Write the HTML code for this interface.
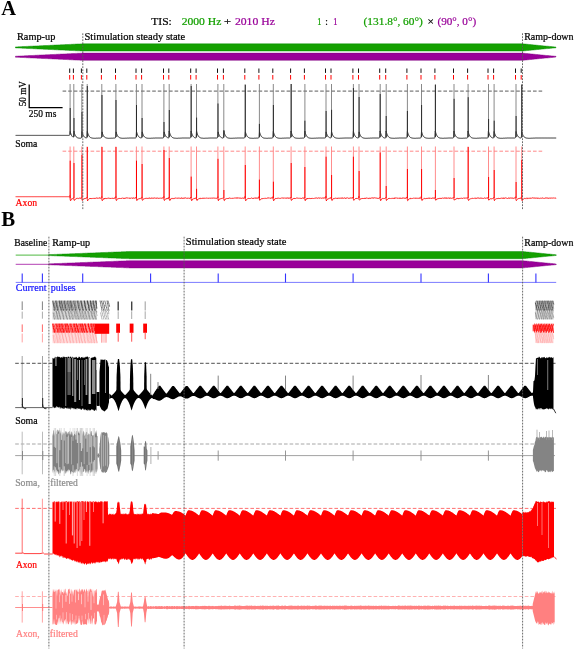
<!DOCTYPE html>
<html><head><meta charset="utf-8"><title>TIS figure</title>
<style>
html,body{margin:0;padding:0;background:#fff;}
body{width:575px;height:649px;overflow:hidden;}
svg{display:block;font-family:'Liberation Serif', serif;}
</style></head>
<body>
<svg width="575" height="649" viewBox="0 0 575 649">
<rect width="575" height="649" fill="#fff"/>
<text x="1.2" y="14.7" font-size="20" fill="#000" textLength="14.8" lengthAdjust="spacingAndGlyphs" font-weight="bold" >A</text>
<text x="151.3" y="25.3" font-size="11" fill="#000" stroke="#000" stroke-width="0.22" textLength="20.5" lengthAdjust="spacingAndGlyphs" >TIS:</text>
<text x="181.7" y="25.3" font-size="11" fill="#14a000" stroke="#14a000" stroke-width="0.22" textLength="39.7" lengthAdjust="spacingAndGlyphs" >2000 Hz</text>
<text x="224" y="25.3" font-size="11" fill="#000" stroke="#000" stroke-width="0.22" textLength="7" lengthAdjust="spacingAndGlyphs" >+</text>
<text x="234.9" y="25.3" font-size="11" fill="#990099" stroke="#990099" stroke-width="0.22" textLength="40" lengthAdjust="spacingAndGlyphs" >2010 Hz</text>
<text x="317.3" y="25.3" font-size="11" fill="#14a000" stroke="#14a000" stroke-width="0.22" textLength="4.2" lengthAdjust="spacingAndGlyphs" >1</text>
<text x="325.2" y="25.3" font-size="11" fill="#000" stroke="#000" stroke-width="0.22" textLength="2.6" lengthAdjust="spacingAndGlyphs" >:</text>
<text x="333.2" y="25.3" font-size="11" fill="#990099" stroke="#990099" stroke-width="0.22" textLength="4.2" lengthAdjust="spacingAndGlyphs" >1</text>
<text x="363.6" y="25.3" font-size="11" fill="#14a000" stroke="#14a000" stroke-width="0.22" textLength="59.2" lengthAdjust="spacingAndGlyphs" >(131.8°, 60°)</text>
<text x="427.4" y="25.3" font-size="11" fill="#000" stroke="#000" stroke-width="0.22" textLength="6.4" lengthAdjust="spacingAndGlyphs" >×</text>
<text x="437.5" y="25.3" font-size="11" fill="#990099" stroke="#990099" stroke-width="0.22" textLength="38.6" lengthAdjust="spacingAndGlyphs" >(90°, 0°)</text>
<text x="17" y="39.8" font-size="10.4" fill="#000" stroke="#000" stroke-width="0.22" textLength="38.3" lengthAdjust="spacingAndGlyphs" >Ramp-up</text>
<text x="84.5" y="39.5" font-size="10.4" fill="#000" stroke="#000" stroke-width="0.22" textLength="100.7" lengthAdjust="spacingAndGlyphs" >Stimulation steady state</text>
<text x="524.2" y="39.8" font-size="10.4" fill="#000" stroke="#000" stroke-width="0.22" textLength="49.4" lengthAdjust="spacingAndGlyphs" >Ramp-down</text>
<path d="M15.5,46.9 16,46.9 16.5,46.9 17,46.9 17.5,46.9 18,46.8 18.5,46.8 19,46.8 19.5,46.8 20,46.7 20.5,46.7 21,46.7 21.5,46.7 22,46.6 22.5,46.6 23,46.6 23.5,46.6 24,46.6 24.5,46.5 25,46.5 25.5,46.5 26,46.5 26.5,46.4 27,46.4 27.5,46.4 28,46.4 28.5,46.3 29,46.3 29.5,46.3 30,46.3 30.5,46.2 31,46.2 31.5,46.2 32,46.2 32.5,46.2 33,46.1 33.5,46.1 34,46.1 34.5,46.1 35,46 35.5,46 36,46 36.5,46 37,45.9 37.5,45.9 38,45.9 38.5,45.9 39,45.9 39.5,45.8 40,45.8 40.5,45.8 41,45.8 41.5,45.7 42,45.7 42.5,45.7 43,45.7 43.5,45.6 44,45.6 44.5,45.6 45,45.6 45.5,45.5 46,45.5 46.5,45.5 47,45.5 47.5,45.5 48,45.4 48.5,45.4 49,45.4 49.5,45.4 50,45.3 50.5,45.3 51,45.3 51.5,45.3 52,45.2 52.5,45.2 53,45.2 53.5,45.2 54,45.1 54.5,45.1 55,45.1 55.5,45.1 56,45.1 56.5,45 57,45 57.5,45 58,45 58.5,44.9 59,44.9 59.5,44.9 60,44.9 60.5,44.8 61,44.8 61.5,44.8 62,44.8 62.5,44.8 63,44.7 63.5,44.7 64,44.7 64.5,44.7 65,44.6 65.5,44.6 66,44.6 66.5,44.6 67,44.5 67.5,44.5 68,44.5 68.5,44.5 69,44.4 69.5,44.4 70,44.4 70.5,44.4 71,44.4 71.5,44.3 72,44.3 72.5,44.3 73,44.3 73.5,44.2 74,44.2 74.5,44.2 75,44.2 75.5,44.1 76,44.1 76.5,44.1 77,44.1 77.5,44 78,44 78.5,44 79,44 79.5,44 80,43.9 80.5,43.9 81,43.9 81.5,43.9 82,43.8 82.5,43.8 83,43.8 83.5,43.8 84,43.8 84.5,43.8 85,43.8 85.5,43.8 86,43.8 86.5,43.8 87,43.8 87.5,43.8 88,43.8 88.5,43.8 89,43.8 89.5,43.8 90,43.8 90.5,43.8 91,43.8 91.5,43.8 92,43.8 92.5,43.8 93,43.8 93.5,43.8 94,43.8 94.5,43.8 95,43.8 95.5,43.8 96,43.8 96.5,43.8 97,43.8 97.5,43.8 98,43.8 98.5,43.8 99,43.8 99.5,43.8 100,43.8 100.5,43.8 101,43.8 101.5,43.8 102,43.8 102.5,43.8 103,43.8 103.5,43.8 104,43.8 104.5,43.8 105,43.8 105.5,43.8 106,43.8 106.5,43.8 107,43.8 107.5,43.8 108,43.8 108.5,43.8 109,43.8 109.5,43.8 110,43.8 110.5,43.8 111,43.8 111.5,43.8 112,43.8 112.5,43.8 113,43.8 113.5,43.8 114,43.8 114.5,43.8 115,43.8 115.5,43.8 116,43.8 116.5,43.8 117,43.8 117.5,43.8 118,43.8 118.5,43.8 119,43.8 119.5,43.8 120,43.8 120.5,43.8 121,43.8 121.5,43.8 122,43.8 122.5,43.8 123,43.8 123.5,43.8 124,43.8 124.5,43.8 125,43.8 125.5,43.8 126,43.8 126.5,43.8 127,43.8 127.5,43.8 128,43.8 128.5,43.8 129,43.8 129.5,43.8 130,43.8 130.5,43.8 131,43.8 131.5,43.8 132,43.8 132.5,43.8 133,43.8 133.5,43.8 134,43.8 134.5,43.8 135,43.8 135.5,43.8 136,43.8 136.5,43.8 137,43.8 137.5,43.8 138,43.8 138.5,43.8 139,43.8 139.5,43.8 140,43.8 140.5,43.8 141,43.8 141.5,43.8 142,43.8 142.5,43.8 143,43.8 143.5,43.8 144,43.8 144.5,43.8 145,43.8 145.5,43.8 146,43.8 146.5,43.8 147,43.8 147.5,43.8 148,43.8 148.5,43.8 149,43.8 149.5,43.8 150,43.8 150.5,43.8 151,43.8 151.5,43.8 152,43.8 152.5,43.8 153,43.8 153.5,43.8 154,43.8 154.5,43.8 155,43.8 155.5,43.8 156,43.8 156.5,43.8 157,43.8 157.5,43.8 158,43.8 158.5,43.8 159,43.8 159.5,43.8 160,43.8 160.5,43.8 161,43.8 161.5,43.8 162,43.8 162.5,43.8 163,43.8 163.5,43.8 164,43.8 164.5,43.8 165,43.8 165.5,43.8 166,43.8 166.5,43.8 167,43.8 167.5,43.8 168,43.8 168.5,43.8 169,43.8 169.5,43.8 170,43.8 170.5,43.8 171,43.8 171.5,43.8 172,43.8 172.5,43.8 173,43.8 173.5,43.8 174,43.8 174.5,43.8 175,43.8 175.5,43.8 176,43.8 176.5,43.8 177,43.8 177.5,43.8 178,43.8 178.5,43.8 179,43.8 179.5,43.8 180,43.8 180.5,43.8 181,43.8 181.5,43.8 182,43.8 182.5,43.8 183,43.8 183.5,43.8 184,43.8 184.5,43.8 185,43.8 185.5,43.8 186,43.8 186.5,43.8 187,43.8 187.5,43.8 188,43.8 188.5,43.8 189,43.8 189.5,43.8 190,43.8 190.5,43.8 191,43.8 191.5,43.8 192,43.8 192.5,43.8 193,43.8 193.5,43.8 194,43.8 194.5,43.8 195,43.8 195.5,43.8 196,43.8 196.5,43.8 197,43.8 197.5,43.8 198,43.8 198.5,43.8 199,43.8 199.5,43.8 200,43.8 200.5,43.8 201,43.8 201.5,43.8 202,43.8 202.5,43.8 203,43.8 203.5,43.8 204,43.8 204.5,43.8 205,43.8 205.5,43.8 206,43.8 206.5,43.8 207,43.8 207.5,43.8 208,43.8 208.5,43.8 209,43.8 209.5,43.8 210,43.8 210.5,43.8 211,43.8 211.5,43.8 212,43.8 212.5,43.8 213,43.8 213.5,43.8 214,43.8 214.5,43.8 215,43.8 215.5,43.8 216,43.8 216.5,43.8 217,43.8 217.5,43.8 218,43.8 218.5,43.8 219,43.8 219.5,43.8 220,43.8 220.5,43.8 221,43.8 221.5,43.8 222,43.8 222.5,43.8 223,43.8 223.5,43.8 224,43.8 224.5,43.8 225,43.8 225.5,43.8 226,43.8 226.5,43.8 227,43.8 227.5,43.8 228,43.8 228.5,43.8 229,43.8 229.5,43.8 230,43.8 230.5,43.8 231,43.8 231.5,43.8 232,43.8 232.5,43.8 233,43.8 233.5,43.8 234,43.8 234.5,43.8 235,43.8 235.5,43.8 236,43.8 236.5,43.8 237,43.8 237.5,43.8 238,43.8 238.5,43.8 239,43.8 239.5,43.8 240,43.8 240.5,43.8 241,43.8 241.5,43.8 242,43.8 242.5,43.8 243,43.8 243.5,43.8 244,43.8 244.5,43.8 245,43.8 245.5,43.8 246,43.8 246.5,43.8 247,43.8 247.5,43.8 248,43.8 248.5,43.8 249,43.8 249.5,43.8 250,43.8 250.5,43.8 251,43.8 251.5,43.8 252,43.8 252.5,43.8 253,43.8 253.5,43.8 254,43.8 254.5,43.8 255,43.8 255.5,43.8 256,43.8 256.5,43.8 257,43.8 257.5,43.8 258,43.8 258.5,43.8 259,43.8 259.5,43.8 260,43.8 260.5,43.8 261,43.8 261.5,43.8 262,43.8 262.5,43.8 263,43.8 263.5,43.8 264,43.8 264.5,43.8 265,43.8 265.5,43.8 266,43.8 266.5,43.8 267,43.8 267.5,43.8 268,43.8 268.5,43.8 269,43.8 269.5,43.8 270,43.8 270.5,43.8 271,43.8 271.5,43.8 272,43.8 272.5,43.8 273,43.8 273.5,43.8 274,43.8 274.5,43.8 275,43.8 275.5,43.8 276,43.8 276.5,43.8 277,43.8 277.5,43.8 278,43.8 278.5,43.8 279,43.8 279.5,43.8 280,43.8 280.5,43.8 281,43.8 281.5,43.8 282,43.8 282.5,43.8 283,43.8 283.5,43.8 284,43.8 284.5,43.8 285,43.8 285.5,43.8 286,43.8 286.5,43.8 287,43.8 287.5,43.8 288,43.8 288.5,43.8 289,43.8 289.5,43.8 290,43.8 290.5,43.8 291,43.8 291.5,43.8 292,43.8 292.5,43.8 293,43.8 293.5,43.8 294,43.8 294.5,43.8 295,43.8 295.5,43.8 296,43.8 296.5,43.8 297,43.8 297.5,43.8 298,43.8 298.5,43.8 299,43.8 299.5,43.8 300,43.8 300.5,43.8 301,43.8 301.5,43.8 302,43.8 302.5,43.8 303,43.8 303.5,43.8 304,43.8 304.5,43.8 305,43.8 305.5,43.8 306,43.8 306.5,43.8 307,43.8 307.5,43.8 308,43.8 308.5,43.8 309,43.8 309.5,43.8 310,43.8 310.5,43.8 311,43.8 311.5,43.8 312,43.8 312.5,43.8 313,43.8 313.5,43.8 314,43.8 314.5,43.8 315,43.8 315.5,43.8 316,43.8 316.5,43.8 317,43.8 317.5,43.8 318,43.8 318.5,43.8 319,43.8 319.5,43.8 320,43.8 320.5,43.8 321,43.8 321.5,43.8 322,43.8 322.5,43.8 323,43.8 323.5,43.8 324,43.8 324.5,43.8 325,43.8 325.5,43.8 326,43.8 326.5,43.8 327,43.8 327.5,43.8 328,43.8 328.5,43.8 329,43.8 329.5,43.8 330,43.8 330.5,43.8 331,43.8 331.5,43.8 332,43.8 332.5,43.8 333,43.8 333.5,43.8 334,43.8 334.5,43.8 335,43.8 335.5,43.8 336,43.8 336.5,43.8 337,43.8 337.5,43.8 338,43.8 338.5,43.8 339,43.8 339.5,43.8 340,43.8 340.5,43.8 341,43.8 341.5,43.8 342,43.8 342.5,43.8 343,43.8 343.5,43.8 344,43.8 344.5,43.8 345,43.8 345.5,43.8 346,43.8 346.5,43.8 347,43.8 347.5,43.8 348,43.8 348.5,43.8 349,43.8 349.5,43.8 350,43.8 350.5,43.8 351,43.8 351.5,43.8 352,43.8 352.5,43.8 353,43.8 353.5,43.8 354,43.8 354.5,43.8 355,43.8 355.5,43.8 356,43.8 356.5,43.8 357,43.8 357.5,43.8 358,43.8 358.5,43.8 359,43.8 359.5,43.8 360,43.8 360.5,43.8 361,43.8 361.5,43.8 362,43.8 362.5,43.8 363,43.8 363.5,43.8 364,43.8 364.5,43.8 365,43.8 365.5,43.8 366,43.8 366.5,43.8 367,43.8 367.5,43.8 368,43.8 368.5,43.8 369,43.8 369.5,43.8 370,43.8 370.5,43.8 371,43.8 371.5,43.8 372,43.8 372.5,43.8 373,43.8 373.5,43.8 374,43.8 374.5,43.8 375,43.8 375.5,43.8 376,43.8 376.5,43.8 377,43.8 377.5,43.8 378,43.8 378.5,43.8 379,43.8 379.5,43.8 380,43.8 380.5,43.8 381,43.8 381.5,43.8 382,43.8 382.5,43.8 383,43.8 383.5,43.8 384,43.8 384.5,43.8 385,43.8 385.5,43.8 386,43.8 386.5,43.8 387,43.8 387.5,43.8 388,43.8 388.5,43.8 389,43.8 389.5,43.8 390,43.8 390.5,43.8 391,43.8 391.5,43.8 392,43.8 392.5,43.8 393,43.8 393.5,43.8 394,43.8 394.5,43.8 395,43.8 395.5,43.8 396,43.8 396.5,43.8 397,43.8 397.5,43.8 398,43.8 398.5,43.8 399,43.8 399.5,43.8 400,43.8 400.5,43.8 401,43.8 401.5,43.8 402,43.8 402.5,43.8 403,43.8 403.5,43.8 404,43.8 404.5,43.8 405,43.8 405.5,43.8 406,43.8 406.5,43.8 407,43.8 407.5,43.8 408,43.8 408.5,43.8 409,43.8 409.5,43.8 410,43.8 410.5,43.8 411,43.8 411.5,43.8 412,43.8 412.5,43.8 413,43.8 413.5,43.8 414,43.8 414.5,43.8 415,43.8 415.5,43.8 416,43.8 416.5,43.8 417,43.8 417.5,43.8 418,43.8 418.5,43.8 419,43.8 419.5,43.8 420,43.8 420.5,43.8 421,43.8 421.5,43.8 422,43.8 422.5,43.8 423,43.8 423.5,43.8 424,43.8 424.5,43.8 425,43.8 425.5,43.8 426,43.8 426.5,43.8 427,43.8 427.5,43.8 428,43.8 428.5,43.8 429,43.8 429.5,43.8 430,43.8 430.5,43.8 431,43.8 431.5,43.8 432,43.8 432.5,43.8 433,43.8 433.5,43.8 434,43.8 434.5,43.8 435,43.8 435.5,43.8 436,43.8 436.5,43.8 437,43.8 437.5,43.8 438,43.8 438.5,43.8 439,43.8 439.5,43.8 440,43.8 440.5,43.8 441,43.8 441.5,43.8 442,43.8 442.5,43.8 443,43.8 443.5,43.8 444,43.8 444.5,43.8 445,43.8 445.5,43.8 446,43.8 446.5,43.8 447,43.8 447.5,43.8 448,43.8 448.5,43.8 449,43.8 449.5,43.8 450,43.8 450.5,43.8 451,43.8 451.5,43.8 452,43.8 452.5,43.8 453,43.8 453.5,43.8 454,43.8 454.5,43.8 455,43.8 455.5,43.8 456,43.8 456.5,43.8 457,43.8 457.5,43.8 458,43.8 458.5,43.8 459,43.8 459.5,43.8 460,43.8 460.5,43.8 461,43.8 461.5,43.8 462,43.8 462.5,43.8 463,43.8 463.5,43.8 464,43.8 464.5,43.8 465,43.8 465.5,43.8 466,43.8 466.5,43.8 467,43.8 467.5,43.8 468,43.8 468.5,43.8 469,43.8 469.5,43.8 470,43.8 470.5,43.8 471,43.8 471.5,43.8 472,43.8 472.5,43.8 473,43.8 473.5,43.8 474,43.8 474.5,43.8 475,43.8 475.5,43.8 476,43.8 476.5,43.8 477,43.8 477.5,43.8 478,43.8 478.5,43.8 479,43.8 479.5,43.8 480,43.8 480.5,43.8 481,43.8 481.5,43.8 482,43.8 482.5,43.8 483,43.8 483.5,43.8 484,43.8 484.5,43.8 485,43.8 485.5,43.8 486,43.8 486.5,43.8 487,43.8 487.5,43.8 488,43.8 488.5,43.8 489,43.8 489.5,43.8 490,43.8 490.5,43.8 491,43.8 491.5,43.8 492,43.8 492.5,43.8 493,43.8 493.5,43.8 494,43.8 494.5,43.8 495,43.8 495.5,43.8 496,43.8 496.5,43.8 497,43.8 497.5,43.8 498,43.8 498.5,43.8 499,43.8 499.5,43.8 500,43.8 500.5,43.8 501,43.8 501.5,43.8 502,43.8 502.5,43.8 503,43.8 503.5,43.8 504,43.8 504.5,43.8 505,43.8 505.5,43.8 506,43.8 506.5,43.8 507,43.8 507.5,43.8 508,43.8 508.5,43.8 509,43.8 509.5,43.8 510,43.8 510.5,43.8 511,43.8 511.5,43.8 512,43.8 512.5,43.8 513,43.8 513.5,43.8 514,43.8 514.5,43.8 515,43.8 515.5,43.8 516,43.8 516.5,43.8 517,43.8 517.5,43.8 518,43.8 518.5,43.8 519,43.8 519.5,43.8 520,43.8 520.5,43.8 521,43.8 521.5,43.8 522,43.8 522.5,43.8 523,43.8 523.5,43.9 524,43.9 524.5,44 525,44 525.5,44.1 526,44.1 526.5,44.2 527,44.2 527.5,44.3 528,44.3 528.5,44.4 529,44.4 529.5,44.5 530,44.5 530.5,44.6 531,44.6 531.5,44.7 532,44.7 532.5,44.8 533,44.8 533.5,44.9 534,44.9 534.5,45 535,45 535.5,45.1 536,45.1 536.5,45.2 537,45.2 537.5,45.3 538,45.3 538.5,45.4 539,45.4 539.5,45.5 540,45.5 540.5,45.6 541,45.6 541.5,45.7 542,45.7 542.5,45.8 543,45.8 543.5,45.9 544,45.9 544.5,46 545,46 545.5,46.1 546,46.1 546.5,46.2 547,46.2 547.5,46.2 548,46.3 548.5,46.3 549,46.4 549.5,46.4 550,46.5 550.5,46.5 551,46.6 551.5,46.6 552,46.7 552.5,46.7 553,46.8 553.5,46.8 554,46.9 554.5,46.9 555,47 555.5,47 556,47.1 556,47.7 555.5,47.8 555,47.8 554.5,47.9 554,47.9 553.5,48 553,48 552.5,48.1 552,48.1 551.5,48.2 551,48.2 550.5,48.3 550,48.3 549.5,48.4 549,48.4 548.5,48.5 548,48.5 547.5,48.6 547,48.6 546.5,48.6 546,48.7 545.5,48.7 545,48.8 544.5,48.8 544,48.9 543.5,48.9 543,49 542.5,49 542,49.1 541.5,49.1 541,49.2 540.5,49.2 540,49.3 539.5,49.3 539,49.4 538.5,49.4 538,49.5 537.5,49.5 537,49.6 536.5,49.6 536,49.7 535.5,49.7 535,49.8 534.5,49.8 534,49.9 533.5,49.9 533,50 532.5,50 532,50.1 531.5,50.1 531,50.2 530.5,50.2 530,50.3 529.5,50.3 529,50.4 528.5,50.4 528,50.5 527.5,50.5 527,50.6 526.5,50.6 526,50.7 525.5,50.7 525,50.8 524.5,50.8 524,50.9 523.5,50.9 523,51 522.5,51 522,51 521.5,51 521,51 520.5,51 520,51 519.5,51 519,51 518.5,51 518,51 517.5,51 517,51 516.5,51 516,51 515.5,51 515,51 514.5,51 514,51 513.5,51 513,51 512.5,51 512,51 511.5,51 511,51 510.5,51 510,51 509.5,51 509,51 508.5,51 508,51 507.5,51 507,51 506.5,51 506,51 505.5,51 505,51 504.5,51 504,51 503.5,51 503,51 502.5,51 502,51 501.5,51 501,51 500.5,51 500,51 499.5,51 499,51 498.5,51 498,51 497.5,51 497,51 496.5,51 496,51 495.5,51 495,51 494.5,51 494,51 493.5,51 493,51 492.5,51 492,51 491.5,51 491,51 490.5,51 490,51 489.5,51 489,51 488.5,51 488,51 487.5,51 487,51 486.5,51 486,51 485.5,51 485,51 484.5,51 484,51 483.5,51 483,51 482.5,51 482,51 481.5,51 481,51 480.5,51 480,51 479.5,51 479,51 478.5,51 478,51 477.5,51 477,51 476.5,51 476,51 475.5,51 475,51 474.5,51 474,51 473.5,51 473,51 472.5,51 472,51 471.5,51 471,51 470.5,51 470,51 469.5,51 469,51 468.5,51 468,51 467.5,51 467,51 466.5,51 466,51 465.5,51 465,51 464.5,51 464,51 463.5,51 463,51 462.5,51 462,51 461.5,51 461,51 460.5,51 460,51 459.5,51 459,51 458.5,51 458,51 457.5,51 457,51 456.5,51 456,51 455.5,51 455,51 454.5,51 454,51 453.5,51 453,51 452.5,51 452,51 451.5,51 451,51 450.5,51 450,51 449.5,51 449,51 448.5,51 448,51 447.5,51 447,51 446.5,51 446,51 445.5,51 445,51 444.5,51 444,51 443.5,51 443,51 442.5,51 442,51 441.5,51 441,51 440.5,51 440,51 439.5,51 439,51 438.5,51 438,51 437.5,51 437,51 436.5,51 436,51 435.5,51 435,51 434.5,51 434,51 433.5,51 433,51 432.5,51 432,51 431.5,51 431,51 430.5,51 430,51 429.5,51 429,51 428.5,51 428,51 427.5,51 427,51 426.5,51 426,51 425.5,51 425,51 424.5,51 424,51 423.5,51 423,51 422.5,51 422,51 421.5,51 421,51 420.5,51 420,51 419.5,51 419,51 418.5,51 418,51 417.5,51 417,51 416.5,51 416,51 415.5,51 415,51 414.5,51 414,51 413.5,51 413,51 412.5,51 412,51 411.5,51 411,51 410.5,51 410,51 409.5,51 409,51 408.5,51 408,51 407.5,51 407,51 406.5,51 406,51 405.5,51 405,51 404.5,51 404,51 403.5,51 403,51 402.5,51 402,51 401.5,51 401,51 400.5,51 400,51 399.5,51 399,51 398.5,51 398,51 397.5,51 397,51 396.5,51 396,51 395.5,51 395,51 394.5,51 394,51 393.5,51 393,51 392.5,51 392,51 391.5,51 391,51 390.5,51 390,51 389.5,51 389,51 388.5,51 388,51 387.5,51 387,51 386.5,51 386,51 385.5,51 385,51 384.5,51 384,51 383.5,51 383,51 382.5,51 382,51 381.5,51 381,51 380.5,51 380,51 379.5,51 379,51 378.5,51 378,51 377.5,51 377,51 376.5,51 376,51 375.5,51 375,51 374.5,51 374,51 373.5,51 373,51 372.5,51 372,51 371.5,51 371,51 370.5,51 370,51 369.5,51 369,51 368.5,51 368,51 367.5,51 367,51 366.5,51 366,51 365.5,51 365,51 364.5,51 364,51 363.5,51 363,51 362.5,51 362,51 361.5,51 361,51 360.5,51 360,51 359.5,51 359,51 358.5,51 358,51 357.5,51 357,51 356.5,51 356,51 355.5,51 355,51 354.5,51 354,51 353.5,51 353,51 352.5,51 352,51 351.5,51 351,51 350.5,51 350,51 349.5,51 349,51 348.5,51 348,51 347.5,51 347,51 346.5,51 346,51 345.5,51 345,51 344.5,51 344,51 343.5,51 343,51 342.5,51 342,51 341.5,51 341,51 340.5,51 340,51 339.5,51 339,51 338.5,51 338,51 337.5,51 337,51 336.5,51 336,51 335.5,51 335,51 334.5,51 334,51 333.5,51 333,51 332.5,51 332,51 331.5,51 331,51 330.5,51 330,51 329.5,51 329,51 328.5,51 328,51 327.5,51 327,51 326.5,51 326,51 325.5,51 325,51 324.5,51 324,51 323.5,51 323,51 322.5,51 322,51 321.5,51 321,51 320.5,51 320,51 319.5,51 319,51 318.5,51 318,51 317.5,51 317,51 316.5,51 316,51 315.5,51 315,51 314.5,51 314,51 313.5,51 313,51 312.5,51 312,51 311.5,51 311,51 310.5,51 310,51 309.5,51 309,51 308.5,51 308,51 307.5,51 307,51 306.5,51 306,51 305.5,51 305,51 304.5,51 304,51 303.5,51 303,51 302.5,51 302,51 301.5,51 301,51 300.5,51 300,51 299.5,51 299,51 298.5,51 298,51 297.5,51 297,51 296.5,51 296,51 295.5,51 295,51 294.5,51 294,51 293.5,51 293,51 292.5,51 292,51 291.5,51 291,51 290.5,51 290,51 289.5,51 289,51 288.5,51 288,51 287.5,51 287,51 286.5,51 286,51 285.5,51 285,51 284.5,51 284,51 283.5,51 283,51 282.5,51 282,51 281.5,51 281,51 280.5,51 280,51 279.5,51 279,51 278.5,51 278,51 277.5,51 277,51 276.5,51 276,51 275.5,51 275,51 274.5,51 274,51 273.5,51 273,51 272.5,51 272,51 271.5,51 271,51 270.5,51 270,51 269.5,51 269,51 268.5,51 268,51 267.5,51 267,51 266.5,51 266,51 265.5,51 265,51 264.5,51 264,51 263.5,51 263,51 262.5,51 262,51 261.5,51 261,51 260.5,51 260,51 259.5,51 259,51 258.5,51 258,51 257.5,51 257,51 256.5,51 256,51 255.5,51 255,51 254.5,51 254,51 253.5,51 253,51 252.5,51 252,51 251.5,51 251,51 250.5,51 250,51 249.5,51 249,51 248.5,51 248,51 247.5,51 247,51 246.5,51 246,51 245.5,51 245,51 244.5,51 244,51 243.5,51 243,51 242.5,51 242,51 241.5,51 241,51 240.5,51 240,51 239.5,51 239,51 238.5,51 238,51 237.5,51 237,51 236.5,51 236,51 235.5,51 235,51 234.5,51 234,51 233.5,51 233,51 232.5,51 232,51 231.5,51 231,51 230.5,51 230,51 229.5,51 229,51 228.5,51 228,51 227.5,51 227,51 226.5,51 226,51 225.5,51 225,51 224.5,51 224,51 223.5,51 223,51 222.5,51 222,51 221.5,51 221,51 220.5,51 220,51 219.5,51 219,51 218.5,51 218,51 217.5,51 217,51 216.5,51 216,51 215.5,51 215,51 214.5,51 214,51 213.5,51 213,51 212.5,51 212,51 211.5,51 211,51 210.5,51 210,51 209.5,51 209,51 208.5,51 208,51 207.5,51 207,51 206.5,51 206,51 205.5,51 205,51 204.5,51 204,51 203.5,51 203,51 202.5,51 202,51 201.5,51 201,51 200.5,51 200,51 199.5,51 199,51 198.5,51 198,51 197.5,51 197,51 196.5,51 196,51 195.5,51 195,51 194.5,51 194,51 193.5,51 193,51 192.5,51 192,51 191.5,51 191,51 190.5,51 190,51 189.5,51 189,51 188.5,51 188,51 187.5,51 187,51 186.5,51 186,51 185.5,51 185,51 184.5,51 184,51 183.5,51 183,51 182.5,51 182,51 181.5,51 181,51 180.5,51 180,51 179.5,51 179,51 178.5,51 178,51 177.5,51 177,51 176.5,51 176,51 175.5,51 175,51 174.5,51 174,51 173.5,51 173,51 172.5,51 172,51 171.5,51 171,51 170.5,51 170,51 169.5,51 169,51 168.5,51 168,51 167.5,51 167,51 166.5,51 166,51 165.5,51 165,51 164.5,51 164,51 163.5,51 163,51 162.5,51 162,51 161.5,51 161,51 160.5,51 160,51 159.5,51 159,51 158.5,51 158,51 157.5,51 157,51 156.5,51 156,51 155.5,51 155,51 154.5,51 154,51 153.5,51 153,51 152.5,51 152,51 151.5,51 151,51 150.5,51 150,51 149.5,51 149,51 148.5,51 148,51 147.5,51 147,51 146.5,51 146,51 145.5,51 145,51 144.5,51 144,51 143.5,51 143,51 142.5,51 142,51 141.5,51 141,51 140.5,51 140,51 139.5,51 139,51 138.5,51 138,51 137.5,51 137,51 136.5,51 136,51 135.5,51 135,51 134.5,51 134,51 133.5,51 133,51 132.5,51 132,51 131.5,51 131,51 130.5,51 130,51 129.5,51 129,51 128.5,51 128,51 127.5,51 127,51 126.5,51 126,51 125.5,51 125,51 124.5,51 124,51 123.5,51 123,51 122.5,51 122,51 121.5,51 121,51 120.5,51 120,51 119.5,51 119,51 118.5,51 118,51 117.5,51 117,51 116.5,51 116,51 115.5,51 115,51 114.5,51 114,51 113.5,51 113,51 112.5,51 112,51 111.5,51 111,51 110.5,51 110,51 109.5,51 109,51 108.5,51 108,51 107.5,51 107,51 106.5,51 106,51 105.5,51 105,51 104.5,51 104,51 103.5,51 103,51 102.5,51 102,51 101.5,51 101,51 100.5,51 100,51 99.5,51 99,51 98.5,51 98,51 97.5,51 97,51 96.5,51 96,51 95.5,51 95,51 94.5,51 94,51 93.5,51 93,51 92.5,51 92,51 91.5,51 91,51 90.5,51 90,51 89.5,51 89,51 88.5,51 88,51 87.5,51 87,51 86.5,51 86,51 85.5,51 85,51 84.5,51 84,51 83.5,51 83,51 82.5,51 82,51 81.5,50.9 81,50.9 80.5,50.9 80,50.9 79.5,50.8 79,50.8 78.5,50.8 78,50.8 77.5,50.8 77,50.7 76.5,50.7 76,50.7 75.5,50.7 75,50.6 74.5,50.6 74,50.6 73.5,50.6 73,50.5 72.5,50.5 72,50.5 71.5,50.5 71,50.4 70.5,50.4 70,50.4 69.5,50.4 69,50.4 68.5,50.3 68,50.3 67.5,50.3 67,50.3 66.5,50.2 66,50.2 65.5,50.2 65,50.2 64.5,50.1 64,50.1 63.5,50.1 63,50.1 62.5,50 62,50 61.5,50 61,50 60.5,50 60,49.9 59.5,49.9 59,49.9 58.5,49.9 58,49.8 57.5,49.8 57,49.8 56.5,49.8 56,49.7 55.5,49.7 55,49.7 54.5,49.7 54,49.7 53.5,49.6 53,49.6 52.5,49.6 52,49.6 51.5,49.5 51,49.5 50.5,49.5 50,49.5 49.5,49.4 49,49.4 48.5,49.4 48,49.4 47.5,49.3 47,49.3 46.5,49.3 46,49.3 45.5,49.3 45,49.2 44.5,49.2 44,49.2 43.5,49.2 43,49.1 42.5,49.1 42,49.1 41.5,49.1 41,49 40.5,49 40,49 39.5,49 39,48.9 38.5,48.9 38,48.9 37.5,48.9 37,48.9 36.5,48.8 36,48.8 35.5,48.8 35,48.8 34.5,48.7 34,48.7 33.5,48.7 33,48.7 32.5,48.6 32,48.6 31.5,48.6 31,48.6 30.5,48.6 30,48.5 29.5,48.5 29,48.5 28.5,48.5 28,48.4 27.5,48.4 27,48.4 26.5,48.4 26,48.3 25.5,48.3 25,48.3 24.5,48.3 24,48.2 23.5,48.2 23,48.2 22.5,48.2 22,48.2 21.5,48.1 21,48.1 20.5,48.1 20,48.1 19.5,48 19,48 18.5,48 18,48 17.5,47.9 17,47.9 16.5,47.9 16,47.9 15.5,47.9Z" fill="#14a000" stroke="#008a00" stroke-width="0.5"/>
<path d="M15.5,56.2 16,56.2 16.5,56.2 17,56.2 17.5,56.2 18,56.1 18.5,56.1 19,56.1 19.5,56.1 20,56 20.5,56 21,56 21.5,56 22,55.9 22.5,55.9 23,55.9 23.5,55.9 24,55.9 24.5,55.8 25,55.8 25.5,55.8 26,55.8 26.5,55.7 27,55.7 27.5,55.7 28,55.7 28.5,55.6 29,55.6 29.5,55.6 30,55.6 30.5,55.5 31,55.5 31.5,55.5 32,55.5 32.5,55.5 33,55.4 33.5,55.4 34,55.4 34.5,55.4 35,55.3 35.5,55.3 36,55.3 36.5,55.3 37,55.2 37.5,55.2 38,55.2 38.5,55.2 39,55.2 39.5,55.1 40,55.1 40.5,55.1 41,55.1 41.5,55 42,55 42.5,55 43,55 43.5,54.9 44,54.9 44.5,54.9 45,54.9 45.5,54.8 46,54.8 46.5,54.8 47,54.8 47.5,54.8 48,54.7 48.5,54.7 49,54.7 49.5,54.7 50,54.6 50.5,54.6 51,54.6 51.5,54.6 52,54.5 52.5,54.5 53,54.5 53.5,54.5 54,54.4 54.5,54.4 55,54.4 55.5,54.4 56,54.4 56.5,54.3 57,54.3 57.5,54.3 58,54.3 58.5,54.2 59,54.2 59.5,54.2 60,54.2 60.5,54.1 61,54.1 61.5,54.1 62,54.1 62.5,54.1 63,54 63.5,54 64,54 64.5,54 65,53.9 65.5,53.9 66,53.9 66.5,53.9 67,53.8 67.5,53.8 68,53.8 68.5,53.8 69,53.7 69.5,53.7 70,53.7 70.5,53.7 71,53.7 71.5,53.6 72,53.6 72.5,53.6 73,53.6 73.5,53.5 74,53.5 74.5,53.5 75,53.5 75.5,53.4 76,53.4 76.5,53.4 77,53.4 77.5,53.3 78,53.3 78.5,53.3 79,53.3 79.5,53.3 80,53.2 80.5,53.2 81,53.2 81.5,53.2 82,53.1 82.5,53.1 83,53.1 83.5,53.1 84,53.1 84.5,53.1 85,53.1 85.5,53.1 86,53.1 86.5,53.1 87,53.1 87.5,53.1 88,53.1 88.5,53.1 89,53.1 89.5,53.1 90,53.1 90.5,53.1 91,53.1 91.5,53.1 92,53.1 92.5,53.1 93,53.1 93.5,53.1 94,53.1 94.5,53.1 95,53.1 95.5,53.1 96,53.1 96.5,53.1 97,53.1 97.5,53.1 98,53.1 98.5,53.1 99,53.1 99.5,53.1 100,53.1 100.5,53.1 101,53.1 101.5,53.1 102,53.1 102.5,53.1 103,53.1 103.5,53.1 104,53.1 104.5,53.1 105,53.1 105.5,53.1 106,53.1 106.5,53.1 107,53.1 107.5,53.1 108,53.1 108.5,53.1 109,53.1 109.5,53.1 110,53.1 110.5,53.1 111,53.1 111.5,53.1 112,53.1 112.5,53.1 113,53.1 113.5,53.1 114,53.1 114.5,53.1 115,53.1 115.5,53.1 116,53.1 116.5,53.1 117,53.1 117.5,53.1 118,53.1 118.5,53.1 119,53.1 119.5,53.1 120,53.1 120.5,53.1 121,53.1 121.5,53.1 122,53.1 122.5,53.1 123,53.1 123.5,53.1 124,53.1 124.5,53.1 125,53.1 125.5,53.1 126,53.1 126.5,53.1 127,53.1 127.5,53.1 128,53.1 128.5,53.1 129,53.1 129.5,53.1 130,53.1 130.5,53.1 131,53.1 131.5,53.1 132,53.1 132.5,53.1 133,53.1 133.5,53.1 134,53.1 134.5,53.1 135,53.1 135.5,53.1 136,53.1 136.5,53.1 137,53.1 137.5,53.1 138,53.1 138.5,53.1 139,53.1 139.5,53.1 140,53.1 140.5,53.1 141,53.1 141.5,53.1 142,53.1 142.5,53.1 143,53.1 143.5,53.1 144,53.1 144.5,53.1 145,53.1 145.5,53.1 146,53.1 146.5,53.1 147,53.1 147.5,53.1 148,53.1 148.5,53.1 149,53.1 149.5,53.1 150,53.1 150.5,53.1 151,53.1 151.5,53.1 152,53.1 152.5,53.1 153,53.1 153.5,53.1 154,53.1 154.5,53.1 155,53.1 155.5,53.1 156,53.1 156.5,53.1 157,53.1 157.5,53.1 158,53.1 158.5,53.1 159,53.1 159.5,53.1 160,53.1 160.5,53.1 161,53.1 161.5,53.1 162,53.1 162.5,53.1 163,53.1 163.5,53.1 164,53.1 164.5,53.1 165,53.1 165.5,53.1 166,53.1 166.5,53.1 167,53.1 167.5,53.1 168,53.1 168.5,53.1 169,53.1 169.5,53.1 170,53.1 170.5,53.1 171,53.1 171.5,53.1 172,53.1 172.5,53.1 173,53.1 173.5,53.1 174,53.1 174.5,53.1 175,53.1 175.5,53.1 176,53.1 176.5,53.1 177,53.1 177.5,53.1 178,53.1 178.5,53.1 179,53.1 179.5,53.1 180,53.1 180.5,53.1 181,53.1 181.5,53.1 182,53.1 182.5,53.1 183,53.1 183.5,53.1 184,53.1 184.5,53.1 185,53.1 185.5,53.1 186,53.1 186.5,53.1 187,53.1 187.5,53.1 188,53.1 188.5,53.1 189,53.1 189.5,53.1 190,53.1 190.5,53.1 191,53.1 191.5,53.1 192,53.1 192.5,53.1 193,53.1 193.5,53.1 194,53.1 194.5,53.1 195,53.1 195.5,53.1 196,53.1 196.5,53.1 197,53.1 197.5,53.1 198,53.1 198.5,53.1 199,53.1 199.5,53.1 200,53.1 200.5,53.1 201,53.1 201.5,53.1 202,53.1 202.5,53.1 203,53.1 203.5,53.1 204,53.1 204.5,53.1 205,53.1 205.5,53.1 206,53.1 206.5,53.1 207,53.1 207.5,53.1 208,53.1 208.5,53.1 209,53.1 209.5,53.1 210,53.1 210.5,53.1 211,53.1 211.5,53.1 212,53.1 212.5,53.1 213,53.1 213.5,53.1 214,53.1 214.5,53.1 215,53.1 215.5,53.1 216,53.1 216.5,53.1 217,53.1 217.5,53.1 218,53.1 218.5,53.1 219,53.1 219.5,53.1 220,53.1 220.5,53.1 221,53.1 221.5,53.1 222,53.1 222.5,53.1 223,53.1 223.5,53.1 224,53.1 224.5,53.1 225,53.1 225.5,53.1 226,53.1 226.5,53.1 227,53.1 227.5,53.1 228,53.1 228.5,53.1 229,53.1 229.5,53.1 230,53.1 230.5,53.1 231,53.1 231.5,53.1 232,53.1 232.5,53.1 233,53.1 233.5,53.1 234,53.1 234.5,53.1 235,53.1 235.5,53.1 236,53.1 236.5,53.1 237,53.1 237.5,53.1 238,53.1 238.5,53.1 239,53.1 239.5,53.1 240,53.1 240.5,53.1 241,53.1 241.5,53.1 242,53.1 242.5,53.1 243,53.1 243.5,53.1 244,53.1 244.5,53.1 245,53.1 245.5,53.1 246,53.1 246.5,53.1 247,53.1 247.5,53.1 248,53.1 248.5,53.1 249,53.1 249.5,53.1 250,53.1 250.5,53.1 251,53.1 251.5,53.1 252,53.1 252.5,53.1 253,53.1 253.5,53.1 254,53.1 254.5,53.1 255,53.1 255.5,53.1 256,53.1 256.5,53.1 257,53.1 257.5,53.1 258,53.1 258.5,53.1 259,53.1 259.5,53.1 260,53.1 260.5,53.1 261,53.1 261.5,53.1 262,53.1 262.5,53.1 263,53.1 263.5,53.1 264,53.1 264.5,53.1 265,53.1 265.5,53.1 266,53.1 266.5,53.1 267,53.1 267.5,53.1 268,53.1 268.5,53.1 269,53.1 269.5,53.1 270,53.1 270.5,53.1 271,53.1 271.5,53.1 272,53.1 272.5,53.1 273,53.1 273.5,53.1 274,53.1 274.5,53.1 275,53.1 275.5,53.1 276,53.1 276.5,53.1 277,53.1 277.5,53.1 278,53.1 278.5,53.1 279,53.1 279.5,53.1 280,53.1 280.5,53.1 281,53.1 281.5,53.1 282,53.1 282.5,53.1 283,53.1 283.5,53.1 284,53.1 284.5,53.1 285,53.1 285.5,53.1 286,53.1 286.5,53.1 287,53.1 287.5,53.1 288,53.1 288.5,53.1 289,53.1 289.5,53.1 290,53.1 290.5,53.1 291,53.1 291.5,53.1 292,53.1 292.5,53.1 293,53.1 293.5,53.1 294,53.1 294.5,53.1 295,53.1 295.5,53.1 296,53.1 296.5,53.1 297,53.1 297.5,53.1 298,53.1 298.5,53.1 299,53.1 299.5,53.1 300,53.1 300.5,53.1 301,53.1 301.5,53.1 302,53.1 302.5,53.1 303,53.1 303.5,53.1 304,53.1 304.5,53.1 305,53.1 305.5,53.1 306,53.1 306.5,53.1 307,53.1 307.5,53.1 308,53.1 308.5,53.1 309,53.1 309.5,53.1 310,53.1 310.5,53.1 311,53.1 311.5,53.1 312,53.1 312.5,53.1 313,53.1 313.5,53.1 314,53.1 314.5,53.1 315,53.1 315.5,53.1 316,53.1 316.5,53.1 317,53.1 317.5,53.1 318,53.1 318.5,53.1 319,53.1 319.5,53.1 320,53.1 320.5,53.1 321,53.1 321.5,53.1 322,53.1 322.5,53.1 323,53.1 323.5,53.1 324,53.1 324.5,53.1 325,53.1 325.5,53.1 326,53.1 326.5,53.1 327,53.1 327.5,53.1 328,53.1 328.5,53.1 329,53.1 329.5,53.1 330,53.1 330.5,53.1 331,53.1 331.5,53.1 332,53.1 332.5,53.1 333,53.1 333.5,53.1 334,53.1 334.5,53.1 335,53.1 335.5,53.1 336,53.1 336.5,53.1 337,53.1 337.5,53.1 338,53.1 338.5,53.1 339,53.1 339.5,53.1 340,53.1 340.5,53.1 341,53.1 341.5,53.1 342,53.1 342.5,53.1 343,53.1 343.5,53.1 344,53.1 344.5,53.1 345,53.1 345.5,53.1 346,53.1 346.5,53.1 347,53.1 347.5,53.1 348,53.1 348.5,53.1 349,53.1 349.5,53.1 350,53.1 350.5,53.1 351,53.1 351.5,53.1 352,53.1 352.5,53.1 353,53.1 353.5,53.1 354,53.1 354.5,53.1 355,53.1 355.5,53.1 356,53.1 356.5,53.1 357,53.1 357.5,53.1 358,53.1 358.5,53.1 359,53.1 359.5,53.1 360,53.1 360.5,53.1 361,53.1 361.5,53.1 362,53.1 362.5,53.1 363,53.1 363.5,53.1 364,53.1 364.5,53.1 365,53.1 365.5,53.1 366,53.1 366.5,53.1 367,53.1 367.5,53.1 368,53.1 368.5,53.1 369,53.1 369.5,53.1 370,53.1 370.5,53.1 371,53.1 371.5,53.1 372,53.1 372.5,53.1 373,53.1 373.5,53.1 374,53.1 374.5,53.1 375,53.1 375.5,53.1 376,53.1 376.5,53.1 377,53.1 377.5,53.1 378,53.1 378.5,53.1 379,53.1 379.5,53.1 380,53.1 380.5,53.1 381,53.1 381.5,53.1 382,53.1 382.5,53.1 383,53.1 383.5,53.1 384,53.1 384.5,53.1 385,53.1 385.5,53.1 386,53.1 386.5,53.1 387,53.1 387.5,53.1 388,53.1 388.5,53.1 389,53.1 389.5,53.1 390,53.1 390.5,53.1 391,53.1 391.5,53.1 392,53.1 392.5,53.1 393,53.1 393.5,53.1 394,53.1 394.5,53.1 395,53.1 395.5,53.1 396,53.1 396.5,53.1 397,53.1 397.5,53.1 398,53.1 398.5,53.1 399,53.1 399.5,53.1 400,53.1 400.5,53.1 401,53.1 401.5,53.1 402,53.1 402.5,53.1 403,53.1 403.5,53.1 404,53.1 404.5,53.1 405,53.1 405.5,53.1 406,53.1 406.5,53.1 407,53.1 407.5,53.1 408,53.1 408.5,53.1 409,53.1 409.5,53.1 410,53.1 410.5,53.1 411,53.1 411.5,53.1 412,53.1 412.5,53.1 413,53.1 413.5,53.1 414,53.1 414.5,53.1 415,53.1 415.5,53.1 416,53.1 416.5,53.1 417,53.1 417.5,53.1 418,53.1 418.5,53.1 419,53.1 419.5,53.1 420,53.1 420.5,53.1 421,53.1 421.5,53.1 422,53.1 422.5,53.1 423,53.1 423.5,53.1 424,53.1 424.5,53.1 425,53.1 425.5,53.1 426,53.1 426.5,53.1 427,53.1 427.5,53.1 428,53.1 428.5,53.1 429,53.1 429.5,53.1 430,53.1 430.5,53.1 431,53.1 431.5,53.1 432,53.1 432.5,53.1 433,53.1 433.5,53.1 434,53.1 434.5,53.1 435,53.1 435.5,53.1 436,53.1 436.5,53.1 437,53.1 437.5,53.1 438,53.1 438.5,53.1 439,53.1 439.5,53.1 440,53.1 440.5,53.1 441,53.1 441.5,53.1 442,53.1 442.5,53.1 443,53.1 443.5,53.1 444,53.1 444.5,53.1 445,53.1 445.5,53.1 446,53.1 446.5,53.1 447,53.1 447.5,53.1 448,53.1 448.5,53.1 449,53.1 449.5,53.1 450,53.1 450.5,53.1 451,53.1 451.5,53.1 452,53.1 452.5,53.1 453,53.1 453.5,53.1 454,53.1 454.5,53.1 455,53.1 455.5,53.1 456,53.1 456.5,53.1 457,53.1 457.5,53.1 458,53.1 458.5,53.1 459,53.1 459.5,53.1 460,53.1 460.5,53.1 461,53.1 461.5,53.1 462,53.1 462.5,53.1 463,53.1 463.5,53.1 464,53.1 464.5,53.1 465,53.1 465.5,53.1 466,53.1 466.5,53.1 467,53.1 467.5,53.1 468,53.1 468.5,53.1 469,53.1 469.5,53.1 470,53.1 470.5,53.1 471,53.1 471.5,53.1 472,53.1 472.5,53.1 473,53.1 473.5,53.1 474,53.1 474.5,53.1 475,53.1 475.5,53.1 476,53.1 476.5,53.1 477,53.1 477.5,53.1 478,53.1 478.5,53.1 479,53.1 479.5,53.1 480,53.1 480.5,53.1 481,53.1 481.5,53.1 482,53.1 482.5,53.1 483,53.1 483.5,53.1 484,53.1 484.5,53.1 485,53.1 485.5,53.1 486,53.1 486.5,53.1 487,53.1 487.5,53.1 488,53.1 488.5,53.1 489,53.1 489.5,53.1 490,53.1 490.5,53.1 491,53.1 491.5,53.1 492,53.1 492.5,53.1 493,53.1 493.5,53.1 494,53.1 494.5,53.1 495,53.1 495.5,53.1 496,53.1 496.5,53.1 497,53.1 497.5,53.1 498,53.1 498.5,53.1 499,53.1 499.5,53.1 500,53.1 500.5,53.1 501,53.1 501.5,53.1 502,53.1 502.5,53.1 503,53.1 503.5,53.1 504,53.1 504.5,53.1 505,53.1 505.5,53.1 506,53.1 506.5,53.1 507,53.1 507.5,53.1 508,53.1 508.5,53.1 509,53.1 509.5,53.1 510,53.1 510.5,53.1 511,53.1 511.5,53.1 512,53.1 512.5,53.1 513,53.1 513.5,53.1 514,53.1 514.5,53.1 515,53.1 515.5,53.1 516,53.1 516.5,53.1 517,53.1 517.5,53.1 518,53.1 518.5,53.1 519,53.1 519.5,53.1 520,53.1 520.5,53.1 521,53.1 521.5,53.1 522,53.1 522.5,53.1 523,53.1 523.5,53.2 524,53.2 524.5,53.3 525,53.3 525.5,53.4 526,53.4 526.5,53.5 527,53.5 527.5,53.6 528,53.6 528.5,53.7 529,53.7 529.5,53.8 530,53.8 530.5,53.9 531,53.9 531.5,54 532,54 532.5,54.1 533,54.1 533.5,54.2 534,54.2 534.5,54.3 535,54.3 535.5,54.4 536,54.4 536.5,54.5 537,54.5 537.5,54.6 538,54.6 538.5,54.7 539,54.7 539.5,54.8 540,54.8 540.5,54.9 541,54.9 541.5,55 542,55 542.5,55.1 543,55.1 543.5,55.2 544,55.2 544.5,55.3 545,55.3 545.5,55.4 546,55.4 546.5,55.5 547,55.5 547.5,55.5 548,55.6 548.5,55.6 549,55.7 549.5,55.7 550,55.8 550.5,55.8 551,55.9 551.5,55.9 552,56 552.5,56 553,56.1 553.5,56.1 554,56.2 554.5,56.2 555,56.3 555.5,56.3 556,56.4 556,57 555.5,57.1 555,57.1 554.5,57.2 554,57.2 553.5,57.3 553,57.3 552.5,57.4 552,57.4 551.5,57.5 551,57.5 550.5,57.6 550,57.6 549.5,57.7 549,57.7 548.5,57.8 548,57.8 547.5,57.9 547,57.9 546.5,57.9 546,58 545.5,58 545,58.1 544.5,58.1 544,58.2 543.5,58.2 543,58.3 542.5,58.3 542,58.4 541.5,58.4 541,58.5 540.5,58.5 540,58.6 539.5,58.6 539,58.7 538.5,58.7 538,58.8 537.5,58.8 537,58.9 536.5,58.9 536,59 535.5,59 535,59.1 534.5,59.1 534,59.2 533.5,59.2 533,59.3 532.5,59.3 532,59.4 531.5,59.4 531,59.5 530.5,59.5 530,59.6 529.5,59.6 529,59.7 528.5,59.7 528,59.8 527.5,59.8 527,59.9 526.5,59.9 526,60 525.5,60 525,60.1 524.5,60.1 524,60.2 523.5,60.2 523,60.3 522.5,60.3 522,60.3 521.5,60.3 521,60.3 520.5,60.3 520,60.3 519.5,60.3 519,60.3 518.5,60.3 518,60.3 517.5,60.3 517,60.3 516.5,60.3 516,60.3 515.5,60.3 515,60.3 514.5,60.3 514,60.3 513.5,60.3 513,60.3 512.5,60.3 512,60.3 511.5,60.3 511,60.3 510.5,60.3 510,60.3 509.5,60.3 509,60.3 508.5,60.3 508,60.3 507.5,60.3 507,60.3 506.5,60.3 506,60.3 505.5,60.3 505,60.3 504.5,60.3 504,60.3 503.5,60.3 503,60.3 502.5,60.3 502,60.3 501.5,60.3 501,60.3 500.5,60.3 500,60.3 499.5,60.3 499,60.3 498.5,60.3 498,60.3 497.5,60.3 497,60.3 496.5,60.3 496,60.3 495.5,60.3 495,60.3 494.5,60.3 494,60.3 493.5,60.3 493,60.3 492.5,60.3 492,60.3 491.5,60.3 491,60.3 490.5,60.3 490,60.3 489.5,60.3 489,60.3 488.5,60.3 488,60.3 487.5,60.3 487,60.3 486.5,60.3 486,60.3 485.5,60.3 485,60.3 484.5,60.3 484,60.3 483.5,60.3 483,60.3 482.5,60.3 482,60.3 481.5,60.3 481,60.3 480.5,60.3 480,60.3 479.5,60.3 479,60.3 478.5,60.3 478,60.3 477.5,60.3 477,60.3 476.5,60.3 476,60.3 475.5,60.3 475,60.3 474.5,60.3 474,60.3 473.5,60.3 473,60.3 472.5,60.3 472,60.3 471.5,60.3 471,60.3 470.5,60.3 470,60.3 469.5,60.3 469,60.3 468.5,60.3 468,60.3 467.5,60.3 467,60.3 466.5,60.3 466,60.3 465.5,60.3 465,60.3 464.5,60.3 464,60.3 463.5,60.3 463,60.3 462.5,60.3 462,60.3 461.5,60.3 461,60.3 460.5,60.3 460,60.3 459.5,60.3 459,60.3 458.5,60.3 458,60.3 457.5,60.3 457,60.3 456.5,60.3 456,60.3 455.5,60.3 455,60.3 454.5,60.3 454,60.3 453.5,60.3 453,60.3 452.5,60.3 452,60.3 451.5,60.3 451,60.3 450.5,60.3 450,60.3 449.5,60.3 449,60.3 448.5,60.3 448,60.3 447.5,60.3 447,60.3 446.5,60.3 446,60.3 445.5,60.3 445,60.3 444.5,60.3 444,60.3 443.5,60.3 443,60.3 442.5,60.3 442,60.3 441.5,60.3 441,60.3 440.5,60.3 440,60.3 439.5,60.3 439,60.3 438.5,60.3 438,60.3 437.5,60.3 437,60.3 436.5,60.3 436,60.3 435.5,60.3 435,60.3 434.5,60.3 434,60.3 433.5,60.3 433,60.3 432.5,60.3 432,60.3 431.5,60.3 431,60.3 430.5,60.3 430,60.3 429.5,60.3 429,60.3 428.5,60.3 428,60.3 427.5,60.3 427,60.3 426.5,60.3 426,60.3 425.5,60.3 425,60.3 424.5,60.3 424,60.3 423.5,60.3 423,60.3 422.5,60.3 422,60.3 421.5,60.3 421,60.3 420.5,60.3 420,60.3 419.5,60.3 419,60.3 418.5,60.3 418,60.3 417.5,60.3 417,60.3 416.5,60.3 416,60.3 415.5,60.3 415,60.3 414.5,60.3 414,60.3 413.5,60.3 413,60.3 412.5,60.3 412,60.3 411.5,60.3 411,60.3 410.5,60.3 410,60.3 409.5,60.3 409,60.3 408.5,60.3 408,60.3 407.5,60.3 407,60.3 406.5,60.3 406,60.3 405.5,60.3 405,60.3 404.5,60.3 404,60.3 403.5,60.3 403,60.3 402.5,60.3 402,60.3 401.5,60.3 401,60.3 400.5,60.3 400,60.3 399.5,60.3 399,60.3 398.5,60.3 398,60.3 397.5,60.3 397,60.3 396.5,60.3 396,60.3 395.5,60.3 395,60.3 394.5,60.3 394,60.3 393.5,60.3 393,60.3 392.5,60.3 392,60.3 391.5,60.3 391,60.3 390.5,60.3 390,60.3 389.5,60.3 389,60.3 388.5,60.3 388,60.3 387.5,60.3 387,60.3 386.5,60.3 386,60.3 385.5,60.3 385,60.3 384.5,60.3 384,60.3 383.5,60.3 383,60.3 382.5,60.3 382,60.3 381.5,60.3 381,60.3 380.5,60.3 380,60.3 379.5,60.3 379,60.3 378.5,60.3 378,60.3 377.5,60.3 377,60.3 376.5,60.3 376,60.3 375.5,60.3 375,60.3 374.5,60.3 374,60.3 373.5,60.3 373,60.3 372.5,60.3 372,60.3 371.5,60.3 371,60.3 370.5,60.3 370,60.3 369.5,60.3 369,60.3 368.5,60.3 368,60.3 367.5,60.3 367,60.3 366.5,60.3 366,60.3 365.5,60.3 365,60.3 364.5,60.3 364,60.3 363.5,60.3 363,60.3 362.5,60.3 362,60.3 361.5,60.3 361,60.3 360.5,60.3 360,60.3 359.5,60.3 359,60.3 358.5,60.3 358,60.3 357.5,60.3 357,60.3 356.5,60.3 356,60.3 355.5,60.3 355,60.3 354.5,60.3 354,60.3 353.5,60.3 353,60.3 352.5,60.3 352,60.3 351.5,60.3 351,60.3 350.5,60.3 350,60.3 349.5,60.3 349,60.3 348.5,60.3 348,60.3 347.5,60.3 347,60.3 346.5,60.3 346,60.3 345.5,60.3 345,60.3 344.5,60.3 344,60.3 343.5,60.3 343,60.3 342.5,60.3 342,60.3 341.5,60.3 341,60.3 340.5,60.3 340,60.3 339.5,60.3 339,60.3 338.5,60.3 338,60.3 337.5,60.3 337,60.3 336.5,60.3 336,60.3 335.5,60.3 335,60.3 334.5,60.3 334,60.3 333.5,60.3 333,60.3 332.5,60.3 332,60.3 331.5,60.3 331,60.3 330.5,60.3 330,60.3 329.5,60.3 329,60.3 328.5,60.3 328,60.3 327.5,60.3 327,60.3 326.5,60.3 326,60.3 325.5,60.3 325,60.3 324.5,60.3 324,60.3 323.5,60.3 323,60.3 322.5,60.3 322,60.3 321.5,60.3 321,60.3 320.5,60.3 320,60.3 319.5,60.3 319,60.3 318.5,60.3 318,60.3 317.5,60.3 317,60.3 316.5,60.3 316,60.3 315.5,60.3 315,60.3 314.5,60.3 314,60.3 313.5,60.3 313,60.3 312.5,60.3 312,60.3 311.5,60.3 311,60.3 310.5,60.3 310,60.3 309.5,60.3 309,60.3 308.5,60.3 308,60.3 307.5,60.3 307,60.3 306.5,60.3 306,60.3 305.5,60.3 305,60.3 304.5,60.3 304,60.3 303.5,60.3 303,60.3 302.5,60.3 302,60.3 301.5,60.3 301,60.3 300.5,60.3 300,60.3 299.5,60.3 299,60.3 298.5,60.3 298,60.3 297.5,60.3 297,60.3 296.5,60.3 296,60.3 295.5,60.3 295,60.3 294.5,60.3 294,60.3 293.5,60.3 293,60.3 292.5,60.3 292,60.3 291.5,60.3 291,60.3 290.5,60.3 290,60.3 289.5,60.3 289,60.3 288.5,60.3 288,60.3 287.5,60.3 287,60.3 286.5,60.3 286,60.3 285.5,60.3 285,60.3 284.5,60.3 284,60.3 283.5,60.3 283,60.3 282.5,60.3 282,60.3 281.5,60.3 281,60.3 280.5,60.3 280,60.3 279.5,60.3 279,60.3 278.5,60.3 278,60.3 277.5,60.3 277,60.3 276.5,60.3 276,60.3 275.5,60.3 275,60.3 274.5,60.3 274,60.3 273.5,60.3 273,60.3 272.5,60.3 272,60.3 271.5,60.3 271,60.3 270.5,60.3 270,60.3 269.5,60.3 269,60.3 268.5,60.3 268,60.3 267.5,60.3 267,60.3 266.5,60.3 266,60.3 265.5,60.3 265,60.3 264.5,60.3 264,60.3 263.5,60.3 263,60.3 262.5,60.3 262,60.3 261.5,60.3 261,60.3 260.5,60.3 260,60.3 259.5,60.3 259,60.3 258.5,60.3 258,60.3 257.5,60.3 257,60.3 256.5,60.3 256,60.3 255.5,60.3 255,60.3 254.5,60.3 254,60.3 253.5,60.3 253,60.3 252.5,60.3 252,60.3 251.5,60.3 251,60.3 250.5,60.3 250,60.3 249.5,60.3 249,60.3 248.5,60.3 248,60.3 247.5,60.3 247,60.3 246.5,60.3 246,60.3 245.5,60.3 245,60.3 244.5,60.3 244,60.3 243.5,60.3 243,60.3 242.5,60.3 242,60.3 241.5,60.3 241,60.3 240.5,60.3 240,60.3 239.5,60.3 239,60.3 238.5,60.3 238,60.3 237.5,60.3 237,60.3 236.5,60.3 236,60.3 235.5,60.3 235,60.3 234.5,60.3 234,60.3 233.5,60.3 233,60.3 232.5,60.3 232,60.3 231.5,60.3 231,60.3 230.5,60.3 230,60.3 229.5,60.3 229,60.3 228.5,60.3 228,60.3 227.5,60.3 227,60.3 226.5,60.3 226,60.3 225.5,60.3 225,60.3 224.5,60.3 224,60.3 223.5,60.3 223,60.3 222.5,60.3 222,60.3 221.5,60.3 221,60.3 220.5,60.3 220,60.3 219.5,60.3 219,60.3 218.5,60.3 218,60.3 217.5,60.3 217,60.3 216.5,60.3 216,60.3 215.5,60.3 215,60.3 214.5,60.3 214,60.3 213.5,60.3 213,60.3 212.5,60.3 212,60.3 211.5,60.3 211,60.3 210.5,60.3 210,60.3 209.5,60.3 209,60.3 208.5,60.3 208,60.3 207.5,60.3 207,60.3 206.5,60.3 206,60.3 205.5,60.3 205,60.3 204.5,60.3 204,60.3 203.5,60.3 203,60.3 202.5,60.3 202,60.3 201.5,60.3 201,60.3 200.5,60.3 200,60.3 199.5,60.3 199,60.3 198.5,60.3 198,60.3 197.5,60.3 197,60.3 196.5,60.3 196,60.3 195.5,60.3 195,60.3 194.5,60.3 194,60.3 193.5,60.3 193,60.3 192.5,60.3 192,60.3 191.5,60.3 191,60.3 190.5,60.3 190,60.3 189.5,60.3 189,60.3 188.5,60.3 188,60.3 187.5,60.3 187,60.3 186.5,60.3 186,60.3 185.5,60.3 185,60.3 184.5,60.3 184,60.3 183.5,60.3 183,60.3 182.5,60.3 182,60.3 181.5,60.3 181,60.3 180.5,60.3 180,60.3 179.5,60.3 179,60.3 178.5,60.3 178,60.3 177.5,60.3 177,60.3 176.5,60.3 176,60.3 175.5,60.3 175,60.3 174.5,60.3 174,60.3 173.5,60.3 173,60.3 172.5,60.3 172,60.3 171.5,60.3 171,60.3 170.5,60.3 170,60.3 169.5,60.3 169,60.3 168.5,60.3 168,60.3 167.5,60.3 167,60.3 166.5,60.3 166,60.3 165.5,60.3 165,60.3 164.5,60.3 164,60.3 163.5,60.3 163,60.3 162.5,60.3 162,60.3 161.5,60.3 161,60.3 160.5,60.3 160,60.3 159.5,60.3 159,60.3 158.5,60.3 158,60.3 157.5,60.3 157,60.3 156.5,60.3 156,60.3 155.5,60.3 155,60.3 154.5,60.3 154,60.3 153.5,60.3 153,60.3 152.5,60.3 152,60.3 151.5,60.3 151,60.3 150.5,60.3 150,60.3 149.5,60.3 149,60.3 148.5,60.3 148,60.3 147.5,60.3 147,60.3 146.5,60.3 146,60.3 145.5,60.3 145,60.3 144.5,60.3 144,60.3 143.5,60.3 143,60.3 142.5,60.3 142,60.3 141.5,60.3 141,60.3 140.5,60.3 140,60.3 139.5,60.3 139,60.3 138.5,60.3 138,60.3 137.5,60.3 137,60.3 136.5,60.3 136,60.3 135.5,60.3 135,60.3 134.5,60.3 134,60.3 133.5,60.3 133,60.3 132.5,60.3 132,60.3 131.5,60.3 131,60.3 130.5,60.3 130,60.3 129.5,60.3 129,60.3 128.5,60.3 128,60.3 127.5,60.3 127,60.3 126.5,60.3 126,60.3 125.5,60.3 125,60.3 124.5,60.3 124,60.3 123.5,60.3 123,60.3 122.5,60.3 122,60.3 121.5,60.3 121,60.3 120.5,60.3 120,60.3 119.5,60.3 119,60.3 118.5,60.3 118,60.3 117.5,60.3 117,60.3 116.5,60.3 116,60.3 115.5,60.3 115,60.3 114.5,60.3 114,60.3 113.5,60.3 113,60.3 112.5,60.3 112,60.3 111.5,60.3 111,60.3 110.5,60.3 110,60.3 109.5,60.3 109,60.3 108.5,60.3 108,60.3 107.5,60.3 107,60.3 106.5,60.3 106,60.3 105.5,60.3 105,60.3 104.5,60.3 104,60.3 103.5,60.3 103,60.3 102.5,60.3 102,60.3 101.5,60.3 101,60.3 100.5,60.3 100,60.3 99.5,60.3 99,60.3 98.5,60.3 98,60.3 97.5,60.3 97,60.3 96.5,60.3 96,60.3 95.5,60.3 95,60.3 94.5,60.3 94,60.3 93.5,60.3 93,60.3 92.5,60.3 92,60.3 91.5,60.3 91,60.3 90.5,60.3 90,60.3 89.5,60.3 89,60.3 88.5,60.3 88,60.3 87.5,60.3 87,60.3 86.5,60.3 86,60.3 85.5,60.3 85,60.3 84.5,60.3 84,60.3 83.5,60.3 83,60.3 82.5,60.3 82,60.3 81.5,60.2 81,60.2 80.5,60.2 80,60.2 79.5,60.1 79,60.1 78.5,60.1 78,60.1 77.5,60.1 77,60 76.5,60 76,60 75.5,60 75,59.9 74.5,59.9 74,59.9 73.5,59.9 73,59.8 72.5,59.8 72,59.8 71.5,59.8 71,59.7 70.5,59.7 70,59.7 69.5,59.7 69,59.7 68.5,59.6 68,59.6 67.5,59.6 67,59.6 66.5,59.5 66,59.5 65.5,59.5 65,59.5 64.5,59.4 64,59.4 63.5,59.4 63,59.4 62.5,59.3 62,59.3 61.5,59.3 61,59.3 60.5,59.3 60,59.2 59.5,59.2 59,59.2 58.5,59.2 58,59.1 57.5,59.1 57,59.1 56.5,59.1 56,59 55.5,59 55,59 54.5,59 54,59 53.5,58.9 53,58.9 52.5,58.9 52,58.9 51.5,58.8 51,58.8 50.5,58.8 50,58.8 49.5,58.7 49,58.7 48.5,58.7 48,58.7 47.5,58.6 47,58.6 46.5,58.6 46,58.6 45.5,58.6 45,58.5 44.5,58.5 44,58.5 43.5,58.5 43,58.4 42.5,58.4 42,58.4 41.5,58.4 41,58.3 40.5,58.3 40,58.3 39.5,58.3 39,58.2 38.5,58.2 38,58.2 37.5,58.2 37,58.2 36.5,58.1 36,58.1 35.5,58.1 35,58.1 34.5,58 34,58 33.5,58 33,58 32.5,57.9 32,57.9 31.5,57.9 31,57.9 30.5,57.9 30,57.8 29.5,57.8 29,57.8 28.5,57.8 28,57.7 27.5,57.7 27,57.7 26.5,57.7 26,57.6 25.5,57.6 25,57.6 24.5,57.6 24,57.5 23.5,57.5 23,57.5 22.5,57.5 22,57.5 21.5,57.4 21,57.4 20.5,57.4 20,57.4 19.5,57.3 19,57.3 18.5,57.3 18,57.3 17.5,57.2 17,57.2 16.5,57.2 16,57.2 15.5,57.2Z" fill="#990099" stroke="#800080" stroke-width="0.5"/>
<line x1="69.7" y1="68.5" x2="69.7" y2="72.9" stroke="#111" stroke-width="1" />
<line x1="69.7" y1="75" x2="69.7" y2="79.6" stroke="#ff0000" stroke-width="1" />
<line x1="73.4" y1="68.5" x2="73.4" y2="72.9" stroke="#111" stroke-width="1" />
<line x1="73.4" y1="75" x2="73.4" y2="79.6" stroke="#ff0000" stroke-width="1" />
<line x1="81.4" y1="68.5" x2="81.4" y2="72.9" stroke="#111" stroke-width="1" />
<line x1="81.4" y1="75" x2="81.4" y2="79.6" stroke="#ff0000" stroke-width="1" />
<line x1="86.8" y1="68.5" x2="86.8" y2="72.9" stroke="#111" stroke-width="1" />
<line x1="86.8" y1="75" x2="86.8" y2="79.6" stroke="#ff0000" stroke-width="1" />
<line x1="101.4" y1="68.5" x2="101.4" y2="72.9" stroke="#111" stroke-width="1" />
<line x1="101.4" y1="75" x2="101.4" y2="79.6" stroke="#ff0000" stroke-width="1" />
<line x1="115.5" y1="68.5" x2="115.5" y2="72.9" stroke="#111" stroke-width="1" />
<line x1="115.5" y1="75" x2="115.5" y2="79.6" stroke="#ff0000" stroke-width="1" />
<line x1="136" y1="68.5" x2="136" y2="72.9" stroke="#111" stroke-width="1" />
<line x1="136" y1="75" x2="136" y2="79.6" stroke="#ff0000" stroke-width="1" />
<line x1="141.6" y1="68.5" x2="141.6" y2="72.9" stroke="#111" stroke-width="1" />
<line x1="141.6" y1="75" x2="141.6" y2="79.6" stroke="#ff0000" stroke-width="1" />
<line x1="163.5" y1="68.5" x2="163.5" y2="72.9" stroke="#111" stroke-width="1" />
<line x1="163.5" y1="75" x2="163.5" y2="79.6" stroke="#ff0000" stroke-width="1" />
<line x1="168.8" y1="68.5" x2="168.8" y2="72.9" stroke="#111" stroke-width="1" />
<line x1="168.8" y1="75" x2="168.8" y2="79.6" stroke="#ff0000" stroke-width="1" />
<line x1="190.7" y1="68.5" x2="190.7" y2="72.9" stroke="#111" stroke-width="1" />
<line x1="190.7" y1="75" x2="190.7" y2="79.6" stroke="#ff0000" stroke-width="1" />
<line x1="196.1" y1="68.5" x2="196.1" y2="72.9" stroke="#111" stroke-width="1" />
<line x1="196.1" y1="75" x2="196.1" y2="79.6" stroke="#ff0000" stroke-width="1" />
<line x1="217.5" y1="68.5" x2="217.5" y2="72.9" stroke="#111" stroke-width="1" />
<line x1="217.5" y1="75" x2="217.5" y2="79.6" stroke="#ff0000" stroke-width="1" />
<line x1="223.4" y1="68.5" x2="223.4" y2="72.9" stroke="#111" stroke-width="1" />
<line x1="223.4" y1="75" x2="223.4" y2="79.6" stroke="#ff0000" stroke-width="1" />
<line x1="244.8" y1="68.5" x2="244.8" y2="72.9" stroke="#111" stroke-width="1" />
<line x1="244.8" y1="75" x2="244.8" y2="79.6" stroke="#ff0000" stroke-width="1" />
<line x1="258.9" y1="68.5" x2="258.9" y2="72.9" stroke="#111" stroke-width="1" />
<line x1="258.9" y1="75" x2="258.9" y2="79.6" stroke="#ff0000" stroke-width="1" />
<line x1="272.8" y1="68.5" x2="272.8" y2="72.9" stroke="#111" stroke-width="1" />
<line x1="272.8" y1="75" x2="272.8" y2="79.6" stroke="#ff0000" stroke-width="1" />
<line x1="290.6" y1="68.5" x2="290.6" y2="72.9" stroke="#111" stroke-width="1" />
<line x1="290.6" y1="75" x2="290.6" y2="79.6" stroke="#ff0000" stroke-width="1" />
<line x1="304.4" y1="68.5" x2="304.4" y2="72.9" stroke="#111" stroke-width="1" />
<line x1="304.4" y1="75" x2="304.4" y2="79.6" stroke="#ff0000" stroke-width="1" />
<line x1="325.5" y1="68.5" x2="325.5" y2="72.9" stroke="#111" stroke-width="1" />
<line x1="325.5" y1="75" x2="325.5" y2="79.6" stroke="#ff0000" stroke-width="1" />
<line x1="331" y1="68.5" x2="331" y2="72.9" stroke="#111" stroke-width="1" />
<line x1="331" y1="75" x2="331" y2="79.6" stroke="#ff0000" stroke-width="1" />
<line x1="352.9" y1="68.5" x2="352.9" y2="72.9" stroke="#111" stroke-width="1" />
<line x1="352.9" y1="75" x2="352.9" y2="79.6" stroke="#ff0000" stroke-width="1" />
<line x1="358.5" y1="68.5" x2="358.5" y2="72.9" stroke="#111" stroke-width="1" />
<line x1="358.5" y1="75" x2="358.5" y2="79.6" stroke="#ff0000" stroke-width="1" />
<line x1="379.7" y1="68.5" x2="379.7" y2="72.9" stroke="#111" stroke-width="1" />
<line x1="379.7" y1="75" x2="379.7" y2="79.6" stroke="#ff0000" stroke-width="1" />
<line x1="385.7" y1="68.5" x2="385.7" y2="72.9" stroke="#111" stroke-width="1" />
<line x1="385.7" y1="75" x2="385.7" y2="79.6" stroke="#ff0000" stroke-width="1" />
<line x1="406.9" y1="68.5" x2="406.9" y2="72.9" stroke="#111" stroke-width="1" />
<line x1="406.9" y1="75" x2="406.9" y2="79.6" stroke="#ff0000" stroke-width="1" />
<line x1="421" y1="68.5" x2="421" y2="72.9" stroke="#111" stroke-width="1" />
<line x1="421" y1="75" x2="421" y2="79.6" stroke="#ff0000" stroke-width="1" />
<line x1="434.9" y1="68.5" x2="434.9" y2="72.9" stroke="#111" stroke-width="1" />
<line x1="434.9" y1="75" x2="434.9" y2="79.6" stroke="#ff0000" stroke-width="1" />
<line x1="453.5" y1="68.5" x2="453.5" y2="72.9" stroke="#111" stroke-width="1" />
<line x1="453.5" y1="75" x2="453.5" y2="79.6" stroke="#ff0000" stroke-width="1" />
<line x1="467.6" y1="68.5" x2="467.6" y2="72.9" stroke="#111" stroke-width="1" />
<line x1="467.6" y1="75" x2="467.6" y2="79.6" stroke="#ff0000" stroke-width="1" />
<line x1="488" y1="68.5" x2="488" y2="72.9" stroke="#111" stroke-width="1" />
<line x1="488" y1="75" x2="488" y2="79.6" stroke="#ff0000" stroke-width="1" />
<line x1="493.6" y1="68.5" x2="493.6" y2="72.9" stroke="#111" stroke-width="1" />
<line x1="493.6" y1="75" x2="493.6" y2="79.6" stroke="#ff0000" stroke-width="1" />
<line x1="515.5" y1="68.5" x2="515.5" y2="72.9" stroke="#111" stroke-width="1" />
<line x1="515.5" y1="75" x2="515.5" y2="79.6" stroke="#ff0000" stroke-width="1" />
<line x1="521.2" y1="68.5" x2="521.2" y2="72.9" stroke="#111" stroke-width="1" />
<line x1="521.2" y1="75" x2="521.2" y2="79.6" stroke="#ff0000" stroke-width="1" />
<path d="M29.2,84.5 V107.6 H62.6" fill="none" stroke="#000" stroke-width="1.3"/>
<text x="26.2" y="106.3" font-size="10" fill="#000" stroke="#000" stroke-width="0.22" textLength="25.2" lengthAdjust="spacingAndGlyphs" transform="rotate(-90 26.2 106.3)">50 mV</text>
<text x="28.8" y="117.4" font-size="10" fill="#000" stroke="#000" stroke-width="0.22" textLength="27.5" lengthAdjust="spacingAndGlyphs" >250 ms</text>
<line x1="62.6" y1="91.1" x2="543.3" y2="91.1" stroke="#4a4a4a" stroke-width="0.9" stroke-dasharray="3.6 2.0"/>
<line x1="62.6" y1="151.2" x2="543.3" y2="151.2" stroke="#ff6a6a" stroke-width="0.8" stroke-dasharray="3.6 2.0"/>
<path d="M15.6,135.4 15.9,135.4 16.2,135.4 16.5,135.4 16.8,135.4 17.1,135.4 17.4,135.4 17.7,135.4 18,135.4 18.3,135.4 18.6,135.4 18.9,135.4 19.2,135.4 19.5,135.4 19.8,135.4 20.1,135.4 20.4,135.4 20.7,135.4 21,135.4 21.3,135.4 21.6,135.4 21.9,135.4 22.2,135.4 22.5,135.4 22.8,135.4 23.1,135.4 23.4,135.4 23.7,135.4 24,135.4 24.3,135.4 24.6,135.4 24.9,135.4 25.2,135.4 25.5,135.4 25.8,135.4 26.1,135.4 26.4,135.4 26.7,135.4 27,135.4 27.3,135.4 27.6,135.4 27.9,135.4 28.2,135.4 28.5,135.4 28.8,135.4 29.1,135.4 29.4,135.4 29.7,135.4 30,135.4 30.3,135.4 30.6,135.4 30.9,135.4 31.2,135.4 31.5,135.4 31.8,135.4 32.1,135.4 32.4,135.4 32.7,135.4 33,135.4 33.3,135.4 33.6,135.4 33.9,135.4 34.2,135.4 34.5,135.4 34.8,135.4 35.1,135.4 35.4,135.4 35.7,135.4 36,135.4 36.3,135.4 36.6,135.4 36.9,135.4 37.2,135.4 37.5,135.4 37.8,135.4 38.1,135.4 38.4,135.4 38.7,135.4 39,135.4 39.3,135.4 39.6,135.4 39.9,135.4 40.2,135.4 40.5,135.4 40.8,135.4 41.1,135.4 41.4,135.4 41.7,135.4 42,135.4 42.3,135.4 42.6,135.4 42.9,135.4 43.2,135.4 43.5,135.4 43.8,135.4 44.1,135.4 44.4,135.4 44.7,135.4 45,135.4 45.3,135.4 45.6,135.4 45.9,135.4 46.2,135.4 46.5,135.4 46.8,135.4 47.1,135.4 47.4,135.4 47.7,135.4 48,135.4 48.3,135.4 48.6,135.4 48.9,135.4 49.2,135.4 49.5,135.4 49.8,135.4 50.1,135.4 50.4,135.4 50.7,135.4 51,135.4 51.3,135.4 51.6,135.4 51.9,135.4 52.2,135.4 52.5,135.4 52.8,135.4 53.1,135.4 53.4,135.4 53.7,135.4 54,135.4 54.3,135.4 54.6,135.4 54.9,135.4 55.2,135.4 55.5,135.4 55.8,135.4 56.1,135.4 56.4,135.4 56.7,135.4 57,135.4 57.3,135.4 57.6,135.4 57.9,135.4 58.2,135.4 58.5,135.4 58.8,135.4 59.1,135.4 59.4,135.4 59.7,135.4 60,135.4 60.3,135.4 60.6,135.4 60.9,135.4 61.2,135.4 61.5,135.4 61.8,135.4 62.1,135.4 62.4,135.4 62.7,135.4 63,135.4 63.3,135.4 63.6,135.4 63.9,135.4 64.2,135.4 64.5,135.4 64.8,135.4 65.1,135.4 65.4,135.4 65.7,135.4 66,135.4 66.3,135.4 66.6,135.4 66.9,135.4 67.2,135.4 67.5,135.4 67.8,135.4 68.1,135.4 68.4,135.4 68.7,135.4 69,135.4 69.3,135.3 69.6,135.1 69.9,134.7 70.2,131.5 70.5,132.6 70.8,133.6 71.1,134.4 71.4,135.1 71.7,135.7 72,136.1 72.3,136.5 72.6,136.8 72.9,137.1 73.2,137.2 73.5,137 73.8,131 74.1,132.3 74.4,133.3 74.7,134.2 75,134.9 75.3,135.5 75.6,136 75.9,136.4 76.2,136.8 76.5,137.1 76.8,137.3 77.1,137.5 77.4,137.7 77.7,137.8 78,137.9 78.3,138 78.6,138.1 78.9,138.1 79.2,138.2 79.5,138.2 79.8,138.2 80.1,138.2 80.4,138.2 80.7,138.2 81,138.2 81.3,138 81.6,137.5 81.9,131.5 82.2,132.6 82.5,133.6 82.8,134.4 83.1,135.1 83.4,135.7 83.7,136.1 84,136.5 84.3,136.9 84.6,137.1 84.9,137.4 85.2,137.5 85.5,137.7 85.8,137.8 86.1,137.9 86.4,137.9 86.7,137.8 87,137.4 87.3,131.5 87.6,132.6 87.9,133.6 88.2,134.4 88.5,135.1 88.8,135.7 89.1,136.1 89.4,136.5 89.7,136.9 90,137.1 90.3,137.4 90.6,137.6 90.9,137.7 91.2,137.8 91.5,137.9 91.8,138 92.1,138.1 92.4,138.1 92.7,138.2 93,138.2 93.3,138.2 93.6,138.3 93.9,138.3 94.2,138.3 94.5,138.3 94.8,138.3 95.1,138.3 95.4,138.3 95.7,138.3 96,138.3 96.3,138.2 96.6,138.2 96.9,138.2 97.2,138.2 97.5,138.2 97.8,138.2 98.1,138.2 98.4,138.1 98.7,138.1 99,138.1 99.3,138.1 99.6,138.1 99.9,138.1 100.2,138 100.5,138 100.8,138 101.1,137.9 101.4,137.6 101.7,137 102,131.9 102.3,133 102.6,133.9 102.9,134.7 103.2,135.3 103.5,135.8 103.8,136.3 104.1,136.7 104.4,137 104.7,137.2 105,137.4 105.3,137.6 105.6,137.7 105.9,137.9 106.2,138 106.5,138 106.8,138.1 107.1,138.2 107.4,138.2 107.7,138.2 108,138.2 108.3,138.3 108.6,138.3 108.9,138.3 109.2,138.3 109.5,138.3 109.8,138.3 110.1,138.3 110.4,138.3 110.7,138.2 111,138.2 111.3,138.2 111.6,138.2 111.9,138.2 112.2,138.2 112.5,138.2 112.8,138.2 113.1,138.1 113.4,138.1 113.7,138.1 114,138.1 114.3,138.1 114.6,138 114.9,138 115.2,137.9 115.5,137.6 115.8,137 116.1,131.9 116.4,133 116.7,133.9 117,134.7 117.3,135.3 117.6,135.8 117.9,136.3 118.2,136.7 118.5,137 118.8,137.2 119.1,137.4 119.4,137.6 119.7,137.7 120,137.9 120.3,138 120.6,138 120.9,138.1 121.2,138.2 121.5,138.2 121.8,138.2 122.1,138.2 122.4,138.3 122.7,138.3 123,138.3 123.3,138.3 123.6,138.3 123.9,138.3 124.2,138.3 124.5,138.3 124.8,138.2 125.1,138.2 125.4,138.2 125.7,138.2 126,138.2 126.3,138.2 126.6,138.2 126.9,138.2 127.2,138.1 127.5,138.1 127.8,138.1 128.1,138.1 128.4,138.1 128.7,138.1 129,138 129.3,138 129.6,138 129.9,138 130.2,138 130.5,138 130.8,138 131.1,138 131.4,138 131.7,138 132,138 132.3,138 132.6,138 132.9,138 133.2,138 133.5,138 133.8,138 134.1,138 134.4,138 134.7,138 135,138 135.3,138 135.6,137.9 135.9,137.7 136.2,137.3 136.5,131.5 136.8,132.6 137.1,133.6 137.4,134.4 137.7,135.1 138,135.7 138.3,136.1 138.6,136.5 138.9,136.9 139.2,137.1 139.5,137.4 139.8,137.6 140.1,137.7 140.4,137.8 140.7,137.9 141,138 141.3,137.9 141.6,137.8 141.9,137.2 142.2,131.9 142.5,133 142.8,133.9 143.1,134.7 143.4,135.3 143.7,135.8 144,136.3 144.3,136.7 144.6,137 144.9,137.2 145.2,137.4 145.5,137.6 145.8,137.7 146.1,137.9 146.4,138 146.7,138 147,138.1 147.3,138.2 147.6,138.2 147.9,138.2 148.2,138.2 148.5,138.3 148.8,138.3 149.1,138.3 149.4,138.3 149.7,138.3 150,138.3 150.3,138.3 150.6,138.3 150.9,138.2 151.2,138.2 151.5,138.2 151.8,138.2 152.1,138.2 152.4,138.2 152.7,138.2 153,138.2 153.3,138.1 153.6,138.1 153.9,138.1 154.2,138.1 154.5,138.1 154.8,138.1 155.1,138 155.4,138 155.7,138 156,138 156.3,138 156.6,138 156.9,138 157.2,138 157.5,138 157.8,138 158.1,138 158.4,138 158.7,138 159,138 159.3,138 159.6,138 159.9,138 160.2,138 160.5,138 160.8,138 161.1,138 161.4,138 161.7,138 162,138 162.3,138 162.6,138 162.9,137.9 163.2,137.9 163.5,137.6 163.8,137 164.1,131.9 164.4,133 164.7,133.9 165,134.7 165.3,135.3 165.6,135.8 165.9,136.3 166.2,136.7 166.5,137 166.8,137.2 167.1,137.4 167.4,137.6 167.7,137.7 168,137.8 168.3,137.9 168.6,137.8 168.9,137.6 169.2,131 169.5,132.3 169.8,133.3 170.1,134.2 170.4,134.9 170.7,135.5 171,136 171.3,136.4 171.6,136.8 171.9,137.1 172.2,137.3 172.5,137.5 172.8,137.7 173.1,137.8 173.4,137.9 173.7,138 174,138.1 174.3,138.1 174.6,138.2 174.9,138.2 175.2,138.2 175.5,138.2 175.8,138.3 176.1,138.3 176.4,138.3 176.7,138.3 177,138.3 177.3,138.3 177.6,138.3 177.9,138.3 178.2,138.2 178.5,138.2 178.8,138.2 179.1,138.2 179.4,138.2 179.7,138.2 180,138.2 180.3,138.2 180.6,138.1 180.9,138.1 181.2,138.1 181.5,138.1 181.8,138.1 182.1,138.1 182.4,138 182.7,138 183,138 183.3,138 183.6,138 183.9,138 184.2,138 184.5,138 184.8,138 185.1,138 185.4,138 185.7,138 186,138 186.3,138 186.6,138 186.9,138 187.2,138 187.5,138 187.8,138 188.1,138 188.4,138 188.7,138 189,138 189.3,138 189.6,138 189.9,138 190.2,137.9 190.5,137.8 190.8,137.5 191.1,131 191.4,132.3 191.7,133.3 192,134.2 192.3,134.9 192.6,135.5 192.9,136 193.2,136.4 193.5,136.8 193.8,137.1 194.1,137.3 194.4,137.5 194.7,137.7 195,137.8 195.3,137.9 195.6,137.9 195.9,137.9 196.2,137.6 196.5,131 196.8,132.3 197.1,133.3 197.4,134.2 197.7,134.9 198,135.5 198.3,136 198.6,136.4 198.9,136.8 199.2,137.1 199.5,137.3 199.8,137.5 200.1,137.7 200.4,137.8 200.7,137.9 201,138 201.3,138.1 201.6,138.1 201.9,138.2 202.2,138.2 202.5,138.2 202.8,138.2 203.1,138.3 203.4,138.3 203.7,138.3 204,138.3 204.3,138.3 204.6,138.3 204.9,138.3 205.2,138.3 205.5,138.2 205.8,138.2 206.1,138.2 206.4,138.2 206.7,138.2 207,138.2 207.3,138.2 207.6,138.2 207.9,138.1 208.2,138.1 208.5,138.1 208.8,138.1 209.1,138.1 209.4,138.1 209.7,138 210,138 210.3,138 210.6,138 210.9,138 211.2,138 211.5,138 211.8,138 212.1,138 212.4,138 212.7,138 213,138 213.3,138 213.6,138 213.9,138 214.2,138 214.5,138 214.8,138 215.1,138 215.4,138 215.7,138 216,138 216.3,138 216.6,138 216.9,137.9 217.2,137.9 217.5,137.6 217.8,137 218.1,131.9 218.4,133 218.7,133.9 219,134.7 219.3,135.3 219.6,135.8 219.9,136.3 220.2,136.7 220.5,137 220.8,137.2 221.1,137.4 221.4,137.6 221.7,137.7 222,137.9 222.3,138 222.6,138 222.9,138 223.2,138 223.5,137.7 223.8,131 224.1,132.3 224.4,133.3 224.7,134.2 225,134.9 225.3,135.5 225.6,136 225.9,136.4 226.2,136.8 226.5,137.1 226.8,137.3 227.1,137.5 227.4,137.7 227.7,137.8 228,137.9 228.3,138 228.6,138.1 228.9,138.1 229.2,138.2 229.5,138.2 229.8,138.2 230.1,138.2 230.4,138.3 230.7,138.3 231,138.3 231.3,138.3 231.6,138.3 231.9,138.3 232.2,138.3 232.5,138.3 232.8,138.2 233.1,138.2 233.4,138.2 233.7,138.2 234,138.2 234.3,138.2 234.6,138.2 234.9,138.2 235.2,138.1 235.5,138.1 235.8,138.1 236.1,138.1 236.4,138.1 236.7,138.1 237,138 237.3,138 237.6,138 237.9,138 238.2,138 238.5,138 238.8,138 239.1,138 239.4,138 239.7,138 240,138 240.3,138 240.6,138 240.9,138 241.2,138 241.5,138 241.8,138 242.1,138 242.4,138 242.7,138 243,138 243.3,138 243.6,138 243.9,138 244.2,137.9 244.5,137.9 244.8,137.6 245.1,137 245.4,131.9 245.7,133 246,133.9 246.3,134.7 246.6,135.3 246.9,135.8 247.2,136.3 247.5,136.7 247.8,137 248.1,137.2 248.4,137.4 248.7,137.6 249,137.7 249.3,137.9 249.6,138 249.9,138 250.2,138.1 250.5,138.2 250.8,138.2 251.1,138.2 251.4,138.2 251.7,138.3 252,138.3 252.3,138.3 252.6,138.3 252.9,138.3 253.2,138.3 253.5,138.3 253.8,138.3 254.1,138.2 254.4,138.2 254.7,138.2 255,138.2 255.3,138.2 255.6,138.2 255.9,138.2 256.2,138.2 256.5,138.1 256.8,138.1 257.1,138.1 257.4,138.1 257.7,138.1 258,138 258.3,138 258.6,137.9 258.9,137.6 259.2,137 259.5,131.9 259.8,133 260.1,133.9 260.4,134.7 260.7,135.3 261,135.8 261.3,136.3 261.6,136.7 261.9,137 262.2,137.2 262.5,137.4 262.8,137.6 263.1,137.7 263.4,137.9 263.7,138 264,138 264.3,138.1 264.6,138.2 264.9,138.2 265.2,138.2 265.5,138.2 265.8,138.3 266.1,138.3 266.4,138.3 266.7,138.3 267,138.3 267.3,138.3 267.6,138.3 267.9,138.3 268.2,138.2 268.5,138.2 268.8,138.2 269.1,138.2 269.4,138.2 269.7,138.2 270,138.2 270.3,138.2 270.6,138.1 270.9,138.1 271.2,138.1 271.5,138.1 271.8,138.1 272.1,138 272.4,137.9 272.7,137.8 273,137.3 273.3,131.5 273.6,132.6 273.9,133.6 274.2,134.4 274.5,135.1 274.8,135.7 275.1,136.1 275.4,136.5 275.7,136.9 276,137.1 276.3,137.4 276.6,137.6 276.9,137.7 277.2,137.8 277.5,137.9 277.8,138 278.1,138.1 278.4,138.1 278.7,138.2 279,138.2 279.3,138.2 279.6,138.3 279.9,138.3 280.2,138.3 280.5,138.3 280.8,138.3 281.1,138.3 281.4,138.3 281.7,138.3 282,138.3 282.3,138.2 282.6,138.2 282.9,138.2 283.2,138.2 283.5,138.2 283.8,138.2 284.1,138.2 284.4,138.1 284.7,138.1 285,138.1 285.3,138.1 285.6,138.1 285.9,138.1 286.2,138.1 286.5,138 286.8,138 287.1,138 287.4,138 287.7,138 288,138 288.3,138 288.6,138 288.9,138 289.2,138 289.5,138 289.8,138 290.1,137.9 290.4,137.8 290.7,137.5 291,131 291.3,132.3 291.6,133.3 291.9,134.2 292.2,134.9 292.5,135.5 292.8,136 293.1,136.4 293.4,136.8 293.7,137.1 294,137.3 294.3,137.5 294.6,137.7 294.9,137.8 295.2,137.9 295.5,138 295.8,138.1 296.1,138.1 296.4,138.2 296.7,138.2 297,138.2 297.3,138.2 297.6,138.3 297.9,138.3 298.2,138.3 298.5,138.3 298.8,138.3 299.1,138.3 299.4,138.3 299.7,138.3 300,138.2 300.3,138.2 300.6,138.2 300.9,138.2 301.2,138.2 301.5,138.2 301.8,138.2 302.1,138.2 302.4,138.1 302.7,138.1 303,138.1 303.3,138.1 303.6,138 303.9,138 304.2,137.8 304.5,137.5 304.8,131 305.1,132.3 305.4,133.3 305.7,134.2 306,134.9 306.3,135.5 306.6,136 306.9,136.4 307.2,136.8 307.5,137.1 307.8,137.3 308.1,137.5 308.4,137.7 308.7,137.8 309,137.9 309.3,138 309.6,138.1 309.9,138.1 310.2,138.2 310.5,138.2 310.8,138.2 311.1,138.2 311.4,138.3 311.7,138.3 312,138.3 312.3,138.3 312.6,138.3 312.9,138.3 313.2,138.3 313.5,138.3 313.8,138.2 314.1,138.2 314.4,138.2 314.7,138.2 315,138.2 315.3,138.2 315.6,138.2 315.9,138.2 316.2,138.1 316.5,138.1 316.8,138.1 317.1,138.1 317.4,138.1 317.7,138.1 318,138 318.3,138 318.6,138 318.9,138 319.2,138 319.5,138 319.8,138 320.1,138 320.4,138 320.7,138 321,138 321.3,138 321.6,138 321.9,138 322.2,138 322.5,138 322.8,138 323.1,138 323.4,138 323.7,138 324,138 324.3,138 324.6,138 324.9,137.9 325.2,137.9 325.5,137.6 325.8,137 326.1,131.9 326.4,133 326.7,133.9 327,134.7 327.3,135.3 327.6,135.8 327.9,136.3 328.2,136.7 328.5,137 328.8,137.2 329.1,137.4 329.4,137.6 329.7,137.7 330,137.9 330.3,137.9 330.6,137.9 330.9,137.8 331.2,137.4 331.5,131.5 331.8,132.6 332.1,133.6 332.4,134.4 332.7,135.1 333,135.7 333.3,136.1 333.6,136.5 333.9,136.9 334.2,137.1 334.5,137.4 334.8,137.6 335.1,137.7 335.4,137.8 335.7,137.9 336,138 336.3,138.1 336.6,138.1 336.9,138.2 337.2,138.2 337.5,138.2 337.8,138.3 338.1,138.3 338.4,138.3 338.7,138.3 339,138.3 339.3,138.3 339.6,138.3 339.9,138.3 340.2,138.3 340.5,138.2 340.8,138.2 341.1,138.2 341.4,138.2 341.7,138.2 342,138.2 342.3,138.2 342.6,138.1 342.9,138.1 343.2,138.1 343.5,138.1 343.8,138.1 344.1,138.1 344.4,138.1 344.7,138 345,138 345.3,138 345.6,138 345.9,138 346.2,138 346.5,138 346.8,138 347.1,138 347.4,138 347.7,138 348,138 348.3,138 348.6,138 348.9,138 349.2,138 349.5,138 349.8,138 350.1,138 350.4,138 350.7,138 351,138 351.3,138 351.6,138 351.9,138 352.2,138 352.5,137.9 352.8,137.7 353.1,137.3 353.4,131.5 353.7,132.6 354,133.6 354.3,134.4 354.6,135.1 354.9,135.7 355.2,136.1 355.5,136.5 355.8,136.9 356.1,137.1 356.4,137.4 356.7,137.6 357,137.7 357.3,137.8 357.6,137.9 357.9,138 358.2,137.9 358.5,137.8 358.8,137.2 359.1,131.9 359.4,133 359.7,133.9 360,134.7 360.3,135.3 360.6,135.8 360.9,136.3 361.2,136.7 361.5,137 361.8,137.2 362.1,137.4 362.4,137.6 362.7,137.7 363,137.9 363.3,138 363.6,138 363.9,138.1 364.2,138.2 364.5,138.2 364.8,138.2 365.1,138.2 365.4,138.3 365.7,138.3 366,138.3 366.3,138.3 366.6,138.3 366.9,138.3 367.2,138.3 367.5,138.3 367.8,138.2 368.1,138.2 368.4,138.2 368.7,138.2 369,138.2 369.3,138.2 369.6,138.2 369.9,138.2 370.2,138.1 370.5,138.1 370.8,138.1 371.1,138.1 371.4,138.1 371.7,138.1 372,138 372.3,138 372.6,138 372.9,138 373.2,138 373.5,138 373.8,138 374.1,138 374.4,138 374.7,138 375,138 375.3,138 375.6,138 375.9,138 376.2,138 376.5,138 376.8,138 377.1,138 377.4,138 377.7,138 378,138 378.3,138 378.6,138 378.9,138 379.2,137.9 379.5,137.8 379.8,137.5 380.1,131 380.4,132.3 380.7,133.3 381,134.2 381.3,134.9 381.6,135.5 381.9,136 382.2,136.4 382.5,136.8 382.8,137.1 383.1,137.3 383.4,137.5 383.7,137.7 384,137.8 384.3,137.9 384.6,138 384.9,138 385.2,138 385.5,138 385.8,137.7 386.1,131 386.4,132.3 386.7,133.3 387,134.2 387.3,134.9 387.6,135.5 387.9,136 388.2,136.4 388.5,136.8 388.8,137.1 389.1,137.3 389.4,137.5 389.7,137.7 390,137.8 390.3,137.9 390.6,138 390.9,138.1 391.2,138.1 391.5,138.2 391.8,138.2 392.1,138.2 392.4,138.2 392.7,138.3 393,138.3 393.3,138.3 393.6,138.3 393.9,138.3 394.2,138.3 394.5,138.3 394.8,138.3 395.1,138.2 395.4,138.2 395.7,138.2 396,138.2 396.3,138.2 396.6,138.2 396.9,138.2 397.2,138.2 397.5,138.1 397.8,138.1 398.1,138.1 398.4,138.1 398.7,138.1 399,138.1 399.3,138 399.6,138 399.9,138 400.2,138 400.5,138 400.8,138 401.1,138 401.4,138 401.7,138 402,138 402.3,138 402.6,138 402.9,138 403.2,138 403.5,138 403.8,138 404.1,138 404.4,138 404.7,138 405,138 405.3,138 405.6,138 405.9,138 406.2,138 406.5,137.9 406.8,137.7 407.1,137.3 407.4,131.5 407.7,132.6 408,133.6 408.3,134.4 408.6,135.1 408.9,135.7 409.2,136.1 409.5,136.5 409.8,136.9 410.1,137.1 410.4,137.4 410.7,137.6 411,137.7 411.3,137.8 411.6,137.9 411.9,138 412.2,138.1 412.5,138.1 412.8,138.2 413.1,138.2 413.4,138.2 413.7,138.3 414,138.3 414.3,138.3 414.6,138.3 414.9,138.3 415.2,138.3 415.5,138.3 415.8,138.3 416.1,138.3 416.4,138.2 416.7,138.2 417,138.2 417.3,138.2 417.6,138.2 417.9,138.2 418.2,138.2 418.5,138.1 418.8,138.1 419.1,138.1 419.4,138.1 419.7,138.1 420,138.1 420.3,138 420.6,137.9 420.9,137.7 421.2,137.3 421.5,131.5 421.8,132.6 422.1,133.6 422.4,134.4 422.7,135.1 423,135.7 423.3,136.1 423.6,136.5 423.9,136.9 424.2,137.1 424.5,137.4 424.8,137.6 425.1,137.7 425.4,137.8 425.7,137.9 426,138 426.3,138.1 426.6,138.1 426.9,138.2 427.2,138.2 427.5,138.2 427.8,138.3 428.1,138.3 428.4,138.3 428.7,138.3 429,138.3 429.3,138.3 429.6,138.3 429.9,138.3 430.2,138.3 430.5,138.2 430.8,138.2 431.1,138.2 431.4,138.2 431.7,138.2 432,138.2 432.3,138.2 432.6,138.1 432.9,138.1 433.2,138.1 433.5,138.1 433.8,138.1 434.1,138 434.4,138 434.7,137.8 435,137.5 435.3,131 435.6,132.3 435.9,133.3 436.2,134.2 436.5,134.9 436.8,135.5 437.1,136 437.4,136.4 437.7,136.8 438,137.1 438.3,137.3 438.6,137.5 438.9,137.7 439.2,137.8 439.5,137.9 439.8,138 440.1,138.1 440.4,138.1 440.7,138.2 441,138.2 441.3,138.2 441.6,138.2 441.9,138.3 442.2,138.3 442.5,138.3 442.8,138.3 443.1,138.3 443.4,138.3 443.7,138.3 444,138.3 444.3,138.2 444.6,138.2 444.9,138.2 445.2,138.2 445.5,138.2 445.8,138.2 446.1,138.2 446.4,138.2 446.7,138.1 447,138.1 447.3,138.1 447.6,138.1 447.9,138.1 448.2,138.1 448.5,138 448.8,138 449.1,138 449.4,138 449.7,138 450,138 450.3,138 450.6,138 450.9,138 451.2,138 451.5,138 451.8,138 452.1,138 452.4,138 452.7,138 453,137.9 453.3,137.8 453.6,137.5 453.9,131 454.2,132.3 454.5,133.3 454.8,134.2 455.1,134.9 455.4,135.5 455.7,136 456,136.4 456.3,136.8 456.6,137.1 456.9,137.3 457.2,137.5 457.5,137.7 457.8,137.8 458.1,137.9 458.4,138 458.7,138.1 459,138.1 459.3,138.2 459.6,138.2 459.9,138.2 460.2,138.2 460.5,138.3 460.8,138.3 461.1,138.3 461.4,138.3 461.7,138.3 462,138.3 462.3,138.3 462.6,138.3 462.9,138.2 463.2,138.2 463.5,138.2 463.8,138.2 464.1,138.2 464.4,138.2 464.7,138.2 465,138.2 465.3,138.1 465.6,138.1 465.9,138.1 466.2,138.1 466.5,138.1 466.8,138 467.1,138 467.4,137.8 467.7,137.5 468,131 468.3,132.3 468.6,133.3 468.9,134.2 469.2,134.9 469.5,135.5 469.8,136 470.1,136.4 470.4,136.8 470.7,137.1 471,137.3 471.3,137.5 471.6,137.7 471.9,137.8 472.2,137.9 472.5,138 472.8,138.1 473.1,138.1 473.4,138.2 473.7,138.2 474,138.2 474.3,138.2 474.6,138.3 474.9,138.3 475.2,138.3 475.5,138.3 475.8,138.3 476.1,138.3 476.4,138.3 476.7,138.3 477,138.2 477.3,138.2 477.6,138.2 477.9,138.2 478.2,138.2 478.5,138.2 478.8,138.2 479.1,138.2 479.4,138.1 479.7,138.1 480,138.1 480.3,138.1 480.6,138.1 480.9,138.1 481.2,138 481.5,138 481.8,138 482.1,138 482.4,138 482.7,138 483,138 483.3,138 483.6,138 483.9,138 484.2,138 484.5,138 484.8,138 485.1,138 485.4,138 485.7,138 486,138 486.3,138 486.6,138 486.9,138 487.2,138 487.5,137.9 487.8,137.8 488.1,137.5 488.4,131 488.7,132.3 489,133.3 489.3,134.2 489.6,134.9 489.9,135.5 490.2,136 490.5,136.4 490.8,136.8 491.1,137.1 491.4,137.3 491.7,137.5 492,137.7 492.3,137.8 492.6,137.9 492.9,138 493.2,138 493.5,137.9 493.8,137.4 494.1,131.5 494.4,132.6 494.7,133.6 495,134.4 495.3,135.1 495.6,135.7 495.9,136.1 496.2,136.5 496.5,136.9 496.8,137.1 497.1,137.4 497.4,137.6 497.7,137.7 498,137.8 498.3,137.9 498.6,138 498.9,138.1 499.2,138.1 499.5,138.2 499.8,138.2 500.1,138.2 500.4,138.3 500.7,138.3 501,138.3 501.3,138.3 501.6,138.3 501.9,138.3 502.2,138.3 502.5,138.3 502.8,138.3 503.1,138.2 503.4,138.2 503.7,138.2 504,138.2 504.3,138.2 504.6,138.2 504.9,138.2 505.2,138.1 505.5,138.1 505.8,138.1 506.1,138.1 506.4,138.1 506.7,138.1 507,138.1 507.3,138 507.6,138 507.9,138 508.2,138 508.5,138 508.8,138 509.1,138 509.4,138 509.7,138 510,138 510.3,138 510.6,138 510.9,138 511.2,138 511.5,138 511.8,138 512.1,138 512.4,138 512.7,138 513,138 513.3,138 513.6,138 513.9,138 514.2,138 514.5,138 514.8,138 515.1,137.9 515.4,137.7 515.7,137.3 516,131.5 516.3,132.6 516.6,133.6 516.9,134.4 517.2,135.1 517.5,135.7 517.8,136.1 518.1,136.5 518.4,136.9 518.7,137.1 519,137.4 519.3,137.6 519.6,137.7 519.9,137.8 520.2,137.9 520.5,138 520.8,138 521.1,137.9 521.4,137.4 521.7,131.5 522,132.6 522.3,133.6 522.6,134.4 522.9,135.1 523.2,135.7 523.5,136.1 523.8,136.5 524.1,136.9 524.4,137.1 524.7,137.4 525,137.6 525.3,137.7 525.6,137.8 525.9,137.9 526.2,138 526.5,138.1 526.8,138.1 527.1,138.2 527.4,138.2 527.7,138.2 528,138.3 528.3,138.3 528.6,138.3 528.9,138.3 529.2,138.3 529.5,138.3 529.8,138.3 530.1,138.3 530.4,138.3 530.7,138.2 531,138.2 531.3,138.2 531.6,138.2 531.9,138.2 532.2,138.2 532.5,138.2 532.8,138.1 533.1,138.1 533.4,138.1 533.7,138.1 534,138.1 534.3,138.1 534.6,138.1 534.9,138 535.2,138 535.5,138 535.8,138 536.1,138 536.4,138 536.7,138 537,138 537.3,138 537.6,138 537.9,138 538.2,138 538.5,138 538.8,138 539.1,138 539.4,138 539.7,138 540,138 540.3,138 540.6,138 540.9,138 541.2,138 541.5,138 541.8,138 542.1,138 542.4,138 542.7,138 543,138 543.3,138 543.6,138 543.9,138 544.2,138 544.5,138 544.8,138 545.1,138 545.4,138 545.7,138 546,138 546.3,138 546.6,138 546.9,138 547.2,138 547.5,138 547.8,138 548.1,138 548.4,138 548.7,138 549,138 549.3,138 549.6,138 549.9,138 550.2,138 550.5,138 550.8,138 551.1,138 551.4,138 551.7,138 552,138 552.3,138 552.6,138 552.9,138 553.2,138 553.5,138 553.8,138 554.1,138 554.4,138 554.7,138 555,138 555.3,138 555.6,138 555.9,138 556.2,138" fill="none" stroke="#1a1a1a" stroke-width="0.95"/>
<line x1="70.1" y1="84" x2="70.1" y2="134.4" stroke="#7c7c7c" stroke-width="0.9" />
<line x1="70.2" y1="108" x2="70.2" y2="134.4" stroke="#2a2a2a" stroke-width="1" />
<line x1="73.8" y1="84" x2="73.8" y2="136.6" stroke="#7c7c7c" stroke-width="0.9" />
<line x1="74" y1="118" x2="74" y2="136.6" stroke="#2a2a2a" stroke-width="1" />
<line x1="81.8" y1="84" x2="81.8" y2="137.3" stroke="#7c7c7c" stroke-width="0.9" />
<line x1="82" y1="112" x2="82" y2="137.3" stroke="#2a2a2a" stroke-width="1" />
<line x1="87.2" y1="84" x2="87.2" y2="137.1" stroke="#7c7c7c" stroke-width="0.9" />
<line x1="87.3" y1="86" x2="87.3" y2="137.1" stroke="#2a2a2a" stroke-width="1" />
<line x1="101.8" y1="84" x2="101.8" y2="137" stroke="#7c7c7c" stroke-width="0.9" />
<line x1="102" y1="95" x2="102" y2="137" stroke="#2a2a2a" stroke-width="1" />
<line x1="115.9" y1="84" x2="115.9" y2="137" stroke="#7c7c7c" stroke-width="0.9" />
<line x1="116" y1="100" x2="116" y2="137" stroke="#2a2a2a" stroke-width="1" />
<line x1="136.4" y1="84" x2="136.4" y2="137" stroke="#7c7c7c" stroke-width="0.9" />
<line x1="136.5" y1="105" x2="136.5" y2="137" stroke="#2a2a2a" stroke-width="1" />
<line x1="142" y1="84" x2="142" y2="137.2" stroke="#7c7c7c" stroke-width="0.9" />
<line x1="142.1" y1="118" x2="142.1" y2="137.2" stroke="#2a2a2a" stroke-width="1" />
<line x1="163.9" y1="84" x2="163.9" y2="137" stroke="#7c7c7c" stroke-width="0.9" />
<line x1="164" y1="122" x2="164" y2="137" stroke="#2a2a2a" stroke-width="1" />
<line x1="169.2" y1="84" x2="169.2" y2="137.1" stroke="#7c7c7c" stroke-width="0.9" />
<line x1="169.3" y1="110" x2="169.3" y2="137.1" stroke="#2a2a2a" stroke-width="1" />
<line x1="191.1" y1="84" x2="191.1" y2="137" stroke="#7c7c7c" stroke-width="0.9" />
<line x1="191.2" y1="86" x2="191.2" y2="137" stroke="#2a2a2a" stroke-width="1" />
<line x1="196.5" y1="84" x2="196.5" y2="137.1" stroke="#7c7c7c" stroke-width="0.9" />
<line x1="196.6" y1="117.6" x2="196.6" y2="137.1" stroke="#2a2a2a" stroke-width="1" />
<line x1="217.9" y1="84" x2="217.9" y2="137" stroke="#7c7c7c" stroke-width="0.9" />
<line x1="218" y1="103.5" x2="218" y2="137" stroke="#2a2a2a" stroke-width="1" />
<line x1="223.8" y1="84" x2="223.8" y2="137.2" stroke="#7c7c7c" stroke-width="0.9" />
<line x1="223.9" y1="130" x2="223.9" y2="137.2" stroke="#2a2a2a" stroke-width="1" />
<line x1="245.2" y1="84" x2="245.2" y2="137" stroke="#7c7c7c" stroke-width="0.9" />
<line x1="245.3" y1="85" x2="245.3" y2="137" stroke="#2a2a2a" stroke-width="1" />
<line x1="259.4" y1="84" x2="259.4" y2="137" stroke="#7c7c7c" stroke-width="0.9" />
<line x1="259.4" y1="123.9" x2="259.4" y2="137" stroke="#2a2a2a" stroke-width="1" />
<line x1="273.3" y1="84" x2="273.3" y2="137" stroke="#7c7c7c" stroke-width="0.9" />
<line x1="273.4" y1="105" x2="273.4" y2="137" stroke="#2a2a2a" stroke-width="1" />
<line x1="291.1" y1="84" x2="291.1" y2="137" stroke="#7c7c7c" stroke-width="0.9" />
<line x1="291.2" y1="84" x2="291.2" y2="137" stroke="#2a2a2a" stroke-width="1" />
<line x1="304.9" y1="84" x2="304.9" y2="137" stroke="#7c7c7c" stroke-width="0.9" />
<line x1="304.9" y1="120.7" x2="304.9" y2="137" stroke="#2a2a2a" stroke-width="1" />
<line x1="326" y1="84" x2="326" y2="137" stroke="#7c7c7c" stroke-width="0.9" />
<line x1="326.1" y1="111" x2="326.1" y2="137" stroke="#2a2a2a" stroke-width="1" />
<line x1="331.5" y1="84" x2="331.5" y2="137.1" stroke="#7c7c7c" stroke-width="0.9" />
<line x1="331.6" y1="109.8" x2="331.6" y2="137.1" stroke="#2a2a2a" stroke-width="1" />
<line x1="353.4" y1="84" x2="353.4" y2="137" stroke="#7c7c7c" stroke-width="0.9" />
<line x1="353.4" y1="88" x2="353.4" y2="137" stroke="#2a2a2a" stroke-width="1" />
<line x1="359" y1="84" x2="359" y2="137.2" stroke="#7c7c7c" stroke-width="0.9" />
<line x1="359.1" y1="97" x2="359.1" y2="137.2" stroke="#2a2a2a" stroke-width="1" />
<line x1="380.2" y1="84" x2="380.2" y2="137" stroke="#7c7c7c" stroke-width="0.9" />
<line x1="380.2" y1="94" x2="380.2" y2="137" stroke="#2a2a2a" stroke-width="1" />
<line x1="386.2" y1="84" x2="386.2" y2="137.2" stroke="#7c7c7c" stroke-width="0.9" />
<line x1="386.2" y1="116" x2="386.2" y2="137.2" stroke="#2a2a2a" stroke-width="1" />
<line x1="407.4" y1="84" x2="407.4" y2="137" stroke="#7c7c7c" stroke-width="0.9" />
<line x1="407.4" y1="111" x2="407.4" y2="137" stroke="#2a2a2a" stroke-width="1" />
<line x1="421.5" y1="84" x2="421.5" y2="137" stroke="#7c7c7c" stroke-width="0.9" />
<line x1="421.6" y1="105" x2="421.6" y2="137" stroke="#2a2a2a" stroke-width="1" />
<line x1="435.4" y1="84" x2="435.4" y2="137" stroke="#7c7c7c" stroke-width="0.9" />
<line x1="435.4" y1="85" x2="435.4" y2="137" stroke="#2a2a2a" stroke-width="1" />
<line x1="454" y1="84" x2="454" y2="137" stroke="#7c7c7c" stroke-width="0.9" />
<line x1="454.1" y1="98.8" x2="454.1" y2="137" stroke="#2a2a2a" stroke-width="1" />
<line x1="468.1" y1="84" x2="468.1" y2="137" stroke="#7c7c7c" stroke-width="0.9" />
<line x1="468.2" y1="97.2" x2="468.2" y2="137" stroke="#2a2a2a" stroke-width="1" />
<line x1="488.5" y1="84" x2="488.5" y2="137" stroke="#7c7c7c" stroke-width="0.9" />
<line x1="488.6" y1="119" x2="488.6" y2="137" stroke="#2a2a2a" stroke-width="1" />
<line x1="494.1" y1="84" x2="494.1" y2="137.2" stroke="#7c7c7c" stroke-width="0.9" />
<line x1="494.2" y1="120.7" x2="494.2" y2="137.2" stroke="#2a2a2a" stroke-width="1" />
<line x1="516" y1="84" x2="516" y2="137" stroke="#7c7c7c" stroke-width="0.9" />
<line x1="516.1" y1="116" x2="516.1" y2="137" stroke="#2a2a2a" stroke-width="1" />
<line x1="521.7" y1="84" x2="521.7" y2="137.2" stroke="#7c7c7c" stroke-width="0.9" />
<line x1="521.8" y1="85" x2="521.8" y2="137.2" stroke="#2a2a2a" stroke-width="1" />
<text x="15.3" y="146.8" font-size="10.4" fill="#000" stroke="#000" stroke-width="0.22" textLength="22.1" lengthAdjust="spacingAndGlyphs" >Soma</text>
<path d="M15.6,196.7 15.9,196.7 16.2,196.7 16.5,196.7 16.8,196.7 17.1,196.7 17.4,196.7 17.7,196.7 18,196.7 18.3,196.7 18.6,196.7 18.9,196.7 19.2,196.7 19.5,196.7 19.8,196.7 20.1,196.7 20.4,196.7 20.7,196.7 21,196.7 21.3,196.7 21.6,196.7 21.9,196.7 22.2,196.7 22.5,196.7 22.8,196.7 23.1,196.7 23.4,196.7 23.7,196.7 24,196.7 24.3,196.7 24.6,196.7 24.9,196.7 25.2,196.7 25.5,196.7 25.8,196.7 26.1,196.7 26.4,196.7 26.7,196.7 27,196.7 27.3,196.7 27.6,196.7 27.9,196.7 28.2,196.7 28.5,196.7 28.8,196.7 29.1,196.7 29.4,196.7 29.7,196.7 30,196.7 30.3,196.7 30.6,196.7 30.9,196.7 31.2,196.7 31.5,196.7 31.8,196.7 32.1,196.7 32.4,196.7 32.7,196.7 33,196.7 33.3,196.7 33.6,196.7 33.9,196.7 34.2,196.7 34.5,196.7 34.8,196.7 35.1,196.7 35.4,196.7 35.7,196.7 36,196.7 36.3,196.7 36.6,196.7 36.9,196.7 37.2,196.7 37.5,196.7 37.8,196.7 38.1,196.7 38.4,196.7 38.7,196.7 39,196.7 39.3,196.7 39.6,196.7 39.9,196.7 40.2,196.7 40.5,196.7 40.8,196.7 41.1,196.7 41.4,196.7 41.7,196.7 42,196.7 42.3,196.7 42.6,196.7 42.9,196.7 43.2,196.7 43.5,196.7 43.8,196.7 44.1,196.7 44.4,196.7 44.7,196.7 45,196.7 45.3,196.7 45.6,196.7 45.9,196.7 46.2,196.7 46.5,196.7 46.8,196.7 47.1,196.7 47.4,196.7 47.7,196.7 48,196.7 48.3,196.7 48.6,196.7 48.9,196.7 49.2,196.7 49.5,196.7 49.8,196.7 50.1,196.7 50.4,196.7 50.7,196.7 51,196.7 51.3,196.7 51.6,196.7 51.9,196.7 52.2,196.7 52.5,196.7 52.8,196.7 53.1,196.7 53.4,196.7 53.7,196.7 54,196.7 54.3,196.7 54.6,196.7 54.9,196.7 55.2,196.7 55.5,196.7 55.8,196.7 56.1,196.7 56.4,196.7 56.7,196.7 57,196.7 57.3,196.7 57.6,196.7 57.9,196.7 58.2,196.7 58.5,196.7 58.8,196.7 59.1,196.7 59.4,196.7 59.7,196.7 60,196.7 60.3,196.7 60.6,196.7 60.9,196.7 61.2,196.7 61.5,196.7 61.8,196.7 62.1,196.7 62.4,196.7 62.7,196.7 63,196.7 63.3,196.7 63.6,196.7 63.9,196.7 64.2,196.7 64.5,196.7 64.8,196.7 65.1,196.7 65.4,196.7 65.7,196.7 66,196.7 66.3,196.7 66.6,196.7 66.9,196.7 67.2,196.7 67.5,196.7 67.8,196.7 68.1,196.7 68.4,196.7 68.7,196.7 69,196.6 69.3,196.5 69.6,196.3 69.9,195.5 70.2,199.5 70.5,200.8 70.8,200.4 71.1,199.5 71.4,199.2 71.7,199.4 72,198.6 72.3,199 72.6,198.8 72.9,198.5 73.2,198.1 73.5,197.5 73.8,198.7 74.1,200.2 74.4,200.4 74.7,199.9 75,199.8 75.3,199.4 75.6,199.1 75.9,199.2 76.2,198.5 76.5,198.4 76.8,198.6 77.1,198.2 77.4,198.1 77.7,198.4 78,198.4 78.3,198.6 78.6,198.4 78.9,198.3 79.2,198.3 79.5,198.1 79.8,197.9 80.1,198 80.4,198.4 80.7,198 81,198 81.3,197.4 81.6,197.2 81.9,199.2 82.2,200.4 82.5,200.4 82.8,199.7 83.1,199.6 83.4,199.2 83.7,199.1 84,198.5 84.3,198.7 84.6,198.6 84.9,198.8 85.2,198.4 85.5,198.5 85.8,198.1 86.1,198.2 86.4,198.1 86.7,197.6 87,197.3 87.3,199.3 87.6,200.9 87.9,200.2 88.2,199.8 88.5,199.5 88.8,199.2 89.1,198.7 89.4,198.7 89.7,198.5 90,198.5 90.3,198.2 90.6,198.8 90.9,198.2 91.2,198.5 91.5,198.2 91.8,198.6 92.1,198.4 92.4,198.1 92.7,198.5 93,198.6 93.3,198.5 93.6,198.3 93.9,198 94.2,198 94.5,198.5 94.8,198.2 95.1,198 95.4,198.4 95.7,198.3 96,198.2 96.3,198 96.6,198.1 96.9,197.9 97.2,197.8 97.5,198.4 97.8,198.1 98.1,198.1 98.4,198 98.7,198.3 99,197.8 99.3,198 99.6,197.8 99.9,197.8 100.2,198.4 100.5,198.2 100.8,198 101.1,197.9 101.4,197.7 101.7,196.3 102,200 102.3,200.7 102.6,199.9 102.9,199.6 103.2,199.5 103.5,199.3 103.8,198.6 104.1,199.1 104.4,198.3 104.7,198.7 105,198.7 105.3,198.2 105.6,198.4 105.9,198.6 106.2,198 106.5,198.4 106.8,198.5 107.1,198.3 107.4,198.4 107.7,198.1 108,198 108.3,198.1 108.6,198 108.9,198.1 109.2,198.5 109.5,198.2 109.8,198.1 110.1,198 110.4,198.5 110.7,198.1 111,198.5 111.3,198.1 111.6,198.1 111.9,198.4 112.2,198.3 112.5,198.2 112.8,198 113.1,198.4 113.4,198 113.7,198.4 114,197.8 114.3,198 114.6,198.1 114.9,198.3 115.2,197.7 115.5,197.7 115.8,196.5 116.1,200 116.4,200.6 116.7,200.3 117,199.5 117.3,199.2 117.6,198.8 117.9,198.6 118.2,198.5 118.5,198.9 118.8,198.8 119.1,198.2 119.4,198.5 119.7,198.4 120,198.5 120.3,198.5 120.6,198.2 120.9,198.6 121.2,198.3 121.5,198.4 121.8,198.4 122.1,198 122.4,197.9 122.7,198.2 123,198.4 123.3,198.4 123.6,198.4 123.9,197.9 124.2,198.5 124.5,198.4 124.8,198.4 125.1,198.1 125.4,198.4 125.7,197.8 126,197.8 126.3,197.8 126.6,197.9 126.9,197.9 127.2,197.9 127.5,198.1 127.8,197.8 128.1,198.2 128.4,197.9 128.7,198.2 129,197.8 129.3,198 129.6,198.4 129.9,198.1 130.2,198.3 130.5,198.2 130.8,198.2 131.1,197.9 131.4,198.2 131.7,197.8 132,198.3 132.3,198.4 132.6,198.3 132.9,197.8 133.2,198 133.5,198 133.8,197.8 134.1,198.2 134.4,198.3 134.7,198 135,198.3 135.3,198.2 135.6,197.7 135.9,197.8 136.2,197.2 136.5,199.2 136.8,200.6 137.1,200.3 137.4,199.8 137.7,199.1 138,199.2 138.3,199 138.6,199 138.9,198.9 139.2,198.5 139.5,198.7 139.8,198.7 140.1,198.7 140.4,198.2 140.7,198 141,198.4 141.3,197.9 141.6,197.7 141.9,196.9 142.2,199.8 142.5,200.4 142.8,200 143.1,199.7 143.4,199 143.7,199 144,198.6 144.3,198.9 144.6,198.9 144.9,198.5 145.2,198.4 145.5,198.5 145.8,198.2 146.1,198.2 146.4,198.2 146.7,198.3 147,198 147.3,198.5 147.6,198.3 147.9,198.1 148.2,198 148.5,198.4 148.8,198 149.1,198 149.4,197.9 149.7,197.9 150,198.5 150.3,198 150.6,198 150.9,198.4 151.2,198.2 151.5,197.9 151.8,198.1 152.1,198.4 152.4,198 152.7,198.2 153,197.8 153.3,198.3 153.6,198.3 153.9,198.3 154.2,198.2 154.5,198 154.8,197.8 155.1,198.1 155.4,198.3 155.7,197.9 156,197.9 156.3,198.1 156.6,198.3 156.9,198.4 157.2,197.8 157.5,197.9 157.8,198.3 158.1,198.2 158.4,198.3 158.7,198.4 159,198.4 159.3,198.3 159.6,198.3 159.9,198 160.2,198.2 160.5,197.9 160.8,198.3 161.1,198.3 161.4,198.3 161.7,198.1 162,198 162.3,198 162.6,197.7 162.9,198.3 163.2,197.9 163.5,197.4 163.8,196.4 164.1,200 164.4,200.5 164.7,200.2 165,199.9 165.3,199.2 165.6,198.8 165.9,199.1 166.2,199.1 166.5,198.4 166.8,198.7 167.1,198.7 167.4,198.7 167.7,198.1 168,198.1 168.3,198.6 168.6,197.8 168.9,197.2 169.2,198.9 169.5,200.2 169.8,200.5 170.1,199.6 170.4,199.8 170.7,199 171,199.2 171.3,198.5 171.6,198.7 171.9,198.3 172.2,198.4 172.5,198.4 172.8,198.6 173.1,198.4 173.4,198.1 173.7,198.7 174,198.6 174.3,198.6 174.6,198.1 174.9,198.2 175.2,198.1 175.5,198 175.8,197.9 176.1,198.2 176.4,197.9 176.7,198 177,198.4 177.3,198.2 177.6,197.9 177.9,198.3 178.2,198 178.5,198.1 178.8,198 179.1,198.1 179.4,198.2 179.7,198.1 180,198 180.3,198.3 180.6,198.4 180.9,197.9 181.2,197.8 181.5,197.8 181.8,198.4 182.1,198.4 182.4,197.9 182.7,198.4 183,197.9 183.3,198.1 183.6,198.1 183.9,198.4 184.2,197.8 184.5,198 184.8,198.2 185.1,197.8 185.4,197.9 185.7,198.1 186,198.4 186.3,198.3 186.6,198.3 186.9,198.3 187.2,198.2 187.5,198.3 187.8,198.2 188.1,198.3 188.4,198 188.7,197.9 189,198.3 189.3,197.9 189.6,198.4 189.9,198.1 190.2,197.9 190.5,198.1 190.8,197 191.1,198.9 191.4,200 191.7,200.7 192,199.9 192.3,199.7 192.6,199 192.9,199.2 193.2,199 193.5,198.8 193.8,198.9 194.1,198.5 194.4,198.4 194.7,198.6 195,198.6 195.3,198.2 195.6,198.4 195.9,197.8 196.2,197.5 196.5,199 196.8,200 197.1,200.5 197.4,199.5 197.7,199.8 198,199.2 198.3,198.9 198.6,199 198.9,198.7 199.2,198.8 199.5,198.3 199.8,198.5 200.1,198.5 200.4,198.7 200.7,198.1 201,198.3 201.3,198.4 201.6,198.4 201.9,198 202.2,198.3 202.5,198.1 202.8,198 203.1,198.5 203.4,198 203.7,198.2 204,198.4 204.3,198.3 204.6,198.2 204.9,198.4 205.2,198.1 205.5,198.2 205.8,198.3 206.1,198.2 206.4,198.2 206.7,198 207,198.1 207.3,198 207.6,198.3 207.9,198 208.2,198.1 208.5,198.3 208.8,198.1 209.1,198 209.4,198.3 209.7,198 210,198.3 210.3,198.3 210.6,198.1 210.9,198.2 211.2,197.8 211.5,198 211.8,198.4 212.1,198.2 212.4,198.1 212.7,198.2 213,198.2 213.3,198.2 213.6,198 213.9,197.9 214.2,198 214.5,198 214.8,198.1 215.1,198.4 215.4,198 215.7,198.1 216,198 216.3,198.1 216.6,198.4 216.9,198.3 217.2,197.8 217.5,197.3 217.8,196.7 218.1,199.9 218.4,200.7 218.7,199.7 219,199.9 219.3,199.2 219.6,199.1 219.9,198.7 220.2,198.7 220.5,198.9 220.8,198.8 221.1,198.5 221.4,198.6 221.7,198.4 222,198.3 222.3,198.4 222.6,198.1 222.9,198.1 223.2,198.1 223.5,197.6 223.8,198.5 224.1,200.4 224.4,200.6 224.7,199.8 225,199.2 225.3,199.3 225.6,198.8 225.9,198.9 226.2,198.6 226.5,198.7 226.8,198.4 227.1,198.5 227.4,198.5 227.7,198.5 228,198.2 228.3,198.7 228.6,198.2 228.9,198.2 229.2,198.1 229.5,198 229.8,198.2 230.1,198.4 230.4,198.4 230.7,198 231,198 231.3,198.1 231.6,198.4 231.9,198.2 232.2,198.5 232.5,198.3 232.8,198.2 233.1,198.3 233.4,198.3 233.7,198 234,197.9 234.3,198.1 234.6,198.1 234.9,197.8 235.2,198.1 235.5,198.2 235.8,197.8 236.1,197.8 236.4,197.9 236.7,197.9 237,198.4 237.3,197.8 237.6,197.9 237.9,197.9 238.2,198.1 238.5,197.8 238.8,198.1 239.1,197.9 239.4,197.9 239.7,198.3 240,197.9 240.3,198.2 240.6,198 240.9,198 241.2,198.3 241.5,197.9 241.8,198.4 242.1,198.4 242.4,198.2 242.7,197.8 243,198.2 243.3,198.2 243.6,198.3 243.9,197.9 244.2,198.3 244.5,198.1 244.8,197.2 245.1,196.3 245.4,199.6 245.7,200.8 246,200.3 246.3,199.9 246.6,199.4 246.9,199.2 247.2,199 247.5,198.8 247.8,199 248.1,198.6 248.4,198.4 248.7,198.5 249,198.1 249.3,198.5 249.6,198.5 249.9,198.3 250.2,198.6 250.5,198.5 250.8,198.2 251.1,198 251.4,198 251.7,198 252,198.1 252.3,198.2 252.6,198.5 252.9,198 253.2,198.5 253.5,198.3 253.8,198.4 254.1,198.1 254.4,197.8 254.7,198.3 255,197.9 255.3,197.8 255.6,198.3 255.9,198.2 256.2,197.9 256.5,197.9 256.8,198.4 257.1,197.9 257.4,198.2 257.7,197.8 258,198.3 258.3,197.7 258.6,197.9 258.9,197.2 259.2,196.4 259.5,200.1 259.8,200.3 260.1,199.8 260.4,199.8 260.7,199.4 261,198.9 261.3,199 261.6,198.7 261.9,198.9 262.2,198.4 262.5,198.7 262.8,198.6 263.1,198.6 263.4,198.3 263.7,198.5 264,198.5 264.3,198.2 264.6,198 264.9,198.6 265.2,198.4 265.5,198.1 265.8,198.4 266.1,198.1 266.4,198.2 266.7,198.5 267,198.2 267.3,198 267.6,198 267.9,197.9 268.2,197.9 268.5,198 268.8,197.9 269.1,197.8 269.4,198.1 269.7,197.9 270,198.3 270.3,198.4 270.6,197.9 270.9,198.1 271.2,198.1 271.5,197.8 271.8,197.8 272.1,198.3 272.4,197.9 272.7,197.9 273,196.6 273.3,199.5 273.6,200.8 273.9,200.4 274.2,199.4 274.5,199.4 274.8,199 275.1,199.1 275.4,198.5 275.7,198.5 276,198.8 276.3,198.5 276.6,198.4 276.9,198.8 277.2,198.3 277.5,198.1 277.8,198.3 278.1,198.1 278.4,198 278.7,198.3 279,198.6 279.3,198.3 279.6,198.4 279.9,198.1 280.2,198.3 280.5,198.4 280.8,198.3 281.1,198.4 281.4,198.2 281.7,197.9 282,198.2 282.3,198.1 282.6,197.9 282.9,198.2 283.2,198.3 283.5,197.8 283.8,198.1 284.1,198.3 284.4,198 284.7,197.9 285,198 285.3,198.1 285.6,198.2 285.9,198.1 286.2,197.8 286.5,198.3 286.8,198.4 287.1,197.8 287.4,197.9 287.7,197.9 288,198.3 288.3,198.4 288.6,197.8 288.9,198 289.2,197.9 289.5,198.1 289.8,198.4 290.1,197.7 290.4,197.6 290.7,197.2 291,198.9 291.3,200.4 291.6,200.3 291.9,199.6 292.2,199.4 292.5,199.5 292.8,199.2 293.1,198.6 293.4,198.9 293.7,198.5 294,198.7 294.3,198.2 294.6,198.7 294.9,198.2 295.2,198.4 295.5,198.5 295.8,198.3 296.1,198.1 296.4,198 296.7,198.1 297,198 297.3,198.1 297.6,198 297.9,198.2 298.2,198.1 298.5,198.3 298.8,198 299.1,197.8 299.4,198 299.7,198.3 300,198 300.3,198.1 300.6,198.3 300.9,198 301.2,198.4 301.5,198.4 301.8,198 302.1,198.3 302.4,197.9 302.7,197.8 303,198.1 303.3,198.2 303.6,198.4 303.9,197.7 304.2,197.9 304.5,197.2 304.8,198.6 305.1,200.6 305.4,200.5 305.7,199.6 306,199.8 306.3,198.9 306.6,198.7 306.9,198.7 307.2,199 307.5,198.3 307.8,198.8 308.1,198.6 308.4,198.1 308.7,198.5 309,198.4 309.3,198.4 309.6,198.5 309.9,198.4 310.2,198.6 310.5,198 310.8,198.5 311.1,198.2 311.4,198.4 311.7,198.5 312,198.6 312.3,198 312.6,198.2 312.9,198.5 313.2,198.5 313.5,198.1 313.8,198.4 314.1,198.1 314.4,198 314.7,198.3 315,198.1 315.3,198.1 315.6,198 315.9,198.1 316.2,197.8 316.5,197.8 316.8,198.3 317.1,198.1 317.4,198.2 317.7,198.3 318,197.9 318.3,197.9 318.6,197.9 318.9,198 319.2,198.3 319.5,198 319.8,198 320.1,198.2 320.4,197.9 320.7,197.8 321,198.2 321.3,198.3 321.6,198 321.9,198.2 322.2,197.8 322.5,198 322.8,198.2 323.1,197.9 323.4,198 323.7,198.2 324,198.2 324.3,197.8 324.6,198.2 324.9,197.7 325.2,198.2 325.5,197.3 325.8,196.2 326.1,199.7 326.4,200.9 326.7,199.9 327,199.7 327.3,199.6 327.6,199.4 327.9,198.6 328.2,198.8 328.5,198.7 328.8,198.7 329.1,198.4 329.4,198.3 329.7,198.1 330,198 330.3,198.3 330.6,197.9 330.9,197.7 331.2,197 331.5,199.1 331.8,200.2 332.1,200.5 332.4,199.7 332.7,199.2 333,199.3 333.3,198.6 333.6,198.6 333.9,199 334.2,198.9 334.5,198.6 334.8,198.2 335.1,198.3 335.4,198.1 335.7,198.2 336,198 336.3,198.1 336.6,198.4 336.9,198 337.2,198 337.5,198.5 337.8,198.1 338.1,198.1 338.4,197.9 338.7,198.4 339,198.3 339.3,198.2 339.6,198.3 339.9,197.9 340.2,198 340.5,198.2 340.8,198.4 341.1,198.3 341.4,198.2 341.7,198.1 342,197.8 342.3,198.4 342.6,197.8 342.9,197.8 343.2,198.2 343.5,198.3 343.8,198.3 344.1,198.1 344.4,197.9 344.7,197.8 345,198.3 345.3,198.4 345.6,197.9 345.9,198.4 346.2,198 346.5,198 346.8,198.1 347.1,197.8 347.4,198.1 347.7,197.9 348,198.2 348.3,198.1 348.6,198.4 348.9,198.4 349.2,198 349.5,197.9 349.8,198.4 350.1,198.1 350.4,197.8 350.7,197.8 351,198.4 351.3,198.2 351.6,197.8 351.9,198.1 352.2,198 352.5,197.9 352.8,198 353.1,197.2 353.4,199.2 353.7,200.3 354,200.1 354.3,200 354.6,199.5 354.9,199.3 355.2,199 355.5,198.6 355.8,198.9 356.1,198.3 356.4,198.7 356.7,198.3 357,198.4 357.3,198.7 357.6,198.4 357.9,198 358.2,198 358.5,197.8 358.8,196.3 359.1,199.7 359.4,200.2 359.7,200 360,199.5 360.3,199.3 360.6,198.9 360.9,199 361.2,198.5 361.5,198.9 361.8,198.9 362.1,198.5 362.4,198.4 362.7,198.7 363,198.2 363.3,198.6 363.6,198.2 363.9,198.5 364.2,198.2 364.5,198.4 364.8,198.6 365.1,197.9 365.4,198.5 365.7,198.3 366,198.1 366.3,198.1 366.6,197.9 366.9,198 367.2,198.3 367.5,197.9 367.8,198.3 368.1,198.5 368.4,198.5 368.7,198.4 369,198.3 369.3,197.9 369.6,198.4 369.9,197.9 370.2,198.4 370.5,198.4 370.8,198.2 371.1,198.1 371.4,197.9 371.7,198.1 372,198 372.3,197.8 372.6,197.8 372.9,198.3 373.2,198.4 373.5,197.8 373.8,197.8 374.1,197.9 374.4,197.8 374.7,197.9 375,198.2 375.3,198 375.6,198.1 375.9,197.9 376.2,198.2 376.5,198 376.8,198 377.1,198.1 377.4,198.4 377.7,197.9 378,198.3 378.3,198 378.6,198.4 378.9,198 379.2,198 379.5,198 379.8,197.4 380.1,198.6 380.4,200 380.7,200.7 381,199.5 381.3,199.3 381.6,199.5 381.9,198.7 382.2,198.6 382.5,198.5 382.8,198.3 383.1,198.5 383.4,198.6 383.7,198.3 384,198.1 384.3,198.6 384.6,198.6 384.9,198.3 385.2,197.9 385.5,198 385.8,197.5 386.1,198.8 386.4,200.5 386.7,200.3 387,199.9 387.3,199.2 387.6,199.2 387.9,199.2 388.2,199 388.5,198.5 388.8,199 389.1,198.7 389.4,198.4 389.7,198.4 390,198.6 390.3,198.2 390.6,198.5 390.9,198.5 391.2,198.3 391.5,198.6 391.8,198.3 392.1,198.2 392.4,198.1 392.7,198.5 393,198.1 393.3,198.3 393.6,198.1 393.9,198.5 394.2,198.5 394.5,197.8 394.8,198.5 395.1,198.2 395.4,197.8 395.7,198.1 396,197.8 396.3,198.1 396.6,197.9 396.9,198 397.2,198 397.5,198.2 397.8,198.3 398.1,198.4 398.4,198 398.7,198.1 399,197.8 399.3,198 399.6,198.4 399.9,197.8 400.2,198.4 400.5,198.2 400.8,198 401.1,198.3 401.4,198 401.7,198.4 402,197.8 402.3,197.8 402.6,198.3 402.9,198.1 403.2,197.9 403.5,198.1 403.8,198 404.1,198.1 404.4,198.3 404.7,198.3 405,197.8 405.3,198.2 405.6,198.4 405.9,198 406.2,198.2 406.5,197.7 406.8,197.9 407.1,196.9 407.4,199.7 407.7,200.7 408,200.4 408.3,199.4 408.6,199.5 408.9,198.9 409.2,198.8 409.5,198.7 409.8,198.7 410.1,198.7 410.4,198.8 410.7,198.1 411,198.2 411.3,198.3 411.6,198.6 411.9,198.4 412.2,198.3 412.5,198.5 412.8,198.4 413.1,198.1 413.4,198 413.7,198.2 414,198.5 414.3,198.3 414.6,197.9 414.9,198.2 415.2,198.1 415.5,198.2 415.8,198.2 416.1,198.5 416.4,198 416.7,198.1 417,198.2 417.3,198.4 417.6,198.2 417.9,198.1 418.2,198.3 418.5,198.1 418.8,198.4 419.1,197.9 419.4,197.8 419.7,198.3 420,197.9 420.3,198.3 420.6,198 420.9,197.7 421.2,196.6 421.5,199.6 421.8,200.2 422.1,200.5 422.4,200 422.7,199.2 423,198.9 423.3,199.2 423.6,198.8 423.9,198.4 424.2,198.6 424.5,198.4 424.8,198.4 425.1,198.5 425.4,198.7 425.7,198.6 426,198.1 426.3,198.3 426.6,198.3 426.9,198.6 427.2,198 427.5,198.3 427.8,198.5 428.1,198.2 428.4,198.1 428.7,198.2 429,198.1 429.3,198.5 429.6,197.9 429.9,198 430.2,197.9 430.5,198.3 430.8,198 431.1,198.4 431.4,198.4 431.7,198.4 432,197.9 432.3,197.8 432.6,198 432.9,198.4 433.2,198.3 433.5,197.8 433.8,198.2 434.1,198.3 434.4,198.3 434.7,197.9 435,197.5 435.3,199.1 435.6,200.2 435.9,200.1 436.2,200 436.5,199.2 436.8,199.1 437.1,199.3 437.4,198.9 437.7,198.7 438,198.9 438.3,198.4 438.6,198.8 438.9,198.7 439.2,198.3 439.5,198.3 439.8,198.1 440.1,198.6 440.4,198.1 440.7,198 441,198.6 441.3,198.3 441.6,198.4 441.9,198.4 442.2,197.9 442.5,197.9 442.8,198.2 443.1,197.9 443.4,198.2 443.7,198.3 444,198.3 444.3,198.2 444.6,197.8 444.9,197.9 445.2,198.4 445.5,197.8 445.8,198.1 446.1,197.8 446.4,198.4 446.7,197.9 447,198 447.3,198.1 447.6,198.3 447.9,198.4 448.2,198.3 448.5,198 448.8,197.8 449.1,198.2 449.4,198.4 449.7,197.8 450,198.3 450.3,197.9 450.6,198.1 450.9,198.1 451.2,198.2 451.5,198.4 451.8,198.2 452.1,198 452.4,198.2 452.7,198 453,197.9 453.3,197.7 453.6,197.2 453.9,198.7 454.2,200.1 454.5,200.1 454.8,199.8 455.1,199.3 455.4,199.4 455.7,199.2 456,198.7 456.3,198.8 456.6,198.9 456.9,198.4 457.2,198.5 457.5,198.4 457.8,198.5 458.1,198.7 458.4,198.1 458.7,198.7 459,198.4 459.3,198.5 459.6,198.4 459.9,198.5 460.2,198.1 460.5,198.4 460.8,198.1 461.1,198.2 461.4,198.3 461.7,198 462,197.9 462.3,198.4 462.6,198.4 462.9,198.3 463.2,198 463.5,198.2 463.8,197.8 464.1,198.2 464.4,198.2 464.7,198.2 465,198.1 465.3,197.9 465.6,198.3 465.9,198.1 466.2,198.3 466.5,198 466.8,197.8 467.1,198 467.4,197.9 467.7,197.5 468,199.1 468.3,200 468.6,200.5 468.9,199.7 469.2,199.6 469.5,199.1 469.8,198.9 470.1,198.8 470.4,198.7 470.7,198.8 471,198.6 471.3,198.6 471.6,198.4 471.9,198.5 472.2,198.3 472.5,198.4 472.8,198.3 473.1,198.4 473.4,198 473.7,198.3 474,198.1 474.3,198.2 474.6,197.9 474.9,198.3 475.2,198.5 475.5,198.1 475.8,197.9 476.1,198.3 476.4,197.9 476.7,198.4 477,197.9 477.3,198 477.6,198.1 477.9,197.8 478.2,198 478.5,197.9 478.8,198.2 479.1,198.4 479.4,198 479.7,198.3 480,197.8 480.3,198.2 480.6,198.1 480.9,198 481.2,198.3 481.5,198.3 481.8,197.8 482.1,198 482.4,198.3 482.7,198.4 483,198.2 483.3,198.4 483.6,198.4 483.9,198.3 484.2,198.2 484.5,197.9 484.8,198 485.1,198.2 485.4,198.4 485.7,198 486,198 486.3,197.8 486.6,198.2 486.9,198 487.2,198.3 487.5,197.8 487.8,197.9 488.1,197.4 488.4,198.8 488.7,200 489,200.3 489.3,200 489.6,199.3 489.9,198.9 490.2,199 490.5,198.6 490.8,198.9 491.1,198.8 491.4,198.9 491.7,198.7 492,198.5 492.3,198.2 492.6,198.6 492.9,198.5 493.2,198.3 493.5,198 493.8,197.3 494.1,199.3 494.4,200.7 494.7,200.2 495,199.6 495.3,199.3 495.6,198.9 495.9,198.9 496.2,198.7 496.5,198.6 496.8,198.8 497.1,198.7 497.4,198.6 497.7,198.8 498,198.2 498.3,198.4 498.6,198.1 498.9,198.3 499.2,198.6 499.5,198 499.8,198.5 500.1,198.5 500.4,198.3 500.7,198.4 501,198.2 501.3,198.1 501.6,198.2 501.9,198 502.2,198 502.5,198 502.8,198.5 503.1,198 503.4,197.9 503.7,198.4 504,197.8 504.3,198.4 504.6,198.3 504.9,198.2 505.2,198 505.5,197.9 505.8,197.8 506.1,197.8 506.4,198 506.7,198 507,198.4 507.3,198.1 507.6,198.4 507.9,198.3 508.2,197.9 508.5,198.1 508.8,197.9 509.1,197.8 509.4,198.4 509.7,198 510,197.9 510.3,197.8 510.6,198.2 510.9,198.1 511.2,197.8 511.5,198.3 511.8,197.9 512.1,198.3 512.4,198.1 512.7,198.1 513,198.1 513.3,198.2 513.6,198.4 513.9,198.3 514.2,197.8 514.5,198.1 514.8,197.9 515.1,197.7 515.4,197.4 515.7,196.7 516,199.7 516.3,200.7 516.6,200.4 516.9,199.9 517.2,199.3 517.5,199 517.8,198.9 518.1,198.6 518.4,198.6 518.7,198.8 519,198.2 519.3,198.3 519.6,198.4 519.9,198.5 520.2,198.5 520.5,198.4 520.8,197.9 521.1,197.6 521.4,196.9 521.7,199.3 522,200.7 522.3,200.5 522.6,199.8 522.9,199.1 523.2,199 523.5,199.1 523.8,199.1 524.1,198.7 524.4,198.5 524.7,198.4 525,198.6 525.3,198.7 525.6,198.3 525.9,198.2 526.2,198 526.5,198.1 526.8,198.6 527.1,198.4 527.4,198.6 527.7,198 528,198.2 528.3,198.4 528.6,198.3 528.9,197.9 529.2,198.1 529.5,198.3 529.8,198.3 530.1,198.1 530.4,197.9 530.7,198.5 531,198.1 531.3,198.3 531.6,198.1 531.9,197.8 532.2,197.9 532.5,197.8 532.8,197.9 533.1,197.9 533.4,198 533.7,198 534,198 534.3,198.3 534.6,197.8 534.9,197.8 535.2,198.3 535.5,198.1 535.8,198.1 536.1,197.9 536.4,198.1 536.7,197.9 537,198.4 537.3,198.3 537.6,198 537.9,197.8 538.2,198.4 538.5,198 538.8,198.2 539.1,198.4 539.4,198.3 539.7,198.4 540,198.1 540.3,198.3 540.6,198.1 540.9,197.9 541.2,198.1 541.5,198 541.8,198.3 542.1,198.3 542.4,197.8 542.7,197.9 543,198 543.3,198.1 543.6,198.4 543.9,198.4 544.2,198.4 544.5,198.3 544.8,198.2 545.1,197.9 545.4,198 545.7,197.8 546,198.3 546.3,197.9 546.6,197.8 546.9,198 547.2,198 547.5,198.3 547.8,197.8 548.1,197.9 548.4,198.4 548.7,198.3 549,198.2 549.3,198.1 549.6,197.9 549.9,198.4 550.2,198.3 550.5,198.1 550.8,197.9 551.1,197.9 551.4,198 551.7,198 552,197.8 552.3,198 552.6,198.1 552.9,198 553.2,198 553.5,198 553.8,198 554.1,198.2 554.4,198.1 554.7,197.9 555,198.3 555.3,198.1 555.6,198.1 555.9,198.2 556.2,198.3" fill="none" stroke="#ff0000" stroke-width="0.9"/>
<line x1="70.1" y1="146.5" x2="70.1" y2="198" stroke="#ff8080" stroke-width="0.9" />
<line x1="70.2" y1="160.7" x2="70.2" y2="198" stroke="#ff0000" stroke-width="1" />
<line x1="73.8" y1="146.5" x2="73.8" y2="198" stroke="#ff8080" stroke-width="0.9" />
<line x1="74" y1="163" x2="74" y2="198" stroke="#ff0000" stroke-width="1" />
<line x1="81.8" y1="146.5" x2="81.8" y2="198" stroke="#ff8080" stroke-width="0.9" />
<line x1="82" y1="155" x2="82" y2="198" stroke="#ff0000" stroke-width="1" />
<line x1="87.2" y1="146.5" x2="87.2" y2="198" stroke="#ff8080" stroke-width="0.9" />
<line x1="87.3" y1="147" x2="87.3" y2="198" stroke="#ff0000" stroke-width="1" />
<line x1="101.8" y1="146.5" x2="101.8" y2="198" stroke="#ff8080" stroke-width="0.9" />
<line x1="102" y1="147" x2="102" y2="198" stroke="#ff0000" stroke-width="1" />
<line x1="115.9" y1="146.5" x2="115.9" y2="198" stroke="#ff8080" stroke-width="0.9" />
<line x1="116" y1="147" x2="116" y2="198" stroke="#ff0000" stroke-width="1" />
<line x1="136.4" y1="146.5" x2="136.4" y2="198" stroke="#ff8080" stroke-width="0.9" />
<line x1="136.5" y1="160.7" x2="136.5" y2="198" stroke="#ff0000" stroke-width="1" />
<line x1="142" y1="146.5" x2="142" y2="198" stroke="#ff8080" stroke-width="0.9" />
<line x1="142.1" y1="164" x2="142.1" y2="198" stroke="#ff0000" stroke-width="1" />
<line x1="163.9" y1="146.5" x2="163.9" y2="198" stroke="#ff8080" stroke-width="0.9" />
<line x1="164" y1="150" x2="164" y2="198" stroke="#ff0000" stroke-width="1" />
<line x1="169.2" y1="146.5" x2="169.2" y2="198" stroke="#ff8080" stroke-width="0.9" />
<line x1="169.3" y1="158" x2="169.3" y2="198" stroke="#ff0000" stroke-width="1" />
<line x1="191.1" y1="146.5" x2="191.1" y2="198" stroke="#ff8080" stroke-width="0.9" />
<line x1="191.2" y1="176.6" x2="191.2" y2="198" stroke="#ff0000" stroke-width="1" />
<line x1="196.5" y1="146.5" x2="196.5" y2="198" stroke="#ff8080" stroke-width="0.9" />
<line x1="196.6" y1="188.8" x2="196.6" y2="198" stroke="#ff0000" stroke-width="1" />
<line x1="217.9" y1="146.5" x2="217.9" y2="198" stroke="#ff8080" stroke-width="0.9" />
<line x1="218" y1="158.8" x2="218" y2="198" stroke="#ff0000" stroke-width="1" />
<line x1="223.8" y1="146.5" x2="223.8" y2="198" stroke="#ff8080" stroke-width="0.9" />
<line x1="223.9" y1="190" x2="223.9" y2="198" stroke="#ff0000" stroke-width="1" />
<line x1="245.2" y1="146.5" x2="245.2" y2="198" stroke="#ff8080" stroke-width="0.9" />
<line x1="245.3" y1="165" x2="245.3" y2="198" stroke="#ff0000" stroke-width="1" />
<line x1="259.4" y1="146.5" x2="259.4" y2="198" stroke="#ff8080" stroke-width="0.9" />
<line x1="259.4" y1="179.6" x2="259.4" y2="198" stroke="#ff0000" stroke-width="1" />
<line x1="273.3" y1="146.5" x2="273.3" y2="198" stroke="#ff8080" stroke-width="0.9" />
<line x1="273.4" y1="181.7" x2="273.4" y2="198" stroke="#ff0000" stroke-width="1" />
<line x1="291.1" y1="146.5" x2="291.1" y2="198" stroke="#ff8080" stroke-width="0.9" />
<line x1="291.2" y1="163" x2="291.2" y2="198" stroke="#ff0000" stroke-width="1" />
<line x1="304.9" y1="146.5" x2="304.9" y2="198" stroke="#ff8080" stroke-width="0.9" />
<line x1="304.9" y1="167" x2="304.9" y2="198" stroke="#ff0000" stroke-width="1" />
<line x1="326" y1="146.5" x2="326" y2="198" stroke="#ff8080" stroke-width="0.9" />
<line x1="326.1" y1="156.7" x2="326.1" y2="198" stroke="#ff0000" stroke-width="1" />
<line x1="331.5" y1="146.5" x2="331.5" y2="198" stroke="#ff8080" stroke-width="0.9" />
<line x1="331.6" y1="175" x2="331.6" y2="198" stroke="#ff0000" stroke-width="1" />
<line x1="353.4" y1="146.5" x2="353.4" y2="198" stroke="#ff8080" stroke-width="0.9" />
<line x1="353.4" y1="156.7" x2="353.4" y2="198" stroke="#ff0000" stroke-width="1" />
<line x1="359" y1="146.5" x2="359" y2="198" stroke="#ff8080" stroke-width="0.9" />
<line x1="359.1" y1="171" x2="359.1" y2="198" stroke="#ff0000" stroke-width="1" />
<line x1="380.2" y1="146.5" x2="380.2" y2="198" stroke="#ff8080" stroke-width="0.9" />
<line x1="380.2" y1="152.5" x2="380.2" y2="198" stroke="#ff0000" stroke-width="1" />
<line x1="386.2" y1="146.5" x2="386.2" y2="198" stroke="#ff8080" stroke-width="0.9" />
<line x1="386.2" y1="186" x2="386.2" y2="198" stroke="#ff0000" stroke-width="1" />
<line x1="407.4" y1="146.5" x2="407.4" y2="198" stroke="#ff8080" stroke-width="0.9" />
<line x1="407.4" y1="169" x2="407.4" y2="198" stroke="#ff0000" stroke-width="1" />
<line x1="421.5" y1="146.5" x2="421.5" y2="198" stroke="#ff8080" stroke-width="0.9" />
<line x1="421.6" y1="169" x2="421.6" y2="198" stroke="#ff0000" stroke-width="1" />
<line x1="435.4" y1="146.5" x2="435.4" y2="198" stroke="#ff8080" stroke-width="0.9" />
<line x1="435.4" y1="190" x2="435.4" y2="198" stroke="#ff0000" stroke-width="1" />
<line x1="454" y1="146.5" x2="454" y2="198" stroke="#ff8080" stroke-width="0.9" />
<line x1="454.1" y1="178" x2="454.1" y2="198" stroke="#ff0000" stroke-width="1" />
<line x1="468.1" y1="146.5" x2="468.1" y2="198" stroke="#ff8080" stroke-width="0.9" />
<line x1="468.2" y1="147" x2="468.2" y2="198" stroke="#ff0000" stroke-width="1" />
<line x1="488.5" y1="146.5" x2="488.5" y2="198" stroke="#ff8080" stroke-width="0.9" />
<line x1="488.6" y1="177" x2="488.6" y2="198" stroke="#ff0000" stroke-width="1" />
<line x1="494.1" y1="146.5" x2="494.1" y2="198" stroke="#ff8080" stroke-width="0.9" />
<line x1="494.2" y1="170" x2="494.2" y2="198" stroke="#ff0000" stroke-width="1" />
<line x1="516" y1="146.5" x2="516" y2="198" stroke="#ff8080" stroke-width="0.9" />
<line x1="516.1" y1="182" x2="516.1" y2="198" stroke="#ff0000" stroke-width="1" />
<line x1="521.7" y1="146.5" x2="521.7" y2="198" stroke="#ff8080" stroke-width="0.9" />
<line x1="521.8" y1="160" x2="521.8" y2="198" stroke="#ff0000" stroke-width="1" />
<text x="15.6" y="206.4" font-size="10.4" fill="#ff0000" stroke="#ff0000" stroke-width="0.22" textLength="21.5" lengthAdjust="spacingAndGlyphs" >Axon</text>
<line x1="82.8" y1="33.3" x2="82.8" y2="209.5" stroke="#5a5a5a" stroke-width="0.9" stroke-dasharray="1.8 1.2"/>
<line x1="522.5" y1="33.3" x2="522.5" y2="209.5" stroke="#5a5a5a" stroke-width="0.9" stroke-dasharray="1.8 1.2"/>
<text x="1.2" y="225.7" font-size="20" fill="#000" textLength="13.9" lengthAdjust="spacingAndGlyphs" font-weight="bold" >B</text>
<text x="14.3" y="246" font-size="10.4" fill="#000" stroke="#000" stroke-width="0.22" textLength="33" lengthAdjust="spacingAndGlyphs" >Baseline</text>
<text x="52.3" y="245.9" font-size="10.4" fill="#000" stroke="#000" stroke-width="0.22" textLength="37.8" lengthAdjust="spacingAndGlyphs" >Ramp-up</text>
<text x="185.8" y="245.1" font-size="10.4" fill="#000" stroke="#000" stroke-width="0.22" textLength="100.6" lengthAdjust="spacingAndGlyphs" >Stimulation steady state</text>
<text x="524.3" y="245.7" font-size="10.4" fill="#000" stroke="#000" stroke-width="0.22" textLength="49.1" lengthAdjust="spacingAndGlyphs" >Ramp-down</text>
<line x1="15.7" y1="255.1" x2="49" y2="255.1" stroke="#14a000" stroke-width="1" opacity="0.75"/>
<path d="M48.7,254.7 49.2,254.6 49.7,254.6 50.2,254.6 50.7,254.6 51.2,254.6 51.7,254.5 52.2,254.5 52.7,254.5 53.2,254.5 53.7,254.5 54.2,254.4 54.7,254.4 55.2,254.4 55.7,254.4 56.2,254.4 56.7,254.4 57.2,254.3 57.7,254.3 58.2,254.3 58.7,254.3 59.2,254.3 59.7,254.2 60.2,254.2 60.7,254.2 61.2,254.2 61.7,254.2 62.2,254.1 62.7,254.1 63.2,254.1 63.7,254.1 64.2,254.1 64.7,254 65.2,254 65.7,254 66.2,254 66.7,254 67.2,253.9 67.7,253.9 68.2,253.9 68.7,253.9 69.2,253.9 69.7,253.8 70.2,253.8 70.7,253.8 71.2,253.8 71.7,253.8 72.2,253.7 72.7,253.7 73.2,253.7 73.7,253.7 74.2,253.7 74.7,253.7 75.2,253.6 75.7,253.6 76.2,253.6 76.7,253.6 77.2,253.6 77.7,253.5 78.2,253.5 78.7,253.5 79.2,253.5 79.7,253.5 80.2,253.4 80.7,253.4 81.2,253.4 81.7,253.4 82.2,253.4 82.7,253.3 83.2,253.3 83.7,253.3 84.2,253.3 84.7,253.3 85.2,253.2 85.7,253.2 86.2,253.2 86.7,253.2 87.2,253.2 87.7,253.1 88.2,253.1 88.7,253.1 89.2,253.1 89.7,253.1 90.2,253 90.7,253 91.2,253 91.7,253 92.2,253 92.7,253 93.2,252.9 93.7,252.9 94.2,252.9 94.7,252.9 95.2,252.9 95.7,252.8 96.2,252.8 96.7,252.8 97.2,252.8 97.7,252.8 98.2,252.7 98.7,252.7 99.2,252.7 99.7,252.7 100.2,252.7 100.7,252.6 101.2,252.6 101.7,252.6 102.2,252.6 102.7,252.6 103.2,252.5 103.7,252.5 104.2,252.5 104.7,252.5 105.2,252.5 105.7,252.4 106.2,252.4 106.7,252.4 107.2,252.4 107.7,252.4 108.2,252.3 108.7,252.3 109.2,252.3 109.7,252.3 110.2,252.3 110.7,252.3 111.2,252.2 111.7,252.2 112.2,252.2 112.7,252.2 113.2,252.2 113.7,252.1 114.2,252.1 114.7,252.1 115.2,252.1 115.7,252.1 116.2,252 116.7,252 117.2,252 117.7,252 118.2,252 118.7,251.9 119.2,251.9 119.7,251.9 120.2,251.9 120.7,251.9 121.2,251.8 121.7,251.8 122.2,251.8 122.7,251.8 123.2,251.8 123.7,251.7 124.2,251.7 124.7,251.7 125.2,251.7 125.7,251.7 126.2,251.6 126.7,251.6 127.2,251.6 127.7,251.6 128.2,251.6 128.7,251.6 129.2,251.5 129.7,251.5 130.2,251.5 130.7,251.5 131.2,251.5 131.7,251.5 132.2,251.5 132.7,251.5 133.2,251.5 133.7,251.5 134.2,251.5 134.7,251.5 135.2,251.5 135.7,251.5 136.2,251.5 136.7,251.5 137.2,251.5 137.7,251.5 138.2,251.5 138.7,251.5 139.2,251.5 139.7,251.5 140.2,251.5 140.7,251.5 141.2,251.5 141.7,251.5 142.2,251.5 142.7,251.5 143.2,251.5 143.7,251.5 144.2,251.5 144.7,251.5 145.2,251.5 145.7,251.5 146.2,251.5 146.7,251.5 147.2,251.5 147.7,251.5 148.2,251.5 148.7,251.5 149.2,251.5 149.7,251.5 150.2,251.5 150.7,251.5 151.2,251.5 151.7,251.5 152.2,251.5 152.7,251.5 153.2,251.5 153.7,251.5 154.2,251.5 154.7,251.5 155.2,251.5 155.7,251.5 156.2,251.5 156.7,251.5 157.2,251.5 157.7,251.5 158.2,251.5 158.7,251.5 159.2,251.5 159.7,251.5 160.2,251.5 160.7,251.5 161.2,251.5 161.7,251.5 162.2,251.5 162.7,251.5 163.2,251.5 163.7,251.5 164.2,251.5 164.7,251.5 165.2,251.5 165.7,251.5 166.2,251.5 166.7,251.5 167.2,251.5 167.7,251.5 168.2,251.5 168.7,251.5 169.2,251.5 169.7,251.5 170.2,251.5 170.7,251.5 171.2,251.5 171.7,251.5 172.2,251.5 172.7,251.5 173.2,251.5 173.7,251.5 174.2,251.5 174.7,251.5 175.2,251.5 175.7,251.5 176.2,251.5 176.7,251.5 177.2,251.5 177.7,251.5 178.2,251.5 178.7,251.5 179.2,251.5 179.7,251.5 180.2,251.5 180.7,251.5 181.2,251.5 181.7,251.5 182.2,251.5 182.7,251.5 183.2,251.5 183.7,251.5 184.2,251.5 184.7,251.5 185.2,251.5 185.7,251.5 186.2,251.5 186.7,251.5 187.2,251.5 187.7,251.5 188.2,251.5 188.7,251.5 189.2,251.5 189.7,251.5 190.2,251.5 190.7,251.5 191.2,251.5 191.7,251.5 192.2,251.5 192.7,251.5 193.2,251.5 193.7,251.5 194.2,251.5 194.7,251.5 195.2,251.5 195.7,251.5 196.2,251.5 196.7,251.5 197.2,251.5 197.7,251.5 198.2,251.5 198.7,251.5 199.2,251.5 199.7,251.5 200.2,251.5 200.7,251.5 201.2,251.5 201.7,251.5 202.2,251.5 202.7,251.5 203.2,251.5 203.7,251.5 204.2,251.5 204.7,251.5 205.2,251.5 205.7,251.5 206.2,251.5 206.7,251.5 207.2,251.5 207.7,251.5 208.2,251.5 208.7,251.5 209.2,251.5 209.7,251.5 210.2,251.5 210.7,251.5 211.2,251.5 211.7,251.5 212.2,251.5 212.7,251.5 213.2,251.5 213.7,251.5 214.2,251.5 214.7,251.5 215.2,251.5 215.7,251.5 216.2,251.5 216.7,251.5 217.2,251.5 217.7,251.5 218.2,251.5 218.7,251.5 219.2,251.5 219.7,251.5 220.2,251.5 220.7,251.5 221.2,251.5 221.7,251.5 222.2,251.5 222.7,251.5 223.2,251.5 223.7,251.5 224.2,251.5 224.7,251.5 225.2,251.5 225.7,251.5 226.2,251.5 226.7,251.5 227.2,251.5 227.7,251.5 228.2,251.5 228.7,251.5 229.2,251.5 229.7,251.5 230.2,251.5 230.7,251.5 231.2,251.5 231.7,251.5 232.2,251.5 232.7,251.5 233.2,251.5 233.7,251.5 234.2,251.5 234.7,251.5 235.2,251.5 235.7,251.5 236.2,251.5 236.7,251.5 237.2,251.5 237.7,251.5 238.2,251.5 238.7,251.5 239.2,251.5 239.7,251.5 240.2,251.5 240.7,251.5 241.2,251.5 241.7,251.5 242.2,251.5 242.7,251.5 243.2,251.5 243.7,251.5 244.2,251.5 244.7,251.5 245.2,251.5 245.7,251.5 246.2,251.5 246.7,251.5 247.2,251.5 247.7,251.5 248.2,251.5 248.7,251.5 249.2,251.5 249.7,251.5 250.2,251.5 250.7,251.5 251.2,251.5 251.7,251.5 252.2,251.5 252.7,251.5 253.2,251.5 253.7,251.5 254.2,251.5 254.7,251.5 255.2,251.5 255.7,251.5 256.2,251.5 256.7,251.5 257.2,251.5 257.7,251.5 258.2,251.5 258.7,251.5 259.2,251.5 259.7,251.5 260.2,251.5 260.7,251.5 261.2,251.5 261.7,251.5 262.2,251.5 262.7,251.5 263.2,251.5 263.7,251.5 264.2,251.5 264.7,251.5 265.2,251.5 265.7,251.5 266.2,251.5 266.7,251.5 267.2,251.5 267.7,251.5 268.2,251.5 268.7,251.5 269.2,251.5 269.7,251.5 270.2,251.5 270.7,251.5 271.2,251.5 271.7,251.5 272.2,251.5 272.7,251.5 273.2,251.5 273.7,251.5 274.2,251.5 274.7,251.5 275.2,251.5 275.7,251.5 276.2,251.5 276.7,251.5 277.2,251.5 277.7,251.5 278.2,251.5 278.7,251.5 279.2,251.5 279.7,251.5 280.2,251.5 280.7,251.5 281.2,251.5 281.7,251.5 282.2,251.5 282.7,251.5 283.2,251.5 283.7,251.5 284.2,251.5 284.7,251.5 285.2,251.5 285.7,251.5 286.2,251.5 286.7,251.5 287.2,251.5 287.7,251.5 288.2,251.5 288.7,251.5 289.2,251.5 289.7,251.5 290.2,251.5 290.7,251.5 291.2,251.5 291.7,251.5 292.2,251.5 292.7,251.5 293.2,251.5 293.7,251.5 294.2,251.5 294.7,251.5 295.2,251.5 295.7,251.5 296.2,251.5 296.7,251.5 297.2,251.5 297.7,251.5 298.2,251.5 298.7,251.5 299.2,251.5 299.7,251.5 300.2,251.5 300.7,251.5 301.2,251.5 301.7,251.5 302.2,251.5 302.7,251.5 303.2,251.5 303.7,251.5 304.2,251.5 304.7,251.5 305.2,251.5 305.7,251.5 306.2,251.5 306.7,251.5 307.2,251.5 307.7,251.5 308.2,251.5 308.7,251.5 309.2,251.5 309.7,251.5 310.2,251.5 310.7,251.5 311.2,251.5 311.7,251.5 312.2,251.5 312.7,251.5 313.2,251.5 313.7,251.5 314.2,251.5 314.7,251.5 315.2,251.5 315.7,251.5 316.2,251.5 316.7,251.5 317.2,251.5 317.7,251.5 318.2,251.5 318.7,251.5 319.2,251.5 319.7,251.5 320.2,251.5 320.7,251.5 321.2,251.5 321.7,251.5 322.2,251.5 322.7,251.5 323.2,251.5 323.7,251.5 324.2,251.5 324.7,251.5 325.2,251.5 325.7,251.5 326.2,251.5 326.7,251.5 327.2,251.5 327.7,251.5 328.2,251.5 328.7,251.5 329.2,251.5 329.7,251.5 330.2,251.5 330.7,251.5 331.2,251.5 331.7,251.5 332.2,251.5 332.7,251.5 333.2,251.5 333.7,251.5 334.2,251.5 334.7,251.5 335.2,251.5 335.7,251.5 336.2,251.5 336.7,251.5 337.2,251.5 337.7,251.5 338.2,251.5 338.7,251.5 339.2,251.5 339.7,251.5 340.2,251.5 340.7,251.5 341.2,251.5 341.7,251.5 342.2,251.5 342.7,251.5 343.2,251.5 343.7,251.5 344.2,251.5 344.7,251.5 345.2,251.5 345.7,251.5 346.2,251.5 346.7,251.5 347.2,251.5 347.7,251.5 348.2,251.5 348.7,251.5 349.2,251.5 349.7,251.5 350.2,251.5 350.7,251.5 351.2,251.5 351.7,251.5 352.2,251.5 352.7,251.5 353.2,251.5 353.7,251.5 354.2,251.5 354.7,251.5 355.2,251.5 355.7,251.5 356.2,251.5 356.7,251.5 357.2,251.5 357.7,251.5 358.2,251.5 358.7,251.5 359.2,251.5 359.7,251.5 360.2,251.5 360.7,251.5 361.2,251.5 361.7,251.5 362.2,251.5 362.7,251.5 363.2,251.5 363.7,251.5 364.2,251.5 364.7,251.5 365.2,251.5 365.7,251.5 366.2,251.5 366.7,251.5 367.2,251.5 367.7,251.5 368.2,251.5 368.7,251.5 369.2,251.5 369.7,251.5 370.2,251.5 370.7,251.5 371.2,251.5 371.7,251.5 372.2,251.5 372.7,251.5 373.2,251.5 373.7,251.5 374.2,251.5 374.7,251.5 375.2,251.5 375.7,251.5 376.2,251.5 376.7,251.5 377.2,251.5 377.7,251.5 378.2,251.5 378.7,251.5 379.2,251.5 379.7,251.5 380.2,251.5 380.7,251.5 381.2,251.5 381.7,251.5 382.2,251.5 382.7,251.5 383.2,251.5 383.7,251.5 384.2,251.5 384.7,251.5 385.2,251.5 385.7,251.5 386.2,251.5 386.7,251.5 387.2,251.5 387.7,251.5 388.2,251.5 388.7,251.5 389.2,251.5 389.7,251.5 390.2,251.5 390.7,251.5 391.2,251.5 391.7,251.5 392.2,251.5 392.7,251.5 393.2,251.5 393.7,251.5 394.2,251.5 394.7,251.5 395.2,251.5 395.7,251.5 396.2,251.5 396.7,251.5 397.2,251.5 397.7,251.5 398.2,251.5 398.7,251.5 399.2,251.5 399.7,251.5 400.2,251.5 400.7,251.5 401.2,251.5 401.7,251.5 402.2,251.5 402.7,251.5 403.2,251.5 403.7,251.5 404.2,251.5 404.7,251.5 405.2,251.5 405.7,251.5 406.2,251.5 406.7,251.5 407.2,251.5 407.7,251.5 408.2,251.5 408.7,251.5 409.2,251.5 409.7,251.5 410.2,251.5 410.7,251.5 411.2,251.5 411.7,251.5 412.2,251.5 412.7,251.5 413.2,251.5 413.7,251.5 414.2,251.5 414.7,251.5 415.2,251.5 415.7,251.5 416.2,251.5 416.7,251.5 417.2,251.5 417.7,251.5 418.2,251.5 418.7,251.5 419.2,251.5 419.7,251.5 420.2,251.5 420.7,251.5 421.2,251.5 421.7,251.5 422.2,251.5 422.7,251.5 423.2,251.5 423.7,251.5 424.2,251.5 424.7,251.5 425.2,251.5 425.7,251.5 426.2,251.5 426.7,251.5 427.2,251.5 427.7,251.5 428.2,251.5 428.7,251.5 429.2,251.5 429.7,251.5 430.2,251.5 430.7,251.5 431.2,251.5 431.7,251.5 432.2,251.5 432.7,251.5 433.2,251.5 433.7,251.5 434.2,251.5 434.7,251.5 435.2,251.5 435.7,251.5 436.2,251.5 436.7,251.5 437.2,251.5 437.7,251.5 438.2,251.5 438.7,251.5 439.2,251.5 439.7,251.5 440.2,251.5 440.7,251.5 441.2,251.5 441.7,251.5 442.2,251.5 442.7,251.5 443.2,251.5 443.7,251.5 444.2,251.5 444.7,251.5 445.2,251.5 445.7,251.5 446.2,251.5 446.7,251.5 447.2,251.5 447.7,251.5 448.2,251.5 448.7,251.5 449.2,251.5 449.7,251.5 450.2,251.5 450.7,251.5 451.2,251.5 451.7,251.5 452.2,251.5 452.7,251.5 453.2,251.5 453.7,251.5 454.2,251.5 454.7,251.5 455.2,251.5 455.7,251.5 456.2,251.5 456.7,251.5 457.2,251.5 457.7,251.5 458.2,251.5 458.7,251.5 459.2,251.5 459.7,251.5 460.2,251.5 460.7,251.5 461.2,251.5 461.7,251.5 462.2,251.5 462.7,251.5 463.2,251.5 463.7,251.5 464.2,251.5 464.7,251.5 465.2,251.5 465.7,251.5 466.2,251.5 466.7,251.5 467.2,251.5 467.7,251.5 468.2,251.5 468.7,251.5 469.2,251.5 469.7,251.5 470.2,251.5 470.7,251.5 471.2,251.5 471.7,251.5 472.2,251.5 472.7,251.5 473.2,251.5 473.7,251.5 474.2,251.5 474.7,251.5 475.2,251.5 475.7,251.5 476.2,251.5 476.7,251.5 477.2,251.5 477.7,251.5 478.2,251.5 478.7,251.5 479.2,251.5 479.7,251.5 480.2,251.5 480.7,251.5 481.2,251.5 481.7,251.5 482.2,251.5 482.7,251.5 483.2,251.5 483.7,251.5 484.2,251.5 484.7,251.5 485.2,251.5 485.7,251.5 486.2,251.5 486.7,251.5 487.2,251.5 487.7,251.5 488.2,251.5 488.7,251.5 489.2,251.5 489.7,251.5 490.2,251.5 490.7,251.5 491.2,251.5 491.7,251.5 492.2,251.5 492.7,251.5 493.2,251.5 493.7,251.5 494.2,251.5 494.7,251.5 495.2,251.5 495.7,251.5 496.2,251.5 496.7,251.5 497.2,251.5 497.7,251.5 498.2,251.5 498.7,251.5 499.2,251.5 499.7,251.5 500.2,251.5 500.7,251.5 501.2,251.5 501.7,251.5 502.2,251.5 502.7,251.5 503.2,251.5 503.7,251.5 504.2,251.5 504.7,251.5 505.2,251.5 505.7,251.5 506.2,251.5 506.7,251.5 507.2,251.5 507.7,251.5 508.2,251.5 508.7,251.5 509.2,251.5 509.7,251.5 510.2,251.5 510.7,251.5 511.2,251.5 511.7,251.5 512.2,251.5 512.7,251.5 513.2,251.5 513.7,251.5 514.2,251.5 514.7,251.5 515.2,251.5 515.7,251.5 516.2,251.5 516.7,251.5 517.2,251.5 517.7,251.5 518.2,251.5 518.7,251.5 519.2,251.5 519.7,251.5 520.2,251.5 520.7,251.5 521.2,251.5 521.7,251.5 522.2,251.5 522.7,251.5 523.2,251.6 523.7,251.6 524.2,251.7 524.7,251.7 525.2,251.8 525.7,251.8 526.2,251.9 526.7,251.9 527.2,252 527.7,252 528.2,252.1 528.7,252.1 529.2,252.2 529.7,252.2 530.2,252.2 530.7,252.3 531.2,252.3 531.7,252.4 532.2,252.4 532.7,252.5 533.2,252.5 533.7,252.6 534.2,252.6 534.7,252.7 535.2,252.7 535.7,252.8 536.2,252.8 536.7,252.9 537.2,252.9 537.7,253 538.2,253 538.7,253.1 539.2,253.1 539.7,253.2 540.2,253.2 540.7,253.3 541.2,253.3 541.7,253.4 542.2,253.4 542.7,253.5 543.2,253.5 543.7,253.6 544.2,253.6 544.7,253.7 545.2,253.7 545.7,253.8 546.2,253.8 546.7,253.9 547.2,253.9 547.7,254 548.2,254 548.7,254.1 549.2,254.1 549.7,254.1 550.2,254.2 550.7,254.2 551.2,254.3 551.7,254.3 552.2,254.4 552.7,254.4 553.2,254.5 553.7,254.5 554.2,254.6 554.7,254.6 555.2,254.7 555.7,254.7 556.2,254.8 556.2,255.4 555.7,255.5 555.2,255.5 554.7,255.6 554.2,255.6 553.7,255.7 553.2,255.7 552.7,255.8 552.2,255.8 551.7,255.9 551.2,255.9 550.7,256 550.2,256 549.7,256.1 549.2,256.1 548.7,256.1 548.2,256.2 547.7,256.2 547.2,256.3 546.7,256.3 546.2,256.4 545.7,256.4 545.2,256.5 544.7,256.5 544.2,256.6 543.7,256.6 543.2,256.7 542.7,256.7 542.2,256.8 541.7,256.8 541.2,256.9 540.7,256.9 540.2,257 539.7,257 539.2,257.1 538.7,257.1 538.2,257.2 537.7,257.2 537.2,257.3 536.7,257.3 536.2,257.4 535.7,257.4 535.2,257.5 534.7,257.5 534.2,257.6 533.7,257.6 533.2,257.7 532.7,257.7 532.2,257.8 531.7,257.8 531.2,257.9 530.7,257.9 530.2,258 529.7,258 529.2,258 528.7,258.1 528.2,258.1 527.7,258.2 527.2,258.2 526.7,258.3 526.2,258.3 525.7,258.4 525.2,258.4 524.7,258.5 524.2,258.5 523.7,258.6 523.2,258.6 522.7,258.7 522.2,258.7 521.7,258.7 521.2,258.7 520.7,258.7 520.2,258.7 519.7,258.7 519.2,258.7 518.7,258.7 518.2,258.7 517.7,258.7 517.2,258.7 516.7,258.7 516.2,258.7 515.7,258.7 515.2,258.7 514.7,258.7 514.2,258.7 513.7,258.7 513.2,258.7 512.7,258.7 512.2,258.7 511.7,258.7 511.2,258.7 510.7,258.7 510.2,258.7 509.7,258.7 509.2,258.7 508.7,258.7 508.2,258.7 507.7,258.7 507.2,258.7 506.7,258.7 506.2,258.7 505.7,258.7 505.2,258.7 504.7,258.7 504.2,258.7 503.7,258.7 503.2,258.7 502.7,258.7 502.2,258.7 501.7,258.7 501.2,258.7 500.7,258.7 500.2,258.7 499.7,258.7 499.2,258.7 498.7,258.7 498.2,258.7 497.7,258.7 497.2,258.7 496.7,258.7 496.2,258.7 495.7,258.7 495.2,258.7 494.7,258.7 494.2,258.7 493.7,258.7 493.2,258.7 492.7,258.7 492.2,258.7 491.7,258.7 491.2,258.7 490.7,258.7 490.2,258.7 489.7,258.7 489.2,258.7 488.7,258.7 488.2,258.7 487.7,258.7 487.2,258.7 486.7,258.7 486.2,258.7 485.7,258.7 485.2,258.7 484.7,258.7 484.2,258.7 483.7,258.7 483.2,258.7 482.7,258.7 482.2,258.7 481.7,258.7 481.2,258.7 480.7,258.7 480.2,258.7 479.7,258.7 479.2,258.7 478.7,258.7 478.2,258.7 477.7,258.7 477.2,258.7 476.7,258.7 476.2,258.7 475.7,258.7 475.2,258.7 474.7,258.7 474.2,258.7 473.7,258.7 473.2,258.7 472.7,258.7 472.2,258.7 471.7,258.7 471.2,258.7 470.7,258.7 470.2,258.7 469.7,258.7 469.2,258.7 468.7,258.7 468.2,258.7 467.7,258.7 467.2,258.7 466.7,258.7 466.2,258.7 465.7,258.7 465.2,258.7 464.7,258.7 464.2,258.7 463.7,258.7 463.2,258.7 462.7,258.7 462.2,258.7 461.7,258.7 461.2,258.7 460.7,258.7 460.2,258.7 459.7,258.7 459.2,258.7 458.7,258.7 458.2,258.7 457.7,258.7 457.2,258.7 456.7,258.7 456.2,258.7 455.7,258.7 455.2,258.7 454.7,258.7 454.2,258.7 453.7,258.7 453.2,258.7 452.7,258.7 452.2,258.7 451.7,258.7 451.2,258.7 450.7,258.7 450.2,258.7 449.7,258.7 449.2,258.7 448.7,258.7 448.2,258.7 447.7,258.7 447.2,258.7 446.7,258.7 446.2,258.7 445.7,258.7 445.2,258.7 444.7,258.7 444.2,258.7 443.7,258.7 443.2,258.7 442.7,258.7 442.2,258.7 441.7,258.7 441.2,258.7 440.7,258.7 440.2,258.7 439.7,258.7 439.2,258.7 438.7,258.7 438.2,258.7 437.7,258.7 437.2,258.7 436.7,258.7 436.2,258.7 435.7,258.7 435.2,258.7 434.7,258.7 434.2,258.7 433.7,258.7 433.2,258.7 432.7,258.7 432.2,258.7 431.7,258.7 431.2,258.7 430.7,258.7 430.2,258.7 429.7,258.7 429.2,258.7 428.7,258.7 428.2,258.7 427.7,258.7 427.2,258.7 426.7,258.7 426.2,258.7 425.7,258.7 425.2,258.7 424.7,258.7 424.2,258.7 423.7,258.7 423.2,258.7 422.7,258.7 422.2,258.7 421.7,258.7 421.2,258.7 420.7,258.7 420.2,258.7 419.7,258.7 419.2,258.7 418.7,258.7 418.2,258.7 417.7,258.7 417.2,258.7 416.7,258.7 416.2,258.7 415.7,258.7 415.2,258.7 414.7,258.7 414.2,258.7 413.7,258.7 413.2,258.7 412.7,258.7 412.2,258.7 411.7,258.7 411.2,258.7 410.7,258.7 410.2,258.7 409.7,258.7 409.2,258.7 408.7,258.7 408.2,258.7 407.7,258.7 407.2,258.7 406.7,258.7 406.2,258.7 405.7,258.7 405.2,258.7 404.7,258.7 404.2,258.7 403.7,258.7 403.2,258.7 402.7,258.7 402.2,258.7 401.7,258.7 401.2,258.7 400.7,258.7 400.2,258.7 399.7,258.7 399.2,258.7 398.7,258.7 398.2,258.7 397.7,258.7 397.2,258.7 396.7,258.7 396.2,258.7 395.7,258.7 395.2,258.7 394.7,258.7 394.2,258.7 393.7,258.7 393.2,258.7 392.7,258.7 392.2,258.7 391.7,258.7 391.2,258.7 390.7,258.7 390.2,258.7 389.7,258.7 389.2,258.7 388.7,258.7 388.2,258.7 387.7,258.7 387.2,258.7 386.7,258.7 386.2,258.7 385.7,258.7 385.2,258.7 384.7,258.7 384.2,258.7 383.7,258.7 383.2,258.7 382.7,258.7 382.2,258.7 381.7,258.7 381.2,258.7 380.7,258.7 380.2,258.7 379.7,258.7 379.2,258.7 378.7,258.7 378.2,258.7 377.7,258.7 377.2,258.7 376.7,258.7 376.2,258.7 375.7,258.7 375.2,258.7 374.7,258.7 374.2,258.7 373.7,258.7 373.2,258.7 372.7,258.7 372.2,258.7 371.7,258.7 371.2,258.7 370.7,258.7 370.2,258.7 369.7,258.7 369.2,258.7 368.7,258.7 368.2,258.7 367.7,258.7 367.2,258.7 366.7,258.7 366.2,258.7 365.7,258.7 365.2,258.7 364.7,258.7 364.2,258.7 363.7,258.7 363.2,258.7 362.7,258.7 362.2,258.7 361.7,258.7 361.2,258.7 360.7,258.7 360.2,258.7 359.7,258.7 359.2,258.7 358.7,258.7 358.2,258.7 357.7,258.7 357.2,258.7 356.7,258.7 356.2,258.7 355.7,258.7 355.2,258.7 354.7,258.7 354.2,258.7 353.7,258.7 353.2,258.7 352.7,258.7 352.2,258.7 351.7,258.7 351.2,258.7 350.7,258.7 350.2,258.7 349.7,258.7 349.2,258.7 348.7,258.7 348.2,258.7 347.7,258.7 347.2,258.7 346.7,258.7 346.2,258.7 345.7,258.7 345.2,258.7 344.7,258.7 344.2,258.7 343.7,258.7 343.2,258.7 342.7,258.7 342.2,258.7 341.7,258.7 341.2,258.7 340.7,258.7 340.2,258.7 339.7,258.7 339.2,258.7 338.7,258.7 338.2,258.7 337.7,258.7 337.2,258.7 336.7,258.7 336.2,258.7 335.7,258.7 335.2,258.7 334.7,258.7 334.2,258.7 333.7,258.7 333.2,258.7 332.7,258.7 332.2,258.7 331.7,258.7 331.2,258.7 330.7,258.7 330.2,258.7 329.7,258.7 329.2,258.7 328.7,258.7 328.2,258.7 327.7,258.7 327.2,258.7 326.7,258.7 326.2,258.7 325.7,258.7 325.2,258.7 324.7,258.7 324.2,258.7 323.7,258.7 323.2,258.7 322.7,258.7 322.2,258.7 321.7,258.7 321.2,258.7 320.7,258.7 320.2,258.7 319.7,258.7 319.2,258.7 318.7,258.7 318.2,258.7 317.7,258.7 317.2,258.7 316.7,258.7 316.2,258.7 315.7,258.7 315.2,258.7 314.7,258.7 314.2,258.7 313.7,258.7 313.2,258.7 312.7,258.7 312.2,258.7 311.7,258.7 311.2,258.7 310.7,258.7 310.2,258.7 309.7,258.7 309.2,258.7 308.7,258.7 308.2,258.7 307.7,258.7 307.2,258.7 306.7,258.7 306.2,258.7 305.7,258.7 305.2,258.7 304.7,258.7 304.2,258.7 303.7,258.7 303.2,258.7 302.7,258.7 302.2,258.7 301.7,258.7 301.2,258.7 300.7,258.7 300.2,258.7 299.7,258.7 299.2,258.7 298.7,258.7 298.2,258.7 297.7,258.7 297.2,258.7 296.7,258.7 296.2,258.7 295.7,258.7 295.2,258.7 294.7,258.7 294.2,258.7 293.7,258.7 293.2,258.7 292.7,258.7 292.2,258.7 291.7,258.7 291.2,258.7 290.7,258.7 290.2,258.7 289.7,258.7 289.2,258.7 288.7,258.7 288.2,258.7 287.7,258.7 287.2,258.7 286.7,258.7 286.2,258.7 285.7,258.7 285.2,258.7 284.7,258.7 284.2,258.7 283.7,258.7 283.2,258.7 282.7,258.7 282.2,258.7 281.7,258.7 281.2,258.7 280.7,258.7 280.2,258.7 279.7,258.7 279.2,258.7 278.7,258.7 278.2,258.7 277.7,258.7 277.2,258.7 276.7,258.7 276.2,258.7 275.7,258.7 275.2,258.7 274.7,258.7 274.2,258.7 273.7,258.7 273.2,258.7 272.7,258.7 272.2,258.7 271.7,258.7 271.2,258.7 270.7,258.7 270.2,258.7 269.7,258.7 269.2,258.7 268.7,258.7 268.2,258.7 267.7,258.7 267.2,258.7 266.7,258.7 266.2,258.7 265.7,258.7 265.2,258.7 264.7,258.7 264.2,258.7 263.7,258.7 263.2,258.7 262.7,258.7 262.2,258.7 261.7,258.7 261.2,258.7 260.7,258.7 260.2,258.7 259.7,258.7 259.2,258.7 258.7,258.7 258.2,258.7 257.7,258.7 257.2,258.7 256.7,258.7 256.2,258.7 255.7,258.7 255.2,258.7 254.7,258.7 254.2,258.7 253.7,258.7 253.2,258.7 252.7,258.7 252.2,258.7 251.7,258.7 251.2,258.7 250.7,258.7 250.2,258.7 249.7,258.7 249.2,258.7 248.7,258.7 248.2,258.7 247.7,258.7 247.2,258.7 246.7,258.7 246.2,258.7 245.7,258.7 245.2,258.7 244.7,258.7 244.2,258.7 243.7,258.7 243.2,258.7 242.7,258.7 242.2,258.7 241.7,258.7 241.2,258.7 240.7,258.7 240.2,258.7 239.7,258.7 239.2,258.7 238.7,258.7 238.2,258.7 237.7,258.7 237.2,258.7 236.7,258.7 236.2,258.7 235.7,258.7 235.2,258.7 234.7,258.7 234.2,258.7 233.7,258.7 233.2,258.7 232.7,258.7 232.2,258.7 231.7,258.7 231.2,258.7 230.7,258.7 230.2,258.7 229.7,258.7 229.2,258.7 228.7,258.7 228.2,258.7 227.7,258.7 227.2,258.7 226.7,258.7 226.2,258.7 225.7,258.7 225.2,258.7 224.7,258.7 224.2,258.7 223.7,258.7 223.2,258.7 222.7,258.7 222.2,258.7 221.7,258.7 221.2,258.7 220.7,258.7 220.2,258.7 219.7,258.7 219.2,258.7 218.7,258.7 218.2,258.7 217.7,258.7 217.2,258.7 216.7,258.7 216.2,258.7 215.7,258.7 215.2,258.7 214.7,258.7 214.2,258.7 213.7,258.7 213.2,258.7 212.7,258.7 212.2,258.7 211.7,258.7 211.2,258.7 210.7,258.7 210.2,258.7 209.7,258.7 209.2,258.7 208.7,258.7 208.2,258.7 207.7,258.7 207.2,258.7 206.7,258.7 206.2,258.7 205.7,258.7 205.2,258.7 204.7,258.7 204.2,258.7 203.7,258.7 203.2,258.7 202.7,258.7 202.2,258.7 201.7,258.7 201.2,258.7 200.7,258.7 200.2,258.7 199.7,258.7 199.2,258.7 198.7,258.7 198.2,258.7 197.7,258.7 197.2,258.7 196.7,258.7 196.2,258.7 195.7,258.7 195.2,258.7 194.7,258.7 194.2,258.7 193.7,258.7 193.2,258.7 192.7,258.7 192.2,258.7 191.7,258.7 191.2,258.7 190.7,258.7 190.2,258.7 189.7,258.7 189.2,258.7 188.7,258.7 188.2,258.7 187.7,258.7 187.2,258.7 186.7,258.7 186.2,258.7 185.7,258.7 185.2,258.7 184.7,258.7 184.2,258.7 183.7,258.7 183.2,258.7 182.7,258.7 182.2,258.7 181.7,258.7 181.2,258.7 180.7,258.7 180.2,258.7 179.7,258.7 179.2,258.7 178.7,258.7 178.2,258.7 177.7,258.7 177.2,258.7 176.7,258.7 176.2,258.7 175.7,258.7 175.2,258.7 174.7,258.7 174.2,258.7 173.7,258.7 173.2,258.7 172.7,258.7 172.2,258.7 171.7,258.7 171.2,258.7 170.7,258.7 170.2,258.7 169.7,258.7 169.2,258.7 168.7,258.7 168.2,258.7 167.7,258.7 167.2,258.7 166.7,258.7 166.2,258.7 165.7,258.7 165.2,258.7 164.7,258.7 164.2,258.7 163.7,258.7 163.2,258.7 162.7,258.7 162.2,258.7 161.7,258.7 161.2,258.7 160.7,258.7 160.2,258.7 159.7,258.7 159.2,258.7 158.7,258.7 158.2,258.7 157.7,258.7 157.2,258.7 156.7,258.7 156.2,258.7 155.7,258.7 155.2,258.7 154.7,258.7 154.2,258.7 153.7,258.7 153.2,258.7 152.7,258.7 152.2,258.7 151.7,258.7 151.2,258.7 150.7,258.7 150.2,258.7 149.7,258.7 149.2,258.7 148.7,258.7 148.2,258.7 147.7,258.7 147.2,258.7 146.7,258.7 146.2,258.7 145.7,258.7 145.2,258.7 144.7,258.7 144.2,258.7 143.7,258.7 143.2,258.7 142.7,258.7 142.2,258.7 141.7,258.7 141.2,258.7 140.7,258.7 140.2,258.7 139.7,258.7 139.2,258.7 138.7,258.7 138.2,258.7 137.7,258.7 137.2,258.7 136.7,258.7 136.2,258.7 135.7,258.7 135.2,258.7 134.7,258.7 134.2,258.7 133.7,258.7 133.2,258.7 132.7,258.7 132.2,258.7 131.7,258.7 131.2,258.7 130.7,258.7 130.2,258.7 129.7,258.7 129.2,258.7 128.7,258.6 128.2,258.6 127.7,258.6 127.2,258.6 126.7,258.6 126.2,258.6 125.7,258.5 125.2,258.5 124.7,258.5 124.2,258.5 123.7,258.5 123.2,258.4 122.7,258.4 122.2,258.4 121.7,258.4 121.2,258.4 120.7,258.3 120.2,258.3 119.7,258.3 119.2,258.3 118.7,258.3 118.2,258.2 117.7,258.2 117.2,258.2 116.7,258.2 116.2,258.2 115.7,258.1 115.2,258.1 114.7,258.1 114.2,258.1 113.7,258.1 113.2,258 112.7,258 112.2,258 111.7,258 111.2,258 110.7,257.9 110.2,257.9 109.7,257.9 109.2,257.9 108.7,257.9 108.2,257.9 107.7,257.8 107.2,257.8 106.7,257.8 106.2,257.8 105.7,257.8 105.2,257.7 104.7,257.7 104.2,257.7 103.7,257.7 103.2,257.7 102.7,257.6 102.2,257.6 101.7,257.6 101.2,257.6 100.7,257.6 100.2,257.5 99.7,257.5 99.2,257.5 98.7,257.5 98.2,257.5 97.7,257.4 97.2,257.4 96.7,257.4 96.2,257.4 95.7,257.4 95.2,257.3 94.7,257.3 94.2,257.3 93.7,257.3 93.2,257.3 92.7,257.2 92.2,257.2 91.7,257.2 91.2,257.2 90.7,257.2 90.2,257.2 89.7,257.1 89.2,257.1 88.7,257.1 88.2,257.1 87.7,257.1 87.2,257 86.7,257 86.2,257 85.7,257 85.2,257 84.7,256.9 84.2,256.9 83.7,256.9 83.2,256.9 82.7,256.9 82.2,256.8 81.7,256.8 81.2,256.8 80.7,256.8 80.2,256.8 79.7,256.7 79.2,256.7 78.7,256.7 78.2,256.7 77.7,256.7 77.2,256.6 76.7,256.6 76.2,256.6 75.7,256.6 75.2,256.6 74.7,256.5 74.2,256.5 73.7,256.5 73.2,256.5 72.7,256.5 72.2,256.5 71.7,256.4 71.2,256.4 70.7,256.4 70.2,256.4 69.7,256.4 69.2,256.3 68.7,256.3 68.2,256.3 67.7,256.3 67.2,256.3 66.7,256.2 66.2,256.2 65.7,256.2 65.2,256.2 64.7,256.2 64.2,256.1 63.7,256.1 63.2,256.1 62.7,256.1 62.2,256.1 61.7,256 61.2,256 60.7,256 60.2,256 59.7,256 59.2,255.9 58.7,255.9 58.2,255.9 57.7,255.9 57.2,255.9 56.7,255.8 56.2,255.8 55.7,255.8 55.2,255.8 54.7,255.8 54.2,255.8 53.7,255.7 53.2,255.7 52.7,255.7 52.2,255.7 51.7,255.7 51.2,255.6 50.7,255.6 50.2,255.6 49.7,255.6 49.2,255.6 48.7,255.5Z" fill="#14a000" stroke="#008a00" stroke-width="0.5"/>
<line x1="15.7" y1="264.3" x2="49" y2="264.3" stroke="#990099" stroke-width="1" opacity="0.75"/>
<path d="M48.7,263.9 49.2,263.8 49.7,263.8 50.2,263.8 50.7,263.8 51.2,263.8 51.7,263.7 52.2,263.7 52.7,263.7 53.2,263.7 53.7,263.7 54.2,263.6 54.7,263.6 55.2,263.6 55.7,263.6 56.2,263.6 56.7,263.6 57.2,263.5 57.7,263.5 58.2,263.5 58.7,263.5 59.2,263.5 59.7,263.4 60.2,263.4 60.7,263.4 61.2,263.4 61.7,263.4 62.2,263.3 62.7,263.3 63.2,263.3 63.7,263.3 64.2,263.3 64.7,263.2 65.2,263.2 65.7,263.2 66.2,263.2 66.7,263.2 67.2,263.1 67.7,263.1 68.2,263.1 68.7,263.1 69.2,263.1 69.7,263 70.2,263 70.7,263 71.2,263 71.7,263 72.2,262.9 72.7,262.9 73.2,262.9 73.7,262.9 74.2,262.9 74.7,262.9 75.2,262.8 75.7,262.8 76.2,262.8 76.7,262.8 77.2,262.8 77.7,262.7 78.2,262.7 78.7,262.7 79.2,262.7 79.7,262.7 80.2,262.6 80.7,262.6 81.2,262.6 81.7,262.6 82.2,262.6 82.7,262.5 83.2,262.5 83.7,262.5 84.2,262.5 84.7,262.5 85.2,262.4 85.7,262.4 86.2,262.4 86.7,262.4 87.2,262.4 87.7,262.3 88.2,262.3 88.7,262.3 89.2,262.3 89.7,262.3 90.2,262.2 90.7,262.2 91.2,262.2 91.7,262.2 92.2,262.2 92.7,262.2 93.2,262.1 93.7,262.1 94.2,262.1 94.7,262.1 95.2,262.1 95.7,262 96.2,262 96.7,262 97.2,262 97.7,262 98.2,261.9 98.7,261.9 99.2,261.9 99.7,261.9 100.2,261.9 100.7,261.8 101.2,261.8 101.7,261.8 102.2,261.8 102.7,261.8 103.2,261.7 103.7,261.7 104.2,261.7 104.7,261.7 105.2,261.7 105.7,261.6 106.2,261.6 106.7,261.6 107.2,261.6 107.7,261.6 108.2,261.5 108.7,261.5 109.2,261.5 109.7,261.5 110.2,261.5 110.7,261.5 111.2,261.4 111.7,261.4 112.2,261.4 112.7,261.4 113.2,261.4 113.7,261.3 114.2,261.3 114.7,261.3 115.2,261.3 115.7,261.3 116.2,261.2 116.7,261.2 117.2,261.2 117.7,261.2 118.2,261.2 118.7,261.1 119.2,261.1 119.7,261.1 120.2,261.1 120.7,261.1 121.2,261 121.7,261 122.2,261 122.7,261 123.2,261 123.7,260.9 124.2,260.9 124.7,260.9 125.2,260.9 125.7,260.9 126.2,260.8 126.7,260.8 127.2,260.8 127.7,260.8 128.2,260.8 128.7,260.8 129.2,260.7 129.7,260.7 130.2,260.7 130.7,260.7 131.2,260.7 131.7,260.7 132.2,260.7 132.7,260.7 133.2,260.7 133.7,260.7 134.2,260.7 134.7,260.7 135.2,260.7 135.7,260.7 136.2,260.7 136.7,260.7 137.2,260.7 137.7,260.7 138.2,260.7 138.7,260.7 139.2,260.7 139.7,260.7 140.2,260.7 140.7,260.7 141.2,260.7 141.7,260.7 142.2,260.7 142.7,260.7 143.2,260.7 143.7,260.7 144.2,260.7 144.7,260.7 145.2,260.7 145.7,260.7 146.2,260.7 146.7,260.7 147.2,260.7 147.7,260.7 148.2,260.7 148.7,260.7 149.2,260.7 149.7,260.7 150.2,260.7 150.7,260.7 151.2,260.7 151.7,260.7 152.2,260.7 152.7,260.7 153.2,260.7 153.7,260.7 154.2,260.7 154.7,260.7 155.2,260.7 155.7,260.7 156.2,260.7 156.7,260.7 157.2,260.7 157.7,260.7 158.2,260.7 158.7,260.7 159.2,260.7 159.7,260.7 160.2,260.7 160.7,260.7 161.2,260.7 161.7,260.7 162.2,260.7 162.7,260.7 163.2,260.7 163.7,260.7 164.2,260.7 164.7,260.7 165.2,260.7 165.7,260.7 166.2,260.7 166.7,260.7 167.2,260.7 167.7,260.7 168.2,260.7 168.7,260.7 169.2,260.7 169.7,260.7 170.2,260.7 170.7,260.7 171.2,260.7 171.7,260.7 172.2,260.7 172.7,260.7 173.2,260.7 173.7,260.7 174.2,260.7 174.7,260.7 175.2,260.7 175.7,260.7 176.2,260.7 176.7,260.7 177.2,260.7 177.7,260.7 178.2,260.7 178.7,260.7 179.2,260.7 179.7,260.7 180.2,260.7 180.7,260.7 181.2,260.7 181.7,260.7 182.2,260.7 182.7,260.7 183.2,260.7 183.7,260.7 184.2,260.7 184.7,260.7 185.2,260.7 185.7,260.7 186.2,260.7 186.7,260.7 187.2,260.7 187.7,260.7 188.2,260.7 188.7,260.7 189.2,260.7 189.7,260.7 190.2,260.7 190.7,260.7 191.2,260.7 191.7,260.7 192.2,260.7 192.7,260.7 193.2,260.7 193.7,260.7 194.2,260.7 194.7,260.7 195.2,260.7 195.7,260.7 196.2,260.7 196.7,260.7 197.2,260.7 197.7,260.7 198.2,260.7 198.7,260.7 199.2,260.7 199.7,260.7 200.2,260.7 200.7,260.7 201.2,260.7 201.7,260.7 202.2,260.7 202.7,260.7 203.2,260.7 203.7,260.7 204.2,260.7 204.7,260.7 205.2,260.7 205.7,260.7 206.2,260.7 206.7,260.7 207.2,260.7 207.7,260.7 208.2,260.7 208.7,260.7 209.2,260.7 209.7,260.7 210.2,260.7 210.7,260.7 211.2,260.7 211.7,260.7 212.2,260.7 212.7,260.7 213.2,260.7 213.7,260.7 214.2,260.7 214.7,260.7 215.2,260.7 215.7,260.7 216.2,260.7 216.7,260.7 217.2,260.7 217.7,260.7 218.2,260.7 218.7,260.7 219.2,260.7 219.7,260.7 220.2,260.7 220.7,260.7 221.2,260.7 221.7,260.7 222.2,260.7 222.7,260.7 223.2,260.7 223.7,260.7 224.2,260.7 224.7,260.7 225.2,260.7 225.7,260.7 226.2,260.7 226.7,260.7 227.2,260.7 227.7,260.7 228.2,260.7 228.7,260.7 229.2,260.7 229.7,260.7 230.2,260.7 230.7,260.7 231.2,260.7 231.7,260.7 232.2,260.7 232.7,260.7 233.2,260.7 233.7,260.7 234.2,260.7 234.7,260.7 235.2,260.7 235.7,260.7 236.2,260.7 236.7,260.7 237.2,260.7 237.7,260.7 238.2,260.7 238.7,260.7 239.2,260.7 239.7,260.7 240.2,260.7 240.7,260.7 241.2,260.7 241.7,260.7 242.2,260.7 242.7,260.7 243.2,260.7 243.7,260.7 244.2,260.7 244.7,260.7 245.2,260.7 245.7,260.7 246.2,260.7 246.7,260.7 247.2,260.7 247.7,260.7 248.2,260.7 248.7,260.7 249.2,260.7 249.7,260.7 250.2,260.7 250.7,260.7 251.2,260.7 251.7,260.7 252.2,260.7 252.7,260.7 253.2,260.7 253.7,260.7 254.2,260.7 254.7,260.7 255.2,260.7 255.7,260.7 256.2,260.7 256.7,260.7 257.2,260.7 257.7,260.7 258.2,260.7 258.7,260.7 259.2,260.7 259.7,260.7 260.2,260.7 260.7,260.7 261.2,260.7 261.7,260.7 262.2,260.7 262.7,260.7 263.2,260.7 263.7,260.7 264.2,260.7 264.7,260.7 265.2,260.7 265.7,260.7 266.2,260.7 266.7,260.7 267.2,260.7 267.7,260.7 268.2,260.7 268.7,260.7 269.2,260.7 269.7,260.7 270.2,260.7 270.7,260.7 271.2,260.7 271.7,260.7 272.2,260.7 272.7,260.7 273.2,260.7 273.7,260.7 274.2,260.7 274.7,260.7 275.2,260.7 275.7,260.7 276.2,260.7 276.7,260.7 277.2,260.7 277.7,260.7 278.2,260.7 278.7,260.7 279.2,260.7 279.7,260.7 280.2,260.7 280.7,260.7 281.2,260.7 281.7,260.7 282.2,260.7 282.7,260.7 283.2,260.7 283.7,260.7 284.2,260.7 284.7,260.7 285.2,260.7 285.7,260.7 286.2,260.7 286.7,260.7 287.2,260.7 287.7,260.7 288.2,260.7 288.7,260.7 289.2,260.7 289.7,260.7 290.2,260.7 290.7,260.7 291.2,260.7 291.7,260.7 292.2,260.7 292.7,260.7 293.2,260.7 293.7,260.7 294.2,260.7 294.7,260.7 295.2,260.7 295.7,260.7 296.2,260.7 296.7,260.7 297.2,260.7 297.7,260.7 298.2,260.7 298.7,260.7 299.2,260.7 299.7,260.7 300.2,260.7 300.7,260.7 301.2,260.7 301.7,260.7 302.2,260.7 302.7,260.7 303.2,260.7 303.7,260.7 304.2,260.7 304.7,260.7 305.2,260.7 305.7,260.7 306.2,260.7 306.7,260.7 307.2,260.7 307.7,260.7 308.2,260.7 308.7,260.7 309.2,260.7 309.7,260.7 310.2,260.7 310.7,260.7 311.2,260.7 311.7,260.7 312.2,260.7 312.7,260.7 313.2,260.7 313.7,260.7 314.2,260.7 314.7,260.7 315.2,260.7 315.7,260.7 316.2,260.7 316.7,260.7 317.2,260.7 317.7,260.7 318.2,260.7 318.7,260.7 319.2,260.7 319.7,260.7 320.2,260.7 320.7,260.7 321.2,260.7 321.7,260.7 322.2,260.7 322.7,260.7 323.2,260.7 323.7,260.7 324.2,260.7 324.7,260.7 325.2,260.7 325.7,260.7 326.2,260.7 326.7,260.7 327.2,260.7 327.7,260.7 328.2,260.7 328.7,260.7 329.2,260.7 329.7,260.7 330.2,260.7 330.7,260.7 331.2,260.7 331.7,260.7 332.2,260.7 332.7,260.7 333.2,260.7 333.7,260.7 334.2,260.7 334.7,260.7 335.2,260.7 335.7,260.7 336.2,260.7 336.7,260.7 337.2,260.7 337.7,260.7 338.2,260.7 338.7,260.7 339.2,260.7 339.7,260.7 340.2,260.7 340.7,260.7 341.2,260.7 341.7,260.7 342.2,260.7 342.7,260.7 343.2,260.7 343.7,260.7 344.2,260.7 344.7,260.7 345.2,260.7 345.7,260.7 346.2,260.7 346.7,260.7 347.2,260.7 347.7,260.7 348.2,260.7 348.7,260.7 349.2,260.7 349.7,260.7 350.2,260.7 350.7,260.7 351.2,260.7 351.7,260.7 352.2,260.7 352.7,260.7 353.2,260.7 353.7,260.7 354.2,260.7 354.7,260.7 355.2,260.7 355.7,260.7 356.2,260.7 356.7,260.7 357.2,260.7 357.7,260.7 358.2,260.7 358.7,260.7 359.2,260.7 359.7,260.7 360.2,260.7 360.7,260.7 361.2,260.7 361.7,260.7 362.2,260.7 362.7,260.7 363.2,260.7 363.7,260.7 364.2,260.7 364.7,260.7 365.2,260.7 365.7,260.7 366.2,260.7 366.7,260.7 367.2,260.7 367.7,260.7 368.2,260.7 368.7,260.7 369.2,260.7 369.7,260.7 370.2,260.7 370.7,260.7 371.2,260.7 371.7,260.7 372.2,260.7 372.7,260.7 373.2,260.7 373.7,260.7 374.2,260.7 374.7,260.7 375.2,260.7 375.7,260.7 376.2,260.7 376.7,260.7 377.2,260.7 377.7,260.7 378.2,260.7 378.7,260.7 379.2,260.7 379.7,260.7 380.2,260.7 380.7,260.7 381.2,260.7 381.7,260.7 382.2,260.7 382.7,260.7 383.2,260.7 383.7,260.7 384.2,260.7 384.7,260.7 385.2,260.7 385.7,260.7 386.2,260.7 386.7,260.7 387.2,260.7 387.7,260.7 388.2,260.7 388.7,260.7 389.2,260.7 389.7,260.7 390.2,260.7 390.7,260.7 391.2,260.7 391.7,260.7 392.2,260.7 392.7,260.7 393.2,260.7 393.7,260.7 394.2,260.7 394.7,260.7 395.2,260.7 395.7,260.7 396.2,260.7 396.7,260.7 397.2,260.7 397.7,260.7 398.2,260.7 398.7,260.7 399.2,260.7 399.7,260.7 400.2,260.7 400.7,260.7 401.2,260.7 401.7,260.7 402.2,260.7 402.7,260.7 403.2,260.7 403.7,260.7 404.2,260.7 404.7,260.7 405.2,260.7 405.7,260.7 406.2,260.7 406.7,260.7 407.2,260.7 407.7,260.7 408.2,260.7 408.7,260.7 409.2,260.7 409.7,260.7 410.2,260.7 410.7,260.7 411.2,260.7 411.7,260.7 412.2,260.7 412.7,260.7 413.2,260.7 413.7,260.7 414.2,260.7 414.7,260.7 415.2,260.7 415.7,260.7 416.2,260.7 416.7,260.7 417.2,260.7 417.7,260.7 418.2,260.7 418.7,260.7 419.2,260.7 419.7,260.7 420.2,260.7 420.7,260.7 421.2,260.7 421.7,260.7 422.2,260.7 422.7,260.7 423.2,260.7 423.7,260.7 424.2,260.7 424.7,260.7 425.2,260.7 425.7,260.7 426.2,260.7 426.7,260.7 427.2,260.7 427.7,260.7 428.2,260.7 428.7,260.7 429.2,260.7 429.7,260.7 430.2,260.7 430.7,260.7 431.2,260.7 431.7,260.7 432.2,260.7 432.7,260.7 433.2,260.7 433.7,260.7 434.2,260.7 434.7,260.7 435.2,260.7 435.7,260.7 436.2,260.7 436.7,260.7 437.2,260.7 437.7,260.7 438.2,260.7 438.7,260.7 439.2,260.7 439.7,260.7 440.2,260.7 440.7,260.7 441.2,260.7 441.7,260.7 442.2,260.7 442.7,260.7 443.2,260.7 443.7,260.7 444.2,260.7 444.7,260.7 445.2,260.7 445.7,260.7 446.2,260.7 446.7,260.7 447.2,260.7 447.7,260.7 448.2,260.7 448.7,260.7 449.2,260.7 449.7,260.7 450.2,260.7 450.7,260.7 451.2,260.7 451.7,260.7 452.2,260.7 452.7,260.7 453.2,260.7 453.7,260.7 454.2,260.7 454.7,260.7 455.2,260.7 455.7,260.7 456.2,260.7 456.7,260.7 457.2,260.7 457.7,260.7 458.2,260.7 458.7,260.7 459.2,260.7 459.7,260.7 460.2,260.7 460.7,260.7 461.2,260.7 461.7,260.7 462.2,260.7 462.7,260.7 463.2,260.7 463.7,260.7 464.2,260.7 464.7,260.7 465.2,260.7 465.7,260.7 466.2,260.7 466.7,260.7 467.2,260.7 467.7,260.7 468.2,260.7 468.7,260.7 469.2,260.7 469.7,260.7 470.2,260.7 470.7,260.7 471.2,260.7 471.7,260.7 472.2,260.7 472.7,260.7 473.2,260.7 473.7,260.7 474.2,260.7 474.7,260.7 475.2,260.7 475.7,260.7 476.2,260.7 476.7,260.7 477.2,260.7 477.7,260.7 478.2,260.7 478.7,260.7 479.2,260.7 479.7,260.7 480.2,260.7 480.7,260.7 481.2,260.7 481.7,260.7 482.2,260.7 482.7,260.7 483.2,260.7 483.7,260.7 484.2,260.7 484.7,260.7 485.2,260.7 485.7,260.7 486.2,260.7 486.7,260.7 487.2,260.7 487.7,260.7 488.2,260.7 488.7,260.7 489.2,260.7 489.7,260.7 490.2,260.7 490.7,260.7 491.2,260.7 491.7,260.7 492.2,260.7 492.7,260.7 493.2,260.7 493.7,260.7 494.2,260.7 494.7,260.7 495.2,260.7 495.7,260.7 496.2,260.7 496.7,260.7 497.2,260.7 497.7,260.7 498.2,260.7 498.7,260.7 499.2,260.7 499.7,260.7 500.2,260.7 500.7,260.7 501.2,260.7 501.7,260.7 502.2,260.7 502.7,260.7 503.2,260.7 503.7,260.7 504.2,260.7 504.7,260.7 505.2,260.7 505.7,260.7 506.2,260.7 506.7,260.7 507.2,260.7 507.7,260.7 508.2,260.7 508.7,260.7 509.2,260.7 509.7,260.7 510.2,260.7 510.7,260.7 511.2,260.7 511.7,260.7 512.2,260.7 512.7,260.7 513.2,260.7 513.7,260.7 514.2,260.7 514.7,260.7 515.2,260.7 515.7,260.7 516.2,260.7 516.7,260.7 517.2,260.7 517.7,260.7 518.2,260.7 518.7,260.7 519.2,260.7 519.7,260.7 520.2,260.7 520.7,260.7 521.2,260.7 521.7,260.7 522.2,260.7 522.7,260.7 523.2,260.8 523.7,260.8 524.2,260.9 524.7,260.9 525.2,261 525.7,261 526.2,261.1 526.7,261.1 527.2,261.2 527.7,261.2 528.2,261.3 528.7,261.3 529.2,261.4 529.7,261.4 530.2,261.4 530.7,261.5 531.2,261.5 531.7,261.6 532.2,261.6 532.7,261.7 533.2,261.7 533.7,261.8 534.2,261.8 534.7,261.9 535.2,261.9 535.7,262 536.2,262 536.7,262.1 537.2,262.1 537.7,262.2 538.2,262.2 538.7,262.3 539.2,262.3 539.7,262.4 540.2,262.4 540.7,262.5 541.2,262.5 541.7,262.6 542.2,262.6 542.7,262.7 543.2,262.7 543.7,262.8 544.2,262.8 544.7,262.9 545.2,262.9 545.7,263 546.2,263 546.7,263.1 547.2,263.1 547.7,263.2 548.2,263.2 548.7,263.3 549.2,263.3 549.7,263.3 550.2,263.4 550.7,263.4 551.2,263.5 551.7,263.5 552.2,263.6 552.7,263.6 553.2,263.7 553.7,263.7 554.2,263.8 554.7,263.8 555.2,263.9 555.7,263.9 556.2,264 556.2,264.6 555.7,264.7 555.2,264.7 554.7,264.8 554.2,264.8 553.7,264.9 553.2,264.9 552.7,265 552.2,265 551.7,265.1 551.2,265.1 550.7,265.2 550.2,265.2 549.7,265.3 549.2,265.3 548.7,265.3 548.2,265.4 547.7,265.4 547.2,265.5 546.7,265.5 546.2,265.6 545.7,265.6 545.2,265.7 544.7,265.7 544.2,265.8 543.7,265.8 543.2,265.9 542.7,265.9 542.2,266 541.7,266 541.2,266.1 540.7,266.1 540.2,266.2 539.7,266.2 539.2,266.3 538.7,266.3 538.2,266.4 537.7,266.4 537.2,266.5 536.7,266.5 536.2,266.6 535.7,266.6 535.2,266.7 534.7,266.7 534.2,266.8 533.7,266.8 533.2,266.9 532.7,266.9 532.2,267 531.7,267 531.2,267.1 530.7,267.1 530.2,267.2 529.7,267.2 529.2,267.2 528.7,267.3 528.2,267.3 527.7,267.4 527.2,267.4 526.7,267.5 526.2,267.5 525.7,267.6 525.2,267.6 524.7,267.7 524.2,267.7 523.7,267.8 523.2,267.8 522.7,267.9 522.2,267.9 521.7,267.9 521.2,267.9 520.7,267.9 520.2,267.9 519.7,267.9 519.2,267.9 518.7,267.9 518.2,267.9 517.7,267.9 517.2,267.9 516.7,267.9 516.2,267.9 515.7,267.9 515.2,267.9 514.7,267.9 514.2,267.9 513.7,267.9 513.2,267.9 512.7,267.9 512.2,267.9 511.7,267.9 511.2,267.9 510.7,267.9 510.2,267.9 509.7,267.9 509.2,267.9 508.7,267.9 508.2,267.9 507.7,267.9 507.2,267.9 506.7,267.9 506.2,267.9 505.7,267.9 505.2,267.9 504.7,267.9 504.2,267.9 503.7,267.9 503.2,267.9 502.7,267.9 502.2,267.9 501.7,267.9 501.2,267.9 500.7,267.9 500.2,267.9 499.7,267.9 499.2,267.9 498.7,267.9 498.2,267.9 497.7,267.9 497.2,267.9 496.7,267.9 496.2,267.9 495.7,267.9 495.2,267.9 494.7,267.9 494.2,267.9 493.7,267.9 493.2,267.9 492.7,267.9 492.2,267.9 491.7,267.9 491.2,267.9 490.7,267.9 490.2,267.9 489.7,267.9 489.2,267.9 488.7,267.9 488.2,267.9 487.7,267.9 487.2,267.9 486.7,267.9 486.2,267.9 485.7,267.9 485.2,267.9 484.7,267.9 484.2,267.9 483.7,267.9 483.2,267.9 482.7,267.9 482.2,267.9 481.7,267.9 481.2,267.9 480.7,267.9 480.2,267.9 479.7,267.9 479.2,267.9 478.7,267.9 478.2,267.9 477.7,267.9 477.2,267.9 476.7,267.9 476.2,267.9 475.7,267.9 475.2,267.9 474.7,267.9 474.2,267.9 473.7,267.9 473.2,267.9 472.7,267.9 472.2,267.9 471.7,267.9 471.2,267.9 470.7,267.9 470.2,267.9 469.7,267.9 469.2,267.9 468.7,267.9 468.2,267.9 467.7,267.9 467.2,267.9 466.7,267.9 466.2,267.9 465.7,267.9 465.2,267.9 464.7,267.9 464.2,267.9 463.7,267.9 463.2,267.9 462.7,267.9 462.2,267.9 461.7,267.9 461.2,267.9 460.7,267.9 460.2,267.9 459.7,267.9 459.2,267.9 458.7,267.9 458.2,267.9 457.7,267.9 457.2,267.9 456.7,267.9 456.2,267.9 455.7,267.9 455.2,267.9 454.7,267.9 454.2,267.9 453.7,267.9 453.2,267.9 452.7,267.9 452.2,267.9 451.7,267.9 451.2,267.9 450.7,267.9 450.2,267.9 449.7,267.9 449.2,267.9 448.7,267.9 448.2,267.9 447.7,267.9 447.2,267.9 446.7,267.9 446.2,267.9 445.7,267.9 445.2,267.9 444.7,267.9 444.2,267.9 443.7,267.9 443.2,267.9 442.7,267.9 442.2,267.9 441.7,267.9 441.2,267.9 440.7,267.9 440.2,267.9 439.7,267.9 439.2,267.9 438.7,267.9 438.2,267.9 437.7,267.9 437.2,267.9 436.7,267.9 436.2,267.9 435.7,267.9 435.2,267.9 434.7,267.9 434.2,267.9 433.7,267.9 433.2,267.9 432.7,267.9 432.2,267.9 431.7,267.9 431.2,267.9 430.7,267.9 430.2,267.9 429.7,267.9 429.2,267.9 428.7,267.9 428.2,267.9 427.7,267.9 427.2,267.9 426.7,267.9 426.2,267.9 425.7,267.9 425.2,267.9 424.7,267.9 424.2,267.9 423.7,267.9 423.2,267.9 422.7,267.9 422.2,267.9 421.7,267.9 421.2,267.9 420.7,267.9 420.2,267.9 419.7,267.9 419.2,267.9 418.7,267.9 418.2,267.9 417.7,267.9 417.2,267.9 416.7,267.9 416.2,267.9 415.7,267.9 415.2,267.9 414.7,267.9 414.2,267.9 413.7,267.9 413.2,267.9 412.7,267.9 412.2,267.9 411.7,267.9 411.2,267.9 410.7,267.9 410.2,267.9 409.7,267.9 409.2,267.9 408.7,267.9 408.2,267.9 407.7,267.9 407.2,267.9 406.7,267.9 406.2,267.9 405.7,267.9 405.2,267.9 404.7,267.9 404.2,267.9 403.7,267.9 403.2,267.9 402.7,267.9 402.2,267.9 401.7,267.9 401.2,267.9 400.7,267.9 400.2,267.9 399.7,267.9 399.2,267.9 398.7,267.9 398.2,267.9 397.7,267.9 397.2,267.9 396.7,267.9 396.2,267.9 395.7,267.9 395.2,267.9 394.7,267.9 394.2,267.9 393.7,267.9 393.2,267.9 392.7,267.9 392.2,267.9 391.7,267.9 391.2,267.9 390.7,267.9 390.2,267.9 389.7,267.9 389.2,267.9 388.7,267.9 388.2,267.9 387.7,267.9 387.2,267.9 386.7,267.9 386.2,267.9 385.7,267.9 385.2,267.9 384.7,267.9 384.2,267.9 383.7,267.9 383.2,267.9 382.7,267.9 382.2,267.9 381.7,267.9 381.2,267.9 380.7,267.9 380.2,267.9 379.7,267.9 379.2,267.9 378.7,267.9 378.2,267.9 377.7,267.9 377.2,267.9 376.7,267.9 376.2,267.9 375.7,267.9 375.2,267.9 374.7,267.9 374.2,267.9 373.7,267.9 373.2,267.9 372.7,267.9 372.2,267.9 371.7,267.9 371.2,267.9 370.7,267.9 370.2,267.9 369.7,267.9 369.2,267.9 368.7,267.9 368.2,267.9 367.7,267.9 367.2,267.9 366.7,267.9 366.2,267.9 365.7,267.9 365.2,267.9 364.7,267.9 364.2,267.9 363.7,267.9 363.2,267.9 362.7,267.9 362.2,267.9 361.7,267.9 361.2,267.9 360.7,267.9 360.2,267.9 359.7,267.9 359.2,267.9 358.7,267.9 358.2,267.9 357.7,267.9 357.2,267.9 356.7,267.9 356.2,267.9 355.7,267.9 355.2,267.9 354.7,267.9 354.2,267.9 353.7,267.9 353.2,267.9 352.7,267.9 352.2,267.9 351.7,267.9 351.2,267.9 350.7,267.9 350.2,267.9 349.7,267.9 349.2,267.9 348.7,267.9 348.2,267.9 347.7,267.9 347.2,267.9 346.7,267.9 346.2,267.9 345.7,267.9 345.2,267.9 344.7,267.9 344.2,267.9 343.7,267.9 343.2,267.9 342.7,267.9 342.2,267.9 341.7,267.9 341.2,267.9 340.7,267.9 340.2,267.9 339.7,267.9 339.2,267.9 338.7,267.9 338.2,267.9 337.7,267.9 337.2,267.9 336.7,267.9 336.2,267.9 335.7,267.9 335.2,267.9 334.7,267.9 334.2,267.9 333.7,267.9 333.2,267.9 332.7,267.9 332.2,267.9 331.7,267.9 331.2,267.9 330.7,267.9 330.2,267.9 329.7,267.9 329.2,267.9 328.7,267.9 328.2,267.9 327.7,267.9 327.2,267.9 326.7,267.9 326.2,267.9 325.7,267.9 325.2,267.9 324.7,267.9 324.2,267.9 323.7,267.9 323.2,267.9 322.7,267.9 322.2,267.9 321.7,267.9 321.2,267.9 320.7,267.9 320.2,267.9 319.7,267.9 319.2,267.9 318.7,267.9 318.2,267.9 317.7,267.9 317.2,267.9 316.7,267.9 316.2,267.9 315.7,267.9 315.2,267.9 314.7,267.9 314.2,267.9 313.7,267.9 313.2,267.9 312.7,267.9 312.2,267.9 311.7,267.9 311.2,267.9 310.7,267.9 310.2,267.9 309.7,267.9 309.2,267.9 308.7,267.9 308.2,267.9 307.7,267.9 307.2,267.9 306.7,267.9 306.2,267.9 305.7,267.9 305.2,267.9 304.7,267.9 304.2,267.9 303.7,267.9 303.2,267.9 302.7,267.9 302.2,267.9 301.7,267.9 301.2,267.9 300.7,267.9 300.2,267.9 299.7,267.9 299.2,267.9 298.7,267.9 298.2,267.9 297.7,267.9 297.2,267.9 296.7,267.9 296.2,267.9 295.7,267.9 295.2,267.9 294.7,267.9 294.2,267.9 293.7,267.9 293.2,267.9 292.7,267.9 292.2,267.9 291.7,267.9 291.2,267.9 290.7,267.9 290.2,267.9 289.7,267.9 289.2,267.9 288.7,267.9 288.2,267.9 287.7,267.9 287.2,267.9 286.7,267.9 286.2,267.9 285.7,267.9 285.2,267.9 284.7,267.9 284.2,267.9 283.7,267.9 283.2,267.9 282.7,267.9 282.2,267.9 281.7,267.9 281.2,267.9 280.7,267.9 280.2,267.9 279.7,267.9 279.2,267.9 278.7,267.9 278.2,267.9 277.7,267.9 277.2,267.9 276.7,267.9 276.2,267.9 275.7,267.9 275.2,267.9 274.7,267.9 274.2,267.9 273.7,267.9 273.2,267.9 272.7,267.9 272.2,267.9 271.7,267.9 271.2,267.9 270.7,267.9 270.2,267.9 269.7,267.9 269.2,267.9 268.7,267.9 268.2,267.9 267.7,267.9 267.2,267.9 266.7,267.9 266.2,267.9 265.7,267.9 265.2,267.9 264.7,267.9 264.2,267.9 263.7,267.9 263.2,267.9 262.7,267.9 262.2,267.9 261.7,267.9 261.2,267.9 260.7,267.9 260.2,267.9 259.7,267.9 259.2,267.9 258.7,267.9 258.2,267.9 257.7,267.9 257.2,267.9 256.7,267.9 256.2,267.9 255.7,267.9 255.2,267.9 254.7,267.9 254.2,267.9 253.7,267.9 253.2,267.9 252.7,267.9 252.2,267.9 251.7,267.9 251.2,267.9 250.7,267.9 250.2,267.9 249.7,267.9 249.2,267.9 248.7,267.9 248.2,267.9 247.7,267.9 247.2,267.9 246.7,267.9 246.2,267.9 245.7,267.9 245.2,267.9 244.7,267.9 244.2,267.9 243.7,267.9 243.2,267.9 242.7,267.9 242.2,267.9 241.7,267.9 241.2,267.9 240.7,267.9 240.2,267.9 239.7,267.9 239.2,267.9 238.7,267.9 238.2,267.9 237.7,267.9 237.2,267.9 236.7,267.9 236.2,267.9 235.7,267.9 235.2,267.9 234.7,267.9 234.2,267.9 233.7,267.9 233.2,267.9 232.7,267.9 232.2,267.9 231.7,267.9 231.2,267.9 230.7,267.9 230.2,267.9 229.7,267.9 229.2,267.9 228.7,267.9 228.2,267.9 227.7,267.9 227.2,267.9 226.7,267.9 226.2,267.9 225.7,267.9 225.2,267.9 224.7,267.9 224.2,267.9 223.7,267.9 223.2,267.9 222.7,267.9 222.2,267.9 221.7,267.9 221.2,267.9 220.7,267.9 220.2,267.9 219.7,267.9 219.2,267.9 218.7,267.9 218.2,267.9 217.7,267.9 217.2,267.9 216.7,267.9 216.2,267.9 215.7,267.9 215.2,267.9 214.7,267.9 214.2,267.9 213.7,267.9 213.2,267.9 212.7,267.9 212.2,267.9 211.7,267.9 211.2,267.9 210.7,267.9 210.2,267.9 209.7,267.9 209.2,267.9 208.7,267.9 208.2,267.9 207.7,267.9 207.2,267.9 206.7,267.9 206.2,267.9 205.7,267.9 205.2,267.9 204.7,267.9 204.2,267.9 203.7,267.9 203.2,267.9 202.7,267.9 202.2,267.9 201.7,267.9 201.2,267.9 200.7,267.9 200.2,267.9 199.7,267.9 199.2,267.9 198.7,267.9 198.2,267.9 197.7,267.9 197.2,267.9 196.7,267.9 196.2,267.9 195.7,267.9 195.2,267.9 194.7,267.9 194.2,267.9 193.7,267.9 193.2,267.9 192.7,267.9 192.2,267.9 191.7,267.9 191.2,267.9 190.7,267.9 190.2,267.9 189.7,267.9 189.2,267.9 188.7,267.9 188.2,267.9 187.7,267.9 187.2,267.9 186.7,267.9 186.2,267.9 185.7,267.9 185.2,267.9 184.7,267.9 184.2,267.9 183.7,267.9 183.2,267.9 182.7,267.9 182.2,267.9 181.7,267.9 181.2,267.9 180.7,267.9 180.2,267.9 179.7,267.9 179.2,267.9 178.7,267.9 178.2,267.9 177.7,267.9 177.2,267.9 176.7,267.9 176.2,267.9 175.7,267.9 175.2,267.9 174.7,267.9 174.2,267.9 173.7,267.9 173.2,267.9 172.7,267.9 172.2,267.9 171.7,267.9 171.2,267.9 170.7,267.9 170.2,267.9 169.7,267.9 169.2,267.9 168.7,267.9 168.2,267.9 167.7,267.9 167.2,267.9 166.7,267.9 166.2,267.9 165.7,267.9 165.2,267.9 164.7,267.9 164.2,267.9 163.7,267.9 163.2,267.9 162.7,267.9 162.2,267.9 161.7,267.9 161.2,267.9 160.7,267.9 160.2,267.9 159.7,267.9 159.2,267.9 158.7,267.9 158.2,267.9 157.7,267.9 157.2,267.9 156.7,267.9 156.2,267.9 155.7,267.9 155.2,267.9 154.7,267.9 154.2,267.9 153.7,267.9 153.2,267.9 152.7,267.9 152.2,267.9 151.7,267.9 151.2,267.9 150.7,267.9 150.2,267.9 149.7,267.9 149.2,267.9 148.7,267.9 148.2,267.9 147.7,267.9 147.2,267.9 146.7,267.9 146.2,267.9 145.7,267.9 145.2,267.9 144.7,267.9 144.2,267.9 143.7,267.9 143.2,267.9 142.7,267.9 142.2,267.9 141.7,267.9 141.2,267.9 140.7,267.9 140.2,267.9 139.7,267.9 139.2,267.9 138.7,267.9 138.2,267.9 137.7,267.9 137.2,267.9 136.7,267.9 136.2,267.9 135.7,267.9 135.2,267.9 134.7,267.9 134.2,267.9 133.7,267.9 133.2,267.9 132.7,267.9 132.2,267.9 131.7,267.9 131.2,267.9 130.7,267.9 130.2,267.9 129.7,267.9 129.2,267.9 128.7,267.8 128.2,267.8 127.7,267.8 127.2,267.8 126.7,267.8 126.2,267.8 125.7,267.7 125.2,267.7 124.7,267.7 124.2,267.7 123.7,267.7 123.2,267.6 122.7,267.6 122.2,267.6 121.7,267.6 121.2,267.6 120.7,267.5 120.2,267.5 119.7,267.5 119.2,267.5 118.7,267.5 118.2,267.4 117.7,267.4 117.2,267.4 116.7,267.4 116.2,267.4 115.7,267.3 115.2,267.3 114.7,267.3 114.2,267.3 113.7,267.3 113.2,267.2 112.7,267.2 112.2,267.2 111.7,267.2 111.2,267.2 110.7,267.1 110.2,267.1 109.7,267.1 109.2,267.1 108.7,267.1 108.2,267.1 107.7,267 107.2,267 106.7,267 106.2,267 105.7,267 105.2,266.9 104.7,266.9 104.2,266.9 103.7,266.9 103.2,266.9 102.7,266.8 102.2,266.8 101.7,266.8 101.2,266.8 100.7,266.8 100.2,266.7 99.7,266.7 99.2,266.7 98.7,266.7 98.2,266.7 97.7,266.6 97.2,266.6 96.7,266.6 96.2,266.6 95.7,266.6 95.2,266.5 94.7,266.5 94.2,266.5 93.7,266.5 93.2,266.5 92.7,266.4 92.2,266.4 91.7,266.4 91.2,266.4 90.7,266.4 90.2,266.4 89.7,266.3 89.2,266.3 88.7,266.3 88.2,266.3 87.7,266.3 87.2,266.2 86.7,266.2 86.2,266.2 85.7,266.2 85.2,266.2 84.7,266.1 84.2,266.1 83.7,266.1 83.2,266.1 82.7,266.1 82.2,266 81.7,266 81.2,266 80.7,266 80.2,266 79.7,265.9 79.2,265.9 78.7,265.9 78.2,265.9 77.7,265.9 77.2,265.8 76.7,265.8 76.2,265.8 75.7,265.8 75.2,265.8 74.7,265.7 74.2,265.7 73.7,265.7 73.2,265.7 72.7,265.7 72.2,265.7 71.7,265.6 71.2,265.6 70.7,265.6 70.2,265.6 69.7,265.6 69.2,265.5 68.7,265.5 68.2,265.5 67.7,265.5 67.2,265.5 66.7,265.4 66.2,265.4 65.7,265.4 65.2,265.4 64.7,265.4 64.2,265.3 63.7,265.3 63.2,265.3 62.7,265.3 62.2,265.3 61.7,265.2 61.2,265.2 60.7,265.2 60.2,265.2 59.7,265.2 59.2,265.1 58.7,265.1 58.2,265.1 57.7,265.1 57.2,265.1 56.7,265 56.2,265 55.7,265 55.2,265 54.7,265 54.2,265 53.7,264.9 53.2,264.9 52.7,264.9 52.2,264.9 51.7,264.9 51.2,264.8 50.7,264.8 50.2,264.8 49.7,264.8 49.2,264.8 48.7,264.8Z" fill="#990099" stroke="#800080" stroke-width="0.5"/>
<line x1="15.7" y1="282.4" x2="556.2" y2="282.4" stroke="#7b7bff" stroke-width="1" />
<line x1="22.2" y1="273.5" x2="22.2" y2="282.4" stroke="#3333ff" stroke-width="1.1" />
<line x1="42.4" y1="273.5" x2="42.4" y2="282.4" stroke="#3333ff" stroke-width="1.1" />
<line x1="82.7" y1="273.5" x2="82.7" y2="282.4" stroke="#3333ff" stroke-width="1.1" />
<line x1="150.6" y1="273.5" x2="150.6" y2="282.4" stroke="#3333ff" stroke-width="1.1" />
<line x1="218.2" y1="273.5" x2="218.2" y2="282.4" stroke="#3333ff" stroke-width="1.1" />
<line x1="285.5" y1="273.5" x2="285.5" y2="282.4" stroke="#3333ff" stroke-width="1.1" />
<line x1="353.1" y1="273.5" x2="353.1" y2="282.4" stroke="#3333ff" stroke-width="1.1" />
<line x1="421" y1="273.5" x2="421" y2="282.4" stroke="#3333ff" stroke-width="1.1" />
<line x1="488.4" y1="273.5" x2="488.4" y2="282.4" stroke="#3333ff" stroke-width="1.1" />
<line x1="535.9" y1="273.5" x2="535.9" y2="282.4" stroke="#3333ff" stroke-width="1.1" />
<text x="15.7" y="290.6" font-size="10.4" fill="#1414ff" stroke="#1414ff" stroke-width="0.22" textLength="30.9" lengthAdjust="spacingAndGlyphs" >Current</text>
<text x="50.8" y="290.6" font-size="10.4" fill="#1414ff" stroke="#1414ff" stroke-width="0.22" textLength="24.9" lengthAdjust="spacingAndGlyphs" >pulses</text>
<line x1="22.2" y1="301.4" x2="22.2" y2="310" stroke="#1a1a1a" stroke-width="1" opacity="0.55"/>
<line x1="42.4" y1="301.4" x2="42.4" y2="310" stroke="#1a1a1a" stroke-width="1" opacity="0.55"/>
<line x1="22.2" y1="311.6" x2="22.2" y2="318.7" stroke="#666" stroke-width="1" opacity="0.55"/>
<line x1="42.4" y1="311.6" x2="42.4" y2="318.7" stroke="#666" stroke-width="1" opacity="0.55"/>
<line x1="22.2" y1="324.4" x2="22.2" y2="332" stroke="#ff0000" stroke-width="1" opacity="0.6"/>
<line x1="42.4" y1="324.4" x2="42.4" y2="332" stroke="#ff0000" stroke-width="1" opacity="0.6"/>
<line x1="22.2" y1="333.6" x2="22.2" y2="342.4" stroke="#ff8a8a" stroke-width="1" opacity="0.8"/>
<line x1="42.4" y1="333.6" x2="42.4" y2="342.4" stroke="#ff8a8a" stroke-width="1" opacity="0.8"/>
<rect x="52.5" y="300.6" width="44.5" height="10.2" fill="#c8c8c8"/>
<path d="M52.7,300.6l0.4,2M53.1,302.6l0.4,2M53.5,304.7l0.4,2M54,306.7l0.4,2M54.1,308.8l0.4,2M55.6,300.6l0.4,2M56.1,302.6l0.4,2M56.4,304.7l0.4,2M57,306.7l0.4,2M57.3,308.8l0.4,2M59.1,300.6l0.4,2M59.5,302.6l0.4,2M59.6,304.7l0.4,2M60.3,306.7l0.4,2M60.9,308.8l0.4,2M61.2,300.6l0.4,2M61.7,302.6l0.4,2M62.3,304.7l0.4,2M62.6,306.7l0.4,2M63.2,308.8l0.4,2M64.3,300.6l0.4,2M64.6,302.6l0.4,2M65.2,304.7l0.4,2M65.4,306.7l0.4,2M66.1,308.8l0.4,2M67.6,300.6l0.4,2M67.7,302.6l0.4,2M68.6,304.7l0.4,2M68.9,306.7l0.4,2M69.2,308.8l0.4,2M70.4,300.6l0.4,2M70.8,302.6l0.4,2M71.2,304.7l0.4,2M71.6,306.7l0.4,2M72.1,308.8l0.4,2M73.7,300.6l0.4,2M73.9,302.6l0.4,2M74.6,304.7l0.4,2M74.9,306.7l0.4,2M75.3,308.8l0.4,2M77.2,300.6l0.4,2M77.8,302.6l0.4,2M78.1,304.7l0.4,2M78.4,306.7l0.4,2M79.3,308.8l0.4,2M80.7,300.6l0.4,2M81.2,302.6l0.4,2M81.7,304.7l0.4,2M82,306.7l0.4,2M82.7,308.8l0.4,2M84.3,300.6l0.4,2M84.7,302.6l0.4,2M84.8,304.7l0.4,2M85.4,306.7l0.4,2M86,308.8l0.4,2M87.3,300.6l0.4,2M87.8,302.6l0.4,2M88.5,304.7l0.4,2M88.5,306.7l0.4,2M89.1,308.8l0.4,2M90.4,300.6l0.4,2M90.5,302.6l0.4,2M90.8,304.7l0.4,2M91.5,306.7l0.4,2M92,308.8l0.4,2M92.9,300.6l0.4,2M93,302.6l0.4,2M93.7,304.7l0.4,2M93.9,306.7l0.4,2M94.7,308.8l0.4,2M95.5,300.6l0.4,2M96,302.6l0.4,2M96.2,304.7l0.4,2M96.5,306.7l0.4,2" stroke="#1a1a1a" stroke-width="1.2" opacity="0.6" fill="none"/>
<path d="M54.4,302.6l0.4,2M54.7,304.7l0.4,2M55.1,306.7l0.4,2M55.6,308.8l0.4,2M56.7,300.6l0.4,2M57,302.6l0.4,2M57.5,304.7l0.4,2M58,306.7l0.4,2M58.4,308.8l0.4,2M59.9,300.6l0.4,2M60.4,302.6l0.4,2M61,304.7l0.4,2M61.3,306.7l0.4,2M61.8,308.8l0.4,2M62.9,300.6l0.4,2M63.5,302.6l0.4,2M64.1,304.7l0.4,2M64.5,306.7l0.4,2M64.7,308.8l0.4,2M65.8,300.6l0.4,2M66.2,302.6l0.4,2M67,304.7l0.4,2M67,306.7l0.4,2M67.5,308.8l0.4,2M69.1,300.6l0.4,2M69.4,302.6l0.4,2M70.2,304.7l0.4,2M70.4,306.7l0.4,2M70.9,308.8l0.4,2M71.8,300.6l0.4,2M71.8,302.6l0.4,2M72.4,304.7l0.4,2M73.1,306.7l0.4,2M73.6,308.8l0.4,2M75.2,300.6l0.4,2M75.4,302.6l0.4,2M75.7,304.7l0.4,2M76.4,306.7l0.4,2M76.6,308.8l0.4,2M78.4,300.6l0.4,2M79,302.6l0.4,2M79.4,304.7l0.4,2M79.7,306.7l0.4,2M80.4,308.8l0.4,2M81.3,300.6l0.4,2M81.7,302.6l0.4,2M81.9,304.7l0.4,2M82.6,306.7l0.4,2M83.1,308.8l0.4,2M84.1,300.6l0.4,2M84.6,302.6l0.4,2M84.9,304.7l0.4,2M85.2,306.7l0.4,2M85.9,308.8l0.4,2M87.4,300.6l0.4,2M87.7,302.6l0.4,2M88.5,304.7l0.4,2M88.9,306.7l0.4,2M89.1,308.8l0.4,2M90.4,300.6l0.4,2M91.2,302.6l0.4,2M91.3,304.7l0.4,2M91.7,306.7l0.4,2M92.1,308.8l0.4,2M93.6,300.6l0.4,2M93.6,302.6l0.4,2M94.2,304.7l0.4,2M94.9,306.7l0.4,2M94.9,308.8l0.4,2M96.2,300.6l0.4,2M96.3,302.6l0.4,2" stroke="#1a1a1a" stroke-width="1.0" opacity="0.36" fill="none"/>
<path d="M100,300.6l0.4,2M100.5,302.6l0.4,2M100.8,304.7l0.4,2M101.3,306.7l0.4,2M101.7,308.8l0.4,2M101.3,300.6l0.4,2M102.1,302.6l0.4,2M102.6,304.7l0.4,2M102.7,306.7l0.4,2M103.4,308.8l0.4,2M103,300.6l0.4,2M103.4,302.6l0.4,2M104.2,304.7l0.4,2M104.3,306.7l0.4,2M104.9,308.8l0.4,2M104.8,300.6l0.4,2M105.5,302.6l0.4,2M105.7,304.7l0.4,2M106.4,306.7l0.4,2M106.9,308.8l0.4,2M107,300.6l0.4,2M107.3,302.6l0.4,2M107.9,304.7l0.4,2M108,306.7l0.4,2M108.6,308.8l0.4,2M108,300.6l0.4,2M108.6,302.6l0.4,2M109.2,304.7l0.4,2" stroke="#1a1a1a" stroke-width="1.0" opacity="0.6" fill="none"/>
<line x1="118.2" y1="301.4" x2="118.2" y2="310.5" stroke="#222" stroke-width="1.4" opacity="0.85"/>
<line x1="131.7" y1="301.4" x2="131.7" y2="310.5" stroke="#222" stroke-width="1.4" opacity="0.85"/>
<line x1="145.2" y1="301.4" x2="145.2" y2="310.5" stroke="#222" stroke-width="0.9" opacity="0.5"/>
<rect x="535" y="300.9" width="18.5" height="9.6" fill="#c8c8c8"/>
<path d="M535.3,302.6l0.4,2M536.1,304.7l0.4,2M536.5,306.7l0.4,2M536.9,308.8l0.4,2M536.8,300.6l0.4,2M537.5,302.6l0.4,2M537.7,304.7l0.4,2M538.4,306.7l0.4,2M538.8,308.8l0.4,2M539,300.6l0.4,2M539.2,302.6l0.4,2M539.9,304.7l0.4,2M540.3,306.7l0.4,2M540.6,308.8l0.4,2M540.9,300.6l0.4,2M541.3,302.6l0.4,2M541.6,304.7l0.4,2M542.5,306.7l0.4,2M542.9,308.8l0.4,2M542.7,300.6l0.4,2M543,302.6l0.4,2M543.2,304.7l0.4,2M544,306.7l0.4,2M544.3,308.8l0.4,2M544.8,300.6l0.4,2M545.1,302.6l0.4,2M545.3,304.7l0.4,2M546.2,306.7l0.4,2M546.6,308.8l0.4,2M546.9,300.6l0.4,2M547.6,302.6l0.4,2M548.1,304.7l0.4,2M548.3,306.7l0.4,2M548.8,308.8l0.4,2M548.6,300.6l0.4,2M549.2,302.6l0.4,2M549.7,304.7l0.4,2M550,306.7l0.4,2M550.8,308.8l0.4,2M550.8,300.6l0.4,2M551.1,302.6l0.4,2M551.6,304.7l0.4,2M552.3,306.7l0.4,2M552.6,308.8l0.4,2M552.8,300.6l0.4,2M553.4,302.6l0.4,2" stroke="#1a1a1a" stroke-width="1.0" opacity="0.6" fill="none"/>
<path d="M535.7,302.6l0.4,2M535.9,304.7l0.4,2M536.2,306.7l0.4,2M536.9,308.8l0.4,2M537.3,300.6l0.4,2M537.9,302.6l0.4,2M537.9,304.7l0.4,2M538.6,306.7l0.4,2M539.2,308.8l0.4,2M539.7,300.6l0.4,2M540.1,302.6l0.4,2M540.4,304.7l0.4,2M541,306.7l0.4,2M541.4,308.8l0.4,2M542.1,300.6l0.4,2M542.5,302.6l0.4,2M543,304.7l0.4,2M543,306.7l0.4,2M543.8,308.8l0.4,2M544,300.6l0.4,2M544.2,302.6l0.4,2M544.8,304.7l0.4,2M545.4,306.7l0.4,2M545.4,308.8l0.4,2M545.7,300.6l0.4,2M546.3,302.6l0.4,2M546.5,304.7l0.4,2M547.2,306.7l0.4,2M547.4,308.8l0.4,2M547.6,300.6l0.4,2M548.1,302.6l0.4,2M548.6,304.7l0.4,2M549.1,306.7l0.4,2M549.2,308.8l0.4,2M549.8,300.6l0.4,2M550.1,302.6l0.4,2M550.8,304.7l0.4,2M551.3,306.7l0.4,2M551.5,308.8l0.4,2M551.9,300.6l0.4,2M552.4,302.6l0.4,2M553.1,304.7l0.4,2M553.3,306.7l0.4,2" stroke="#1a1a1a" stroke-width="0.8" opacity="0.36" fill="none"/>
<rect x="52.5" y="310.8" width="44.5" height="8.7" fill="#d6d6d6"/>
<path d="M53.1,312.5l0.4,1.7M53.5,314.3l0.4,1.7M53.7,316l0.4,1.7M54.2,317.8l0.4,1.7M56.1,310.8l0.4,1.7M56.5,312.5l0.4,1.7M56.8,314.3l0.4,1.7M57.1,316l0.4,1.7M57.6,317.8l0.4,1.7M58.5,310.8l0.4,1.7M58.8,312.5l0.4,1.7M59.2,314.3l0.4,1.7M59.8,316l0.4,1.7M60.1,317.8l0.4,1.7M61.5,310.8l0.4,1.7M62,312.5l0.4,1.7M62.6,314.3l0.4,1.7M63,316l0.4,1.7M63.3,317.8l0.4,1.7M64.9,310.8l0.4,1.7M65.5,312.5l0.4,1.7M65.7,314.3l0.4,1.7M66.3,316l0.4,1.7M67,317.8l0.4,1.7M68,310.8l0.4,1.7M68.6,312.5l0.4,1.7M68.8,314.3l0.4,1.7M69.5,316l0.4,1.7M69.6,317.8l0.4,1.7M70.6,310.8l0.4,1.7M71,312.5l0.4,1.7M71.8,314.3l0.4,1.7M71.8,316l0.4,1.7M72.4,317.8l0.4,1.7M73.9,310.8l0.4,1.7M74.4,312.5l0.4,1.7M74.6,314.3l0.4,1.7M75,316l0.4,1.7M75.8,317.8l0.4,1.7M76.1,310.8l0.4,1.7M76.7,312.5l0.4,1.7M77.3,314.3l0.4,1.7M77.9,316l0.4,1.7M78.3,317.8l0.4,1.7M79.4,310.8l0.4,1.7M80,312.5l0.4,1.7M80.4,314.3l0.4,1.7M80.7,316l0.4,1.7M81,317.8l0.4,1.7M82.2,310.8l0.4,1.7M82.6,312.5l0.4,1.7M83.1,314.3l0.4,1.7M83.2,316l0.4,1.7M84.1,317.8l0.4,1.7M85.1,310.8l0.4,1.7M85.4,312.5l0.4,1.7M85.9,314.3l0.4,1.7M86.4,316l0.4,1.7M86.8,317.8l0.4,1.7M88,310.8l0.4,1.7M88.6,312.5l0.4,1.7M89,314.3l0.4,1.7M89.3,316l0.4,1.7M89.8,317.8l0.4,1.7M91,310.8l0.4,1.7M91.7,312.5l0.4,1.7M91.8,314.3l0.4,1.7M92.2,316l0.4,1.7M93.2,317.8l0.4,1.7M93.9,310.8l0.4,1.7M94.2,312.5l0.4,1.7M94.6,314.3l0.4,1.7M95.2,316l0.4,1.7M95.8,317.8l0.4,1.7M96.5,310.8l0.4,1.7" stroke="#666" stroke-width="1.08" opacity="0.55" fill="none"/>
<path d="M54.4,312.5l0.4,1.7M54.5,314.3l0.4,1.7M55.3,316l0.4,1.7M55.7,317.8l0.4,1.7M56,310.8l0.4,1.7M56.8,312.5l0.4,1.7M57.2,314.3l0.4,1.7M57.5,316l0.4,1.7M58.2,317.8l0.4,1.7M58.8,310.8l0.4,1.7M59.1,312.5l0.4,1.7M59.8,314.3l0.4,1.7M60,316l0.4,1.7M60.5,317.8l0.4,1.7M62.2,310.8l0.4,1.7M62.7,312.5l0.4,1.7M63.2,314.3l0.4,1.7M63.6,316l0.4,1.7M63.8,317.8l0.4,1.7M65.2,310.8l0.4,1.7M65.8,312.5l0.4,1.7M66.3,314.3l0.4,1.7M66.6,316l0.4,1.7M67,317.8l0.4,1.7M68.7,310.8l0.4,1.7M69,312.5l0.4,1.7M69.5,314.3l0.4,1.7M69.8,316l0.4,1.7M70.4,317.8l0.4,1.7M71.9,310.8l0.4,1.7M71.9,312.5l0.4,1.7M72.8,314.3l0.4,1.7M73.3,316l0.4,1.7M73.4,317.8l0.4,1.7M75.1,310.8l0.4,1.7M75.5,312.5l0.4,1.7M75.8,314.3l0.4,1.7M76.4,316l0.4,1.7M77,317.8l0.4,1.7M77.5,310.8l0.4,1.7M77.7,312.5l0.4,1.7M78.6,314.3l0.4,1.7M79,316l0.4,1.7M79.1,317.8l0.4,1.7M80.9,310.8l0.4,1.7M81.1,312.5l0.4,1.7M81.7,314.3l0.4,1.7M82.3,316l0.4,1.7M82.5,317.8l0.4,1.7M84,310.8l0.4,1.7M84.3,312.5l0.4,1.7M84.7,314.3l0.4,1.7M84.9,316l0.4,1.7M85.4,317.8l0.4,1.7M87.4,310.8l0.4,1.7M87.8,312.5l0.4,1.7M88.2,314.3l0.4,1.7M88.6,316l0.4,1.7M89,317.8l0.4,1.7M90.4,310.8l0.4,1.7M91,312.5l0.4,1.7M91.4,314.3l0.4,1.7M91.9,316l0.4,1.7M92.2,317.8l0.4,1.7M92.7,310.8l0.4,1.7M93.2,312.5l0.4,1.7M94,314.3l0.4,1.7M94.4,316l0.4,1.7M94.9,317.8l0.4,1.7M95.7,310.8l0.4,1.7M96.3,312.5l0.4,1.7M97,314.3l0.4,1.7" stroke="#666" stroke-width="0.9" opacity="0.33" fill="none"/>
<path d="M100.5,312.5l0.4,1.7M100.9,314.3l0.4,1.7M101.3,316l0.4,1.7M101.7,317.8l0.4,1.7M101.6,310.8l0.4,1.7M102.2,312.5l0.4,1.7M102.5,314.3l0.4,1.7M103.2,316l0.4,1.7M103.5,317.8l0.4,1.7M103.5,310.8l0.4,1.7M103.9,312.5l0.4,1.7M104.3,314.3l0.4,1.7M104.6,316l0.4,1.7M105.3,317.8l0.4,1.7M105.1,310.8l0.4,1.7M105.5,312.5l0.4,1.7M105.8,314.3l0.4,1.7M106.4,316l0.4,1.7M106.7,317.8l0.4,1.7M106.4,310.8l0.4,1.7M107.3,312.5l0.4,1.7M107.6,314.3l0.4,1.7M107.8,316l0.4,1.7M108.3,317.8l0.4,1.7M108.4,310.8l0.4,1.7M108.5,312.5l0.4,1.7" stroke="#666" stroke-width="0.9" opacity="0.55" fill="none"/>
<line x1="118.2" y1="311.3" x2="118.2" y2="319" stroke="#777" stroke-width="0.9" opacity="0.7"/>
<line x1="131.7" y1="311.3" x2="131.7" y2="319" stroke="#777" stroke-width="0.9" opacity="0.7"/>
<line x1="145.2" y1="311.3" x2="145.2" y2="319" stroke="#777" stroke-width="0.9" opacity="0.7"/>
<rect x="535" y="311.1" width="18.5" height="8.1" fill="#d6d6d6"/>
<path d="M535.4,312.5l0.4,1.7M535.7,314.3l0.4,1.7M536.1,316l0.4,1.7M536.9,317.8l0.4,1.7M537.4,310.8l0.4,1.7M537.6,312.5l0.4,1.7M538.3,314.3l0.4,1.7M538.5,316l0.4,1.7M539.2,317.8l0.4,1.7M539.4,310.8l0.4,1.7M540.2,312.5l0.4,1.7M540.6,314.3l0.4,1.7M541,316l0.4,1.7M541.5,317.8l0.4,1.7M541.6,310.8l0.4,1.7M542,312.5l0.4,1.7M542.7,314.3l0.4,1.7M543.1,316l0.4,1.7M543.2,317.8l0.4,1.7M543.7,310.8l0.4,1.7M544.1,312.5l0.4,1.7M544.5,314.3l0.4,1.7M545.2,316l0.4,1.7M545.5,317.8l0.4,1.7M545.4,310.8l0.4,1.7M546,312.5l0.4,1.7M546.6,314.3l0.4,1.7M546.7,316l0.4,1.7M547.4,317.8l0.4,1.7M547.5,310.8l0.4,1.7M548,312.5l0.4,1.7M548.8,314.3l0.4,1.7M549.3,316l0.4,1.7M549.7,317.8l0.4,1.7M549.5,310.8l0.4,1.7M549.8,312.5l0.4,1.7M550.1,314.3l0.4,1.7M550.8,316l0.4,1.7M551.4,317.8l0.4,1.7M551.7,310.8l0.4,1.7M551.9,312.5l0.4,1.7M552.8,314.3l0.4,1.7M553.3,316l0.4,1.7" stroke="#666" stroke-width="0.9" opacity="0.55" fill="none"/>
<path d="M535.3,312.5l0.4,1.7M536.1,314.3l0.4,1.7M536.1,316l0.4,1.7M536.9,317.8l0.4,1.7M537.2,310.8l0.4,1.7M537.7,312.5l0.4,1.7M538,314.3l0.4,1.7M538.7,316l0.4,1.7M539.1,317.8l0.4,1.7M539.4,310.8l0.4,1.7M540.1,312.5l0.4,1.7M540.5,314.3l0.4,1.7M540.8,316l0.4,1.7M541.3,317.8l0.4,1.7M541.5,310.8l0.4,1.7M541.8,312.5l0.4,1.7M542.3,314.3l0.4,1.7M542.5,316l0.4,1.7M543.3,317.8l0.4,1.7M542.9,310.8l0.4,1.7M543.2,312.5l0.4,1.7M543.7,314.3l0.4,1.7M544.4,316l0.4,1.7M544.5,317.8l0.4,1.7M544.7,310.8l0.4,1.7M545.5,312.5l0.4,1.7M545.5,314.3l0.4,1.7M546.1,316l0.4,1.7M546.8,317.8l0.4,1.7M547.1,310.8l0.4,1.7M547.7,312.5l0.4,1.7M547.6,314.3l0.4,1.7M548.4,316l0.4,1.7M548.9,317.8l0.4,1.7M549.3,310.8l0.4,1.7M549.4,312.5l0.4,1.7M549.9,314.3l0.4,1.7M550.7,316l0.4,1.7M551,317.8l0.4,1.7M550.7,310.8l0.4,1.7M551.5,312.5l0.4,1.7M551.7,314.3l0.4,1.7M552.5,316l0.4,1.7M552.7,317.8l0.4,1.7M553,310.8l0.4,1.7" stroke="#666" stroke-width="0.7200000000000001" opacity="0.33" fill="none"/>
<rect x="52.5" y="323.6" width="42.1" height="9.2" fill="#ff9090"/>
<path d="M52.7,323.6l0.4,1.8M53,325.4l0.4,1.8M53.3,327.3l0.4,1.8M54,329.1l0.4,1.8M54.2,331l0.4,1.8M55.9,323.6l0.4,1.8M56.7,325.4l0.4,1.8M56.7,327.3l0.4,1.8M57.5,329.1l0.4,1.8M57.7,331l0.4,1.8M59,323.6l0.4,1.8M59.2,325.4l0.4,1.8M59.7,327.3l0.4,1.8M60.1,329.1l0.4,1.8M60.9,331l0.4,1.8M61.6,323.6l0.4,1.8M62,325.4l0.4,1.8M62.4,327.3l0.4,1.8M63.2,329.1l0.4,1.8M63.4,331l0.4,1.8M64.9,323.6l0.4,1.8M65.4,325.4l0.4,1.8M65.6,327.3l0.4,1.8M65.9,329.1l0.4,1.8M66.6,331l0.4,1.8M67.1,323.6l0.4,1.8M68,325.4l0.4,1.8M68.4,327.3l0.4,1.8M68.7,329.1l0.4,1.8M69,331l0.4,1.8M70.7,323.6l0.4,1.8M71,325.4l0.4,1.8M71.8,327.3l0.4,1.8M72.3,329.1l0.4,1.8M72.7,331l0.4,1.8M74.1,323.6l0.4,1.8M74.4,325.4l0.4,1.8M75.1,327.3l0.4,1.8M75.3,329.1l0.4,1.8M76,331l0.4,1.8M76.3,323.6l0.4,1.8M77.1,325.4l0.4,1.8M77.4,327.3l0.4,1.8M78,329.1l0.4,1.8M78.5,331l0.4,1.8M80,323.6l0.4,1.8M80.6,325.4l0.4,1.8M81,327.3l0.4,1.8M81.5,329.1l0.4,1.8M82,331l0.4,1.8M82.3,323.6l0.4,1.8M82.8,325.4l0.4,1.8M83.2,327.3l0.4,1.8M83.6,329.1l0.4,1.8M84.4,331l0.4,1.8M84.7,323.6l0.4,1.8M85.4,325.4l0.4,1.8M85.6,327.3l0.4,1.8M86.1,329.1l0.4,1.8M86.9,331l0.4,1.8M88.1,323.6l0.4,1.8M88.4,325.4l0.4,1.8M89,327.3l0.4,1.8M89.8,329.1l0.4,1.8M90.1,331l0.4,1.8M90.8,323.6l0.4,1.8M91,325.4l0.4,1.8M91.7,327.3l0.4,1.8M91.9,329.1l0.4,1.8M92.3,331l0.4,1.8M93,323.6l0.4,1.8M93.7,325.4l0.4,1.8M94.2,327.3l0.4,1.8M94.5,329.1l0.4,1.8" stroke="#ff0000" stroke-width="1.32" opacity="0.85" fill="none"/>
<path d="M54.4,325.4l0.4,1.8M54.9,327.3l0.4,1.8M55.1,329.1l0.4,1.8M55.7,331l0.4,1.8M57.6,323.6l0.4,1.8M57.7,325.4l0.4,1.8M58.3,327.3l0.4,1.8M58.6,329.1l0.4,1.8M59.1,331l0.4,1.8M60.2,323.6l0.4,1.8M60.5,325.4l0.4,1.8M61.3,327.3l0.4,1.8M61.7,329.1l0.4,1.8M62.2,331l0.4,1.8M62.7,323.6l0.4,1.8M63.4,325.4l0.4,1.8M64,327.3l0.4,1.8M64.2,329.1l0.4,1.8M64.5,331l0.4,1.8M66.2,323.6l0.4,1.8M66.6,325.4l0.4,1.8M67.1,327.3l0.4,1.8M67.3,329.1l0.4,1.8M67.7,331l0.4,1.8M69.6,323.6l0.4,1.8M70,325.4l0.4,1.8M70.3,327.3l0.4,1.8M70.7,329.1l0.4,1.8M71.1,331l0.4,1.8M73.1,323.6l0.4,1.8M73.2,325.4l0.4,1.8M73.9,327.3l0.4,1.8M74.2,329.1l0.4,1.8M74.6,331l0.4,1.8M75.8,323.6l0.4,1.8M76.3,325.4l0.4,1.8M76.7,327.3l0.4,1.8M77.2,329.1l0.4,1.8M77.7,331l0.4,1.8M78.6,323.6l0.4,1.8M78.7,325.4l0.4,1.8M79.3,327.3l0.4,1.8M79.9,329.1l0.4,1.8M80.1,331l0.4,1.8M81.4,323.6l0.4,1.8M81.8,325.4l0.4,1.8M82.4,327.3l0.4,1.8M82.8,329.1l0.4,1.8M83,331l0.4,1.8M84.8,323.6l0.4,1.8M85.3,325.4l0.4,1.8M85.5,327.3l0.4,1.8M86.1,329.1l0.4,1.8M86.7,331l0.4,1.8M88.3,323.6l0.4,1.8M88.4,325.4l0.4,1.8M89.2,327.3l0.4,1.8M89.5,329.1l0.4,1.8M90,331l0.4,1.8M91.5,323.6l0.4,1.8M92.2,325.4l0.4,1.8M92.6,327.3l0.4,1.8M93,329.1l0.4,1.8M93.3,331l0.4,1.8M94.4,323.6l0.4,1.8" stroke="#ff0000" stroke-width="1.1" opacity="0.51" fill="none"/>
<rect x="116.2" y="323.6" width="3.8" height="9.2" fill="#ff0000"/>
<rect x="129.7" y="323.6" width="3.8" height="9.2" fill="#ff0000"/>
<rect x="143.2" y="323.6" width="3.8" height="9.2" fill="#ff0000"/>
<rect x="532.6" y="324.6" width="20.9" height="6.7" fill="#ff5a5a"/>
<path d="M533.7,325.4l0.4,1.8M533.9,327.3l0.4,1.8M534.2,329.1l0.4,1.8M534.6,331l0.4,1.8M534.7,323.6l0.4,1.8M535.2,325.4l0.4,1.8M535.5,327.3l0.4,1.8M536.2,329.1l0.4,1.8M536.5,331l0.4,1.8M536.7,323.6l0.4,1.8M537.1,325.4l0.4,1.8M537.4,327.3l0.4,1.8M537.7,329.1l0.4,1.8M538.6,331l0.4,1.8M538.5,323.6l0.4,1.8M539.1,325.4l0.4,1.8M539.5,327.3l0.4,1.8M539.9,329.1l0.4,1.8M540.2,331l0.4,1.8M540,323.6l0.4,1.8M540.3,325.4l0.4,1.8M540.8,327.3l0.4,1.8M541.3,329.1l0.4,1.8M541.5,331l0.4,1.8M541.4,323.6l0.4,1.8M542,325.4l0.4,1.8M542.6,327.3l0.4,1.8M542.9,329.1l0.4,1.8M543.4,331l0.4,1.8M543,323.6l0.4,1.8M543.6,325.4l0.4,1.8M544.2,327.3l0.4,1.8M544.7,329.1l0.4,1.8M544.8,331l0.4,1.8M544.7,323.6l0.4,1.8M545.1,325.4l0.4,1.8M545.4,327.3l0.4,1.8M546,329.1l0.4,1.8M546.3,331l0.4,1.8M546.2,323.6l0.4,1.8M546.7,325.4l0.4,1.8M547.3,327.3l0.4,1.8M547.5,329.1l0.4,1.8M548.2,331l0.4,1.8M547.9,323.6l0.4,1.8M548.4,325.4l0.4,1.8M548.6,327.3l0.4,1.8M549.4,329.1l0.4,1.8M549.6,331l0.4,1.8M549.3,323.6l0.4,1.8M549.8,325.4l0.4,1.8M550.5,327.3l0.4,1.8M551.1,329.1l0.4,1.8M551.4,331l0.4,1.8M551.2,323.6l0.4,1.8M552,325.4l0.4,1.8M552.5,327.3l0.4,1.8M552.8,329.1l0.4,1.8M553.2,331l0.4,1.8M553,323.6l0.4,1.8" stroke="#ff0000" stroke-width="1.0" opacity="0.9" fill="none"/>
<rect x="52.5" y="332.8" width="44.5" height="10.4" fill="#ffdcdc"/>
<path d="M53.1,334.9l0.4,2.1M53.3,337l0.4,2.1M53.6,339l0.4,2.1M54.2,341.1l0.4,2.1M55.6,332.8l0.4,2.1M56.2,334.9l0.4,2.1M56.6,337l0.4,2.1M57.1,339l0.4,2.1M57.5,341.1l0.4,2.1M58.3,332.8l0.4,2.1M59.1,334.9l0.4,2.1M59.2,337l0.4,2.1M59.9,339l0.4,2.1M60.1,341.1l0.4,2.1M61.7,332.8l0.4,2.1M62.3,334.9l0.4,2.1M62.6,337l0.4,2.1M63.4,339l0.4,2.1M63.7,341.1l0.4,2.1M64.9,332.8l0.4,2.1M65.3,334.9l0.4,2.1M66.1,337l0.4,2.1M66.5,339l0.4,2.1M66.9,341.1l0.4,2.1M68.6,332.8l0.4,2.1M68.9,334.9l0.4,2.1M69.6,337l0.4,2.1M69.8,339l0.4,2.1M70.4,341.1l0.4,2.1M71.6,332.8l0.4,2.1M72.2,334.9l0.4,2.1M72.6,337l0.4,2.1M72.9,339l0.4,2.1M73.5,341.1l0.4,2.1M75.1,332.8l0.4,2.1M75.5,334.9l0.4,2.1M76.1,337l0.4,2.1M76.3,339l0.4,2.1M76.6,341.1l0.4,2.1M77.8,332.8l0.4,2.1M78.1,334.9l0.4,2.1M78.6,337l0.4,2.1M79,339l0.4,2.1M79.4,341.1l0.4,2.1M80,332.8l0.4,2.1M80.8,334.9l0.4,2.1M81,337l0.4,2.1M81.5,339l0.4,2.1M82.2,341.1l0.4,2.1M83.5,332.8l0.4,2.1M84,334.9l0.4,2.1M84.5,337l0.4,2.1M84.5,339l0.4,2.1M85.1,341.1l0.4,2.1M86.9,332.8l0.4,2.1M87.6,334.9l0.4,2.1M87.7,337l0.4,2.1M88,339l0.4,2.1M88.9,341.1l0.4,2.1M89.8,332.8l0.4,2.1M90.5,334.9l0.4,2.1M90.6,337l0.4,2.1M91.4,339l0.4,2.1M91.6,341.1l0.4,2.1M92.4,332.8l0.4,2.1M93,334.9l0.4,2.1M93.4,337l0.4,2.1M94,339l0.4,2.1M94.1,341.1l0.4,2.1M94.8,332.8l0.4,2.1M95.5,334.9l0.4,2.1M96,337l0.4,2.1M96.3,339l0.4,2.1M96.8,341.1l0.4,2.1" stroke="#ff8a8a" stroke-width="1.08" opacity="0.45" fill="none"/>
<path d="M54.1,334.9l0.4,2.1M54.9,337l0.4,2.1M55.1,339l0.4,2.1M55.8,341.1l0.4,2.1M56.7,332.8l0.4,2.1M57,334.9l0.4,2.1M57.5,337l0.4,2.1M58.1,339l0.4,2.1M58.6,341.1l0.4,2.1M59.8,332.8l0.4,2.1M60.2,334.9l0.4,2.1M60.4,337l0.4,2.1M61,339l0.4,2.1M61.8,341.1l0.4,2.1M62.3,332.8l0.4,2.1M62.6,334.9l0.4,2.1M63.2,337l0.4,2.1M63.4,339l0.4,2.1M63.9,341.1l0.4,2.1M65.4,332.8l0.4,2.1M65.5,334.9l0.4,2.1M65.9,337l0.4,2.1M66.3,339l0.4,2.1M67.2,341.1l0.4,2.1M67.8,332.8l0.4,2.1M68.5,334.9l0.4,2.1M69,337l0.4,2.1M69.4,339l0.4,2.1M69.6,341.1l0.4,2.1M70.7,332.8l0.4,2.1M71.1,334.9l0.4,2.1M72,337l0.4,2.1M72.2,339l0.4,2.1M72.5,341.1l0.4,2.1M74.5,332.8l0.4,2.1M74.9,334.9l0.4,2.1M75.1,337l0.4,2.1M75.5,339l0.4,2.1M76.1,341.1l0.4,2.1M77.6,332.8l0.4,2.1M78.1,334.9l0.4,2.1M78.5,337l0.4,2.1M78.7,339l0.4,2.1M79.2,341.1l0.4,2.1M80,332.8l0.4,2.1M80.2,334.9l0.4,2.1M80.7,337l0.4,2.1M81.1,339l0.4,2.1M81.7,341.1l0.4,2.1M82.8,332.8l0.4,2.1M83,334.9l0.4,2.1M83.4,337l0.4,2.1M84.2,339l0.4,2.1M84.6,341.1l0.4,2.1M86.1,332.8l0.4,2.1M86.5,334.9l0.4,2.1M86.9,337l0.4,2.1M87.4,339l0.4,2.1M87.6,341.1l0.4,2.1M88.8,332.8l0.4,2.1M88.9,334.9l0.4,2.1M89.5,337l0.4,2.1M89.9,339l0.4,2.1M90.4,341.1l0.4,2.1M92.1,332.8l0.4,2.1M92.5,334.9l0.4,2.1M92.8,337l0.4,2.1M93.5,339l0.4,2.1M93.9,341.1l0.4,2.1M95.1,332.8l0.4,2.1M95.5,334.9l0.4,2.1M96.1,337l0.4,2.1M96.4,339l0.4,2.1M97,341.1l0.4,2.1" stroke="#ff8a8a" stroke-width="0.9" opacity="0.27" fill="none"/>
<line x1="101.5" y1="333.3" x2="101.5" y2="342.7" stroke="#ff8a8a" stroke-width="0.9" opacity="0.8"/>
<line x1="103" y1="333.3" x2="103" y2="342.7" stroke="#ff8a8a" stroke-width="0.9" opacity="0.8"/>
<line x1="105" y1="333.3" x2="105" y2="342.7" stroke="#ff8a8a" stroke-width="0.9" opacity="0.8"/>
<line x1="106.2" y1="333.3" x2="106.2" y2="342.7" stroke="#ff8a8a" stroke-width="0.9" opacity="0.8"/>
<line x1="118.2" y1="332.8" x2="118.2" y2="341.7" stroke="#ff5050" stroke-width="1" />
<line x1="131.7" y1="332.8" x2="131.7" y2="341.7" stroke="#ff5050" stroke-width="1" />
<line x1="145.2" y1="332.8" x2="145.2" y2="339.2" stroke="#ff5050" stroke-width="1" />
<rect x="535" y="333.1" width="18.5" height="9.8" fill="#ffdcdc"/>
<path d="M535.1,332.8l0.4,2.1M535.6,334.9l0.4,2.1M535.7,337l0.4,2.1M536.3,339l0.4,2.1M536.9,341.1l0.4,2.1M536.8,332.8l0.4,2.1M537.2,334.9l0.4,2.1M537.8,337l0.4,2.1M537.9,339l0.4,2.1M538.4,341.1l0.4,2.1M538.9,332.8l0.4,2.1M539.6,334.9l0.4,2.1M539.8,337l0.4,2.1M540.2,339l0.4,2.1M540.7,341.1l0.4,2.1M540.7,332.8l0.4,2.1M541,334.9l0.4,2.1M541.8,337l0.4,2.1M542.3,339l0.4,2.1M542.3,341.1l0.4,2.1M542.1,332.8l0.4,2.1M543.1,334.9l0.4,2.1M543.1,337l0.4,2.1M543.8,339l0.4,2.1M544.1,341.1l0.4,2.1M544,332.8l0.4,2.1M544.7,334.9l0.4,2.1M544.8,337l0.4,2.1M545.7,339l0.4,2.1M546,341.1l0.4,2.1M545.8,332.8l0.4,2.1M546.5,334.9l0.4,2.1M546.9,337l0.4,2.1M547.2,339l0.4,2.1M547.7,341.1l0.4,2.1M548.1,332.8l0.4,2.1M548.4,334.9l0.4,2.1M549,337l0.4,2.1M549.3,339l0.4,2.1M549.7,341.1l0.4,2.1M550,332.8l0.4,2.1M550.3,334.9l0.4,2.1M550.9,337l0.4,2.1M551.1,339l0.4,2.1M551.6,341.1l0.4,2.1M552.1,332.8l0.4,2.1M552.8,334.9l0.4,2.1M553.3,337l0.4,2.1" stroke="#ff8a8a" stroke-width="0.9" opacity="0.45" fill="none"/>
<path d="M535.1,332.8l0.4,2.1M535.3,334.9l0.4,2.1M536.1,337l0.4,2.1M536.3,339l0.4,2.1M536.6,341.1l0.4,2.1M536.5,332.8l0.4,2.1M537.2,334.9l0.4,2.1M537.7,337l0.4,2.1M537.8,339l0.4,2.1M538.2,341.1l0.4,2.1M538.7,332.8l0.4,2.1M539.2,334.9l0.4,2.1M539.8,337l0.4,2.1M540.3,339l0.4,2.1M540.8,341.1l0.4,2.1M540.7,332.8l0.4,2.1M541.3,334.9l0.4,2.1M541.9,337l0.4,2.1M542.6,339l0.4,2.1M542.6,341.1l0.4,2.1M542.9,332.8l0.4,2.1M543.4,334.9l0.4,2.1M543.8,337l0.4,2.1M544.2,339l0.4,2.1M544.7,341.1l0.4,2.1M544.7,332.8l0.4,2.1M545.1,334.9l0.4,2.1M545.7,337l0.4,2.1M546.1,339l0.4,2.1M546.7,341.1l0.4,2.1M546.7,332.8l0.4,2.1M546.9,334.9l0.4,2.1M547.5,337l0.4,2.1M548,339l0.4,2.1M548.3,341.1l0.4,2.1M548.6,332.8l0.4,2.1M548.8,334.9l0.4,2.1M549.4,337l0.4,2.1M549.6,339l0.4,2.1M550.2,341.1l0.4,2.1M550.8,332.8l0.4,2.1M551.3,334.9l0.4,2.1M551.4,337l0.4,2.1M551.8,339l0.4,2.1M552.4,341.1l0.4,2.1M552.5,332.8l0.4,2.1M553.1,334.9l0.4,2.1" stroke="#ff8a8a" stroke-width="0.7200000000000001" opacity="0.27" fill="none"/>
<rect x="94.6" y="323.6" width="14.6" height="10.2" fill="#ff0000"/>
<path d="M15.2,407.6 H52.5" stroke="#555" stroke-width="0.9" fill="none"/>
<line x1="22.2" y1="356" x2="22.2" y2="407.4" stroke="#8a8a8a" stroke-width="0.8" />
<line x1="22.4" y1="398" x2="22.4" y2="407.4" stroke="#222" stroke-width="1" />
<path d="M22.2,404 Q22.8,409.5 26.2,408.6" stroke="#222" stroke-width="0.9" fill="none"/>
<line x1="42.5" y1="356" x2="42.5" y2="407.4" stroke="#8a8a8a" stroke-width="0.8" />
<line x1="42.7" y1="398" x2="42.7" y2="407.4" stroke="#222" stroke-width="1" />
<path d="M42.5,404 Q43.1,409.5 46.5,408.6" stroke="#222" stroke-width="0.9" fill="none"/>
<line x1="15.2" y1="363.3" x2="555.5" y2="363.3" stroke="#3c3c3c" stroke-width="0.9" stroke-dasharray="3.6 2.0"/>
<path d="M52.5,357.8 53,358.3 53.5,358.4 54,358.5 54.5,358.2 55,356.4 55.5,357.2 56,358 56.5,356.9 57,357.6 57.5,356.3 58,356.7 58.5,357.1 59,356.4 59.5,357.2 60,356.7 60.5,358.2 61,356.9 61.5,357.1 62,358 62.5,357.5 63,356.3 63.5,356.7 64,357.6 64.5,356.7 65,356.8 65.5,357.6 66,357.3 66.5,356.8 67,357.5 67.5,357.7 68,356.3 68.5,356.8 69,356.9 69.5,358.2 70,356.3 70.5,357 71,356.6 71.5,357.8 72,358.1 72.5,356.3 73,358.2 73.5,357.8 74,356.7 74.5,358.3 75,356.9 75.5,358 76,356.4 76.5,357.2 77,357.4 77.5,358.3 78,358.1 78.5,357.5 79,356.3 79.5,357.2 80,357.1 80.5,358.5 81,357.8 81.5,357.1 82,357 82.5,358 83,356.4 83.5,358.1 84,357.7 84.5,357.2 85,357.8 85.5,357.1 86,356.5 86.5,357.2 87,356.3 87.5,356.4 88,357.2 88.5,358.1 89,356.7 89.5,357.4 90,358.5 90.5,358.1 91,358.3 91.5,357.8 92,357.6 92.5,357.5 93,357.6 93.5,357.3 94,357 94.5,356.7 95,356.4 95.5,357 96,358 96.5,357.5 96.5,411.2 96,409.7 95.5,409.4 95,410.7 94.5,410.5 94,411.3 93.5,409.7 93,409.7 92.5,409.3 92,410.2 91.5,408.8 91,410.1 90.5,410.1 90,410.9 89.5,410.2 89,409.5 88.5,410.8 88,409 87.5,410.7 87,410.6 86.5,410.1 86,410.3 85.5,408.8 85,410.6 84.5,409.3 84,409.7 83.5,409.4 83,408.1 82.5,408.8 82,409.2 81.5,409.7 81,409.8 80.5,409.3 80,408.2 79.5,408.8 79,409.3 78.5,408.6 78,408.4 77.5,407.8 77,410 76.5,408.2 76,408.4 75.5,409.2 75,409.2 74.5,408 74,409.7 73.5,407.7 73,408.7 72.5,407.7 72,408.5 71.5,407.3 71,409.5 70.5,409.4 70,407.3 69.5,409.2 69,408.4 68.5,408.9 68,407.2 67.5,408.3 67,409.2 66.5,407.9 66,407.9 65.5,407.4 65,408 64.5,409.3 64,407.1 63.5,409.2 63,408.6 62.5,408.4 62,408 61.5,408.5 61,406.8 60.5,408.2 60,409 59.5,406.6 59,407.8 58.5,407.4 58,407.1 57.5,407.6 57,406.3 56.5,406.3 56,408.3 55.5,407.2 55,407.6 54.5,407.8 54,408.4 53.5,406.2 53,408.1 52.5,406.4Z" fill="#000"/>
<path d="M96.5,392 97,392 97.5,392 98,392 98.5,392 99,392 99.5,392 99.5,405.5 99,405.8 98.5,405.9 98,406 97.5,405.9 97,405.8 96.5,405.5Z" fill="#000"/>
<path d="M99.5,372.1 100,366.6 100.5,359.5 101,359.5 101.5,359.7 102,359.6 102.5,359.7 103,359.7 103.5,360.1 104,359.6 104.5,359.5 105,359.9 105.5,359.5 106,360 106.5,360.1 107,360.4 107.5,361.5 108,363.7 108.5,366 109,367.3 109,402.2 108.5,404.3 108,406.4 107.5,408.5 107,409 106.5,409.5 106,410 105.5,410.5 105,411 104.5,411.5 104,411.2 103.5,410.8 103,410.5 102.5,410.2 102,409.8 101.5,409.5 101,408.5 100.5,407.5 100,406.5 99.5,405.5Z" fill="#000"/>
<rect x="55" y="357" width="1.8" height="9" fill="#666"/>
<rect x="65.1" y="358" width="1.2" height="48" fill="#707070"/>
<rect x="67.4" y="358" width="3.4" height="14" fill="#7a7a7a"/>
<rect x="67.4" y="372" width="3.4" height="23" fill="#555"/>
<rect x="72.2" y="358" width="1.1" height="38" fill="#a8a8a8"/>
<rect x="74.2" y="359" width="2" height="43" fill="#8e8e8e"/>
<rect x="77.2" y="360" width="0.6" height="20" fill="#999"/>
<rect x="78.9" y="360" width="1.1" height="40" fill="#b5b5b5"/>
<rect x="81.6" y="360" width="0.8" height="46" fill="#888"/>
<rect x="84" y="360" width="0.8" height="25" fill="#777"/>
<rect x="85.6" y="359" width="1.7" height="36" fill="#959595"/>
<rect x="88.6" y="358" width="2.2" height="46" fill="#d0d0d0"/>
<rect x="92" y="360" width="3.4" height="34" fill="#8c8c8c"/>
<rect x="96.1" y="352" width="0.5" height="18" fill="#ffffff"/>
<rect x="105.2" y="360" width="0.8" height="33" fill="#b0b0b0"/>
<path d="M109.3,393.4 109.6,393.7 109.9,394 110.2,394.3 110.5,394.6 110.8,394.9 111.1,395.2 111.4,395.4 111.7,395.4 112,395.2 112.3,394.9 112.6,394.6 112.9,394.3 113.2,394 113.5,393.7 113.8,393.4 114.1,393.1 114.4,392.7 114.7,392.4 115,392 115.3,391.7 115.6,391.3 115.9,390.9 116.2,390.5 116.5,390.2 116.8,389.8 117.1,389.4 117.4,389 117.7,388.6 118,388.2 118.3,387.8 118.6,387.6 118.9,388 119.2,388.5 119.5,388.9 119.8,389.2 120.1,389.6 120.4,390 120.7,390.4 121,390.8 121.3,391.2 121.6,391.5 121.9,391.9 122.2,392.3 122.5,392.6 122.8,392.9 123.1,393.3 123.4,393.6 123.7,393.9 124,394.2 124.3,394.5 124.6,394.8 124.9,395.1 125.2,395.1 125.5,394.8 125.8,394.5 126.1,394.2 126.4,393.9 126.7,393.6 127,393.3 127.3,392.9 127.6,392.6 127.9,392.3 128.2,391.9 128.5,391.5 128.8,391.2 129.1,390.8 129.4,390.4 129.7,390 130,389.6 130.3,389.2 130.6,388.9 130.9,388.5 131.2,388 131.5,387.6 131.8,387.8 132.1,388.2 132.4,388.6 132.7,389 133,389.4 133.3,389.8 133.6,390.2 133.9,390.5 134.2,390.9 134.5,391.3 134.8,391.7 135.1,392 135.4,392.4 135.7,392.7 136,393.1 136.3,393.4 136.6,393.7 136.9,394 137.2,394.3 137.5,394.6 137.8,394.9 138.1,395.2 138.4,395.4 138.7,395.3 139,395.1 139.3,394.8 139.6,394.5 139.9,394.2 140.2,393.9 140.5,393.6 140.8,393.3 141.1,392.9 141.4,392.6 141.7,392.3 142,391.9 142.3,391.5 142.6,391.2 142.9,390.8 143.2,390.4 143.5,390 143.8,389.6 144.1,389.2 144.4,388.9 144.7,388.5 145,388 145.3,387.6 145.6,387.8 145.9,388.2 146.2,388.6 146.5,389 146.8,389.4 147.1,389.8 147.4,390.2 147.7,390.5 148,390.9 148.3,391.3 148.6,391.7 148.9,392 149.2,392.4 149.5,392.7 149.8,393.1 150.1,393.4 150.4,393.7 150.7,394 151,394.3 151.3,394.6 151.6,394.9 151.9,395.2 152.2,395.4 152.5,395.5 152.8,394.4 153.1,394.4 153.4,394 153.7,393.5 154,393 154.3,392.5 154.6,392.1 154.9,391.6 155.2,391.1 155.5,390.7 155.8,390.2 156.1,389.8 156.4,389.3 156.7,388.9 157,388.4 157.3,388 157.6,387.6 157.9,387.1 158.2,386.7 158.5,386.3 158.8,385.8 159.1,385.8 159.4,385.8 159.7,385.8 160,385.8 160.3,385.8 160.6,386.2 160.9,386.6 161.2,387 161.5,387.4 161.8,387.8 162.1,388.3 162.4,388.7 162.7,389.1 163,389.5 163.3,389.9 163.6,390.3 163.9,390.7 164.2,391.1 164.5,391.5 164.8,391.9 165.1,392.3 165.4,392.7 165.7,393.1 166,393.5 166.3,393.5 166.6,393.5 166.9,393.2 167.2,392.8 167.5,392.4 167.8,392 168.1,391.6 168.4,391.2 168.7,390.8 169,390.4 169.3,390 169.6,389.6 169.9,389.2 170.2,388.8 170.5,388.4 170.8,388 171.1,387.6 171.4,387.2 171.7,386.8 172,386.4 172.3,386 172.6,385.9 172.9,385.9 173.2,385.9 173.5,385.9 173.8,385.9 174.1,386.2 174.4,386.5 174.7,386.9 175,387.3 175.3,387.7 175.6,388.1 175.9,388.5 176.2,388.9 176.5,389.3 176.8,389.6 177.1,390 177.4,390.4 177.7,390.8 178,391.2 178.3,391.6 178.6,391.9 178.9,392.3 179.2,392.7 179.5,393.1 179.8,393.2 180.1,393.2 180.4,393 180.7,392.6 181,392.2 181.3,391.8 181.6,391.4 181.9,391 182.2,390.6 182.5,390.3 182.8,389.9 183.1,389.5 183.4,389.1 183.7,388.7 184,388.3 184.3,387.9 184.6,387.6 184.9,387.2 185.2,386.8 185.5,386.4 185.8,386 186.1,385.9 186.4,385.9 186.7,385.9 187,385.9 187.3,385.9 187.6,386.1 187.9,386.4 188.2,386.8 188.5,387.2 188.8,387.6 189.1,388 189.4,388.3 189.7,388.7 190,389.1 190.3,389.5 190.6,389.9 190.9,390.3 191.2,390.6 191.5,391 191.8,391.4 192.1,391.8 192.4,392.2 192.7,392.5 193,392.9 193.3,393.1 193.6,393.1 193.9,392.9 194.2,392.5 194.5,392.1 194.8,391.8 195.1,391.4 195.4,391 195.7,390.6 196,390.2 196.3,389.8 196.6,389.5 196.9,389.1 197.2,388.7 197.5,388.3 197.8,387.9 198.1,387.6 198.4,387.2 198.7,386.8 199,386.4 199.3,386 199.6,385.8 199.9,385.8 200.2,385.8 200.5,385.8 200.8,385.8 201.1,386 201.4,386.3 201.7,386.7 202,387.1 202.3,387.5 202.6,387.9 202.9,388.3 203.2,388.6 203.5,389 203.8,389.4 204.1,389.8 204.4,390.2 204.7,390.5 205,390.9 205.3,391.3 205.6,391.7 205.9,392.1 206.2,392.4 206.5,392.8 206.8,393 207.1,393 207.4,392.9 207.7,392.5 208,392.2 208.3,391.8 208.6,391.4 208.9,391 209.2,390.6 209.5,390.2 209.8,389.9 210.1,389.5 210.4,389.1 210.7,388.7 211,388.3 211.3,388 211.6,387.6 211.9,387.2 212.2,386.8 212.5,386.4 212.8,386.1 213.1,385.8 213.4,385.8 213.7,385.8 214,385.8 214.3,385.8 214.6,385.9 214.9,386.3 215.2,386.7 215.5,387 215.8,387.4 216.1,387.8 216.4,388.2 216.7,388.6 217,388.9 217.3,389.3 217.6,389.7 217.9,390.1 218.2,390.5 218.5,390.8 218.8,391.2 219.1,391.6 219.4,392 219.7,392.4 220,392.7 220.3,393 220.6,393 220.9,393 221.2,392.6 221.5,392.2 221.8,391.8 222.1,391.4 222.4,391 222.7,390.7 223,390.3 223.3,389.9 223.6,389.5 223.9,389.1 224.2,388.8 224.5,388.4 224.8,388 225.1,387.6 225.4,387.2 225.7,386.9 226,386.5 226.3,386.1 226.6,385.8 226.9,385.8 227.2,385.8 227.5,385.8 227.8,385.8 228.1,385.8 228.4,386.2 228.7,386.6 229,387 229.3,387.4 229.6,387.7 229.9,388.1 230.2,388.5 230.5,388.9 230.8,389.3 231.1,389.6 231.4,390 231.7,390.4 232,390.8 232.3,391.2 232.6,391.5 232.9,391.9 233.2,392.3 233.5,392.7 233.8,393 234.1,393 234.4,393 234.7,392.6 235,392.2 235.3,391.9 235.6,391.5 235.9,391.1 236.2,390.7 236.5,390.3 236.8,389.9 237.1,389.6 237.4,389.2 237.7,388.8 238,388.4 238.3,388 238.6,387.7 238.9,387.3 239.2,386.9 239.5,386.5 239.8,386.1 240.1,385.8 240.4,385.8 240.7,385.8 241,385.8 241.3,385.8 241.6,385.8 241.9,386.2 242.2,386.5 242.5,386.9 242.8,387.3 243.1,387.7 243.4,388.1 243.7,388.4 244,388.8 244.3,389.2 244.6,389.6 244.9,390 245.2,390.4 245.5,390.7 245.8,391.1 246.1,391.5 246.4,391.9 246.7,392.3 247,392.6 247.3,393 247.6,393 247.9,393 248.2,392.7 248.5,392.3 248.8,391.9 249.1,391.5 249.4,391.1 249.7,390.8 250,390.4 250.3,390 250.6,389.6 250.9,389.2 251.2,388.9 251.5,388.5 251.8,388.1 252.1,387.7 252.4,387.3 252.7,387 253,386.6 253.3,386.2 253.6,385.8 253.9,385.8 254.2,385.8 254.5,385.8 254.8,385.8 255.1,385.8 255.4,386.1 255.7,386.5 256,386.9 256.3,387.3 256.6,387.6 256.9,388 257.2,388.4 257.5,388.8 257.8,389.2 258.1,389.5 258.4,389.9 258.7,390.3 259,390.7 259.3,391.1 259.6,391.4 259.9,391.8 260.2,392.2 260.5,392.6 260.8,393 261.1,393 261.4,393 261.7,392.7 262,392.3 262.3,392 262.6,391.6 262.9,391.2 263.2,390.8 263.5,390.4 263.8,390 264.1,389.7 264.4,389.3 264.7,388.9 265,388.5 265.3,388.1 265.6,387.8 265.9,387.4 266.2,387 266.5,386.6 266.8,386.2 267.1,385.9 267.4,385.8 267.7,385.8 268,385.8 268.3,385.8 268.6,385.8 268.9,386.1 269.2,386.4 269.5,386.8 269.8,387.2 270.1,387.6 270.4,388 270.7,388.3 271,388.7 271.3,389.1 271.6,389.5 271.9,389.9 272.2,390.2 272.5,390.6 272.8,391 273.1,391.4 273.4,391.8 273.7,392.2 274,392.5 274.3,392.9 274.6,393 274.9,393 275.2,392.8 275.5,392.4 275.8,392 276.1,391.6 276.4,391.2 276.7,390.9 277,390.5 277.3,390.1 277.6,389.7 277.9,389.3 278.2,389 278.5,388.6 278.8,388.2 279.1,387.8 279.4,387.4 279.7,387.1 280,386.7 280.3,386.3 280.6,385.9 280.9,385.8 281.2,385.8 281.5,385.8 281.8,385.8 282.1,385.8 282.4,386 282.7,386.4 283,386.8 283.3,387.2 283.6,387.5 283.9,387.9 284.2,388.3 284.5,388.7 284.8,389.1 285.1,389.4 285.4,389.8 285.7,390.2 286,390.6 286.3,391 286.6,391.3 286.9,391.7 287.2,392.1 287.5,392.5 287.8,392.9 288.1,393 288.4,393 288.7,392.8 289,392.4 289.3,392.1 289.6,391.7 289.9,391.3 290.2,390.9 290.5,390.5 290.8,390.1 291.1,389.8 291.4,389.4 291.7,389 292,388.6 292.3,388.2 292.6,387.9 292.9,387.5 293.2,387.1 293.5,386.7 293.8,386.3 294.1,386 294.4,385.8 294.7,385.8 295,385.8 295.3,385.8 295.6,385.8 295.9,386 296.2,386.3 296.5,386.7 296.8,387.1 297.1,387.5 297.4,387.9 297.7,388.2 298,388.6 298.3,389 298.6,389.4 298.9,389.8 299.2,390.1 299.5,390.5 299.8,390.9 300.1,391.3 300.4,391.7 300.7,392.1 301,392.4 301.3,392.8 301.6,393 301.9,393 302.2,392.9 302.5,392.5 302.8,392.1 303.1,391.7 303.4,391.3 303.7,391 304,390.6 304.3,390.2 304.6,389.8 304.9,389.4 305.2,389.1 305.5,388.7 305.8,388.3 306.1,387.9 306.4,387.5 306.7,387.2 307,386.8 307.3,386.4 307.6,386 307.9,385.8 308.2,385.8 308.5,385.8 308.8,385.8 309.1,385.8 309.4,385.9 309.7,386.3 310,386.7 310.3,387.1 310.6,387.4 310.9,387.8 311.2,388.2 311.5,388.6 311.8,389 312.1,389.3 312.4,389.7 312.7,390.1 313,390.5 313.3,390.9 313.6,391.2 313.9,391.6 314.2,392 314.5,392.4 314.8,392.8 315.1,393 315.4,393 315.7,392.9 316,392.5 316.3,392.2 316.6,391.8 316.9,391.4 317.2,391 317.5,390.6 317.8,390.2 318.1,389.9 318.4,389.5 318.7,389.1 319,388.7 319.3,388.3 319.6,388 319.9,387.6 320.2,387.2 320.5,386.8 320.8,386.4 321.1,386.1 321.4,385.8 321.7,385.8 322,385.8 322.3,385.8 322.6,385.8 322.9,385.9 323.2,386.2 323.5,386.6 323.8,387 324.1,387.4 324.4,387.8 324.7,388.1 325,388.5 325.3,388.9 325.6,389.3 325.9,389.7 326.2,390 326.5,390.4 326.8,390.8 327.1,391.2 327.4,391.6 327.7,391.9 328,392.3 328.3,392.7 328.6,393 328.9,393 329.2,393 329.5,392.6 329.8,392.2 330.1,391.8 330.4,391.4 330.7,391.1 331,390.7 331.3,390.3 331.6,389.9 331.9,389.5 332.2,389.2 332.5,388.8 332.8,388.4 333.1,388 333.4,387.6 333.7,387.3 334,386.9 334.3,386.5 334.6,386.1 334.9,385.8 335.2,385.8 335.5,385.8 335.8,385.8 336.1,385.8 336.4,385.8 336.7,386.2 337,386.6 337.3,387 337.6,387.3 337.9,387.7 338.2,388.1 338.5,388.5 338.8,388.9 339.1,389.2 339.4,389.6 339.7,390 340,390.4 340.3,390.8 340.6,391.1 340.9,391.5 341.2,391.9 341.5,392.3 341.8,392.7 342.1,393 342.4,393 342.7,393 343,392.6 343.3,392.3 343.6,391.9 343.9,391.5 344.2,391.1 344.5,390.7 344.8,390.4 345.1,390 345.4,389.6 345.7,389.2 346,388.8 346.3,388.4 346.6,388.1 346.9,387.7 347.2,387.3 347.5,386.9 347.8,386.5 348.1,386.2 348.4,385.8 348.7,385.8 349,385.8 349.3,385.8 349.6,385.8 349.9,385.8 350.2,386.1 350.5,386.5 350.8,386.9 351.1,387.3 351.4,387.7 351.7,388 352,388.4 352.3,388.8 352.6,389.2 352.9,389.6 353.2,389.9 353.5,390.3 353.8,390.7 354.1,391.1 354.4,391.5 354.7,391.8 355,392.2 355.3,392.6 355.6,393 355.9,393 356.2,393 356.5,392.7 356.8,392.3 357.1,391.9 357.4,391.5 357.7,391.2 358,390.8 358.3,390.4 358.6,390 358.9,389.6 359.2,389.3 359.5,388.9 359.8,388.5 360.1,388.1 360.4,387.7 360.7,387.4 361,387 361.3,386.6 361.6,386.2 361.9,385.8 362.2,385.8 362.5,385.8 362.8,385.8 363.1,385.8 363.4,385.8 363.7,386.1 364,386.5 364.3,386.8 364.6,387.2 364.9,387.6 365.2,388 365.5,388.4 365.8,388.8 366.1,389.1 366.4,389.5 366.7,389.9 367,390.3 367.3,390.7 367.6,391 367.9,391.4 368.2,391.8 368.5,392.2 368.8,392.6 369.1,392.9 369.4,393 369.7,393 370,392.7 370.3,392.4 370.6,392 370.9,391.6 371.2,391.2 371.5,390.8 371.8,390.5 372.1,390.1 372.4,389.7 372.7,389.3 373,388.9 373.3,388.5 373.6,388.2 373.9,387.8 374.2,387.4 374.5,387 374.8,386.6 375.1,386.3 375.4,385.9 375.7,385.8 376,385.8 376.3,385.8 376.6,385.8 376.9,385.8 377.2,386 377.5,386.4 377.8,386.8 378.1,387.2 378.4,387.6 378.7,387.9 379,388.3 379.3,388.7 379.6,389.1 379.9,389.5 380.2,389.8 380.5,390.2 380.8,390.6 381.1,391 381.4,391.4 381.7,391.7 382,392.1 382.3,392.5 382.6,392.9 382.9,393 383.2,393 383.5,392.8 383.8,392.4 384.1,392 384.4,391.6 384.7,391.3 385,390.9 385.3,390.5 385.6,390.1 385.9,389.7 386.2,389.4 386.5,389 386.8,388.6 387.1,388.2 387.4,387.8 387.7,387.5 388,387.1 388.3,386.7 388.6,386.3 388.9,385.9 389.2,385.8 389.5,385.8 389.8,385.8 390.1,385.8 390.4,385.8 390.7,386 391,386.4 391.3,386.7 391.6,387.1 391.9,387.5 392.2,387.9 392.5,388.3 392.8,388.7 393.1,389 393.4,389.4 393.7,389.8 394,390.2 394.3,390.6 394.6,390.9 394.9,391.3 395.2,391.7 395.5,392.1 395.8,392.5 396.1,392.8 396.4,393 396.7,393 397,392.8 397.3,392.5 397.6,392.1 397.9,391.7 398.2,391.3 398.5,390.9 398.8,390.6 399.1,390.2 399.4,389.8 399.7,389.4 400,389 400.3,388.7 400.6,388.3 400.9,387.9 401.2,387.5 401.5,387.1 401.8,386.7 402.1,386.4 402.4,386 402.7,385.8 403,385.8 403.3,385.8 403.6,385.8 403.9,385.8 404.2,385.9 404.5,386.3 404.8,386.7 405.1,387.1 405.4,387.5 405.7,387.8 406,388.2 406.3,388.6 406.6,389 406.9,389.4 407.2,389.7 407.5,390.1 407.8,390.5 408.1,390.9 408.4,391.3 408.7,391.6 409,392 409.3,392.4 409.6,392.8 409.9,393 410.2,393 410.5,392.9 410.8,392.5 411.1,392.1 411.4,391.7 411.7,391.4 412,391 412.3,390.6 412.6,390.2 412.9,389.8 413.2,389.5 413.5,389.1 413.8,388.7 414.1,388.3 414.4,387.9 414.7,387.6 415,387.2 415.3,386.8 415.6,386.4 415.9,386 416.2,385.8 416.5,385.8 416.8,385.8 417.1,385.8 417.4,385.8 417.7,385.9 418,386.3 418.3,386.6 418.6,387 418.9,387.4 419.2,387.8 419.5,388.2 419.8,388.5 420.1,388.9 420.4,389.3 420.7,389.7 421,390.1 421.3,390.5 421.6,390.8 421.9,391.2 422.2,391.6 422.5,392 422.8,392.4 423.1,392.7 423.4,393 423.7,393 424,392.9 424.3,392.6 424.6,392.2 424.9,391.8 425.2,391.4 425.5,391 425.8,390.7 426.1,390.3 426.4,389.9 426.7,389.5 427,389.1 427.3,388.8 427.6,388.4 427.9,388 428.2,387.6 428.5,387.2 428.8,386.8 429.1,386.5 429.4,386.1 429.7,385.8 430,385.8 430.3,385.8 430.6,385.8 430.9,385.8 431.2,385.8 431.5,386.2 431.8,386.6 432.1,387 432.4,387.4 432.7,387.7 433,388.1 433.3,388.5 433.6,388.9 433.9,389.3 434.2,389.6 434.5,390 434.8,390.4 435.1,390.8 435.4,391.2 435.7,391.5 436,391.9 436.3,392.3 436.6,392.7 436.9,393 437.2,393 437.5,393 437.8,392.6 438.1,392.2 438.4,391.8 438.7,391.5 439,391.1 439.3,390.7 439.6,390.3 439.9,389.9 440.2,389.6 440.5,389.2 440.8,388.8 441.1,388.4 441.4,388 441.7,387.7 442,387.3 442.3,386.9 442.6,386.5 442.9,386.1 443.2,385.8 443.5,385.8 443.8,385.8 444.1,385.8 444.4,385.8 444.7,385.8 445,386.2 445.3,386.5 445.6,386.9 445.9,387.3 446.2,387.7 446.5,388.1 446.8,388.4 447.1,388.8 447.4,389.2 447.7,389.6 448,390 448.3,390.4 448.6,390.7 448.9,391.1 449.2,391.5 449.5,391.9 449.8,392.3 450.1,392.6 450.4,393 450.7,393 451,393 451.3,392.7 451.6,392.3 451.9,391.9 452.2,391.5 452.5,391.1 452.8,390.8 453.1,390.4 453.4,390 453.7,389.6 454,389.2 454.3,388.9 454.6,388.5 454.9,388.1 455.2,387.7 455.5,387.3 455.8,387 456.1,386.6 456.4,386.2 456.7,385.8 457,385.8 457.3,385.8 457.6,385.8 457.9,385.8 458.2,385.8 458.5,386.1 458.8,386.5 459.1,386.9 459.4,387.3 459.7,387.6 460,388 460.3,388.4 460.6,388.8 460.9,389.2 461.2,389.5 461.5,389.9 461.8,390.3 462.1,390.7 462.4,391.1 462.7,391.4 463,391.8 463.3,392.2 463.6,392.6 463.9,393 464.2,393 464.5,393 464.8,392.7 465.1,392.3 465.4,391.9 465.7,391.6 466,391.2 466.3,390.8 466.6,390.4 466.9,390 467.2,389.7 467.5,389.3 467.8,388.9 468.1,388.5 468.4,388.1 468.7,387.8 469,387.4 469.3,387 469.6,386.6 469.9,386.2 470.2,385.9 470.5,385.8 470.8,385.8 471.1,385.8 471.4,385.8 471.7,385.8 472,386.1 472.3,386.4 472.6,386.8 472.9,387.2 473.2,387.6 473.5,388 473.8,388.3 474.1,388.7 474.4,389.1 474.7,389.5 475,389.9 475.3,390.2 475.6,390.6 475.9,391 476.2,391.4 476.5,391.8 476.8,392.2 477.1,392.5 477.4,392.9 477.7,393 478,393 478.3,392.8 478.6,392.4 478.9,392 479.2,391.6 479.5,391.2 479.8,390.9 480.1,390.5 480.4,390.1 480.7,389.7 481,389.3 481.3,389 481.6,388.6 481.9,388.2 482.2,387.8 482.5,387.4 482.8,387.1 483.1,386.7 483.4,386.3 483.7,385.9 484,385.8 484.3,385.8 484.6,385.8 484.9,385.8 485.2,385.8 485.5,386 485.8,386.4 486.1,386.8 486.4,387.2 486.7,387.5 487,387.9 487.3,388.3 487.6,388.7 487.9,389.1 488.2,389.4 488.5,389.8 488.8,390.2 489.1,390.6 489.4,391 489.7,391.3 490,391.7 490.3,392.1 490.6,392.5 490.9,392.9 491.2,393 491.5,393 491.8,392.8 492.1,392.4 492.4,392.1 492.7,391.7 493,391.3 493.3,390.9 493.6,390.5 493.9,390.1 494.2,389.8 494.5,389.4 494.8,389 495.1,388.6 495.4,388.2 495.7,387.9 496,387.5 496.3,387.1 496.6,386.7 496.9,386.3 497.2,386 497.5,385.8 497.8,385.8 498.1,385.8 498.4,385.8 498.7,385.8 499,386 499.3,386.3 499.6,386.7 499.9,387.1 500.2,387.5 500.5,387.9 500.8,388.2 501.1,388.6 501.4,389 501.7,389.4 502,389.8 502.3,390.1 502.6,390.5 502.9,390.9 503.2,391.3 503.5,391.7 503.8,392.1 504.1,392.4 504.4,392.8 504.7,393 505,393 505.3,392.9 505.6,392.5 505.9,392.1 506.2,391.7 506.5,391.3 506.8,391 507.1,390.6 507.4,390.2 507.7,389.8 508,389.4 508.3,389.1 508.6,388.7 508.9,388.3 509.2,387.9 509.5,387.5 509.8,387.2 510.1,386.8 510.4,386.4 510.7,386 511,385.8 511.3,385.8 511.6,385.8 511.9,385.8 512.2,385.8 512.5,385.9 512.8,386.3 513.1,386.7 513.4,387.1 513.7,387.4 514,387.8 514.3,388.2 514.6,388.6 514.9,389 515.2,389.3 515.5,389.7 515.8,390.1 516.1,390.5 516.4,390.9 516.7,391.2 517,391.6 517.3,392 517.6,392.4 517.9,392.8 518.2,393 518.5,393 518.8,392.9 519.1,392.5 519.4,392.2 519.7,391.8 520,391.4 520.3,391 520.6,390.6 520.9,390.2 521.2,389.9 521.5,389.5 521.8,389.1 522.1,388.7 522.4,388.3 522.7,388 523,387.6 523.3,387.2 523.6,386.8 523.9,386.4 524.2,386.1 524.5,385.8 524.8,385.8 525.1,385.8 525.4,385.8 525.7,385.8 526,385.9 526.3,386.2 526.6,386.6 526.9,387 527.2,387.4 527.5,387.8 527.8,388.1 528.1,388.5 528.4,388.9 528.7,389.3 529,389.7 529.3,390 529.6,390.4 529.9,390.8 530.2,391.2 530.5,391.6 530.8,391.9 531.1,392.3 531.4,392.7 531.7,393 532,393 532.3,393 532.6,392.6 532.9,392.2 533.2,391.8 533.2,395.9 532.9,395.8 532.6,395.8 532.3,395.7 532,395.7 531.7,395.7 531.4,395.7 531.1,395.8 530.8,395.9 530.5,396 530.2,396.1 529.9,396.2 529.6,396.4 529.3,396.5 529,396.7 528.7,396.9 528.4,397 528.1,397.2 527.8,397.4 527.5,397.5 527.2,397.7 526.9,397.8 526.6,397.9 526.3,398 526,398.1 525.7,398.2 525.4,398.2 525.1,398.2 524.8,398.2 524.5,398.1 524.2,398.1 523.9,398 523.6,397.9 523.3,397.8 523,397.6 522.7,397.5 522.4,397.3 522.1,397.1 521.8,397 521.5,396.8 521.2,396.6 520.9,396.4 520.6,396.3 520.3,396.2 520,396 519.7,395.9 519.4,395.8 519.1,395.8 518.8,395.7 518.5,395.7 518.2,395.7 517.9,395.7 517.6,395.8 517.3,395.9 517,396 516.7,396.1 516.4,396.2 516.1,396.4 515.8,396.5 515.5,396.7 515.2,396.8 514.9,397 514.6,397.2 514.3,397.4 514,397.5 513.7,397.7 513.4,397.8 513.1,397.9 512.8,398 512.5,398.1 512.2,398.2 511.9,398.2 511.6,398.2 511.3,398.2 511,398.1 510.7,398.1 510.4,398 510.1,397.9 509.8,397.8 509.5,397.6 509.2,397.5 508.9,397.3 508.6,397.1 508.3,397 508,396.8 507.7,396.6 507.4,396.5 507.1,396.3 506.8,396.2 506.5,396 506.2,395.9 505.9,395.8 505.6,395.8 505.3,395.7 505,395.7 504.7,395.7 504.4,395.7 504.1,395.8 503.8,395.9 503.5,395.9 503.2,396.1 502.9,396.2 502.6,396.3 502.3,396.5 502,396.7 501.7,396.8 501.4,397 501.1,397.2 500.8,397.3 500.5,397.5 500.2,397.7 499.9,397.8 499.6,397.9 499.3,398 499,398.1 498.7,398.2 498.4,398.2 498.1,398.2 497.8,398.2 497.5,398.2 497.2,398.1 496.9,398 496.6,397.9 496.3,397.8 496,397.7 495.7,397.5 495.4,397.3 495.1,397.2 494.8,397 494.5,396.8 494.2,396.7 493.9,396.5 493.6,396.3 493.3,396.2 493,396.1 492.7,395.9 492.4,395.9 492.1,395.8 491.8,395.7 491.5,395.7 491.2,395.7 490.9,395.7 490.6,395.8 490.3,395.8 490,395.9 489.7,396 489.4,396.2 489.1,396.3 488.8,396.5 488.5,396.6 488.2,396.8 487.9,397 487.6,397.1 487.3,397.3 487,397.5 486.7,397.6 486.4,397.8 486.1,397.9 485.8,398 485.5,398.1 485.2,398.1 484.9,398.2 484.6,398.2 484.3,398.2 484,398.2 483.7,398.1 483.4,398 483.1,397.9 482.8,397.8 482.5,397.7 482.2,397.5 481.9,397.4 481.6,397.2 481.3,397 481,396.8 480.7,396.7 480.4,396.5 480.1,396.4 479.8,396.2 479.5,396.1 479.2,396 478.9,395.9 478.6,395.8 478.3,395.7 478,395.7 477.7,395.7 477.4,395.7 477.1,395.8 476.8,395.8 476.5,395.9 476.2,396 475.9,396.2 475.6,396.3 475.3,396.4 475,396.6 474.7,396.8 474.4,397 474.1,397.1 473.8,397.3 473.5,397.5 473.2,397.6 472.9,397.8 472.6,397.9 472.3,398 472,398.1 471.7,398.1 471.4,398.2 471.1,398.2 470.8,398.2 470.5,398.2 470.2,398.1 469.9,398 469.6,397.9 469.3,397.8 469,397.7 468.7,397.5 468.4,397.4 468.1,397.2 467.8,397 467.5,396.9 467.2,396.7 466.9,396.5 466.6,396.4 466.3,396.2 466,396.1 465.7,396 465.4,395.9 465.1,395.8 464.8,395.7 464.5,395.7 464.2,395.7 463.9,395.7 463.6,395.8 463.3,395.8 463,395.9 462.7,396 462.4,396.1 462.1,396.3 461.8,396.4 461.5,396.6 461.2,396.8 460.9,396.9 460.6,397.1 460.3,397.3 460,397.4 459.7,397.6 459.4,397.7 459.1,397.9 458.8,398 458.5,398.1 458.2,398.1 457.9,398.2 457.6,398.2 457.3,398.2 457,398.2 456.7,398.1 456.4,398 456.1,398 455.8,397.8 455.5,397.7 455.2,397.6 454.9,397.4 454.6,397.2 454.3,397.1 454,396.9 453.7,396.7 453.4,396.6 453.1,396.4 452.8,396.2 452.5,396.1 452.2,396 451.9,395.9 451.6,395.8 451.3,395.7 451,395.7 450.7,395.7 450.4,395.7 450.1,395.7 449.8,395.8 449.5,395.9 449.2,396 448.9,396.1 448.6,396.3 448.3,396.4 448,396.6 447.7,396.7 447.4,396.9 447.1,397.1 446.8,397.3 446.5,397.4 446.2,397.6 445.9,397.7 445.6,397.8 445.3,398 445,398.1 444.7,398.1 444.4,398.2 444.1,398.2 443.8,398.2 443.5,398.2 443.2,398.1 442.9,398.1 442.6,398 442.3,397.9 442,397.7 441.7,397.6 441.4,397.4 441.1,397.3 440.8,397.1 440.5,396.9 440.2,396.7 439.9,396.6 439.6,396.4 439.3,396.3 439,396.1 438.7,396 438.4,395.9 438.1,395.8 437.8,395.8 437.5,395.7 437.2,395.7 436.9,395.7 436.6,395.7 436.3,395.8 436,395.9 435.7,396 435.4,396.1 435.1,396.2 434.8,396.4 434.5,396.5 434.2,396.7 433.9,396.9 433.6,397.1 433.3,397.2 433,397.4 432.7,397.6 432.4,397.7 432.1,397.8 431.8,397.9 431.5,398 431.2,398.1 430.9,398.2 430.6,398.2 430.3,398.2 430,398.2 429.7,398.1 429.4,398.1 429.1,398 428.8,397.9 428.5,397.7 428.2,397.6 427.9,397.4 427.6,397.3 427.3,397.1 427,396.9 426.7,396.8 426.4,396.6 426.1,396.4 425.8,396.3 425.5,396.1 425.2,396 424.9,395.9 424.6,395.8 424.3,395.8 424,395.7 423.7,395.7 423.4,395.7 423.1,395.7 422.8,395.8 422.5,395.9 422.2,396 421.9,396.1 421.6,396.2 421.3,396.4 421,396.5 420.7,396.7 420.4,396.9 420.1,397 419.8,397.2 419.5,397.4 419.2,397.5 418.9,397.7 418.6,397.8 418.3,397.9 418,398 417.7,398.1 417.4,398.2 417.1,398.2 416.8,398.2 416.5,398.2 416.2,398.1 415.9,398.1 415.6,398 415.3,397.9 415,397.8 414.7,397.6 414.4,397.5 414.1,397.3 413.8,397.1 413.5,397 413.2,396.8 412.9,396.6 412.6,396.5 412.3,396.3 412,396.2 411.7,396 411.4,395.9 411.1,395.8 410.8,395.8 410.5,395.7 410.2,395.7 409.9,395.7 409.6,395.7 409.3,395.8 409,395.9 408.7,396 408.4,396.1 408.1,396.2 407.8,396.3 407.5,396.5 407.2,396.7 406.9,396.8 406.6,397 406.3,397.2 406,397.4 405.7,397.5 405.4,397.7 405.1,397.8 404.8,397.9 404.5,398 404.2,398.1 403.9,398.2 403.6,398.2 403.3,398.2 403,398.2 402.7,398.1 402.4,398.1 402.1,398 401.8,397.9 401.5,397.8 401.2,397.6 400.9,397.5 400.6,397.3 400.3,397.2 400,397 399.7,396.8 399.4,396.6 399.1,396.5 398.8,396.3 398.5,396.2 398.2,396 397.9,395.9 397.6,395.8 397.3,395.8 397,395.7 396.7,395.7 396.4,395.7 396.1,395.7 395.8,395.8 395.5,395.8 395.2,395.9 394.9,396 394.6,396.2 394.3,396.3 394,396.5 393.7,396.6 393.4,396.8 393.1,397 392.8,397.2 392.5,397.3 392.2,397.5 391.9,397.6 391.6,397.8 391.3,397.9 391,398 390.7,398.1 390.4,398.1 390.1,398.2 389.8,398.2 389.5,398.2 389.2,398.2 388.9,398.1 388.6,398 388.3,397.9 388,397.8 387.7,397.7 387.4,397.5 387.1,397.4 386.8,397.2 386.5,397 386.2,396.8 385.9,396.7 385.6,396.5 385.3,396.3 385,396.2 384.7,396.1 384.4,396 384.1,395.9 383.8,395.8 383.5,395.7 383.2,395.7 382.9,395.7 382.6,395.7 382.3,395.8 382,395.8 381.7,395.9 381.4,396 381.1,396.2 380.8,396.3 380.5,396.5 380.2,396.6 379.9,396.8 379.6,397 379.3,397.1 379,397.3 378.7,397.5 378.4,397.6 378.1,397.8 377.8,397.9 377.5,398 377.2,398.1 376.9,398.1 376.6,398.2 376.3,398.2 376,398.2 375.7,398.2 375.4,398.1 375.1,398 374.8,397.9 374.5,397.8 374.2,397.7 373.9,397.5 373.6,397.4 373.3,397.2 373,397 372.7,396.9 372.4,396.7 372.1,396.5 371.8,396.4 371.5,396.2 371.2,396.1 370.9,396 370.6,395.9 370.3,395.8 370,395.7 369.7,395.7 369.4,395.7 369.1,395.7 368.8,395.8 368.5,395.8 368.2,395.9 367.9,396 367.6,396.1 367.3,396.3 367,396.4 366.7,396.6 366.4,396.8 366.1,396.9 365.8,397.1 365.5,397.3 365.2,397.4 364.9,397.6 364.6,397.7 364.3,397.9 364,398 363.7,398.1 363.4,398.1 363.1,398.2 362.8,398.2 362.5,398.2 362.2,398.2 361.9,398.1 361.6,398 361.3,397.9 361,397.8 360.7,397.7 360.4,397.6 360.1,397.4 359.8,397.2 359.5,397.1 359.2,396.9 358.9,396.7 358.6,396.5 358.3,396.4 358,396.2 357.7,396.1 357.4,396 357.1,395.9 356.8,395.8 356.5,395.7 356.2,395.7 355.9,395.7 355.6,395.7 355.3,395.8 355,395.8 354.7,395.9 354.4,396 354.1,396.1 353.8,396.3 353.5,396.4 353.2,396.6 352.9,396.7 352.6,396.9 352.3,397.1 352,397.3 351.7,397.4 351.4,397.6 351.1,397.7 350.8,397.9 350.5,398 350.2,398.1 349.9,398.1 349.6,398.2 349.3,398.2 349,398.2 348.7,398.2 348.4,398.1 348.1,398.1 347.8,398 347.5,397.8 347.2,397.7 346.9,397.6 346.6,397.4 346.3,397.3 346,397.1 345.7,396.9 345.4,396.7 345.1,396.6 344.8,396.4 344.5,396.3 344.2,396.1 343.9,396 343.6,395.9 343.3,395.8 343,395.7 342.7,395.7 342.4,395.7 342.1,395.7 341.8,395.7 341.5,395.8 341.2,395.9 340.9,396 340.6,396.1 340.3,396.2 340,396.4 339.7,396.6 339.4,396.7 339.1,396.9 338.8,397.1 338.5,397.2 338.2,397.4 337.9,397.6 337.6,397.7 337.3,397.8 337,398 336.7,398 336.4,398.1 336.1,398.2 335.8,398.2 335.5,398.2 335.2,398.2 334.9,398.1 334.6,398.1 334.3,398 334,397.9 333.7,397.7 333.4,397.6 333.1,397.4 332.8,397.3 332.5,397.1 332.2,396.9 331.9,396.8 331.6,396.6 331.3,396.4 331,396.3 330.7,396.1 330.4,396 330.1,395.9 329.8,395.8 329.5,395.8 329.2,395.7 328.9,395.7 328.6,395.7 328.3,395.7 328,395.8 327.7,395.9 327.4,396 327.1,396.1 326.8,396.2 326.5,396.4 326.2,396.5 325.9,396.7 325.6,396.9 325.3,397 325,397.2 324.7,397.4 324.4,397.5 324.1,397.7 323.8,397.8 323.5,397.9 323.2,398 322.9,398.1 322.6,398.2 322.3,398.2 322,398.2 321.7,398.2 321.4,398.1 321.1,398.1 320.8,398 320.5,397.9 320.2,397.8 319.9,397.6 319.6,397.5 319.3,397.3 319,397.1 318.7,397 318.4,396.8 318.1,396.6 317.8,396.4 317.5,396.3 317.2,396.2 316.9,396 316.6,395.9 316.3,395.8 316,395.8 315.7,395.7 315.4,395.7 315.1,395.7 314.8,395.7 314.5,395.8 314.2,395.9 313.9,396 313.6,396.1 313.3,396.2 313,396.4 312.7,396.5 312.4,396.7 312.1,396.8 311.8,397 311.5,397.2 311.2,397.4 310.9,397.5 310.6,397.7 310.3,397.8 310,397.9 309.7,398 309.4,398.1 309.1,398.2 308.8,398.2 308.5,398.2 308.2,398.2 307.9,398.1 307.6,398.1 307.3,398 307,397.9 306.7,397.8 306.4,397.6 306.1,397.5 305.8,397.3 305.5,397.1 305.2,397 304.9,396.8 304.6,396.6 304.3,396.5 304,396.3 303.7,396.2 303.4,396 303.1,395.9 302.8,395.8 302.5,395.8 302.2,395.7 301.9,395.7 301.6,395.7 301.3,395.7 301,395.8 300.7,395.9 300.4,395.9 300.1,396.1 299.8,396.2 299.5,396.3 299.2,396.5 298.9,396.7 298.6,396.8 298.3,397 298,397.2 297.7,397.3 297.4,397.5 297.1,397.7 296.8,397.8 296.5,397.9 296.2,398 295.9,398.1 295.6,398.2 295.3,398.2 295,398.2 294.7,398.2 294.4,398.2 294.1,398.1 293.8,398 293.5,397.9 293.2,397.8 292.9,397.7 292.6,397.5 292.3,397.3 292,397.2 291.7,397 291.4,396.8 291.1,396.7 290.8,396.5 290.5,396.3 290.2,396.2 289.9,396.1 289.6,395.9 289.3,395.9 289,395.8 288.7,395.7 288.4,395.7 288.1,395.7 287.8,395.7 287.5,395.8 287.2,395.8 286.9,395.9 286.6,396 286.3,396.2 286,396.3 285.7,396.5 285.4,396.6 285.1,396.8 284.8,397 284.5,397.2 284.2,397.3 283.9,397.5 283.6,397.6 283.3,397.8 283,397.9 282.7,398 282.4,398.1 282.1,398.1 281.8,398.2 281.5,398.2 281.2,398.2 280.9,398.2 280.6,398.1 280.3,398 280,397.9 279.7,397.8 279.4,397.7 279.1,397.5 278.8,397.4 278.5,397.2 278.2,397 277.9,396.8 277.6,396.7 277.3,396.5 277,396.4 276.7,396.2 276.4,396.1 276.1,396 275.8,395.9 275.5,395.8 275.2,395.7 274.9,395.7 274.6,395.7 274.3,395.7 274,395.8 273.7,395.8 273.4,395.9 273.1,396 272.8,396.2 272.5,396.3 272.2,396.4 271.9,396.6 271.6,396.8 271.3,397 271,397.1 270.7,397.3 270.4,397.5 270.1,397.6 269.8,397.8 269.5,397.9 269.2,398 268.9,398.1 268.6,398.1 268.3,398.2 268,398.2 267.7,398.2 267.4,398.2 267.1,398.1 266.8,398 266.5,397.9 266.2,397.8 265.9,397.7 265.6,397.5 265.3,397.4 265,397.2 264.7,397 264.4,396.9 264.1,396.7 263.8,396.5 263.5,396.4 263.2,396.2 262.9,396.1 262.6,396 262.3,395.9 262,395.8 261.7,395.7 261.4,395.7 261.1,395.7 260.8,395.7 260.5,395.8 260.2,395.8 259.9,395.9 259.6,396 259.3,396.1 259,396.3 258.7,396.4 258.4,396.6 258.1,396.8 257.8,396.9 257.5,397.1 257.2,397.3 256.9,397.4 256.6,397.6 256.3,397.7 256,397.9 255.7,398 255.4,398.1 255.1,398.1 254.8,398.2 254.5,398.2 254.2,398.2 253.9,398.2 253.6,398.1 253.3,398.1 253,398 252.7,397.8 252.4,397.7 252.1,397.6 251.8,397.4 251.5,397.2 251.2,397.1 250.9,396.9 250.6,396.7 250.3,396.6 250,396.4 249.7,396.3 249.4,396.1 249.1,396 248.8,395.9 248.5,395.8 248.2,395.8 247.9,395.7 247.6,395.7 247.3,395.7 247,395.8 246.7,395.8 246.4,395.9 246.1,396 245.8,396.1 245.5,396.3 245.2,396.4 244.9,396.6 244.6,396.7 244.3,396.9 244,397.1 243.7,397.3 243.4,397.4 243.1,397.6 242.8,397.7 242.5,397.9 242.2,398 241.9,398.1 241.6,398.1 241.3,398.2 241,398.2 240.7,398.2 240.4,398.2 240.1,398.1 239.8,398.1 239.5,398 239.2,397.9 238.9,397.7 238.6,397.6 238.3,397.4 238,397.3 237.7,397.1 237.4,396.9 237.1,396.8 236.8,396.6 236.5,396.4 236.2,396.3 235.9,396.1 235.6,396 235.3,395.9 235,395.8 234.7,395.8 234.4,395.7 234.1,395.7 233.8,395.7 233.5,395.8 233.2,395.8 232.9,395.9 232.6,396 232.3,396.1 232,396.3 231.7,396.4 231.4,396.6 231.1,396.7 230.8,396.9 230.5,397.1 230.2,397.3 229.9,397.4 229.6,397.6 229.3,397.7 229,397.9 228.7,398 228.4,398.1 228.1,398.1 227.8,398.2 227.5,398.2 227.2,398.2 226.9,398.2 226.6,398.2 226.3,398.1 226,398 225.7,397.9 225.4,397.8 225.1,397.6 224.8,397.5 224.5,397.3 224.2,397.2 223.9,397 223.6,396.8 223.3,396.6 223,396.5 222.7,396.3 222.4,396.2 222.1,396.1 221.8,396 221.5,395.9 221.2,395.8 220.9,395.8 220.6,395.7 220.3,395.8 220,395.8 219.7,395.8 219.4,395.9 219.1,396 218.8,396.1 218.5,396.3 218.2,396.4 217.9,396.6 217.6,396.7 217.3,396.9 217,397.1 216.7,397.3 216.4,397.4 216.1,397.6 215.8,397.7 215.5,397.9 215.2,398 214.9,398.1 214.6,398.2 214.3,398.2 214,398.3 213.7,398.3 213.4,398.3 213.1,398.2 212.8,398.2 212.5,398.1 212.2,398 211.9,397.8 211.6,397.7 211.3,397.6 211,397.4 210.7,397.2 210.4,397.1 210.1,396.9 209.8,396.7 209.5,396.6 209.2,396.4 208.9,396.3 208.6,396.1 208.3,396 208,395.9 207.7,395.9 207.4,395.8 207.1,395.8 206.8,395.8 206.5,395.8 206.2,395.9 205.9,396 205.6,396.1 205.3,396.2 205,396.3 204.7,396.5 204.4,396.6 204.1,396.8 203.8,397 203.5,397.2 203.2,397.3 202.9,397.5 202.6,397.7 202.3,397.8 202,398 201.7,398.1 201.4,398.2 201.1,398.3 200.8,398.3 200.5,398.4 200.2,398.4 199.9,398.4 199.6,398.3 199.3,398.3 199,398.2 198.7,398.1 198.4,398 198.1,397.8 197.8,397.7 197.5,397.5 197.2,397.4 196.9,397.2 196.6,397 196.3,396.9 196,396.7 195.7,396.6 195.4,396.4 195.1,396.3 194.8,396.2 194.5,396.1 194.2,396 193.9,396 193.6,396 193.3,396 193,396 192.7,396.1 192.4,396.1 192.1,396.2 191.8,396.3 191.5,396.5 191.2,396.6 190.9,396.8 190.6,397 190.3,397.1 190,397.3 189.7,397.5 189.4,397.7 189.1,397.8 188.8,398 188.5,398.2 188.2,398.3 187.9,398.4 187.6,398.5 187.3,398.6 187,398.6 186.7,398.6 186.4,398.6 186.1,398.6 185.8,398.5 185.5,398.5 185.2,398.4 184.9,398.3 184.6,398.1 184.3,398 184,397.8 183.7,397.7 183.4,397.5 183.1,397.4 182.8,397.2 182.5,397 182.2,396.9 181.9,396.7 181.6,396.6 181.3,396.5 181,396.4 180.7,396.4 180.4,396.3 180.1,396.3 179.8,396.3 179.5,396.4 179.2,396.4 178.9,396.5 178.6,396.6 178.3,396.7 178,396.9 177.7,397 177.4,397.2 177.1,397.4 176.8,397.6 176.5,397.7 176.2,397.9 175.9,398.1 175.6,398.3 175.3,398.5 175,398.6 174.7,398.8 174.4,398.9 174.1,399 173.8,399.1 173.5,399.2 173.2,399.2 172.9,399.2 172.6,399.2 172.3,399.2 172,399.1 171.7,399 171.4,398.9 171.1,398.8 170.8,398.7 170.5,398.5 170.2,398.4 169.9,398.2 169.6,398.1 169.3,397.9 169,397.8 168.7,397.6 168.4,397.5 168.1,397.4 167.8,397.3 167.5,397.2 167.2,397.2 166.9,397.1 166.6,397.1 166.3,397.1 166,397.2 165.7,397.3 165.4,397.3 165.1,397.5 164.8,397.6 164.5,397.8 164.2,398 163.9,398.2 163.6,398.4 163.3,398.6 163,398.8 162.7,399 162.4,399.3 162.1,399.5 161.8,399.7 161.5,399.9 161.2,400.1 160.9,400.2 160.6,400.4 160.3,400.5 160,400.6 159.7,400.7 159.4,400.7 159.1,400.7 158.8,400.7 158.5,400.7 158.2,400.6 157.9,400.5 157.6,400.5 157.3,400.3 157,400.2 156.7,400.1 156.4,399.9 156.1,399.8 155.8,399.6 155.5,399.5 155.2,399.4 154.9,399.3 154.6,399.2 154.3,399.1 154,399 153.7,399 153.4,399 153.1,399 152.8,399 152.5,398 152.2,398 151.9,398.1 151.6,398.1 151.3,398.3 151,398.5 150.7,398.7 150.4,398.9 150.1,399.2 149.8,399.6 149.5,399.9 149.2,400.4 148.9,400.8 148.6,401.3 148.3,401.9 148,402.5 147.7,403.1 147.4,403.8 147.1,404.5 146.8,405.2 146.5,406 146.2,406.9 145.9,407.7 145.6,408.7 145.3,409 145,408 144.7,407.2 144.4,406.3 144.1,405.5 143.8,404.7 143.5,404 143.2,403.3 142.9,402.7 142.6,402.1 142.3,401.5 142,401 141.7,400.5 141.4,400.1 141.1,399.7 140.8,399.3 140.5,399 140.2,398.7 139.9,398.5 139.6,398.3 139.3,398.2 139,398.1 138.7,398 138.4,398 138.1,398.1 137.8,398.2 137.5,398.3 137.2,398.5 136.9,398.8 136.6,399 136.3,399.4 136,399.8 135.7,400.2 135.4,400.7 135.1,401.2 134.8,401.8 134.5,402.4 134.2,403.1 133.9,403.8 133.6,404.5 133.3,405.3 133,406.2 132.7,407.1 132.4,408 132.1,409 131.8,410.1 131.5,410.4 131.2,409.4 130.9,408.4 130.6,407.4 130.3,406.5 130,405.6 129.7,404.8 129.4,404 129.1,403.3 128.8,402.6 128.5,402 128.2,401.4 127.9,400.8 127.6,400.4 127.3,399.9 127,399.5 126.7,399.2 126.4,398.8 126.1,398.6 125.8,398.4 125.5,398.2 125.2,398.1 124.9,398.1 124.6,398.2 124.3,398.4 124,398.6 123.7,398.9 123.4,399.2 123.1,399.6 122.8,400 122.5,400.5 122.2,401 121.9,401.6 121.6,402.2 121.3,402.9 121,403.6 120.7,404.3 120.4,405.2 120.1,406 119.8,407 119.5,407.9 119.2,408.9 118.9,410 118.6,411.1 118.3,410.7 118,409.6 117.7,408.6 117.4,407.6 117.1,406.6 116.8,405.7 116.5,404.9 116.2,404.1 115.9,403.3 115.6,402.6 115.3,402 115,401.4 114.7,400.8 114.4,400.3 114.1,399.9 113.8,399.5 113.5,399.1 113.2,398.8 112.9,398.5 112.6,398.3 112.3,398.2 112,398.1 111.7,398 111.4,398 111.1,398.1 110.8,398.2 110.5,398.3 110.2,398.5 109.9,398.8 109.6,399.1 109.3,399.4Z" fill="#000"/>
<path d="M116.4,392 L116.6,376 L117.1,366 L117.9,359 L119.1,359 L119.9,366 L120.4,376 L120.6,392Z" fill="#000"/>
<path d="M129.8,392 L130,376 L130.4,366 L131,359.2 L132.2,359.2 L132.8,366 L133.2,376 L133.4,392Z" fill="#000"/>
<path d="M144.1,392 L144.2,376 L144.6,366 L144.8,362.3 L146,362.3 L146.2,366 L146.6,376 L146.7,392Z" fill="#000"/>
<line x1="150.7" y1="373.8" x2="150.7" y2="395" stroke="#777" stroke-width="0.9" />
<line x1="158" y1="382.1" x2="158" y2="389" stroke="#777" stroke-width="0.9" />
<line x1="218.2" y1="375.6" x2="218.2" y2="390" stroke="#777" stroke-width="0.9" />
<line x1="285.5" y1="375.6" x2="285.5" y2="390" stroke="#777" stroke-width="0.9" />
<line x1="353.1" y1="375.6" x2="353.1" y2="390" stroke="#777" stroke-width="0.9" />
<line x1="421" y1="375" x2="421" y2="390" stroke="#777" stroke-width="0.9" />
<line x1="488.4" y1="375" x2="488.4" y2="390" stroke="#777" stroke-width="0.9" />
<path d="M533,392 533.5,381 534,381 534.5,380 535,376 535.5,366 536,357.8 536.5,358.5 537,357.9 537.5,357.6 538,358.2 538.5,357.4 539,356.5 539.5,357 540,357.7 540.5,358.4 541,357.7 541.5,357.1 542,358.5 542.5,357.3 543,357 543.5,357.6 544,357.2 544.5,356.7 545,357.9 545.5,357.9 546,358.4 546.5,356.8 547,358.3 547.5,358.1 548,357 548.5,357.5 549,357.8 549.5,357.1 550,356.7 550.5,358.2 551,356.8 551.5,357.5 552,357.4 552.5,358.3 553,357.6 553.5,357.3 553.5,409.6 553,410 552.5,408.6 552,409.2 551.5,408.7 551,408.1 550.5,409.1 550,409.3 549.5,408.2 549,408.7 548.5,409.8 548,408.6 547.5,408.5 547,409.2 546.5,408 546,408.6 545.5,409.1 545,408.9 544.5,409.5 544,408.9 543.5,409.4 543,409.4 542.5,408.8 542,409.8 541.5,408.2 541,408.1 540.5,408 540,409.9 539.5,408.4 539,408 538.5,408.6 538,409.8 537.5,409.3 537,408.4 536.5,409 536,409.7 535.5,408 535,407 534.5,406 534,404 533.5,401 533,397Z" fill="#000"/>
<path d="M553.6,409 L555.8,413.2" stroke="#222" stroke-width="0.9" fill="none"/>
<rect x="547.3" y="360" width="0.9" height="30" fill="#888"/>
<rect x="537.0" y="359" width="0.6" height="16" fill="#aaa"/>
<text x="15.2" y="423.6" font-size="10.4" fill="#000" stroke="#000" stroke-width="0.22" textLength="22.3" lengthAdjust="spacingAndGlyphs" >Soma</text>
<line x1="15.2" y1="444" x2="555.5" y2="444" stroke="#9c9c9c" stroke-width="0.9" stroke-dasharray="3.6 2.0"/>
<line x1="15.2" y1="455.6" x2="555" y2="455.6" stroke="#8a8a8a" stroke-width="0.8" />
<line x1="22.2" y1="431.7" x2="22.2" y2="474.3" stroke="#b4b4b4" stroke-width="0.9" />
<line x1="22.5" y1="451" x2="22.5" y2="460" stroke="#808080" stroke-width="0.9" />
<line x1="42.5" y1="431.7" x2="42.5" y2="474.3" stroke="#b4b4b4" stroke-width="0.9" />
<line x1="42.8" y1="451" x2="42.8" y2="460" stroke="#808080" stroke-width="0.9" />
<path d="M52.5,433 53,435.9 53.5,429.7 54,431.1 54.5,435.9 55,433.1 55.5,430.7 56,433.5 56.5,434.6 57,433.7 57.5,429.8 58,429.8 58.5,432.3 59,429.6 59.5,430.1 60,434 60.5,432.6 61,430.1 61.5,435.6 62,432.1 62.5,435.7 63,433.8 63.5,433.8 64,432.5 64.5,434.2 65,431.2 65.5,431.3 66,435.6 66.5,430.9 67,432.2 67.5,434.7 68,431.8 68.5,432.1 69,435.9 69.5,430.9 70,431.2 70.5,435.7 71,431.4 71.5,431.8 72,435.7 72.5,431.7 73,436.5 73.5,435.2 74,435.4 74.5,431.1 75,431 75.5,434.8 76,435.3 76.5,431.1 77,430.9 77.5,431.2 78,430.5 78.5,432.4 79,433 79.5,433.9 80,429.9 80.5,430.8 81,430.3 81.5,431.4 82,430.8 82.5,436.1 83,432.1 83.5,430.5 84,434.2 84.5,436.3 85,435.1 85.5,434 86,432.1 86.5,432.3 87,431.6 87.5,435.1 88,435.1 88.5,432.9 89,435.5 89.5,434.1 90,434.3 90.5,431.4 91,431.2 91.5,431.1 92,435.9 92.5,435.1 93,435.8 93.5,435.3 94,435.1 94.5,432.6 95,434.9 95.5,430.7 96,434.1 96.5,429.8 97,436.3 97.5,435.7 97.5,468.6 97,471.8 96.5,472.6 96,468.8 95.5,471.6 95,472 94.5,473.7 94,470.9 93.5,469.7 93,472.7 92.5,471 92,469.6 91.5,472.7 91,471.3 90.5,473 90,472.2 89.5,470.1 89,469.9 88.5,474.5 88,470.2 87.5,472.1 87,473.3 86.5,470.6 86,472.8 85.5,472.4 85,469 84.5,469.1 84,471.7 83.5,471.6 83,472 82.5,472.7 82,471.6 81.5,474.5 81,474.3 80.5,469.1 80,473.3 79.5,469.5 79,469.6 78.5,471.7 78,471 77.5,469.9 77,472.2 76.5,469.3 76,468.7 75.5,473.4 75,469.1 74.5,473 74,471.7 73.5,473.4 73,472.5 72.5,471.9 72,471.9 71.5,470.7 71,474.4 70.5,474.1 70,471.6 69.5,469.4 69,470.7 68.5,468.8 68,472.7 67.5,470 67,471 66.5,471.4 66,473.4 65.5,473.5 65,469.3 64.5,474.5 64,470.6 63.5,470.5 63,469.9 62.5,470.6 62,471.8 61.5,468.7 61,470.4 60.5,473.1 60,473.4 59.5,472.3 59,473.7 58.5,474.4 58,471.1 57.5,471.2 57,473.2 56.5,470.2 56,469.2 55.5,470.8 55,472 54.5,471.1 54,474.2 53.5,469.6 53,469.9 52.5,473.5Z" fill="#7f7f7f"/>
<path d="M97.5,453.5 98,453.5 98.5,453.5 99,453.5 99,457.5 98.5,457.5 98,457.5 97.5,457.5Z" fill="#838383"/>
<path d="M99.3,448.9 99.8,443.9 100.3,437.6 100.8,434 101.3,431.9 101.8,433.3 102.3,432.7 102.8,432.1 103.3,431.9 103.8,432.6 104.3,432 104.8,432.8 105.3,433.3 105.8,432.5 106.3,432.3 106.8,432.7 107.3,433.5 107.8,436.9 108.3,437.4 108.8,441.5 109.3,444 109.3,463.5 108.8,466.3 108.3,467.7 107.8,469.3 107.3,470.3 106.8,472.3 106.3,471.8 105.8,472.4 105.3,472.9 104.8,472.8 104.3,471.6 103.8,471.8 103.3,473 102.8,472.7 102.3,472.1 101.8,472.3 101.3,470.9 100.8,469.4 100.3,468.8 99.8,464.7 99.3,460.5Z" fill="#838383"/>
<line x1="54.3" y1="428" x2="54.3" y2="446.9" stroke="#d2d2d2" stroke-width="0.7" />
<line x1="54.3" y1="466.4" x2="54.3" y2="476" stroke="#d2d2d2" stroke-width="0.7" />
<line x1="55.6" y1="428" x2="55.6" y2="447.8" stroke="#d2d2d2" stroke-width="0.9" />
<line x1="55.6" y1="467.3" x2="55.6" y2="476" stroke="#d2d2d2" stroke-width="0.9" />
<line x1="56.9" y1="430.6" x2="56.9" y2="463.2" stroke="#c4c4c4" stroke-width="0.9" />
<line x1="58.6" y1="433.7" x2="58.6" y2="469.6" stroke="#c4c4c4" stroke-width="0.9" />
<line x1="59.8" y1="428" x2="59.8" y2="450.2" stroke="#d2d2d2" stroke-width="0.8" />
<line x1="59.8" y1="467.2" x2="59.8" y2="476" stroke="#d2d2d2" stroke-width="0.9" />
<line x1="61.4" y1="428" x2="61.4" y2="439.9" stroke="#e0e0e0" stroke-width="0.8" />
<line x1="63" y1="432.4" x2="63" y2="470.8" stroke="#c4c4c4" stroke-width="1" />
<line x1="64.2" y1="428" x2="64.2" y2="440.5" stroke="#d2d2d2" stroke-width="0.8" />
<line x1="64.2" y1="466.3" x2="64.2" y2="476" stroke="#d2d2d2" stroke-width="1" />
<line x1="65.5" y1="433.6" x2="65.5" y2="463.1" stroke="#c4c4c4" stroke-width="0.6" />
<line x1="67.1" y1="436.8" x2="67.1" y2="464.2" stroke="#c4c4c4" stroke-width="0.9" />
<line x1="68.4" y1="435.4" x2="68.4" y2="463.7" stroke="#c4c4c4" stroke-width="1" />
<line x1="70.2" y1="428" x2="70.2" y2="434" stroke="#e0e0e0" stroke-width="0.8" />
<line x1="71.5" y1="436.9" x2="71.5" y2="464.4" stroke="#c4c4c4" stroke-width="0.6" />
<line x1="73" y1="428" x2="73" y2="440.8" stroke="#d2d2d2" stroke-width="0.6" />
<line x1="73" y1="465.2" x2="73" y2="476" stroke="#d2d2d2" stroke-width="0.8" />
<line x1="74.4" y1="428" x2="74.4" y2="434" stroke="#e0e0e0" stroke-width="0.8" />
<line x1="76" y1="428" x2="76" y2="439.6" stroke="#e0e0e0" stroke-width="0.8" />
<line x1="77.4" y1="428" x2="77.4" y2="443" stroke="#d2d2d2" stroke-width="1.1" />
<line x1="77.4" y1="463.4" x2="77.4" y2="476" stroke="#d2d2d2" stroke-width="0.8" />
<line x1="78.8" y1="435.2" x2="78.8" y2="469.5" stroke="#c4c4c4" stroke-width="0.8" />
<line x1="80.3" y1="428" x2="80.3" y2="443.1" stroke="#d2d2d2" stroke-width="1.1" />
<line x1="80.3" y1="466.8" x2="80.3" y2="476" stroke="#d2d2d2" stroke-width="0.9" />
<line x1="81.4" y1="428" x2="81.4" y2="451.1" stroke="#d2d2d2" stroke-width="1.1" />
<line x1="81.4" y1="462.2" x2="81.4" y2="476" stroke="#d2d2d2" stroke-width="0.9" />
<line x1="82.7" y1="428" x2="82.7" y2="448.4" stroke="#d2d2d2" stroke-width="0.8" />
<line x1="82.7" y1="466.5" x2="82.7" y2="476" stroke="#d2d2d2" stroke-width="1" />
<line x1="84.2" y1="432.4" x2="84.2" y2="464.1" stroke="#c4c4c4" stroke-width="0.7" />
<line x1="85.9" y1="428" x2="85.9" y2="438.6" stroke="#e0e0e0" stroke-width="0.8" />
<line x1="87.1" y1="428" x2="87.1" y2="451.9" stroke="#d2d2d2" stroke-width="0.9" />
<line x1="87.1" y1="464.9" x2="87.1" y2="476" stroke="#d2d2d2" stroke-width="0.7" />
<line x1="89" y1="434.3" x2="89" y2="465" stroke="#c4c4c4" stroke-width="0.9" />
<line x1="90.1" y1="428" x2="90.1" y2="447.2" stroke="#d2d2d2" stroke-width="1" />
<line x1="90.1" y1="462.3" x2="90.1" y2="476" stroke="#d2d2d2" stroke-width="0.7" />
<line x1="91.5" y1="435.9" x2="91.5" y2="463.5" stroke="#c4c4c4" stroke-width="0.8" />
<line x1="93.2" y1="428" x2="93.2" y2="446.4" stroke="#d2d2d2" stroke-width="0.7" />
<line x1="93.2" y1="461.6" x2="93.2" y2="476" stroke="#d2d2d2" stroke-width="1" />
<line x1="94.4" y1="428" x2="94.4" y2="447.4" stroke="#d2d2d2" stroke-width="0.8" />
<line x1="94.4" y1="460.1" x2="94.4" y2="476" stroke="#d2d2d2" stroke-width="0.9" />
<line x1="95.9" y1="437.2" x2="95.9" y2="473.6" stroke="#c4c4c4" stroke-width="1" />
<line x1="101.5" y1="432.5" x2="101.5" y2="470.2" stroke="#c4c4c4" stroke-width="0.7" />
<line x1="103.4" y1="435.1" x2="103.4" y2="466.4" stroke="#c4c4c4" stroke-width="0.7" />
<line x1="105.6" y1="435.8" x2="105.6" y2="465.7" stroke="#c4c4c4" stroke-width="0.7" />
<line x1="107.5" y1="433.9" x2="107.5" y2="466.7" stroke="#c4c4c4" stroke-width="0.7" />
<path d="M116.3,446.6 L117.2,442 L118.5,436 L119.2,437 L120.5,444 L121.2,450.6 L121.2,460.6 L120.5,464.9 L119,471.9 L118.2,470.9 L117.2,465.9 L116.3,463.6Z" fill="#737373"/>
<line x1="119" y1="440" x2="119" y2="467.9" stroke="#9a9a9a" stroke-width="0.6" />
<path d="M130.3,446.6 L131.2,440.7 L132.1,434.7 L132.9,435.7 L133.9,442.7 L134.6,450.6 L134.6,460.6 L133.9,464.3 L132.8,471.3 L131.9,470.3 L131.2,465.3 L130.3,463.6Z" fill="#737373"/>
<line x1="132.6" y1="438.7" x2="132.6" y2="467.3" stroke="#9a9a9a" stroke-width="0.6" />
<path d="M143.7,446.6 L144.6,446.8 L145.2,440.8 L146.1,441.8 L146.7,448.8 L147.4,450.6 L147.4,460.6 L146.7,463.7 L145.9,470.7 L145.1,469.7 L144.6,464.7 L143.7,463.6Z" fill="#737373"/>
<line x1="145.8" y1="444.8" x2="145.8" y2="466.7" stroke="#9a9a9a" stroke-width="0.6" />
<line x1="150.9" y1="447" x2="150.9" y2="464" stroke="#b0b0b0" stroke-width="1" />
<line x1="158.1" y1="451.2" x2="158.1" y2="459.7" stroke="#999" stroke-width="1" />
<line x1="218.2" y1="450.5" x2="218.2" y2="460.7" stroke="#8a8a8a" stroke-width="0.9" />
<line x1="285.5" y1="450.5" x2="285.5" y2="460.7" stroke="#8a8a8a" stroke-width="0.9" />
<line x1="353.1" y1="450.5" x2="353.1" y2="460.7" stroke="#8a8a8a" stroke-width="0.9" />
<line x1="421" y1="450.5" x2="421" y2="460.7" stroke="#8a8a8a" stroke-width="0.9" />
<line x1="488.4" y1="450.5" x2="488.4" y2="460.7" stroke="#8a8a8a" stroke-width="0.9" />
<path d="M532.9,450 533.4,448 533.9,446 534.4,445 534.9,442 535.4,441 535.9,438 536.4,437 536.9,437 537.4,436.7 537.9,438.2 538.4,437.1 538.9,438.4 539.4,438 539.9,437 540.4,437.5 540.9,436.8 541.4,437.3 541.9,436.6 542.4,437.9 542.9,437.7 543.4,437 543.9,436.5 544.4,438.4 544.9,436.7 545.4,437.2 545.9,436.6 546.4,437.3 546.9,437.3 547.4,437.6 547.9,437.1 548.4,437 548.9,438.1 549.4,437.1 549.9,437.2 550.4,437.5 550.9,437 551.4,438 551.9,436.7 552.4,437.1 552.9,437.3 553.4,437 553.9,438.2 553.9,471 553.4,471.1 552.9,471.7 552.4,471.7 551.9,472.3 551.4,470.5 550.9,470.9 550.4,472.3 549.9,472 549.4,471.5 548.9,471.4 548.4,472.2 547.9,472.1 547.4,471 546.9,470 546.4,470.2 545.9,472.3 545.4,471.9 544.9,472.2 544.4,470.7 543.9,470.8 543.4,470.8 542.9,470.1 542.4,470.8 541.9,470.1 541.4,471.4 540.9,471 540.4,470.3 539.9,470.2 539.4,471 538.9,472.3 538.4,471.9 537.9,471.7 537.4,470.5 536.9,472 536.4,471 535.9,470 535.4,469 534.9,468 534.4,466 533.9,464 533.4,462 532.9,461Z" fill="#848484"/>
<line x1="537" y1="429.7" x2="537" y2="440" stroke="#999" stroke-width="0.7" />
<line x1="539.5" y1="432" x2="539.5" y2="440" stroke="#999" stroke-width="0.7" />
<line x1="546.5" y1="431" x2="546.5" y2="440" stroke="#999" stroke-width="0.7" />
<line x1="549" y1="430.5" x2="549" y2="440" stroke="#999" stroke-width="0.7" />
<line x1="552.5" y1="430" x2="552.5" y2="440" stroke="#999" stroke-width="0.7" />
<text x="15.2" y="486" font-size="10.4" fill="#8c8c8c" stroke="#8c8c8c" stroke-width="0.22" textLength="24.7" lengthAdjust="spacingAndGlyphs" >Soma,</text>
<text x="50.3" y="486" font-size="10.4" fill="#8c8c8c" stroke="#8c8c8c" stroke-width="0.22" textLength="27.5" lengthAdjust="spacingAndGlyphs" >filtered</text>
<line x1="15.2" y1="508.4" x2="556" y2="508.4" stroke="#ff6060" stroke-width="0.9" stroke-dasharray="3.6 2.0"/>
<path d="M15.2,553.2 H22 Q23,552 24,553.6 L40,553.6 L42.4,553.2 Q43.5,552.5 44.5,554 L52.5,554" stroke="#ff2020" stroke-width="0.85" fill="none"/>
<line x1="22.2" y1="498.7" x2="22.2" y2="553.2" stroke="#ff5a5a" stroke-width="0.9" />
<line x1="42.4" y1="498.7" x2="42.4" y2="553.2" stroke="#ff9090" stroke-width="0.9" />
<path d="M52.5,501.5 52.8,502.4 53,501.5 53.2,501.3 53.5,502.2 53.8,502.3 54,502.4 54.2,501.1 54.5,501.2 54.8,501.6 55,502.5 55.2,501.9 55.5,501.9 55.8,501.4 56,502.6 56.2,501.1 56.5,501.8 56.8,502 57,502.3 57.2,502.3 57.5,501.5 57.8,501.3 58,502.6 58.2,501.8 58.5,501.3 58.8,501 59,502.2 59.2,502.3 59.5,501.8 59.8,501.5 60,502 60.2,502.6 60.5,501.8 60.8,502.2 61,502.4 61.2,502.2 61.5,501.7 61.8,501.1 62,502.1 62.2,502.3 62.5,502.5 62.8,501.1 63,501 63.2,501.9 63.5,502.3 63.8,500.9 64,501.9 64.2,501.3 64.5,502.6 64.8,501.5 65,500.9 65.2,502.2 65.5,501.3 65.8,501.6 66,501 66.2,501.4 66.5,501 66.8,501.3 67,501.8 67.2,501.3 67.5,502 67.8,502.4 68,501.8 68.2,500.9 68.5,502.5 68.8,501.2 69,501.4 69.2,501.7 69.5,501.9 69.8,501.4 70,501.6 70.2,501.9 70.5,501.6 70.8,501.3 71,501.5 71.2,501.5 71.5,501.3 71.8,501.9 72,501.7 72.2,501.5 72.5,502.1 72.8,502.3 73,502 73.2,501.4 73.5,502.5 73.8,501 74,502.2 74.2,501.6 74.5,501.5 74.8,502.3 75,502 75.2,502.6 75.5,502.4 75.8,501 76,501.7 76.2,502.2 76.5,500.9 76.8,501.8 77,502.6 77.2,501.2 77.5,501 77.8,501.3 78,501.4 78.2,501.3 78.5,501.6 78.8,502.3 79,501.7 79.2,501.9 79.5,501 79.8,500.9 80,502.5 80.2,501.4 80.5,502.5 80.8,501.4 81,502 81.2,502 81.5,501 81.8,500.9 82,501.6 82.2,501 82.5,501.3 82.8,501.2 83,501.4 83.2,501.6 83.5,501.4 83.8,501.4 84,501.7 84.2,502 84.5,500.9 84.8,502.6 85,501.6 85.2,502.5 85.5,500.8 85.8,500.9 86,501 86.2,502.4 86.5,501.5 86.8,502.3 87,502.1 87.2,501 87.5,501.5 87.8,501.4 88,501.6 88.2,502.2 88.5,501 88.8,502.5 89,501.7 89.2,501.5 89.5,502.1 89.8,501.3 90,502.1 90.2,501.5 90.5,501.7 90.8,501.1 91,501.2 91.2,502.4 91.5,501.8 91.8,501.6 92,502.2 92.2,502.4 92.5,501.1 92.8,502.6 93,500.8 93.2,501.9 93.5,501.3 93.8,501.3 94,501.7 94.2,501.9 94.5,501.6 94.8,502.1 95,502.5 95.2,501.1 95.5,501.2 95.8,501.9 96,501.5 96.2,501.4 96.5,501.7 96.8,502.1 97,502.4 97.2,502.5 97.5,502.3 97.8,501.4 98,502.4 98.2,502.1 98.5,501.1 98.8,502.5 99,501.2 99.2,502 99.5,502.1 99.8,502.4 100,502 100.2,502.6 100.5,500.9 100.8,500.9 101,501.2 101.2,501.8 101.5,501.6 101.8,500.9 102,501.2 102.2,501.8 102.5,501.5 102.8,502.2 103,501.6 103.2,502.4 103.5,502.2 103.8,501.7 104,501.4 104.2,501.2 104.5,501.3 104.8,501.4 105,501.5 105.2,501.1 105.5,501.7 105.8,501 106,502.4 106.2,501.8 106.5,501 106.8,501.4 107,501.3 107.2,501.1 107.5,501.7 107.8,501.1 108,514.6 108.2,514.8 108.5,514.3 108.8,514.7 109,514.4 109.2,514.3 109.5,514 109.8,513.3 110,513.4 110.2,514.5 110.5,513.5 110.8,514.3 111,513.5 111.2,514.4 111.5,514.7 111.8,514.2 112,513.3 112.2,514.4 112.5,514 112.8,514.6 113,513.4 113.2,513.6 113.5,514.7 113.8,514.5 114,514.7 114.2,514 114.5,514.3 114.8,514.7 115,514.3 115.2,513.3 115.5,513.4 115.8,513.2 116,513.4 116.2,512.5 116.5,510.8 116.8,508.9 117,507.1 117.2,504.1 117.5,501.5 117.8,502.7 118,502.7 118.2,502.8 118.5,501.2 118.8,502.1 119,502.2 119.2,502.1 119.5,503.3 119.8,506.7 120,508.4 120.2,509.8 120.5,512.6 120.8,514.4 121,513.5 121.2,514.4 121.5,513.5 121.8,513.9 122,513.7 122.2,513.4 122.5,514.6 122.8,513.7 123,514.4 123.2,514.6 123.5,513.7 123.8,513.2 124,514 124.2,513.6 124.5,514.6 124.8,513.5 125,514.4 125.2,513.2 125.5,513.6 125.8,513.5 126,514.6 126.2,514.2 126.5,514.3 126.8,513.3 127,513.7 127.2,514.6 127.5,514.2 127.8,514.4 128,514 128.2,513.5 128.5,514.7 128.8,513.6 129,513.5 129.2,514.2 129.5,512.1 129.8,511 130,508.6 130.2,505.9 130.5,503.8 130.8,502 131,501.3 131.2,501.3 131.5,501.8 131.8,501.2 132,501.5 132.2,501.8 132.5,502.2 132.8,504.3 133,506 133.2,509.2 133.5,511.5 133.8,513.5 134,514.3 134.2,513.6 134.5,514.5 134.8,514.1 135,513.5 135.2,514.3 135.5,514.2 135.8,514.1 136,514 136.2,514.4 136.5,514.4 136.8,514.1 137,513.3 137.2,513.6 137.5,514.8 137.8,513.8 138,514.2 138.2,513.4 138.5,514.1 138.8,514.2 139,514.4 139.2,514.8 139.5,513.9 139.8,513.7 140,513.5 140.2,513.7 140.5,513.9 140.8,514.7 141,514 141.2,514.3 141.5,514.4 141.8,513.2 142,513.6 142.2,514.1 142.5,513.3 142.8,513.4 143,514.4 143.2,512.8 143.5,509.7 143.8,507.4 144,506.3 144.2,504 144.5,503.7 144.8,504.4 145,504.3 145.2,504.8 145.5,503.4 145.8,504.4 146,503.9 146.2,505.8 146.5,508.5 146.8,510 147,512.4 147.2,513.4 147.5,514.3 147.8,514.3 148,513.6 148.2,513.7 148.5,514.4 148.8,513.8 149,513.8 149.2,514.7 149.5,514.1 149.8,514.1 150,514.2 150.2,513.3 150.5,513.8 150.8,514.5 151,514.2 151.2,514.6 151.5,513.7 151.8,514 152,513.1 152.2,513.1 152.5,513.2 152.8,513.2 153,513.2 153.2,513.2 153.5,513.3 153.8,513.3 154,513.3 154.2,513.4 154.5,513.4 154.8,513.4 155,513.5 155.2,513.5 155.5,513.5 155.8,513.6 156,513.6 156.2,513.6 156.5,513.7 156.8,513.7 157,513.8 157.2,513.8 157.5,513.9 157.8,513.9 158,514 158.2,514 158.5,514.1 158.8,513.9 159,513.8 159.2,513.6 159.5,513.4 159.8,513.2 160,513.1 160.2,512.9 160.5,512.8 160.8,512.7 161,512.6 161.2,512.5 161.5,512.5 161.8,512.5 162,512.4 162.2,512.4 162.5,512.4 162.8,512.4 163,512.4 163.2,512.4 163.5,512.4 163.8,512.4 164,512.4 164.2,512.4 164.5,512.4 164.8,512.4 165,512.4 165.2,512.5 165.5,512.5 165.8,512.5 166,512.6 166.2,512.6 166.5,512.7 166.8,512.7 167,512.8 167.2,512.8 167.5,512.9 167.8,513 168,513.1 168.2,513.1 168.5,513.2 168.8,513.3 169,513.4 169.2,513.5 169.5,513.6 169.8,513.7 170,513.8 170.2,513.9 170.5,514 170.8,514.2 171,514.3 171.2,514.4 171.5,514.6 171.8,514.7 172,514.8 172.2,514.5 172.5,514.1 172.8,513.7 173,513.2 173.2,512.8 173.5,512.4 173.8,512.1 174,511.8 174.2,511.6 174.5,511.4 174.8,511.2 175,511.2 175.2,511.1 175.5,511.1 175.8,511.1 176,511.1 176.2,511.1 176.5,511.1 176.8,511.1 177,511.2 177.2,511.2 177.5,511.2 177.8,511.2 178,511.3 178.2,511.3 178.5,511.4 178.8,511.5 179,511.5 179.2,511.6 179.5,511.7 179.8,511.8 180,511.9 180.2,512 180.5,512.1 180.8,512.2 181,512.3 181.2,512.5 181.5,512.6 181.8,512.8 182,512.9 182.2,513.1 182.5,513.2 182.8,513.4 183,513.6 183.2,513.7 183.5,513.9 183.8,514.1 184,514.3 184.2,514.5 184.5,514.7 184.8,514.9 185,515.1 185.2,515.3 185.5,515.5 185.8,515.2 186,514.5 186.2,513.8 186.5,513.1 186.8,512.5 187,512 187.2,511.5 187.5,511.1 187.8,510.7 188,510.4 188.2,510.3 188.5,510.2 188.8,510.2 189,510.2 189.2,510.2 189.5,510.3 189.8,510.3 190,510.3 190.2,510.4 190.5,510.4 190.8,510.5 191,510.5 191.2,510.6 191.5,510.7 191.8,510.8 192,510.9 192.2,511 192.5,511.1 192.8,511.2 193,511.3 193.2,511.5 193.5,511.6 193.8,511.7 194,511.9 194.2,512 194.5,512.2 194.8,512.3 195,512.5 195.2,512.6 195.5,512.8 195.8,513 196,513.2 196.2,513.3 196.5,513.5 196.8,513.7 197,513.9 197.2,514.1 197.5,514.3 197.8,514.5 198,514.7 198.2,514.9 198.5,515.1 198.8,515.3 199,515.5 199.2,515.3 199.5,514.6 199.8,513.9 200,513.2 200.2,512.6 200.5,512.1 200.8,511.5 201,511.1 201.2,510.8 201.5,510.5 201.8,510.3 202,510.2 202.2,510.2 202.5,510.2 202.8,510.2 203,510.2 203.2,510.3 203.5,510.3 203.8,510.4 204,510.4 204.2,510.5 204.5,510.5 204.8,510.6 205,510.7 205.2,510.8 205.5,510.9 205.8,511 206,511.1 206.2,511.2 206.5,511.3 206.8,511.4 207,511.6 207.2,511.7 207.5,511.8 207.8,512 208,512.1 208.2,512.3 208.5,512.5 208.8,512.6 209,512.8 209.2,513 209.5,513.1 209.8,513.3 210,513.5 210.2,513.7 210.5,513.9 210.8,514.1 211,514.3 211.2,514.5 211.5,514.7 211.8,514.9 212,515.1 212.2,515.3 212.5,515.5 212.8,515.4 213,514.7 213.2,514 213.5,513.3 213.8,512.7 214,512.1 214.2,511.6 214.5,511.2 214.8,510.8 215,510.5 215.2,510.3 215.5,510.2 215.8,510.2 216,510.2 216.2,510.2 216.5,510.2 216.8,510.3 217,510.3 217.2,510.4 217.5,510.4 217.8,510.5 218,510.5 218.2,510.6 218.5,510.7 218.8,510.8 219,510.9 219.2,511 219.5,511.1 219.8,511.2 220,511.3 220.2,511.4 220.5,511.5 220.8,511.7 221,511.8 221.2,512 221.5,512.1 221.8,512.3 222,512.4 222.2,512.6 222.5,512.8 222.8,512.9 223,513.1 223.2,513.3 223.5,513.5 223.8,513.7 224,513.8 224.2,514 224.5,514.2 224.8,514.4 225,514.6 225.2,514.8 225.5,515 225.8,515.2 226,515.4 226.2,515.5 226.5,514.8 226.8,514.1 227,513.4 227.2,512.8 227.5,512.2 227.8,511.7 228,511.2 228.2,510.9 228.5,510.6 228.8,510.4 229,510.2 229.2,510.2 229.5,510.2 229.8,510.2 230,510.2 230.2,510.3 230.5,510.3 230.8,510.3 231,510.4 231.2,510.4 231.5,510.5 231.8,510.6 232,510.7 232.2,510.7 232.5,510.8 232.8,510.9 233,511 233.2,511.2 233.5,511.3 233.8,511.4 234,511.5 234.2,511.7 234.5,511.8 234.8,511.9 235,512.1 235.2,512.2 235.5,512.4 235.8,512.6 236,512.7 236.2,512.9 236.5,513.1 236.8,513.3 237,513.4 237.2,513.6 237.5,513.8 237.8,514 238,514.2 238.2,514.4 238.5,514.6 238.8,514.8 239,515 239.2,515.2 239.5,515.4 239.8,515.6 240,514.9 240.2,514.2 240.5,513.5 240.8,512.9 241,512.3 241.2,511.8 241.5,511.3 241.8,510.9 242,510.6 242.2,510.4 242.5,510.2 242.8,510.2 243,510.2 243.2,510.2 243.5,510.2 243.8,510.3 244,510.3 244.2,510.3 244.5,510.4 244.8,510.4 245,510.5 245.2,510.6 245.5,510.6 245.8,510.7 246,510.8 246.2,510.9 246.5,511 246.8,511.1 247,511.2 247.2,511.4 247.5,511.5 247.8,511.6 248,511.8 248.2,511.9 248.5,512.1 248.8,512.2 249,512.4 249.2,512.5 249.5,512.7 249.8,512.9 250,513.1 250.2,513.2 250.5,513.4 250.8,513.6 251,513.8 251.2,514 251.5,514.2 251.8,514.4 252,514.6 252.2,514.8 252.5,515 252.8,515.2 253,515.4 253.2,515.6 253.5,515 253.8,514.3 254,513.7 254.2,513 254.5,512.4 254.8,511.9 255,511.4 255.2,511 255.5,510.6 255.8,510.4 256,510.3 256.2,510.2 256.5,510.2 256.8,510.2 257,510.2 257.2,510.3 257.5,510.3 257.8,510.3 258,510.4 258.2,510.4 258.5,510.5 258.8,510.6 259,510.6 259.2,510.7 259.5,510.8 259.8,510.9 260,511 260.2,511.1 260.5,511.2 260.8,511.4 261,511.5 261.2,511.6 261.5,511.7 261.8,511.9 262,512 262.2,512.2 262.5,512.4 262.8,512.5 263,512.7 263.2,512.9 263.5,513 263.8,513.2 264,513.4 264.2,513.6 264.5,513.8 264.8,513.9 265,514.1 265.2,514.3 265.5,514.5 265.8,514.7 266,514.9 266.2,515.1 266.5,515.3 266.8,515.5 267,515.1 267.2,514.4 267.5,513.8 267.8,513.1 268,512.5 268.2,511.9 268.5,511.5 268.8,511 269,510.7 269.2,510.4 269.5,510.3 269.8,510.2 270,510.2 270.2,510.2 270.5,510.2 270.8,510.3 271,510.3 271.2,510.3 271.5,510.4 271.8,510.4 272,510.5 272.2,510.5 272.5,510.6 272.8,510.7 273,510.8 273.2,510.9 273.5,511 273.8,511.1 274,511.2 274.2,511.3 274.5,511.5 274.8,511.6 275,511.7 275.2,511.9 275.5,512 275.8,512.2 276,512.3 276.2,512.5 276.5,512.7 276.8,512.8 277,513 277.2,513.2 277.5,513.4 277.8,513.5 278,513.7 278.2,513.9 278.5,514.1 278.8,514.3 279,514.5 279.2,514.7 279.5,514.9 279.8,515.1 280,515.3 280.2,515.5 280.5,515.3 280.8,514.6 281,513.9 281.2,513.2 281.5,512.6 281.8,512 282,511.5 282.2,511.1 282.5,510.7 282.8,510.5 283,510.3 283.2,510.2 283.5,510.2 283.8,510.2 284,510.2 284.2,510.2 284.5,510.3 284.8,510.3 285,510.4 285.2,510.4 285.5,510.5 285.8,510.5 286,510.6 286.2,510.7 286.5,510.8 286.8,510.9 287,511 287.2,511.1 287.5,511.2 287.8,511.3 288,511.4 288.2,511.6 288.5,511.7 288.8,511.8 289,512 289.2,512.1 289.5,512.3 289.8,512.5 290,512.6 290.2,512.8 290.5,513 290.8,513.1 291,513.3 291.2,513.5 291.5,513.7 291.8,513.9 292,514.1 292.2,514.3 292.5,514.5 292.8,514.7 293,514.9 293.2,515.1 293.5,515.3 293.8,515.5 294,515.4 294.2,514.7 294.5,514 294.8,513.3 295,512.7 295.2,512.1 295.5,511.6 295.8,511.2 296,510.8 296.2,510.5 296.5,510.3 296.8,510.2 297,510.2 297.2,510.2 297.5,510.2 297.8,510.2 298,510.3 298.2,510.3 298.5,510.4 298.8,510.4 299,510.5 299.2,510.5 299.5,510.6 299.8,510.7 300,510.8 300.2,510.9 300.5,511 300.8,511.1 301,511.2 301.2,511.3 301.5,511.4 301.8,511.5 302,511.7 302.2,511.8 302.5,512 302.8,512.1 303,512.3 303.2,512.4 303.5,512.6 303.8,512.8 304,512.9 304.2,513.1 304.5,513.3 304.8,513.5 305,513.7 305.2,513.9 305.5,514 305.8,514.2 306,514.4 306.2,514.6 306.5,514.8 306.8,515 307,515.2 307.2,515.4 307.5,515.5 307.8,514.8 308,514.1 308.2,513.4 308.5,512.8 308.8,512.2 309,511.7 309.2,511.2 309.5,510.8 309.8,510.6 310,510.3 310.2,510.2 310.5,510.2 310.8,510.2 311,510.2 311.2,510.2 311.5,510.3 311.8,510.3 312,510.3 312.2,510.4 312.5,510.5 312.8,510.5 313,510.6 313.2,510.7 313.5,510.8 313.8,510.8 314,510.9 314.2,511 314.5,511.2 314.8,511.3 315,511.4 315.2,511.5 315.5,511.7 315.8,511.8 316,511.9 316.2,512.1 316.5,512.2 316.8,512.4 317,512.6 317.2,512.7 317.5,512.9 317.8,513.1 318,513.3 318.2,513.5 318.5,513.6 318.8,513.8 319,514 319.2,514.2 319.5,514.4 319.8,514.6 320,514.8 320.2,515 320.5,515.2 320.8,515.4 321,515.6 321.2,514.9 321.5,514.2 321.8,513.5 322,512.9 322.2,512.3 322.5,511.8 322.8,511.3 323,510.9 323.2,510.6 323.5,510.4 323.8,510.2 324,510.2 324.2,510.2 324.5,510.2 324.8,510.2 325,510.3 325.2,510.3 325.5,510.3 325.8,510.4 326,510.4 326.2,510.5 326.5,510.6 326.8,510.7 327,510.7 327.2,510.8 327.5,510.9 327.8,511 328,511.1 328.2,511.3 328.5,511.4 328.8,511.5 329,511.6 329.2,511.8 329.5,511.9 329.8,512.1 330,512.2 330.2,512.4 330.5,512.5 330.8,512.7 331,512.9 331.2,513.1 331.5,513.2 331.8,513.4 332,513.6 332.2,513.8 332.5,514 332.8,514.2 333,514.4 333.2,514.6 333.5,514.8 333.8,515 334,515.2 334.2,515.4 334.5,515.6 334.8,515 335,514.3 335.2,513.6 335.5,513 335.8,512.4 336,511.8 336.2,511.4 336.5,511 336.8,510.6 337,510.4 337.2,510.3 337.5,510.2 337.8,510.2 338,510.2 338.2,510.2 338.5,510.3 338.8,510.3 339,510.3 339.2,510.4 339.5,510.4 339.8,510.5 340,510.6 340.2,510.6 340.5,510.7 340.8,510.8 341,510.9 341.2,511 341.5,511.1 341.8,511.2 342,511.4 342.2,511.5 342.5,511.6 342.8,511.8 343,511.9 343.2,512 343.5,512.2 343.8,512.4 344,512.5 344.2,512.7 344.5,512.9 344.8,513 345,513.2 345.2,513.4 345.5,513.6 345.8,513.8 346,514 346.2,514.1 346.5,514.3 346.8,514.5 347,514.7 347.2,514.9 347.5,515.1 347.8,515.3 348,515.5 348.2,515.1 348.5,514.4 348.8,513.7 349,513.1 349.2,512.5 349.5,511.9 349.8,511.4 350,511 350.2,510.7 350.5,510.4 350.8,510.3 351,510.2 351.2,510.2 351.5,510.2 351.8,510.2 352,510.3 352.2,510.3 352.5,510.3 352.8,510.4 353,510.4 353.2,510.5 353.5,510.6 353.8,510.6 354,510.7 354.2,510.8 354.5,510.9 354.8,511 355,511.1 355.2,511.2 355.5,511.3 355.8,511.5 356,511.6 356.2,511.7 356.5,511.9 356.8,512 357,512.2 357.2,512.3 357.5,512.5 357.8,512.7 358,512.8 358.2,513 358.5,513.2 358.8,513.4 359,513.5 359.2,513.7 359.5,513.9 359.8,514.1 360,514.3 360.2,514.5 360.5,514.7 360.8,514.9 361,515.1 361.2,515.3 361.5,515.5 361.8,515.2 362,514.5 362.2,513.8 362.5,513.2 362.8,512.6 363,512 363.2,511.5 363.5,511.1 363.8,510.7 364,510.5 364.2,510.3 364.5,510.2 364.8,510.2 365,510.2 365.2,510.2 365.5,510.2 365.8,510.3 366,510.3 366.2,510.4 366.5,510.4 366.8,510.5 367,510.5 367.2,510.6 367.5,510.7 367.8,510.8 368,510.9 368.2,511 368.5,511.1 368.8,511.2 369,511.3 369.2,511.4 369.5,511.6 369.8,511.7 370,511.9 370.2,512 370.5,512.1 370.8,512.3 371,512.5 371.2,512.6 371.5,512.8 371.8,513 372,513.2 372.2,513.3 372.5,513.5 372.8,513.7 373,513.9 373.2,514.1 373.5,514.3 373.8,514.5 374,514.7 374.2,514.9 374.5,515.1 374.8,515.3 375,515.5 375.2,515.3 375.5,514.6 375.8,513.9 376,513.3 376.2,512.7 376.5,512.1 376.8,511.6 377,511.1 377.2,510.8 377.5,510.5 377.8,510.3 378,510.2 378.2,510.2 378.5,510.2 378.8,510.2 379,510.2 379.2,510.3 379.5,510.3 379.8,510.4 380,510.4 380.2,510.5 380.5,510.5 380.8,510.6 381,510.7 381.2,510.8 381.5,510.9 381.8,511 382,511.1 382.2,511.2 382.5,511.3 382.8,511.4 383,511.6 383.2,511.7 383.5,511.8 383.8,512 384,512.1 384.2,512.3 384.5,512.4 384.8,512.6 385,512.8 385.2,512.9 385.5,513.1 385.8,513.3 386,513.5 386.2,513.7 386.5,513.9 386.8,514.1 387,514.2 387.2,514.4 387.5,514.6 387.8,514.8 388,515 388.2,515.2 388.5,515.4 388.8,515.5 389,514.7 389.2,514.1 389.5,513.4 389.8,512.8 390,512.2 390.2,511.7 390.5,511.2 390.8,510.8 391,510.5 391.2,510.3 391.5,510.2 391.8,510.2 392,510.2 392.2,510.2 392.5,510.2 392.8,510.3 393,510.3 393.2,510.3 393.5,510.4 393.8,510.5 394,510.5 394.2,510.6 394.5,510.7 394.8,510.8 395,510.8 395.2,510.9 395.5,511 395.8,511.2 396,511.3 396.2,511.4 396.5,511.5 396.8,511.7 397,511.8 397.2,512 397.5,512.1 397.8,512.3 398,512.4 398.2,512.6 398.5,512.7 398.8,512.9 399,513.1 399.2,513.3 399.5,513.5 399.8,513.6 400,513.8 400.2,514 400.5,514.2 400.8,514.4 401,514.6 401.2,514.8 401.5,515 401.8,515.2 402,515.4 402.2,515.6 402.5,514.9 402.8,514.2 403,513.5 403.2,512.9 403.5,512.3 403.8,511.7 404,511.3 404.2,510.9 404.5,510.6 404.8,510.4 405,510.2 405.2,510.2 405.5,510.2 405.8,510.2 406,510.2 406.2,510.3 406.5,510.3 406.8,510.3 407,510.4 407.2,510.4 407.5,510.5 407.8,510.6 408,510.7 408.2,510.7 408.5,510.8 408.8,510.9 409,511 409.2,511.1 409.5,511.3 409.8,511.4 410,511.5 410.2,511.6 410.5,511.8 410.8,511.9 411,512.1 411.2,512.2 411.5,512.4 411.8,512.6 412,512.7 412.2,512.9 412.5,513.1 412.8,513.2 413,513.4 413.2,513.6 413.5,513.8 413.8,514 414,514.2 414.2,514.4 414.5,514.6 414.8,514.8 415,515 415.2,515.2 415.5,515.4 415.8,515.6 416,515 416.2,514.3 416.5,513.6 416.8,513 417,512.4 417.2,511.8 417.5,511.3 417.8,510.9 418,510.6 418.2,510.4 418.5,510.3 418.8,510.2 419,510.2 419.2,510.2 419.5,510.2 419.8,510.3 420,510.3 420.2,510.3 420.5,510.4 420.8,510.4 421,510.5 421.2,510.6 421.5,510.6 421.8,510.7 422,510.8 422.2,510.9 422.5,511 422.8,511.1 423,511.2 423.2,511.4 423.5,511.5 423.8,511.6 424,511.8 424.2,511.9 424.5,512.1 424.8,512.2 425,512.4 425.2,512.5 425.5,512.7 425.8,512.9 426,513 426.2,513.2 426.5,513.4 426.8,513.6 427,513.8 427.2,514 427.5,514.2 427.8,514.4 428,514.5 428.2,514.7 428.5,514.9 428.8,515.1 429,515.3 429.2,515.5 429.5,515.1 429.8,514.4 430,513.7 430.2,513.1 430.5,512.5 430.8,511.9 431,511.4 431.2,511 431.5,510.7 431.8,510.4 432,510.3 432.2,510.2 432.5,510.2 432.8,510.2 433,510.2 433.2,510.3 433.5,510.3 433.8,510.3 434,510.4 434.2,510.4 434.5,510.5 434.8,510.6 435,510.6 435.2,510.7 435.5,510.8 435.8,510.9 436,511 436.2,511.1 436.5,511.2 436.8,511.3 437,511.5 437.2,511.6 437.5,511.7 437.8,511.9 438,512 438.2,512.2 438.5,512.3 438.8,512.5 439,512.7 439.2,512.8 439.5,513 439.8,513.2 440,513.4 440.2,513.6 440.5,513.7 440.8,513.9 441,514.1 441.2,514.3 441.5,514.5 441.8,514.7 442,514.9 442.2,515.1 442.5,515.3 442.8,515.5 443,515.2 443.2,514.5 443.5,513.8 443.8,513.2 444,512.5 444.2,512 444.5,511.5 444.8,511.1 445,510.7 445.2,510.5 445.5,510.3 445.8,510.2 446,510.2 446.2,510.2 446.5,510.2 446.8,510.2 447,510.3 447.2,510.3 447.5,510.4 447.8,510.4 448,510.5 448.2,510.5 448.5,510.6 448.8,510.7 449,510.8 449.2,510.9 449.5,511 449.8,511.1 450,511.2 450.2,511.3 450.5,511.4 450.8,511.6 451,511.7 451.2,511.9 451.5,512 451.8,512.2 452,512.3 452.2,512.5 452.5,512.6 452.8,512.8 453,513 453.2,513.2 453.5,513.3 453.8,513.5 454,513.7 454.2,513.9 454.5,514.1 454.8,514.3 455,514.5 455.2,514.7 455.5,514.9 455.8,515.1 456,515.3 456.2,515.5 456.5,515.3 456.8,514.6 457,513.9 457.2,513.3 457.5,512.6 457.8,512.1 458,511.6 458.2,511.1 458.5,510.8 458.8,510.5 459,510.3 459.2,510.2 459.5,510.2 459.8,510.2 460,510.2 460.2,510.2 460.5,510.3 460.8,510.3 461,510.4 461.2,510.4 461.5,510.5 461.8,510.5 462,510.6 462.2,510.7 462.5,510.8 462.8,510.9 463,511 463.2,511.1 463.5,511.2 463.8,511.3 464,511.4 464.2,511.6 464.5,511.7 464.8,511.8 465,512 465.2,512.1 465.5,512.3 465.8,512.4 466,512.6 466.2,512.8 466.5,513 466.8,513.1 467,513.3 467.2,513.5 467.5,513.7 467.8,513.9 468,514.1 468.2,514.3 468.5,514.5 468.8,514.6 469,514.8 469.2,515 469.5,515.2 469.8,515.4 470,515.4 470.2,514.7 470.5,514 470.8,513.4 471,512.7 471.2,512.2 471.5,511.6 471.8,511.2 472,510.8 472.2,510.5 472.5,510.3 472.8,510.2 473,510.2 473.2,510.2 473.5,510.2 473.8,510.2 474,510.3 474.2,510.3 474.5,510.3 474.8,510.4 475,510.5 475.2,510.5 475.5,510.6 475.8,510.7 476,510.8 476.2,510.8 476.5,510.9 476.8,511.1 477,511.2 477.2,511.3 477.5,511.4 477.8,511.5 478,511.7 478.2,511.8 478.5,512 478.8,512.1 479,512.3 479.2,512.4 479.5,512.6 479.8,512.8 480,512.9 480.2,513.1 480.5,513.3 480.8,513.5 481,513.7 481.2,513.8 481.5,514 481.8,514.2 482,514.4 482.2,514.6 482.5,514.8 482.8,515 483,515.2 483.2,515.4 483.5,515.5 483.8,514.8 484,514.1 484.2,513.5 484.5,512.8 484.8,512.2 485,511.7 485.2,511.3 485.5,510.9 485.8,510.6 486,510.4 486.2,510.2 486.5,510.2 486.8,510.2 487,510.2 487.2,510.2 487.5,510.3 487.8,510.3 488,510.3 488.2,510.4 488.5,510.4 488.8,510.5 489,510.6 489.2,510.7 489.5,510.7 489.8,510.8 490,510.9 490.2,511 490.5,511.1 490.8,511.3 491,511.4 491.2,511.5 491.5,511.6 491.8,511.8 492,511.9 492.2,512.1 492.5,512.2 492.8,512.4 493,512.6 493.2,512.7 493.5,512.9 493.8,513.1 494,513.3 494.2,513.4 494.5,513.6 494.8,513.8 495,514 495.2,514.2 495.5,514.4 495.8,514.6 496,514.8 496.2,515 496.5,515.2 496.8,515.4 497,515.6 497.2,514.9 497.5,514.2 497.8,513.6 498,512.9 498.2,512.3 498.5,511.8 498.8,511.3 499,510.9 499.2,510.6 499.5,510.4 499.8,510.2 500,510.2 500.2,510.2 500.5,510.2 500.8,510.2 501,510.3 501.2,510.3 501.5,510.3 501.8,510.4 502,510.4 502.2,510.5 502.5,510.6 502.8,510.6 503,510.7 503.2,510.8 503.5,510.9 503.8,511 504,511.1 504.2,511.2 504.5,511.4 504.8,511.5 505,511.6 505.2,511.8 505.5,511.9 505.8,512.1 506,512.2 506.2,512.4 506.5,512.5 506.8,512.7 507,512.9 507.2,513 507.5,513.2 507.8,513.4 508,513.6 508.2,513.8 508.5,514 508.8,514.2 509,514.4 509.2,514.6 509.5,514.8 509.8,515 510,515.2 510.2,515.4 510.5,515.6 510.8,515.1 511,514.4 511.2,513.7 511.5,513 511.8,512.4 512,511.9 512.2,511.4 512.5,511 512.8,510.7 513,510.4 513.2,510.3 513.5,510.2 513.8,510.2 514,510.2 514.2,510.2 514.5,510.3 514.8,510.3 515,510.3 515.2,510.4 515.5,510.4 515.8,510.5 516,510.6 516.2,510.6 516.5,510.7 516.8,510.8 517,510.9 517.2,511 517.5,511.1 517.8,511.2 518,511.3 518.2,511.5 518.5,511.6 518.8,511.7 519,511.9 519.2,512 519.5,512.2 519.8,512.3 520,512.5 520.2,512.7 520.5,512.8 520.8,513 521,513.2 521.2,513.4 521.5,513.6 521.8,513.8 522,513.9 522.2,514.1 522.5,514.3 522.5,555.8 522.2,556.1 522,556.4 521.8,556.8 521.5,557.1 521.2,557.4 521,557.7 520.8,558 520.5,558.2 520.2,558.5 520,558.7 519.8,558.9 519.5,559.1 519.2,559.3 519,559.4 518.8,559.6 518.5,559.7 518.2,559.8 518,559.8 517.8,559.9 517.5,559.9 517.2,559.9 517,559.9 516.8,559.8 516.5,559.8 516.2,559.7 516,559.6 515.8,559.5 515.5,559.3 515.2,559.2 515,559 514.8,558.8 514.5,558.5 514.2,558.3 514,558.1 513.8,557.8 513.5,557.5 513.2,557.2 513,556.9 512.8,556.6 512.5,556.2 512.2,555.9 512,555.5 511.8,555.2 511.5,554.8 511.2,554.4 511,554.1 510.8,553.7 510.5,553.5 510.2,553.9 510,554.2 509.8,554.6 509.5,555 509.2,555.3 509,555.7 508.8,556.1 508.5,556.4 508.2,556.7 508,557 507.8,557.3 507.5,557.6 507.2,557.9 507,558.2 506.8,558.4 506.5,558.7 506.2,558.9 506,559.1 505.8,559.2 505.5,559.4 505.2,559.5 505,559.6 504.8,559.7 504.5,559.8 504.2,559.9 504,559.9 503.8,559.9 503.5,559.9 503.2,559.8 503,559.8 502.8,559.7 502.5,559.6 502.2,559.5 502,559.3 501.8,559.2 501.5,559 501.2,558.8 501,558.6 500.8,558.3 500.5,558.1 500.2,557.8 500,557.5 499.8,557.2 499.5,556.9 499.2,556.6 499,556.3 498.8,555.9 498.5,555.6 498.2,555.2 498,554.9 497.8,554.5 497.5,554.1 497.2,553.7 497,553.4 496.8,553.8 496.5,554.2 496.2,554.6 496,554.9 495.8,555.3 495.5,555.6 495.2,556 495,556.3 494.8,556.7 494.5,557 494.2,557.3 494,557.6 493.8,557.9 493.5,558.1 493.2,558.4 493,558.6 492.8,558.8 492.5,559 492.2,559.2 492,559.4 491.8,559.5 491.5,559.6 491.2,559.7 491,559.8 490.8,559.9 490.5,559.9 490.2,559.9 490,559.9 489.8,559.9 489.5,559.8 489.2,559.7 489,559.6 488.8,559.5 488.5,559.4 488.2,559.2 488,559 487.8,558.8 487.5,558.6 487.2,558.4 487,558.1 486.8,557.9 486.5,557.6 486.2,557.3 486,557 485.8,556.7 485.5,556.3 485.2,556 485,555.6 484.8,555.3 484.5,554.9 484.2,554.6 484,554.2 483.8,553.8 483.5,553.4 483.2,553.7 483,554.1 482.8,554.5 482.5,554.9 482.2,555.2 482,555.6 481.8,555.9 481.5,556.3 481.2,556.6 481,556.9 480.8,557.2 480.5,557.5 480.2,557.8 480,558.1 479.8,558.3 479.5,558.6 479.2,558.8 479,559 478.8,559.2 478.5,559.3 478.2,559.5 478,559.6 477.8,559.7 477.5,559.8 477.2,559.8 477,559.9 476.8,559.9 476.5,559.9 476.2,559.9 476,559.8 475.8,559.7 475.5,559.6 475.2,559.5 475,559.4 474.8,559.2 474.5,559.1 474.2,558.9 474,558.7 473.8,558.4 473.5,558.2 473.2,557.9 473,557.6 472.8,557.3 472.5,557 472.2,556.7 472,556.4 471.8,556.1 471.5,555.7 471.2,555.3 471,555 470.8,554.6 470.5,554.2 470.2,553.9 470,553.5 469.8,553.7 469.5,554.1 469.2,554.4 469,554.8 468.8,555.2 468.5,555.5 468.2,555.9 468,556.2 467.8,556.6 467.5,556.9 467.2,557.2 467,557.5 466.8,557.8 466.5,558.1 466.2,558.3 466,558.5 465.8,558.8 465.5,559 465.2,559.2 465,559.3 464.8,559.5 464.5,559.6 464.2,559.7 464,559.8 463.8,559.8 463.5,559.9 463.2,559.9 463,559.9 462.8,559.9 462.5,559.8 462.2,559.8 462,559.7 461.8,559.6 461.5,559.4 461.2,559.3 461,559.1 460.8,558.9 460.5,558.7 460.2,558.5 460,558.2 459.8,558 459.5,557.7 459.2,557.4 459,557.1 458.8,556.8 458.5,556.4 458.2,556.1 458,555.8 457.8,555.4 457.5,555 457.2,554.7 457,554.3 456.8,553.9 456.5,553.6 456.2,553.6 456,554 455.8,554.4 455.5,554.7 455.2,555.1 455,555.5 454.8,555.8 454.5,556.2 454.2,556.5 454,556.8 453.8,557.1 453.5,557.5 453.2,557.7 453,558 452.8,558.3 452.5,558.5 452.2,558.7 452,558.9 451.8,559.1 451.5,559.3 451.2,559.4 451,559.6 450.8,559.7 450.5,559.8 450.2,559.8 450,559.9 449.8,559.9 449.5,559.9 449.2,559.9 449,559.8 448.8,559.8 448.5,559.7 448.2,559.6 448,559.4 447.8,559.3 447.5,559.1 447.2,558.9 447,558.7 446.8,558.5 446.5,558.3 446.2,558 446,557.7 445.8,557.4 445.5,557.1 445.2,556.8 445,556.5 444.8,556.2 444.5,555.8 444.2,555.5 444,555.1 443.8,554.7 443.5,554.4 443.2,554 443,553.6 442.8,553.6 442.5,553.9 442.2,554.3 442,554.7 441.8,555.1 441.5,555.4 441.2,555.8 441,556.1 440.8,556.5 440.5,556.8 440.2,557.1 440,557.4 439.8,557.7 439.5,558 439.2,558.2 439,558.5 438.8,558.7 438.5,558.9 438.2,559.1 438,559.3 437.8,559.4 437.5,559.6 437.2,559.7 437,559.8 436.8,559.8 436.5,559.9 436.2,559.9 436,559.9 435.8,559.9 435.5,559.8 435.2,559.8 435,559.7 434.8,559.6 434.5,559.5 434.2,559.3 434,559.2 433.8,559 433.5,558.8 433.2,558.5 433,558.3 432.8,558 432.5,557.8 432.2,557.5 432,557.2 431.8,556.9 431.5,556.5 431.2,556.2 431,555.9 430.8,555.5 430.5,555.2 430.2,554.8 430,554.4 429.8,554 429.5,553.7 429.2,553.5 429,553.9 428.8,554.3 428.5,554.6 428.2,555 428,555.4 427.8,555.7 427.5,556.1 427.2,556.4 427,556.7 426.8,557.1 426.5,557.4 426.2,557.6 426,557.9 425.8,558.2 425.5,558.4 425.2,558.7 425,558.9 424.8,559.1 424.5,559.2 424.2,559.4 424,559.5 423.8,559.6 423.5,559.7 423.2,559.8 423,559.9 422.8,559.9 422.5,559.9 422.2,559.9 422,559.8 421.8,559.8 421.5,559.7 421.2,559.6 421,559.5 420.8,559.3 420.5,559.2 420.2,559 420,558.8 419.8,558.6 419.5,558.3 419.2,558.1 419,557.8 418.8,557.5 418.5,557.2 418.2,556.9 418,556.6 417.8,556.3 417.5,555.9 417.2,555.6 417,555.2 416.8,554.9 416.5,554.5 416.2,554.1 416,553.7 415.8,553.4 415.5,553.8 415.2,554.2 415,554.6 414.8,554.9 414.5,555.3 414.2,555.7 414,556 413.8,556.3 413.5,556.7 413.2,557 413,557.3 412.8,557.6 412.5,557.9 412.2,558.1 412,558.4 411.8,558.6 411.5,558.8 411.2,559 411,559.2 410.8,559.4 410.5,559.5 410.2,559.6 410,559.7 409.8,559.8 409.5,559.9 409.2,559.9 409,559.9 408.8,559.9 408.5,559.9 408.2,559.8 408,559.7 407.8,559.6 407.5,559.5 407.2,559.4 407,559.2 406.8,559 406.5,558.8 406.2,558.6 406,558.4 405.8,558.1 405.5,557.9 405.2,557.6 405,557.3 404.8,557 404.5,556.7 404.2,556.3 404,556 403.8,555.6 403.5,555.3 403.2,554.9 403,554.5 402.8,554.2 402.5,553.8 402.2,553.4 402,553.8 401.8,554.1 401.5,554.5 401.2,554.9 401,555.2 400.8,555.6 400.5,556 400.2,556.3 400,556.6 399.8,556.9 399.5,557.3 399.2,557.6 399,557.8 398.8,558.1 398.5,558.4 398.2,558.6 398,558.8 397.8,559 397.5,559.2 397.2,559.4 397,559.5 396.8,559.6 396.5,559.7 396.2,559.8 396,559.9 395.8,559.9 395.5,559.9 395.2,559.9 395,559.9 394.8,559.8 394.5,559.7 394.2,559.6 394,559.5 393.8,559.4 393.5,559.2 393.2,559.1 393,558.9 392.8,558.6 392.5,558.4 392.2,558.2 392,557.9 391.8,557.6 391.5,557.3 391.2,557 391,556.7 390.8,556.4 390.5,556 390.2,555.7 390,555.3 389.8,555 389.5,554.6 389.2,554.2 389,553.9 388.8,553.5 388.5,553.7 388.2,554.1 388,554.5 387.8,554.8 387.5,555.2 387.2,555.5 387,555.9 386.8,556.2 386.5,556.6 386.2,556.9 386,557.2 385.8,557.5 385.5,557.8 385.2,558.1 385,558.3 384.8,558.6 384.5,558.8 384.2,559 384,559.2 383.8,559.3 383.5,559.5 383.2,559.6 383,559.7 382.8,559.8 382.5,559.8 382.2,559.9 382,559.9 381.8,559.9 381.5,559.9 381.2,559.8 381,559.7 380.8,559.7 380.5,559.5 380.2,559.4 380,559.3 379.8,559.1 379.5,558.9 379.2,558.7 379,558.5 378.8,558.2 378.5,557.9 378.2,557.7 378,557.4 377.8,557.1 377.5,556.8 377.2,556.4 377,556.1 376.8,555.7 376.5,555.4 376.2,555 376,554.7 375.8,554.3 375.5,553.9 375.2,553.5 375,553.6 374.8,554 374.5,554.4 374.2,554.8 374,555.1 373.8,555.5 373.5,555.8 373.2,556.2 373,556.5 372.8,556.8 372.5,557.2 372.2,557.5 372,557.8 371.8,558 371.5,558.3 371.2,558.5 371,558.7 370.8,558.9 370.5,559.1 370.2,559.3 370,559.5 369.8,559.6 369.5,559.7 369.2,559.8 369,559.8 368.8,559.9 368.5,559.9 368.2,559.9 368,559.9 367.8,559.8 367.5,559.8 367.2,559.7 367,559.6 366.8,559.4 366.5,559.3 366.2,559.1 366,558.9 365.8,558.7 365.5,558.5 365.2,558.2 365,558 364.8,557.7 364.5,557.4 364.2,557.1 364,556.8 363.8,556.5 363.5,556.1 363.2,555.8 363,555.4 362.8,555.1 362.5,554.7 362.2,554.3 362,554 361.8,553.6 361.5,553.6 361.2,554 361,554.3 360.8,554.7 360.5,555.1 360.2,555.4 360,555.8 359.8,556.1 359.5,556.5 359.2,556.8 359,557.1 358.8,557.4 358.5,557.7 358.2,558 358,558.2 357.8,558.5 357.5,558.7 357.2,558.9 357,559.1 356.8,559.3 356.5,559.4 356.2,559.6 356,559.7 355.8,559.8 355.5,559.8 355.2,559.9 355,559.9 354.8,559.9 354.5,559.9 354.2,559.8 354,559.8 353.8,559.7 353.5,559.6 353.2,559.5 353,559.3 352.8,559.1 352.5,559 352.2,558.8 352,558.5 351.8,558.3 351.5,558 351.2,557.8 351,557.5 350.8,557.2 350.5,556.9 350.2,556.5 350,556.2 349.8,555.9 349.5,555.5 349.2,555.1 349,554.8 348.8,554.4 348.5,554 348.2,553.7 348,553.5 347.8,553.9 347.5,554.3 347.2,554.6 347,555 346.8,555.4 346.5,555.7 346.2,556.1 346,556.4 345.8,556.7 345.5,557.1 345.2,557.4 345,557.7 344.8,557.9 344.5,558.2 344.2,558.4 344,558.7 343.8,558.9 343.5,559.1 343.2,559.3 343,559.4 342.8,559.5 342.5,559.7 342.2,559.7 342,559.8 341.8,559.9 341.5,559.9 341.2,559.9 341,559.9 340.8,559.8 340.5,559.8 340.2,559.7 340,559.6 339.8,559.5 339.5,559.3 339.2,559.2 339,559 338.8,558.8 338.5,558.6 338.2,558.3 338,558.1 337.8,557.8 337.5,557.5 337.2,557.2 337,556.9 336.8,556.6 336.5,556.3 336.2,555.9 336,555.6 335.8,555.2 335.5,554.8 335.2,554.5 335,554.1 334.8,553.7 334.5,553.5 334.2,553.8 334,554.2 333.8,554.6 333.5,555 333.2,555.3 333,555.7 332.8,556 332.5,556.4 332.2,556.7 332,557 331.8,557.3 331.5,557.6 331.2,557.9 331,558.2 330.8,558.4 330.5,558.6 330.2,558.9 330,559 329.8,559.2 329.5,559.4 329.2,559.5 329,559.6 328.8,559.7 328.5,559.8 328.2,559.9 328,559.9 327.8,559.9 327.5,559.9 327.2,559.9 327,559.8 326.8,559.7 326.5,559.6 326.2,559.5 326,559.4 325.8,559.2 325.5,559 325.2,558.8 325,558.6 324.8,558.4 324.5,558.1 324.2,557.8 324,557.6 323.8,557.3 323.5,557 323.2,556.6 323,556.3 322.8,556 322.5,555.6 322.2,555.3 322,554.9 321.8,554.5 321.5,554.2 321.2,553.8 321,553.4 320.8,553.8 320.5,554.2 320.2,554.5 320,554.9 319.8,555.3 319.5,555.6 319.2,556 319,556.3 318.8,556.6 318.5,557 318.2,557.3 318,557.6 317.8,557.8 317.5,558.1 317.2,558.4 317,558.6 316.8,558.8 316.5,559 316.2,559.2 316,559.4 315.8,559.5 315.5,559.6 315.2,559.7 315,559.8 314.8,559.9 314.5,559.9 314.2,559.9 314,559.9 313.8,559.9 313.5,559.8 313.2,559.7 313,559.6 312.8,559.5 312.5,559.4 312.2,559.2 312,559 311.8,558.9 311.5,558.6 311.2,558.4 311,558.2 310.8,557.9 310.5,557.6 310.2,557.3 310,557 309.8,556.7 309.5,556.4 309.2,556 309,555.7 308.8,555.3 308.5,555 308.2,554.6 308,554.2 307.8,553.8 307.5,553.5 307.2,553.7 307,554.1 306.8,554.5 306.5,554.8 306.2,555.2 306,555.6 305.8,555.9 305.5,556.3 305.2,556.6 305,556.9 304.8,557.2 304.5,557.5 304.2,557.8 304,558.1 303.8,558.3 303.5,558.6 303.2,558.8 303,559 302.8,559.2 302.5,559.3 302.2,559.5 302,559.6 301.8,559.7 301.5,559.8 301.2,559.8 301,559.9 300.8,559.9 300.5,559.9 300.2,559.9 300,559.8 299.8,559.7 299.5,559.7 299.2,559.5 299,559.4 298.8,559.3 298.5,559.1 298.2,558.9 298,558.7 297.8,558.4 297.5,558.2 297.2,557.9 297,557.7 296.8,557.4 296.5,557.1 296.2,556.7 296,556.4 295.8,556.1 295.5,555.7 295.2,555.4 295,555 294.8,554.6 294.5,554.3 294.2,553.9 294,553.5 293.8,553.7 293.5,554 293.2,554.4 293,554.8 292.8,555.1 292.5,555.5 292.2,555.9 292,556.2 291.8,556.5 291.5,556.9 291.2,557.2 291,557.5 290.8,557.8 290.5,558 290.2,558.3 290,558.5 289.8,558.8 289.5,559 289.2,559.1 289,559.3 288.8,559.5 288.5,559.6 288.2,559.7 288,559.8 287.8,559.8 287.5,559.9 287.2,559.9 287,559.9 286.8,559.9 286.5,559.8 286.2,559.8 286,559.7 285.8,559.6 285.5,559.4 285.2,559.3 285,559.1 284.8,558.9 284.5,558.7 284.2,558.5 284,558.2 283.8,558 283.5,557.7 283.2,557.4 283,557.1 282.8,556.8 282.5,556.5 282.2,556.1 282,555.8 281.8,555.4 281.5,555.1 281.2,554.7 281,554.3 280.8,554 280.5,553.6 280.2,553.6 280,554 279.8,554.3 279.5,554.7 279.2,555.1 279,555.4 278.8,555.8 278.5,556.1 278.2,556.5 278,556.8 277.8,557.1 277.5,557.4 277.2,557.7 277,558 276.8,558.2 276.5,558.5 276.2,558.7 276,558.9 275.8,559.1 275.5,559.3 275.2,559.4 275,559.6 274.8,559.7 274.5,559.8 274.2,559.8 274,559.9 273.8,559.9 273.5,559.9 273.2,559.9 273,559.8 272.8,559.8 272.5,559.7 272.2,559.6 272,559.5 271.8,559.3 271.5,559.1 271.2,558.9 271,558.7 270.8,558.5 270.5,558.3 270.2,558 270,557.8 269.8,557.5 269.5,557.2 269.2,556.8 269,556.5 268.8,556.2 268.5,555.8 268.2,555.5 268,555.1 267.8,554.8 267.5,554.4 267.2,554 267,553.6 266.8,553.5 266.5,553.9 266.2,554.3 266,554.7 265.8,555 265.5,555.4 265.2,555.7 265,556.1 264.8,556.4 264.5,556.8 264.2,557.1 264,557.4 263.8,557.7 263.5,557.9 263.2,558.2 263,558.5 262.8,558.7 262.5,558.9 262.2,559.1 262,559.3 261.8,559.4 261.5,559.5 261.2,559.7 261,559.7 260.8,559.8 260.5,559.9 260.2,559.9 260,559.9 259.8,559.9 259.5,559.8 259.2,559.8 259,559.7 258.8,559.6 258.5,559.5 258.2,559.3 258,559.2 257.8,559 257.5,558.8 257.2,558.6 257,558.3 256.8,558.1 256.5,557.8 256.2,557.5 256,557.2 255.8,556.9 255.5,556.6 255.2,556.2 255,555.9 254.8,555.5 254.5,555.2 254.2,554.8 254,554.5 253.8,554.1 253.5,553.7 253.2,553.5 253,553.9 252.8,554.2 252.5,554.6 252.2,555 252,555.3 251.8,555.7 251.5,556 251.2,556.4 251,556.7 250.8,557 250.5,557.3 250.2,557.6 250,557.9 249.8,558.2 249.5,558.4 249.2,558.6 249,558.9 248.8,559.1 248.5,559.2 248.2,559.4 248,559.5 247.8,559.6 247.5,559.7 247.2,559.8 247,559.9 246.8,559.9 246.5,559.9 246.2,559.9 246,559.9 245.8,559.8 245.5,559.7 245.2,559.6 245,559.5 244.8,559.4 244.5,559.2 244.2,559 244,558.8 243.8,558.6 243.5,558.4 243.2,558.1 243,557.8 242.8,557.6 242.5,557.3 242.2,556.9 242,556.6 241.8,556.3 241.5,556 241.2,555.6 241,555.2 240.8,554.9 240.5,554.5 240.2,554.1 240,553.8 239.8,553.4 239.5,553.8 239.2,554.2 239,554.5 238.8,554.9 238.5,555.3 238.2,555.6 238,556 237.8,556.3 237.5,556.7 237.2,557 237,557.3 236.8,557.6 236.5,557.9 236.2,558.1 236,558.4 235.8,558.6 235.5,558.8 235.2,559 235,559.2 234.8,559.4 234.5,559.5 234.2,559.6 234,559.7 233.8,559.8 233.5,559.9 233.2,559.9 233,559.9 232.8,559.9 232.5,559.9 232.2,559.8 232,559.7 231.8,559.6 231.5,559.5 231.2,559.4 231,559.2 230.8,559 230.5,558.8 230.2,558.6 230,558.4 229.8,558.1 229.5,557.9 229.2,557.6 229,557.3 228.8,557 228.5,556.7 228.2,556.3 228,556 227.8,555.7 227.5,555.3 227.2,554.9 227,554.6 226.8,554.2 226.5,553.8 226.2,553.4 226,553.7 225.8,554.1 225.5,554.5 225.2,554.9 225,555.2 224.8,555.6 224.5,555.9 224.2,556.3 224,556.6 223.8,556.9 223.5,557.2 223.2,557.5 223,557.8 222.8,558.1 222.5,558.3 222.2,558.6 222,558.8 221.8,559 221.5,559.2 221.2,559.3 221,559.5 220.8,559.6 220.5,559.7 220.2,559.8 220,559.8 219.8,559.9 219.5,559.9 219.2,559.9 219,559.9 218.8,559.8 218.5,559.7 218.2,559.6 218,559.5 217.8,559.4 217.5,559.2 217.2,559.1 217,558.9 216.8,558.7 216.5,558.4 216.2,558.2 216,557.9 215.8,557.6 215.5,557.4 215.2,557.1 215,556.7 214.8,556.4 214.5,556.1 214.2,555.7 214,555.4 213.8,555 213.5,554.6 213.2,554.3 213,553.9 212.8,553.5 212.5,553.7 212.2,554 212,554.4 211.8,554.8 211.5,555.2 211.2,555.5 211,555.9 210.8,556.2 210.5,556.5 210.2,556.9 210,557.2 209.8,557.5 209.5,557.8 209.2,558 209,558.3 208.8,558.5 208.5,558.8 208.2,559 208,559.2 207.8,559.3 207.5,559.5 207.2,559.6 207,559.7 206.8,559.8 206.5,559.8 206.2,559.9 206,559.9 205.8,559.9 205.5,559.9 205.2,559.8 205,559.8 204.8,559.7 204.5,559.6 204.2,559.4 204,559.3 203.8,559.1 203.5,558.9 203.2,558.7 203,558.5 202.8,558.2 202.5,558 202.2,557.7 202,557.4 201.8,557.1 201.5,556.8 201.2,556.5 201,556.1 200.8,555.8 200.5,555.4 200.2,555.1 200,554.7 199.8,554.3 199.5,553.9 199.2,553.6 199,553.6 198.8,554 198.5,554.4 198.2,554.7 198,555.1 197.8,555.5 197.5,555.8 197.2,556.2 197,556.5 196.8,556.8 196.5,557.1 196.2,557.4 196,557.7 195.8,558 195.5,558.3 195.2,558.5 195,558.7 194.8,558.9 194.5,559.1 194.2,559.3 194,559.4 193.8,559.6 193.5,559.7 193.2,559.8 193,559.8 192.8,559.9 192.5,559.9 192.2,559.9 192,559.9 191.8,559.8 191.5,559.8 191.2,559.7 191,559.6 190.8,559.4 190.5,559.3 190.2,559.1 190,558.9 189.8,558.7 189.5,558.5 189.2,558.3 189,558 188.8,557.7 188.5,557.5 188.2,557.1 188,556.8 187.8,556.5 187.5,556.2 187.2,555.8 187,555.5 186.8,555.1 186.5,554.7 186.2,554.4 186,554 185.8,553.6 185.5,553.6 185.2,553.9 185,554.3 184.8,554.7 184.5,555.1 184.2,555.5 184,555.8 183.8,556.2 183.5,556.5 183.2,556.8 183,557.1 182.8,557.4 182.5,557.7 182.2,558 182,558.2 181.8,558.4 181.5,558.6 181.2,558.8 181,559 180.8,559.1 180.5,559.2 180.2,559.3 180,559.4 179.8,559.5 179.5,559.5 179.2,559.5 179,559.6 178.8,559.5 178.5,559.5 178.2,559.5 178,559.4 177.8,559.3 177.5,559.2 177.2,559.1 177,559 176.8,558.9 176.5,558.7 176.2,558.6 176,558.4 175.8,558.2 175.5,558 175.2,557.8 175,557.6 174.8,557.4 174.5,557.2 174.2,557 174,556.8 173.8,556.5 173.5,556.3 173.2,556.1 173,555.9 172.8,555.6 172.5,555.4 172.2,555.2 172,555.1 171.8,555.4 171.5,555.7 171.2,555.9 171,556.1 170.8,556.4 170.5,556.6 170.2,556.8 170,557 169.8,557.2 169.5,557.4 169.2,557.6 169,557.8 168.8,557.9 168.5,558 168.2,558.2 168,558.3 167.8,558.4 167.5,558.5 167.2,558.6 167,558.6 166.8,558.7 166.5,558.7 166.2,558.8 166,558.8 165.8,558.8 165.5,558.8 165.2,558.8 165,558.8 164.8,558.7 164.5,558.7 164.2,558.6 164,558.6 163.8,558.5 163.5,558.5 163.2,558.4 163,558.3 162.8,558.2 162.5,558.1 162.2,558.1 162,558 161.8,557.9 161.5,557.8 161.2,557.7 161,557.6 160.8,557.5 160.5,557.4 160.2,557.3 160,557.2 159.8,557.2 159.5,557.1 159.2,557 159,556.9 158.8,556.9 158.5,556.8 158.2,556.9 158,557.1 157.8,557.2 157.5,557.3 157.2,557.4 157,557.4 156.8,557.5 156.5,557.6 156.2,557.7 156,557.7 155.8,557.8 155.5,557.8 155.2,557.9 155,557.9 154.8,558 154.5,558 154.2,558.1 154,558.1 153.8,558.2 153.5,558.2 153.2,558.2 153,558.2 152.8,558.3 152.5,558.3 152.2,558.3 152,558.3 151.8,560.2 151.5,559.2 151.2,558.5 151,559.3 150.8,559.7 150.5,558.2 150.2,558.8 150,559.3 149.8,560.1 149.5,559.5 149.2,559.8 149,559.6 148.8,559.5 148.5,558.7 148.2,558.7 148,558.1 147.8,559 147.5,558.9 147.2,558.9 147,558.7 146.8,559.3 146.5,559.2 146.2,561.6 146,562.5 145.8,561.5 145.5,564.2 145.2,564.6 145,563.1 144.8,564.2 144.5,561.9 144.2,561.5 144,561.7 143.8,560.1 143.5,560.3 143.2,560.2 143,558.7 142.8,558.5 142.5,558.5 142.2,559.7 142,558.5 141.8,559.2 141.5,558.4 141.2,559.7 141,559.8 140.8,558.1 140.5,559 140.2,558.3 140,559.1 139.8,559.3 139.5,559.8 139.2,558.3 139,560 138.8,558.2 138.5,558.9 138.2,559.4 138,560.2 137.8,558.6 137.5,559.9 137.2,558.3 137,558.7 136.8,559.2 136.5,558.2 136.2,558.6 136,559.2 135.8,558.2 135.5,560 135.2,558.2 135,559.8 134.8,559.3 134.5,558.8 134.2,559.3 134,558.3 133.8,559.3 133.5,558.7 133.2,559.9 133,561.2 132.8,562 132.5,562.5 132.2,563.3 132,563.6 131.8,564.2 131.5,563.4 131.2,563.2 131,562.3 130.8,562.1 130.5,560.1 130.2,560.6 130,559.8 129.8,558.6 129.5,560.2 129.2,559.4 129,560 128.8,558.8 128.5,558.7 128.2,559.4 128,559.4 127.8,559.4 127.5,560.3 127.2,558.2 127,559.9 126.8,559.8 126.5,560 126.2,559.5 126,559.7 125.8,559.6 125.5,558.2 125.2,559.1 125,559.7 124.8,559.2 124.5,559.6 124.2,560.1 124,559.2 123.8,558.7 123.5,558.5 123.2,558.2 123,558.8 122.8,558.7 122.5,558.8 122.2,559.4 122,559.4 121.8,559.4 121.5,558.3 121.2,559.2 121,559.7 120.8,559.3 120.5,560.2 120.2,559.3 120,559.1 119.8,560 119.5,560.8 119.2,562.8 119,562.2 118.8,563.7 118.5,563.3 118.2,564.6 118,562.9 117.8,561.7 117.5,561.8 117.2,561.9 117,560.8 116.8,560.5 116.5,559.4 116.2,558.4 116,559.5 115.8,558.4 115.5,559.5 115.2,558.7 115,559 114.8,558.7 114.5,558.4 114.2,559.6 114,558.4 113.8,558.6 113.5,560.2 113.2,558.6 113,559.1 112.8,558.9 112.5,558.2 112.2,558.6 112,559.9 111.8,558.7 111.5,559 111.2,559.7 111,559.3 110.8,559.6 110.5,558.4 110.2,558.1 110,559.2 109.8,559.3 109.5,559 109.2,558.4 109,558.6 108.8,559.3 108.5,559.6 108.2,558.1 108,559.4 107.8,561.9 107.5,561.1 107.2,561.8 107,560.1 106.8,562.2 106.5,561.3 106.2,561.8 106,560.7 105.8,561.9 105.5,562.4 105.2,562.1 105,560.9 104.8,561.2 104.5,561.6 104.2,562.1 104,561.5 103.8,562.1 103.5,561.8 103.2,561.3 103,560.7 102.8,561.8 102.5,561.9 102.2,561.6 102,562 101.8,562.5 101.5,562 101.2,562.2 101,561.8 100.8,561.4 100.5,562.1 100.2,562.9 100,562.4 99.8,563.2 99.5,562.7 99.2,562.3 99,561.4 98.8,563.4 98.5,561.5 98.2,562.8 98,561.9 97.8,562 97.5,561.7 97.2,563.1 97,563.1 96.8,562.3 96.5,561.6 96.2,562.7 96,562.3 95.8,562 95.5,563.6 95.2,563.6 95,562.2 94.8,562.4 94.5,564 94.2,562.7 94,563.3 93.8,562.5 93.5,562.5 93.2,563.6 93,562.6 92.8,563.9 92.5,563.4 92.2,563.4 92,562.4 91.8,562.4 91.5,562.3 91.2,563 91,564 90.8,562.8 90.5,564.3 90.2,564.2 90,563.8 89.8,564.5 89.5,563.1 89.2,562.7 89,564.2 88.8,562.8 88.5,564.1 88.2,564.3 88,563.4 87.8,564.2 87.5,563.4 87.2,563.6 87,564.4 86.8,564.8 86.5,565 86.2,564.2 86,564 85.8,563.2 85.5,563.1 85.2,563.2 85,564.3 84.8,564.5 84.5,564 84.2,564.8 84,563.3 83.8,563.5 83.5,563.4 83.2,563.2 83,564.3 82.8,564.2 82.5,562.4 82.2,562.7 82,563.6 81.8,563.7 81.5,563.7 81.2,562.7 81,563.2 80.8,563.8 80.5,561.6 80.2,562.7 80,561.6 79.8,562.6 79.5,563.4 79.2,561.6 79,562.8 78.8,562.5 78.5,561.9 78.2,562.9 78,561.2 77.8,561.7 77.5,562.8 77.2,560.6 77,562.1 76.8,562.4 76.5,561.3 76.2,561.4 76,562 75.8,560.5 75.5,561 75.2,561.9 75,560.6 74.8,560.4 74.5,560.7 74.2,561.8 74,561.5 73.8,560.3 73.5,559.8 73.2,560.3 73,559.6 72.8,561.2 72.5,560 72.2,561 72,560.4 71.8,560.1 71.5,559.9 71.2,560.2 71,558.7 70.8,559.6 70.5,559.7 70.2,559.6 70,558.5 69.8,559.2 69.5,558.3 69.2,560.2 69,559.3 68.8,558.2 68.5,558.2 68.2,558.9 68,558 67.8,558 67.5,559.1 67.2,557.9 67,558.8 66.8,558.9 66.5,558.8 66.2,558.9 66,557.7 65.8,558.4 65.5,558 65.2,557.4 65,557.8 64.8,558.1 64.5,557.2 64.2,557.2 64,558.6 63.8,557.4 63.5,558.2 63.2,556.3 63,557.8 62.8,558.2 62.5,556.6 62.2,555.9 62,556.8 61.8,556.4 61.5,555.7 61.2,555.6 61,557.4 60.8,555.5 60.5,556.9 60.2,555.8 60,556.2 59.8,557.2 59.5,557.2 59.2,555.4 59,555.3 58.8,555.6 58.5,556.5 58.2,554.8 58,555.7 57.8,555.6 57.5,555 57.2,555.8 57,554.6 56.8,556 56.5,554.9 56.2,554.3 56,554.8 55.8,555.1 55.5,553.9 55.2,555.6 55,554.5 54.8,554.5 54.5,554.7 54.2,553.8 54,554.6 53.8,553.3 53.5,553.6 53.2,554 53,554.5 52.8,553.3 52.5,554.9Z" fill="#ff0000"/>
<path d="M522.5,512.5 523,511.8 523.5,512.1 524,512.8 524.5,512.8 525,511.6 525.5,512.4 526,512.5 526.5,512.4 527,512.3 527.5,512.5 528,511.7 528.5,512.5 529,511.7 529.5,511.1 530,511.9 530.5,510.8 531,510.7 531.5,509.7 532,509.3 532.5,508.8 533,507.8 533.5,505.9 534,505.4 534.5,503.6 535,503.4 535.5,501.4 536,501.1 536.5,501.1 537,502 537.5,501.5 538,501.9 538.5,501.5 539,501.7 539.5,502.4 540,502.5 540.5,501.1 541,502.5 541.5,501.8 542,502.2 542.5,502.5 543,501.3 543.5,501.6 544,502.4 544.5,501.8 545,502.4 545.5,502.3 546,502.6 546.5,502.1 547,501.1 547.5,502.4 548,501.3 548.5,501.3 549,501.6 549.5,501.3 550,501.2 550.5,502 551,502.5 551.5,501.4 552,501.6 552.5,502 553,501.5 553.5,501.8 554,502.5 554,557.4 553.5,557.2 553,557.1 552.5,558.1 552,557.3 551.5,557.9 551,558.8 550.5,558.2 550,558.4 549.5,558.9 549,559 548.5,559.6 548,559.1 547.5,559 547,559 546.5,559.4 546,560.2 545.5,559.9 545,560.1 544.5,559.7 544,560.7 543.5,560.7 543,561 542.5,561.1 542,560.5 541.5,560.8 541,561.8 540.5,561.2 540,561.7 539.5,561.3 539,562.4 538.5,562 538,562.4 537.5,562.2 537,562 536.5,561 536,560.6 535.5,560.4 535,559.6 534.5,558.9 534,559.1 533.5,558.5 533,558.2 532.5,558.2 532,558.1 531.5,557.1 531,556.5 530.5,557.3 530,557 529.5,556.7 529,557.1 528.5,556.4 528,556.2 527.5,555.9 527,556.4 526.5,556.2 526,556.9 525.5,556.2 525,556.7 524.5,555.8 524,556.6 523.5,555.8 523,556.2 522.5,555.6Z" fill="#ff0000"/>
<path d="M554.3,557 L556.5,559" stroke="#ff0000" stroke-width="0.9"/>
<line x1="55.2" y1="502" x2="55.2" y2="521.6" stroke="#ffa8a8" stroke-width="1" />
<line x1="59.8" y1="502" x2="59.8" y2="523.9" stroke="#ffa8a8" stroke-width="1" />
<line x1="66.2" y1="502" x2="66.2" y2="543.5" stroke="#ffa8a8" stroke-width="1" />
<line x1="72.5" y1="502" x2="72.5" y2="535.4" stroke="#ffa8a8" stroke-width="1.2" />
<line x1="74.2" y1="502" x2="74.2" y2="543.5" stroke="#ffa8a8" stroke-width="1" />
<line x1="77.1" y1="502" x2="77.1" y2="548" stroke="#ffa8a8" stroke-width="0.9" />
<line x1="80" y1="502" x2="80" y2="545.8" stroke="#ffa8a8" stroke-width="1" />
<line x1="81.8" y1="502" x2="81.8" y2="541" stroke="#ffa8a8" stroke-width="0.8" />
<line x1="86.4" y1="502" x2="86.4" y2="512" stroke="#ffa8a8" stroke-width="1" />
<line x1="89.8" y1="502" x2="89.8" y2="545.8" stroke="#ffa8a8" stroke-width="1" />
<line x1="103.1" y1="502" x2="103.1" y2="523.3" stroke="#ffa8a8" stroke-width="1" />
<line x1="63" y1="502" x2="63" y2="510" stroke="#ffa8a8" stroke-width="0.7" />
<line x1="69.5" y1="502" x2="69.5" y2="515" stroke="#ffa8a8" stroke-width="0.7" />
<line x1="84" y1="502" x2="84" y2="520" stroke="#ffa8a8" stroke-width="0.7" />
<line x1="93.5" y1="502" x2="93.5" y2="512" stroke="#ffa8a8" stroke-width="0.7" />
<line x1="537.5" y1="503" x2="537.5" y2="526" stroke="#ff9e9e" stroke-width="0.7" />
<line x1="542" y1="503" x2="542" y2="535" stroke="#ff9e9e" stroke-width="0.7" />
<line x1="548.5" y1="503" x2="548.5" y2="548" stroke="#ff9e9e" stroke-width="0.7" />
<text x="16" y="567.9" font-size="10.4" fill="#ff0000" stroke="#ff0000" stroke-width="0.22" textLength="21" lengthAdjust="spacingAndGlyphs" >Axon</text>
<line x1="15.2" y1="596.5" x2="555.5" y2="596.5" stroke="#ffa8a8" stroke-width="0.9" stroke-dasharray="3.6 2.0"/>
<path d="M15.2,607.5 H52.5" stroke="#ff7a7a" stroke-width="0.85" fill="none"/>
<line x1="22.2" y1="591.3" x2="22.2" y2="622.6" stroke="#ff9a9a" stroke-width="0.9" />
<line x1="22.5" y1="604" x2="22.5" y2="611" stroke="#ff7070" stroke-width="0.9" />
<line x1="42.4" y1="591.3" x2="42.4" y2="622.6" stroke="#ff9a9a" stroke-width="0.9" />
<line x1="42.7" y1="604" x2="42.7" y2="611" stroke="#ff7070" stroke-width="0.9" />
<path d="M52.5,594.7 53,588.5 53.5,592.3 54,588.7 54.5,592.1 55,591.8 55.5,590.9 56,590.1 56.5,591.1 57,596.7 57.5,589.6 58,590.5 58.5,588.7 59,589.9 59.5,588.5 60,595.9 60.5,589.6 61,596.4 61.5,588.7 62,592.4 62.5,591.8 63,592.4 63.5,594.2 64,588.6 64.5,593.4 65,588.5 65.5,589.3 66,595 66.5,591.4 67,596.3 67.5,595.2 68,590.1 68.5,589.2 69,588.9 69.5,588.5 70,593.1 70.5,594.3 71,588.5 71.5,590.7 72,594.7 72.5,592.2 73,590.1 73.5,596.6 74,590.1 74.5,589.4 75,590.7 75.5,589.6 76,589.9 76.5,590.7 77,588.6 77.5,591.8 78,591.6 78.5,593.1 79,589 79.5,588.5 80,593 80.5,589.7 81,591.7 81.5,589.2 82,589.6 82.5,589.1 83,590.7 83.5,592.3 84,589 84.5,589.4 85,590.4 85.5,592.9 86,589.7 86.5,588.5 87,590.9 87.5,590.4 88,597.4 88.5,591.5 89,588.5 89.5,592.2 90,588.6 90.5,589.7 91,588.5 91.5,591.7 92,588.8 92.5,596.5 93,588.8 93.5,596.9 94,596 94.5,590.9 95,590.4 95.5,589.9 96,593.5 96.5,588.8 97,589.6 97,620.8 96.5,622.3 96,624.4 95.5,624 95,625 94.5,623.5 94,618.2 93.5,618.3 93,619 92.5,622.4 92,625 91.5,620 91,624.3 90.5,623.7 90,619.4 89.5,617.9 89,624.5 88.5,620.3 88,620.6 87.5,618.4 87,625 86.5,624.7 86,623.7 85.5,624.5 85,624.1 84.5,624.8 84,623.8 83.5,624.4 83,625 82.5,620.1 82,624.9 81.5,625 81,624.6 80.5,624.7 80,620.8 79.5,619.9 79,617.4 78.5,620 78,622.8 77.5,622.7 77,624.3 76.5,623.8 76,623.6 75.5,624.9 75,618.3 74.5,625 74,621.4 73.5,624.2 73,619.3 72.5,624.5 72,620.7 71.5,624.4 71,625 70.5,619.7 70,622 69.5,621.1 69,623.7 68.5,623.9 68,624.8 67.5,620.3 67,624.2 66.5,620.4 66,625 65.5,619.1 65,619.8 64.5,620.8 64,622.1 63.5,624.7 63,622 62.5,622.1 62,624.3 61.5,617.8 61,622.1 60.5,620 60,624.8 59.5,618.3 59,617.5 58.5,619.3 58,624.9 57.5,620.9 57,625 56.5,624.9 56,624.7 55.5,624.4 55,624.6 54.5,623.4 54,618.2 53.5,624.7 53,623.5 52.5,625Z" fill="#ff8080"/>
<path d="M97,604.6 97.5,604.6 98,604.6 98.5,604.6 99,604.6 99.5,604.6 99.5,611.4 99,611.4 98.5,611.4 98,611.4 97.5,611.4 97,611.4Z" fill="#ff8080"/>
<path d="M98.7,604.5 99.2,600.9 99.7,599.1 100.2,596.5 100.7,596.4 101.2,593.6 101.7,591 102.2,590.6 102.7,590.5 103.2,591.3 103.7,589.9 104.2,590.6 104.7,590.4 105.2,589.6 105.7,590.9 106.2,592.7 106.7,594.7 107.2,596.6 107.7,598.6 108.2,600.6 108.7,600.1 109.2,603.8 109.2,611.5 108.7,615 108.2,614.5 107.7,617.2 107.2,618.2 106.7,620.5 106.2,620.9 105.7,623.1 105.2,623.9 104.7,624.3 104.2,625.3 103.7,624.3 103.2,625.3 102.7,624.6 102.2,625.7 101.7,622.5 101.2,622.6 100.7,619 100.2,617 99.7,616 99.2,613 98.7,612Z" fill="#ff8080"/>
<line x1="56" y1="589.1" x2="56" y2="608.6" stroke="#ffd0d0" stroke-width="0.6" />
<line x1="56.5" y1="614.8" x2="56.5" y2="619.5" stroke="#ffd0d0" stroke-width="0.6" />
<line x1="59.5" y1="594.5" x2="59.5" y2="602.2" stroke="#ffd0d0" stroke-width="0.6" />
<line x1="60" y1="615.5" x2="60" y2="621.9" stroke="#ffd0d0" stroke-width="0.6" />
<line x1="62.5" y1="594.9" x2="62.5" y2="607.9" stroke="#ffd0d0" stroke-width="0.6" />
<line x1="63" y1="612.4" x2="63" y2="622.6" stroke="#ffd0d0" stroke-width="0.6" />
<line x1="66" y1="594.9" x2="66" y2="601.8" stroke="#ffd0d0" stroke-width="1" />
<line x1="66.5" y1="612.1" x2="66.5" y2="622.8" stroke="#ffd0d0" stroke-width="0.6" />
<line x1="69.5" y1="593.4" x2="69.5" y2="603.9" stroke="#ffd0d0" stroke-width="0.8" />
<line x1="70" y1="613.2" x2="70" y2="621.4" stroke="#ffd0d0" stroke-width="0.6" />
<line x1="72" y1="592.5" x2="72" y2="601.7" stroke="#ffd0d0" stroke-width="0.6" />
<line x1="72.5" y1="614.1" x2="72.5" y2="620" stroke="#ffd0d0" stroke-width="0.6" />
<line x1="75.5" y1="589.7" x2="75.5" y2="602.5" stroke="#ffd0d0" stroke-width="0.7" />
<line x1="76" y1="615.5" x2="76" y2="620.5" stroke="#ffd0d0" stroke-width="0.6" />
<line x1="78.5" y1="593.5" x2="78.5" y2="600.1" stroke="#ffd0d0" stroke-width="0.9" />
<line x1="79" y1="615.8" x2="79" y2="622.8" stroke="#ffd0d0" stroke-width="0.6" />
<line x1="81.5" y1="594.3" x2="81.5" y2="604.2" stroke="#ffd0d0" stroke-width="0.8" />
<line x1="82" y1="615.6" x2="82" y2="620.2" stroke="#ffd0d0" stroke-width="0.6" />
<line x1="85" y1="592.5" x2="85" y2="607.3" stroke="#ffd0d0" stroke-width="0.7" />
<line x1="85.5" y1="613.9" x2="85.5" y2="619.2" stroke="#ffd0d0" stroke-width="0.6" />
<line x1="88" y1="593.8" x2="88" y2="601.7" stroke="#ffd0d0" stroke-width="0.7" />
<line x1="88.5" y1="612.9" x2="88.5" y2="622.6" stroke="#ffd0d0" stroke-width="0.6" />
<line x1="91" y1="591.8" x2="91" y2="609.9" stroke="#ffd0d0" stroke-width="0.9" />
<line x1="91.5" y1="615.7" x2="91.5" y2="622.4" stroke="#ffd0d0" stroke-width="0.6" />
<line x1="94" y1="590.6" x2="94" y2="603.2" stroke="#ffd0d0" stroke-width="0.7" />
<line x1="94.5" y1="612.8" x2="94.5" y2="621.3" stroke="#ffd0d0" stroke-width="0.6" />
<line x1="103.5" y1="594.5" x2="103.5" y2="605.2" stroke="#ffd0d0" stroke-width="0.7" />
<line x1="104" y1="614.9" x2="104" y2="623.8" stroke="#ffd0d0" stroke-width="0.6" />
<path d="M115.5,607.5 L117.1,602 L117.9,591.7 L118.7,591.7 L119.5,602 L121.1,607.5 L119.5,613 L118.7,627 L117.9,627 L117.1,613Z" fill="#ff8080"/>
<path d="M128.9,607.5 L130.3,602 L131.1,592.4 L131.9,592.4 L132.7,602 L134.1,607.5 L132.7,613 L131.9,626.5 L131.1,626.5 L130.3,613Z" fill="#ff8080"/>
<path d="M142.8,607.5 L143.9,602 L144.7,596.6 L145.5,596.6 L146.3,602 L147.4,607.5 L146.3,613 L145.5,622.2 L144.7,622.2 L143.9,613Z" fill="#ff8080"/>
<path d="M109,606.7 109.5,606.9 110,606.5 110.5,606.6 111,606.5 111.5,606.6 112,606.4 112.5,606.9 113,606.5 113.5,606.6 114,606.4 114.5,606.8 115,606.6 115.5,606.7 116,606.5 116.5,606.9 117,606.8 117.5,606.3 118,606.4 118.5,606.7 119,606.7 119.5,606.6 120,606.7 120.5,606.8 121,606.3 121.5,606.7 122,606.4 122.5,606.4 123,606.4 123.5,606.7 124,606.7 124.5,606.5 125,606.2 125.5,606.6 126,606.7 126.5,606.5 127,606.7 127.5,606.6 128,606.4 128.5,606.7 129,606.5 129.5,606.4 130,606.7 130.5,606.7 131,606.2 131.5,606.3 132,606.3 132.5,606.4 133,606.5 133.5,606.7 134,606.6 134.5,606.7 135,606.5 135.5,606.5 136,606.7 136.5,606.7 137,606.4 137.5,606.7 138,606.7 138.5,606.6 139,606.3 139.5,606.4 140,606.4 140.5,606.6 141,606.5 141.5,606.7 142,606.5 142.5,606.4 143,606.7 143.5,606.4 144,606.5 144.5,606.7 145,606.6 145.5,606.4 146,606.2 146.5,606.7 147,606.4 147.5,606.5 148,606.5 148.5,606.1 149,606.3 149.5,606.5 150,606.4 150.5,606.1 151,606.1 151.5,606.4 152,606.3 152.5,606.4 153,606.6 153.5,606.1 154,606.5 154.5,606.5 155,606.6 155.5,606.1 156,606.1 156.5,606.3 157,606.3 157.5,606.3 158,606.4 158.5,606.1 159,606.3 159.5,606.1 160,606.2 160.5,606.2 161,606.2 161.5,606.1 162,606.1 162.5,606.2 163,606.4 163.5,606.4 164,606.5 164.5,606.1 165,606.3 165.5,606.6 166,606.2 166.5,606 167,606 167.5,606 168,606 168.5,606.4 169,606.2 169.5,606.1 170,606.2 170.5,606.3 171,606.5 171.5,606 172,606.1 172.5,606 173,606.3 173.5,606.4 174,606 174.5,606.1 175,606.1 175.5,606.5 176,606.4 176.5,606 177,606 177.5,606.3 178,606 178.5,606.4 179,606.1 179.5,606.3 180,606.2 180.5,606.4 181,606.2 181.5,606.2 182,606.1 182.5,606.3 183,606.1 183.5,606.3 184,605.9 184.5,606.3 185,606.4 185.5,606.3 186,606.1 186.5,606.2 187,606 187.5,606.4 188,606.2 188.5,606.1 189,605.8 189.5,605.9 190,606.1 190.5,606.2 191,606.3 191.5,606 192,606.1 192.5,606.1 193,606 193.5,606.1 194,605.9 194.5,606.2 195,606.2 195.5,605.8 196,606 196.5,605.8 197,606.3 197.5,605.8 198,606.3 198.5,605.9 199,606 199.5,606.3 200,606.2 200.5,606.1 201,606 201.5,606 202,606.3 202.5,605.7 203,606.1 203.5,605.9 204,605.8 204.5,605.7 205,606.2 205.5,605.8 206,606 206.5,605.9 207,606.1 207.5,606.2 208,605.9 208.5,605.7 209,606 209.5,605.7 210,605.9 210.5,606.3 211,605.7 211.5,606.2 212,606.1 212.5,605.9 213,605.7 213.5,606.2 214,606.1 214.5,606.2 215,606.2 215.5,606 216,605.9 216.5,605.9 217,606.2 217.5,606 218,606 218.5,605.7 219,606 219.5,605.8 220,605.9 220.5,605.7 221,605.8 221.5,605.6 222,605.8 222.5,606 223,605.9 223.5,605.7 224,606 224.5,605.6 225,605.9 225.5,605.6 226,606.1 226.5,605.7 227,605.9 227.5,606 228,605.8 228.5,606.1 229,606 229.5,605.6 230,605.8 230.5,605.9 231,606.1 231.5,606 232,606 232.5,605.9 233,606.1 233.5,606 234,605.9 234.5,605.6 235,605.6 235.5,605.5 236,606 236.5,606 237,605.6 237.5,605.7 238,606 238.5,605.8 239,605.5 239.5,605.6 240,605.5 240.5,605.8 241,606 241.5,605.8 242,606 242.5,606 243,606 243.5,605.9 244,606 244.5,605.9 245,605.7 245.5,605.7 246,606.1 246.5,605.6 247,605.6 247.5,605.5 248,606 248.5,605.7 249,605.8 249.5,605.7 250,605.6 250.5,606.1 251,605.6 251.5,605.6 252,605.7 252.5,605.9 253,605.8 253.5,606 254,605.7 254.5,605.8 255,605.8 255.5,605.7 256,606 256.5,606.1 257,606 257.5,606.1 258,605.6 258.5,606 259,605.9 259.5,605.7 260,605.9 260.5,605.6 261,605.6 261.5,605.9 262,605.7 262.5,605.6 263,605.5 263.5,605.7 264,605.8 264.5,606.1 265,605.7 265.5,605.7 266,605.7 266.5,605.9 267,605.6 267.5,605.7 268,605.9 268.5,606 269,606.1 269.5,605.7 270,605.9 270.5,605.6 271,605.9 271.5,605.9 272,605.6 272.5,605.9 273,605.5 273.5,605.8 274,605.5 274.5,606 275,606.1 275.5,606.1 276,605.6 276.5,605.8 277,605.7 277.5,605.8 278,605.5 278.5,605.6 279,605.8 279.5,606 280,605.9 280.5,605.9 281,605.9 281.5,605.7 282,605.6 282.5,605.6 283,606 283.5,606 284,605.7 284.5,605.7 285,605.6 285.5,605.6 286,605.9 286.5,606.1 287,605.9 287.5,605.9 288,606 288.5,605.7 289,605.8 289.5,605.7 290,605.6 290.5,605.8 291,605.6 291.5,605.6 292,605.8 292.5,605.7 293,605.8 293.5,605.9 294,605.7 294.5,605.7 295,605.9 295.5,605.7 296,605.8 296.5,606 297,605.7 297.5,605.8 298,605.5 298.5,605.6 299,606 299.5,605.9 300,605.7 300.5,606 301,605.6 301.5,605.7 302,605.5 302.5,605.9 303,605.7 303.5,605.7 304,605.7 304.5,605.5 305,605.9 305.5,606 306,605.6 306.5,606 307,605.8 307.5,605.5 308,605.6 308.5,605.7 309,606.1 309.5,605.5 310,605.8 310.5,605.9 311,606.1 311.5,606 312,606.1 312.5,605.8 313,605.9 313.5,605.9 314,605.6 314.5,606.1 315,605.8 315.5,605.6 316,605.6 316.5,605.7 317,605.8 317.5,606 318,605.9 318.5,605.7 319,605.6 319.5,605.7 320,605.6 320.5,605.8 321,605.6 321.5,605.6 322,606 322.5,606 323,605.5 323.5,605.9 324,605.8 324.5,605.8 325,605.6 325.5,606.1 326,605.8 326.5,605.8 327,606 327.5,605.8 328,605.6 328.5,606.1 329,605.9 329.5,605.7 330,605.8 330.5,605.6 331,605.9 331.5,606 332,605.9 332.5,605.6 333,605.8 333.5,605.9 334,605.6 334.5,605.7 335,606 335.5,605.9 336,605.6 336.5,606.1 337,605.6 337.5,605.9 338,605.7 338.5,606 339,605.7 339.5,605.6 340,606.1 340.5,605.5 341,606 341.5,606.1 342,605.6 342.5,605.8 343,606.1 343.5,605.7 344,605.8 344.5,605.5 345,605.5 345.5,605.6 346,605.8 346.5,605.6 347,605.7 347.5,605.9 348,605.7 348.5,605.9 349,605.8 349.5,606.1 350,606 350.5,605.8 351,605.6 351.5,605.6 352,606 352.5,605.8 353,605.9 353.5,606 354,605.9 354.5,605.7 355,605.5 355.5,606 356,605.9 356.5,605.7 357,605.8 357.5,605.9 358,605.6 358.5,606.1 359,605.5 359.5,605.9 360,605.6 360.5,605.6 361,605.6 361.5,605.7 362,605.7 362.5,606.1 363,605.8 363.5,605.7 364,605.9 364.5,605.7 365,605.8 365.5,605.7 366,605.6 366.5,605.9 367,605.7 367.5,606.1 368,605.6 368.5,605.6 369,605.7 369.5,605.7 370,605.8 370.5,605.9 371,605.6 371.5,606 372,605.8 372.5,606 373,605.7 373.5,605.8 374,605.7 374.5,606 375,605.9 375.5,605.7 376,605.8 376.5,605.7 377,606 377.5,605.9 378,606 378.5,605.7 379,605.9 379.5,605.7 380,605.6 380.5,606.1 381,605.7 381.5,605.6 382,605.6 382.5,606 383,606 383.5,605.8 384,605.6 384.5,606 385,605.5 385.5,605.7 386,606.1 386.5,605.7 387,605.8 387.5,606 388,605.7 388.5,605.7 389,605.7 389.5,605.9 390,606 390.5,606.1 391,606 391.5,605.9 392,605.9 392.5,606.1 393,605.6 393.5,606 394,606.1 394.5,606 395,605.8 395.5,605.7 396,606.1 396.5,606 397,606.1 397.5,605.9 398,605.5 398.5,605.6 399,605.6 399.5,605.6 400,606 400.5,605.7 401,605.8 401.5,605.9 402,605.6 402.5,605.8 403,605.7 403.5,605.9 404,605.5 404.5,605.7 405,605.7 405.5,605.6 406,605.6 406.5,606 407,605.9 407.5,605.5 408,605.7 408.5,605.6 409,605.9 409.5,605.5 410,605.8 410.5,605.6 411,605.6 411.5,605.8 412,605.8 412.5,605.8 413,606 413.5,606.1 414,605.5 414.5,605.7 415,606 415.5,605.7 416,606 416.5,605.6 417,605.9 417.5,606.1 418,605.7 418.5,605.5 419,605.7 419.5,605.5 420,606 420.5,605.9 421,605.6 421.5,605.8 422,606 422.5,605.9 423,605.9 423.5,605.7 424,605.6 424.5,605.7 425,605.7 425.5,605.7 426,605.5 426.5,605.9 427,605.9 427.5,605.5 428,605.6 428.5,605.7 429,605.6 429.5,605.7 430,605.9 430.5,605.8 431,606 431.5,606 432,605.9 432.5,605.6 433,606 433.5,606.1 434,606 434.5,605.6 435,605.6 435.5,605.9 436,605.5 436.5,605.8 437,605.7 437.5,605.7 438,605.8 438.5,605.6 439,605.6 439.5,605.8 440,605.9 440.5,605.5 441,605.7 441.5,605.9 442,606 442.5,605.9 443,605.8 443.5,605.6 444,605.7 444.5,605.8 445,605.6 445.5,605.7 446,605.6 446.5,606.1 447,606.1 447.5,605.6 448,605.7 448.5,605.9 449,606 449.5,606.1 450,605.9 450.5,605.6 451,606 451.5,606 452,605.6 452.5,606 453,606 453.5,605.7 454,605.6 454.5,605.5 455,606.1 455.5,605.9 456,605.7 456.5,605.9 457,605.7 457.5,606 458,605.7 458.5,606 459,606 459.5,605.6 460,605.7 460.5,605.8 461,605.9 461.5,605.7 462,605.5 462.5,605.9 463,606.1 463.5,605.9 464,605.6 464.5,605.9 465,605.6 465.5,606 466,605.7 466.5,605.9 467,605.8 467.5,605.9 468,605.7 468.5,605.7 469,605.7 469.5,605.8 470,606.1 470.5,605.6 471,606 471.5,605.9 472,605.6 472.5,605.5 473,605.7 473.5,606 474,605.5 474.5,606.1 475,606.1 475.5,605.7 476,605.5 476.5,605.7 477,605.6 477.5,605.7 478,606 478.5,605.7 479,605.6 479.5,605.8 480,605.7 480.5,605.8 481,606 481.5,605.6 482,606 482.5,606 483,606 483.5,605.9 484,605.9 484.5,606 485,606 485.5,605.8 486,606.1 486.5,605.8 487,606 487.5,606 488,606 488.5,605.6 489,605.6 489.5,605.5 490,605.6 490.5,605.8 491,605.9 491.5,605.7 492,605.7 492.5,605.5 493,605.9 493.5,605.6 494,605.5 494.5,605.5 495,605.7 495.5,605.7 496,605.5 496.5,605.9 497,605.6 497.5,606.1 498,606 498.5,605.8 499,605.7 499.5,606 500,605.6 500.5,605.8 501,606 501.5,606.1 502,605.9 502.5,605.6 503,605.5 503.5,605.6 504,606 504.5,605.6 505,606 505.5,605.9 506,605.7 506.5,605.9 507,605.9 507.5,605.8 508,605.6 508.5,605.8 509,606 509.5,605.9 510,605.7 510.5,605.8 511,605.5 511.5,605.8 512,605.6 512.5,605.6 513,605.8 513.5,605.8 514,605.8 514.5,606 515,606 515.5,606 516,606 516.5,606.1 517,605.9 517.5,606 518,605.5 518.5,605.9 519,606.1 519.5,605.7 520,605.7 520.5,605.5 521,606 521.5,605.9 522,605.7 522.5,605.7 523,605.7 523.5,605.5 524,605.5 524.5,606.1 525,605.9 525.5,605.5 526,606.1 526.5,605.9 527,605.6 527.5,606.1 528,605.7 528.5,605.5 529,605.8 529.5,606.1 530,606 530.5,605.9 531,606.1 531.5,605.7 532,605.9 532.5,605.9 533,605.6 533,609.6 532.5,609.3 532,609.3 531.5,609.5 531,609.1 530.5,609.3 530,609.2 529.5,609.1 529,609.4 528.5,609.7 528,609.5 527.5,609.1 527,609.6 526.5,609.3 526,609.1 525.5,609.7 525,609.3 524.5,609.1 524,609.7 523.5,609.7 523,609.5 522.5,609.5 522,609.5 521.5,609.3 521,609.2 520.5,609.7 520,609.5 519.5,609.5 519,609.1 518.5,609.3 518,609.7 517.5,609.2 517,609.3 516.5,609.1 516,609.2 515.5,609.2 515,609.2 514.5,609.2 514,609.4 513.5,609.4 513,609.4 512.5,609.6 512,609.6 511.5,609.4 511,609.7 510.5,609.4 510,609.5 509.5,609.3 509,609.2 508.5,609.4 508,609.6 507.5,609.4 507,609.3 506.5,609.3 506,609.5 505.5,609.3 505,609.2 504.5,609.6 504,609.2 503.5,609.6 503,609.7 502.5,609.6 502,609.3 501.5,609.1 501,609.2 500.5,609.4 500,609.6 499.5,609.2 499,609.5 498.5,609.4 498,609.2 497.5,609.1 497,609.6 496.5,609.3 496,609.7 495.5,609.5 495,609.5 494.5,609.7 494,609.7 493.5,609.6 493,609.3 492.5,609.7 492,609.5 491.5,609.5 491,609.3 490.5,609.4 490,609.6 489.5,609.7 489,609.6 488.5,609.6 488,609.2 487.5,609.2 487,609.2 486.5,609.4 486,609.1 485.5,609.4 485,609.2 484.5,609.2 484,609.3 483.5,609.3 483,609.2 482.5,609.2 482,609.2 481.5,609.6 481,609.2 480.5,609.4 480,609.5 479.5,609.4 479,609.6 478.5,609.5 478,609.2 477.5,609.5 477,609.6 476.5,609.5 476,609.7 475.5,609.5 475,609.1 474.5,609.1 474,609.7 473.5,609.2 473,609.5 472.5,609.7 472,609.6 471.5,609.3 471,609.2 470.5,609.6 470,609.1 469.5,609.4 469,609.5 468.5,609.5 468,609.5 467.5,609.3 467,609.4 466.5,609.3 466,609.5 465.5,609.2 465,609.6 464.5,609.3 464,609.6 463.5,609.3 463,609.1 462.5,609.3 462,609.7 461.5,609.5 461,609.3 460.5,609.4 460,609.5 459.5,609.6 459,609.2 458.5,609.2 458,609.5 457.5,609.2 457,609.5 456.5,609.3 456,609.5 455.5,609.3 455,609.1 454.5,609.7 454,609.6 453.5,609.5 453,609.2 452.5,609.2 452,609.6 451.5,609.2 451,609.2 450.5,609.6 450,609.3 449.5,609.1 449,609.2 448.5,609.3 448,609.5 447.5,609.6 447,609.1 446.5,609.1 446,609.6 445.5,609.5 445,609.6 444.5,609.4 444,609.5 443.5,609.6 443,609.4 442.5,609.3 442,609.2 441.5,609.3 441,609.5 440.5,609.7 440,609.3 439.5,609.4 439,609.6 438.5,609.6 438,609.4 437.5,609.5 437,609.5 436.5,609.4 436,609.7 435.5,609.3 435,609.6 434.5,609.6 434,609.2 433.5,609.1 433,609.2 432.5,609.6 432,609.3 431.5,609.2 431,609.2 430.5,609.4 430,609.3 429.5,609.5 429,609.6 428.5,609.5 428,609.6 427.5,609.7 427,609.3 426.5,609.3 426,609.7 425.5,609.5 425,609.5 424.5,609.5 424,609.6 423.5,609.5 423,609.3 422.5,609.3 422,609.2 421.5,609.4 421,609.6 420.5,609.3 420,609.2 419.5,609.7 419,609.5 418.5,609.7 418,609.5 417.5,609.1 417,609.3 416.5,609.6 416,609.2 415.5,609.5 415,609.2 414.5,609.5 414,609.7 413.5,609.1 413,609.2 412.5,609.4 412,609.4 411.5,609.4 411,609.6 410.5,609.6 410,609.4 409.5,609.7 409,609.3 408.5,609.6 408,609.5 407.5,609.7 407,609.3 406.5,609.2 406,609.6 405.5,609.6 405,609.5 404.5,609.5 404,609.7 403.5,609.3 403,609.5 402.5,609.4 402,609.6 401.5,609.3 401,609.4 400.5,609.5 400,609.2 399.5,609.6 399,609.6 398.5,609.6 398,609.7 397.5,609.3 397,609.1 396.5,609.2 396,609.1 395.5,609.5 395,609.4 394.5,609.2 394,609.1 393.5,609.2 393,609.6 392.5,609.1 392,609.3 391.5,609.3 391,609.2 390.5,609.1 390,609.2 389.5,609.3 389,609.5 388.5,609.5 388,609.5 387.5,609.2 387,609.4 386.5,609.5 386,609.1 385.5,609.5 385,609.7 384.5,609.2 384,609.6 383.5,609.4 383,609.2 382.5,609.2 382,609.6 381.5,609.6 381,609.5 380.5,609.1 380,609.6 379.5,609.5 379,609.3 378.5,609.5 378,609.2 377.5,609.3 377,609.2 376.5,609.5 376,609.4 375.5,609.5 375,609.3 374.5,609.2 374,609.5 373.5,609.4 373,609.5 372.5,609.2 372,609.4 371.5,609.2 371,609.6 370.5,609.3 370,609.4 369.5,609.5 369,609.5 368.5,609.6 368,609.6 367.5,609.1 367,609.5 366.5,609.3 366,609.6 365.5,609.5 365,609.4 364.5,609.5 364,609.3 363.5,609.5 363,609.4 362.5,609.1 362,609.5 361.5,609.5 361,609.6 360.5,609.6 360,609.6 359.5,609.3 359,609.7 358.5,609.1 358,609.6 357.5,609.3 357,609.4 356.5,609.5 356,609.3 355.5,609.2 355,609.7 354.5,609.5 354,609.3 353.5,609.2 353,609.3 352.5,609.4 352,609.2 351.5,609.6 351,609.6 350.5,609.4 350,609.2 349.5,609.1 349,609.4 348.5,609.3 348,609.5 347.5,609.3 347,609.5 346.5,609.6 346,609.4 345.5,609.6 345,609.7 344.5,609.7 344,609.4 343.5,609.5 343,609.1 342.5,609.4 342,609.6 341.5,609.1 341,609.2 340.5,609.7 340,609.1 339.5,609.6 339,609.5 338.5,609.2 338,609.5 337.5,609.3 337,609.6 336.5,609.1 336,609.6 335.5,609.3 335,609.2 334.5,609.5 334,609.6 333.5,609.3 333,609.4 332.5,609.6 332,609.3 331.5,609.2 331,609.3 330.5,609.6 330,609.4 329.5,609.5 329,609.3 328.5,609.1 328,609.6 327.5,609.4 327,609.2 326.5,609.4 326,609.4 325.5,609.1 325,609.6 324.5,609.4 324,609.4 323.5,609.3 323,609.7 322.5,609.2 322,609.2 321.5,609.6 321,609.6 320.5,609.4 320,609.6 319.5,609.5 319,609.6 318.5,609.5 318,609.3 317.5,609.2 317,609.4 316.5,609.5 316,609.6 315.5,609.6 315,609.4 314.5,609.1 314,609.6 313.5,609.3 313,609.3 312.5,609.4 312,609.1 311.5,609.2 311,609.1 310.5,609.3 310,609.4 309.5,609.7 309,609.1 308.5,609.5 308,609.6 307.5,609.7 307,609.4 306.5,609.2 306,609.6 305.5,609.2 305,609.3 304.5,609.7 304,609.5 303.5,609.5 303,609.5 302.5,609.3 302,609.7 301.5,609.5 301,609.6 300.5,609.2 300,609.5 299.5,609.3 299,609.2 298.5,609.6 298,609.7 297.5,609.4 297,609.5 296.5,609.2 296,609.4 295.5,609.5 295,609.3 294.5,609.5 294,609.5 293.5,609.3 293,609.4 292.5,609.5 292,609.4 291.5,609.6 291,609.6 290.5,609.4 290,609.6 289.5,609.5 289,609.4 288.5,609.5 288,609.2 287.5,609.3 287,609.3 286.5,609.1 286,609.3 285.5,609.6 285,609.6 284.5,609.5 284,609.5 283.5,609.2 283,609.2 282.5,609.6 282,609.6 281.5,609.5 281,609.3 280.5,609.3 280,609.3 279.5,609.2 279,609.4 278.5,609.6 278,609.7 277.5,609.4 277,609.5 276.5,609.4 276,609.6 275.5,609.1 275,609.1 274.5,609.2 274,609.7 273.5,609.4 273,609.7 272.5,609.3 272,609.6 271.5,609.3 271,609.3 270.5,609.6 270,609.3 269.5,609.5 269,609.1 268.5,609.2 268,609.3 267.5,609.5 267,609.6 266.5,609.3 266,609.5 265.5,609.5 265,609.5 264.5,609.1 264,609.4 263.5,609.5 263,609.7 262.5,609.6 262,609.5 261.5,609.3 261,609.6 260.5,609.6 260,609.3 259.5,609.5 259,609.3 258.5,609.2 258,609.6 257.5,609.1 257,609.2 256.5,609.1 256,609.2 255.5,609.5 255,609.4 254.5,609.4 254,609.5 253.5,609.2 253,609.4 252.5,609.3 252,609.5 251.5,609.6 251,609.6 250.5,609.1 250,609.6 249.5,609.5 249,609.4 248.5,609.5 248,609.2 247.5,609.7 247,609.6 246.5,609.6 246,609.1 245.5,609.5 245,609.5 244.5,609.3 244,609.2 243.5,609.3 243,609.2 242.5,609.2 242,609.2 241.5,609.4 241,609.2 240.5,609.4 240,609.7 239.5,609.6 239,609.7 238.5,609.4 238,609.2 237.5,609.5 237,609.6 236.5,609.2 236,609.2 235.5,609.7 235,609.6 234.5,609.6 234,609.3 233.5,609.2 233,609.1 232.5,609.3 232,609.2 231.5,609.2 231,609.1 230.5,609.3 230,609.4 229.5,609.6 229,609.2 228.5,609.1 228,609.4 227.5,609.2 227,609.3 226.5,609.5 226,609.1 225.5,609.6 225,609.3 224.5,609.6 224,609.2 223.5,609.5 223,609.3 222.5,609.2 222,609.4 221.5,609.6 221,609.4 220.5,609.5 220,609.3 219.5,609.4 219,609.2 218.5,609.5 218,609.2 217.5,609.2 217,609 216.5,609.3 216,609.3 215.5,609.2 215,609 214.5,609 214,609.1 213.5,609 213,609.5 212.5,609.3 212,609.1 211.5,609 211,609.5 210.5,608.9 210,609.3 209.5,609.5 209,609.2 208.5,609.5 208,609.3 207.5,609 207,609.1 206.5,609.3 206,609.2 205.5,609.4 205,609 204.5,609.5 204,609.4 203.5,609.3 203,609.1 202.5,609.5 202,608.9 201.5,609.2 201,609.2 200.5,609.1 200,609 199.5,608.9 199,609.2 198.5,609.3 198,608.9 197.5,609.4 197,608.9 196.5,609.4 196,609.2 195.5,609.4 195,609 194.5,609 194,609.3 193.5,609.1 193,609.2 192.5,609.1 192,609.1 191.5,609.2 191,608.9 190.5,609 190,609.1 189.5,609.3 189,609.4 188.5,609.1 188,609 187.5,608.8 187,609.2 186.5,609 186,609.1 185.5,608.9 185,608.8 184.5,608.9 184,609.3 183.5,608.9 183,609.1 182.5,608.9 182,609.1 181.5,609 181,609 180.5,608.8 180,609 179.5,608.9 179,609.1 178.5,608.8 178,609.2 177.5,608.9 177,609.2 176.5,609.2 176,608.8 175.5,608.7 175,609.1 174.5,609.1 174,609.2 173.5,608.8 173,608.9 172.5,609.2 172,609.1 171.5,609.2 171,608.7 170.5,608.9 170,609 169.5,609.1 169,609 168.5,608.8 168,609.2 167.5,609.2 167,609.2 166.5,609.2 166,609 165.5,608.6 165,608.9 164.5,609.1 164,608.7 163.5,608.8 163,608.8 162.5,609 162,609.1 161.5,609.1 161,609 160.5,609 160,609 159.5,609.1 159,608.9 158.5,609.1 158,608.8 157.5,608.9 157,608.9 156.5,608.9 156,609.1 155.5,609.1 155,608.6 154.5,608.7 154,608.7 153.5,609.1 153,608.6 152.5,608.8 152,608.9 151.5,608.8 151,609.1 150.5,609.1 150,608.8 149.5,608.7 149,608.9 148.5,609.1 148,608.7 147.5,608.7 147,608.8 146.5,608.5 146,609 145.5,608.8 145,608.6 144.5,608.5 144,608.7 143.5,608.8 143,608.5 142.5,608.8 142,608.7 141.5,608.5 141,608.7 140.5,608.6 140,608.8 139.5,608.8 139,608.9 138.5,608.6 138,608.5 137.5,608.5 137,608.8 136.5,608.5 136,608.5 135.5,608.7 135,608.7 134.5,608.5 134,608.6 133.5,608.5 133,608.7 132.5,608.8 132,608.9 131.5,608.9 131,609 130.5,608.5 130,608.5 129.5,608.8 129,608.7 128.5,608.5 128,608.8 127.5,608.6 127,608.5 126.5,608.7 126,608.5 125.5,608.6 125,609 124.5,608.7 124,608.5 123.5,608.5 123,608.8 122.5,608.8 122,608.8 121.5,608.5 121,608.9 120.5,608.4 120,608.5 119.5,608.6 119,608.5 118.5,608.5 118,608.8 117.5,608.9 117,608.4 116.5,608.3 116,608.7 115.5,608.5 115,608.6 114.5,608.4 114,608.8 113.5,608.6 113,608.7 112.5,608.3 112,608.8 111.5,608.6 111,608.7 110.5,608.6 110,608.7 109.5,608.3 109,608.5Z" fill="#ff8080"/>
<path d="M532.7,604 533.2,602 533.7,600 534.2,598 534.7,596 535.2,594 535.7,592 536.2,591 536.7,593.6 537.2,590.9 537.7,592.6 538.2,593.2 538.7,594 539.2,591.5 539.7,593.5 540.2,592.4 540.7,592.6 541.2,591 541.7,593.5 542.2,590.3 542.7,594 543.2,592.3 543.7,592.3 544.2,590.7 544.7,592.7 545.2,590.6 545.7,593.3 546.2,593 546.7,590.7 547.2,593.2 547.7,592.5 548.2,591.2 548.7,592.7 549.2,592.8 549.7,592 550.2,592.8 550.7,593.2 551.2,593.6 551.7,593.3 552.2,590.4 552.7,593.4 553.2,593.8 553.7,591.9 554.2,593.6 554.7,590.9 554.7,624.2 554.2,622.1 553.7,622 553.2,625 552.7,623.1 552.2,622.9 551.7,624.9 551.2,621.9 550.7,625.1 550.2,623.9 549.7,623.7 549.2,623.6 548.7,625.4 548.2,625 547.7,622 547.2,624.9 546.7,622.8 546.2,624.4 545.7,622 545.2,625.1 544.7,624.8 544.2,624.9 543.7,623 543.2,624.8 542.7,621.8 542.2,624.4 541.7,625 541.2,622.6 540.7,624.1 540.2,625.1 539.7,623.8 539.2,624.2 538.7,625 538.2,621.8 537.7,621.6 537.2,623.4 536.7,623.5 536.2,623 535.7,622 535.2,621 534.7,619 534.2,617 533.7,615 533.2,613 532.7,611Z" fill="#ff8080"/>
<text x="16" y="637.4" font-size="10.4" fill="#ff8080" stroke="#ff8080" stroke-width="0.22" textLength="23.6" lengthAdjust="spacingAndGlyphs" >Axon,</text>
<text x="49.7" y="637.4" font-size="10.4" fill="#ff8080" stroke="#ff8080" stroke-width="0.22" textLength="28.1" lengthAdjust="spacingAndGlyphs" >filtered</text>
<line x1="48.9" y1="236.7" x2="48.9" y2="648.5" stroke="#5a5a5a" stroke-width="0.9" stroke-dasharray="1.8 1.2"/>
<line x1="184.1" y1="236.7" x2="184.1" y2="648.5" stroke="#5a5a5a" stroke-width="0.9" stroke-dasharray="1.8 1.2"/>
<line x1="522.6" y1="236.7" x2="522.6" y2="648.5" stroke="#5a5a5a" stroke-width="0.9" stroke-dasharray="1.8 1.2"/>
</svg>
</body></html>
